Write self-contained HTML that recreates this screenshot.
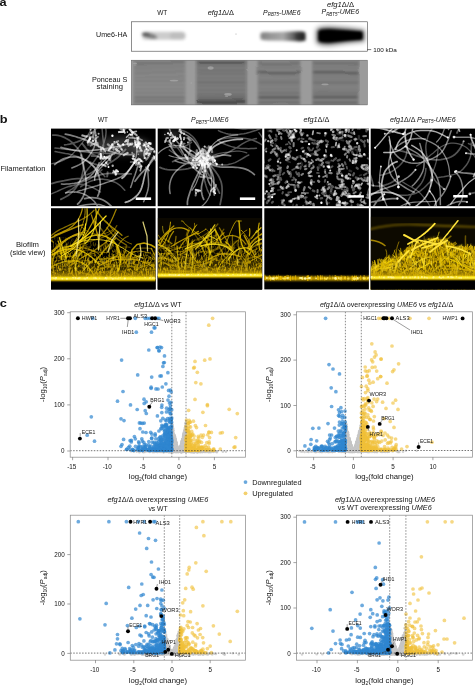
<!DOCTYPE html>
<html><head><meta charset="utf-8"><title>Figure</title>
<style>html,body{margin:0;padding:0;background:#fff;overflow:hidden}svg{display:block}text{font-family:"Liberation Sans",sans-serif;fill:#141414}</style></head>
<body>
<svg width="475" height="685" viewBox="0 0 475 685">
<rect width="475" height="685" fill="#fff"/>
<g id="panelA">
<defs>
<filter id="ab1" x="-30%" y="-80%" width="160%" height="260%"><feGaussianBlur stdDeviation="1.0"/></filter>
<filter id="ab2" x="-30%" y="-80%" width="160%" height="260%"><feGaussianBlur stdDeviation="1.8"/></filter>
<filter id="ab3" x="-30%" y="-80%" width="160%" height="260%"><feGaussianBlur stdDeviation="0.6"/></filter>
<filter id="ab4" x="-30%" y="-80%" width="160%" height="260%"><feGaussianBlur stdDeviation="2.6"/></filter>
<filter id="ab5" x="-30%" y="-80%" width="160%" height="260%"><feGaussianBlur stdDeviation="0.8"/></filter>
<filter id="ab6" x="-30%" y="-80%" width="160%" height="260%"><feGaussianBlur stdDeviation="1.4"/></filter>
<filter id="ab7" x="-10%" y="-150%" width="120%" height="400%"><feGaussianBlur stdDeviation="1.6 0.9"/></filter>
<filter id="abw" x="0" y="0" width="100%" height="100%"><feTurbulence type="fractalNoise" baseFrequency="0.02 0.035" numOctaves="1" seed="7" result="n"/><feDisplacementMap in="SourceGraphic" in2="n" scale="3.2" xChannelSelector="R" yChannelSelector="G"/></filter>
<clipPath id="clipBlot"><rect x="131.5" y="21.8" width="235.8" height="29.4"/></clipPath>
<clipPath id="clipPon"><rect x="131.3" y="60.2" width="236.0" height="44.7"/></clipPath>
</defs>
<rect x="131.5" y="21.8" width="235.8" height="29.4" fill="#fff"/>
<g clip-path="url(#clipBlot)">
<rect x="142" y="31.8" width="43.5" height="8" rx="3.5" fill="#000" fill-opacity="0.2" filter="url(#ab2)"/>
<ellipse cx="149.5" cy="35.6" rx="8" ry="2.3" transform="rotate(14 149.5 35.6)" fill="#000" fill-opacity="0.42" filter="url(#ab6)"/>
<ellipse cx="146" cy="34.4" rx="3.6" ry="1.8" fill="#000" fill-opacity="0.22" filter="url(#ab1)"/>
<rect x="170" y="32.2" width="15" height="7" rx="3" fill="#000" fill-opacity="0.07" filter="url(#ab2)"/>
<circle cx="236" cy="34" r="0.5" fill="#999" filter="url(#ab3)"/>
<linearGradient id="gb3" x1="0" y1="0" x2="1" y2="0"><stop offset="0" stop-color="#000" stop-opacity="0.5"/><stop offset="0.2" stop-color="#000" stop-opacity="0.42"/><stop offset="0.5" stop-color="#000" stop-opacity="0.34"/><stop offset="0.8" stop-color="#000" stop-opacity="0.7"/><stop offset="1" stop-color="#000" stop-opacity="0.85"/></linearGradient>
<path d="M260.5 33.4 Q262 31.8 270 32.2 L292 31.6 Q303 30.8 305.4 32.6 L305.6 40.6 Q303 42 292 41 L270 40.4 Q262 40.6 260.5 39Z" fill="url(#gb3)" filter="url(#ab2)"/>
<ellipse cx="300" cy="36.6" rx="5" ry="3.4" fill="#000" fill-opacity="0.25" filter="url(#ab6)"/>
<path d="M316 30 Q318 26.4 330 26.6 Q348 27.6 364.5 29.8 L364.8 41.6 Q348 43 332 45.2 Q318 46.2 316 42Z" fill="#000" fill-opacity="0.55" filter="url(#ab4)"/>
<path d="M318.2 31.2 Q320 28.6 330 29 Q348 30.2 362.6 31.6 L362.8 39.6 Q348 40.8 332 42.6 Q320 43.6 318.2 40.6Z" fill="#000" filter="url(#ab6)"/>
<path d="M320 32.6 Q330 31 348 32.2 L361 33.2 L361 38.2 Q348 39.2 332 40.4 Q322 41 320 39.4Z" fill="#000" filter="url(#ab1)"/>
</g>
<rect x="131.5" y="21.8" width="235.8" height="29.4" fill="none" stroke="#444" stroke-width="0.6"/>
<line x1="367.3" y1="49.6" x2="371.2" y2="49.6" stroke="#222" stroke-width="0.6"/>
<rect x="131.3" y="60.2" width="236.0" height="44.7" fill="#9b9b9b"/>
<g clip-path="url(#clipPon)"><g filter="url(#abw)">
<rect x="133.1" y="57.2" width="52.7" height="50.7" fill="#1c1c1c" fill-opacity="0.10" filter="url(#ab1)"/>
<rect x="196.0" y="57.2" width="50.8" height="50.7" fill="#1c1c1c" fill-opacity="0.23" filter="url(#ab1)"/>
<rect x="257.4" y="57.2" width="43.2" height="50.7" fill="#1c1c1c" fill-opacity="0.14" filter="url(#ab1)"/>
<rect x="312.0" y="57.2" width="47.8" height="50.7" fill="#1c1c1c" fill-opacity="0.15" filter="url(#ab1)"/>
<rect x="134.3" y="61.99" width="50.3" height="2.32" fill="#0a0a0a" fill-opacity="0.21" filter="url(#ab7)"/><rect x="134.3" y="66.12" width="50.3" height="1.89" fill="#0a0a0a" fill-opacity="0.13" filter="url(#ab7)"/><rect x="134.3" y="69.38" width="50.3" height="1.74" fill="#0a0a0a" fill-opacity="0.10" filter="url(#ab7)"/><rect x="134.3" y="71.96" width="50.3" height="2.03" fill="#0a0a0a" fill-opacity="0.10" filter="url(#ab7)"/><rect x="134.3" y="76.22" width="50.3" height="1.74" fill="#0a0a0a" fill-opacity="0.11" filter="url(#ab7)"/><rect x="134.3" y="79.75" width="50.3" height="2.03" fill="#0a0a0a" fill-opacity="0.10" filter="url(#ab7)"/><rect x="134.3" y="83.98" width="50.3" height="1.74" fill="#0a0a0a" fill-opacity="0.08" filter="url(#ab7)"/><rect x="134.3" y="88.17" width="50.3" height="1.74" fill="#0a0a0a" fill-opacity="0.09" filter="url(#ab7)"/><rect x="134.3" y="91.82" width="50.3" height="2.03" fill="#0a0a0a" fill-opacity="0.10" filter="url(#ab7)"/><rect x="134.3" y="96.14" width="50.3" height="2.61" fill="#0a0a0a" fill-opacity="0.17" filter="url(#ab7)"/><rect x="134.3" y="99.99" width="50.3" height="2.61" fill="#0a0a0a" fill-opacity="0.16" filter="url(#ab7)"/>
<rect x="197.2" y="61.28" width="48.4" height="2.61" fill="#0a0a0a" fill-opacity="0.31" filter="url(#ab7)"/><rect x="197.2" y="65.33" width="48.4" height="1.89" fill="#0a0a0a" fill-opacity="0.15" filter="url(#ab7)"/><rect x="197.2" y="69.21" width="48.4" height="2.03" fill="#0a0a0a" fill-opacity="0.15" filter="url(#ab7)"/><rect x="197.2" y="72.81" width="48.4" height="2.03" fill="#0a0a0a" fill-opacity="0.14" filter="url(#ab7)"/><rect x="197.2" y="77.35" width="48.4" height="1.74" fill="#0a0a0a" fill-opacity="0.12" filter="url(#ab7)"/><rect x="197.2" y="81.12" width="48.4" height="2.32" fill="#0a0a0a" fill-opacity="0.17" filter="url(#ab7)"/><rect x="197.2" y="85.24" width="48.4" height="1.74" fill="#0a0a0a" fill-opacity="0.11" filter="url(#ab7)"/><rect x="197.2" y="89.25" width="48.4" height="2.03" fill="#0a0a0a" fill-opacity="0.13" filter="url(#ab7)"/><rect x="197.2" y="93.26" width="48.4" height="2.03" fill="#0a0a0a" fill-opacity="0.17" filter="url(#ab7)"/><rect x="197.2" y="96.22" width="48.4" height="2.32" fill="#0a0a0a" fill-opacity="0.24" filter="url(#ab7)"/><rect x="197.2" y="99.51" width="48.4" height="3.77" fill="#0a0a0a" fill-opacity="0.38" filter="url(#ab7)"/>
<rect x="258.6" y="62.08" width="40.8" height="2.32" fill="#0a0a0a" fill-opacity="0.19" filter="url(#ab7)"/><rect x="258.6" y="66.19" width="40.8" height="1.74" fill="#0a0a0a" fill-opacity="0.10" filter="url(#ab7)"/><rect x="258.6" y="70.66" width="40.8" height="2.90" fill="#0a0a0a" fill-opacity="0.28" filter="url(#ab7)"/><rect x="258.6" y="75.02" width="40.8" height="1.74" fill="#0a0a0a" fill-opacity="0.08" filter="url(#ab7)"/><rect x="258.6" y="78.62" width="40.8" height="1.74" fill="#0a0a0a" fill-opacity="0.09" filter="url(#ab7)"/><rect x="258.6" y="81.33" width="40.8" height="2.32" fill="#0a0a0a" fill-opacity="0.15" filter="url(#ab7)"/><rect x="258.6" y="84.86" width="40.8" height="1.74" fill="#0a0a0a" fill-opacity="0.08" filter="url(#ab7)"/><rect x="258.6" y="88.34" width="40.8" height="1.74" fill="#0a0a0a" fill-opacity="0.10" filter="url(#ab7)"/><rect x="258.6" y="91.92" width="40.8" height="2.17" fill="#0a0a0a" fill-opacity="0.17" filter="url(#ab7)"/><rect x="258.6" y="95.78" width="40.8" height="3.19" fill="#0a0a0a" fill-opacity="0.28" filter="url(#ab7)"/><rect x="258.6" y="101.04" width="40.8" height="2.61" fill="#0a0a0a" fill-opacity="0.19" filter="url(#ab7)"/>
<rect x="313.2" y="62.07" width="45.4" height="2.32" fill="#0a0a0a" fill-opacity="0.18" filter="url(#ab7)"/><rect x="313.2" y="66.40" width="45.4" height="1.74" fill="#0a0a0a" fill-opacity="0.10" filter="url(#ab7)"/><rect x="313.2" y="70.70" width="45.4" height="2.90" fill="#0a0a0a" fill-opacity="0.29" filter="url(#ab7)"/><rect x="313.2" y="75.40" width="45.4" height="1.74" fill="#0a0a0a" fill-opacity="0.10" filter="url(#ab7)"/><rect x="313.2" y="78.54" width="45.4" height="1.74" fill="#0a0a0a" fill-opacity="0.08" filter="url(#ab7)"/><rect x="313.2" y="81.51" width="45.4" height="2.32" fill="#0a0a0a" fill-opacity="0.16" filter="url(#ab7)"/><rect x="313.2" y="85.28" width="45.4" height="1.74" fill="#0a0a0a" fill-opacity="0.06" filter="url(#ab7)"/><rect x="313.2" y="88.85" width="45.4" height="1.74" fill="#0a0a0a" fill-opacity="0.09" filter="url(#ab7)"/><rect x="313.2" y="91.98" width="45.4" height="2.17" fill="#0a0a0a" fill-opacity="0.14" filter="url(#ab7)"/><rect x="313.2" y="95.51" width="45.4" height="3.19" fill="#0a0a0a" fill-opacity="0.28" filter="url(#ab7)"/><rect x="313.2" y="101.25" width="45.4" height="2.61" fill="#0a0a0a" fill-opacity="0.21" filter="url(#ab7)"/>
<ellipse cx="174.0" cy="80.6" rx="4.2" ry="0.9" fill="#a9a9a9" fill-opacity="0.75" filter="url(#ab3)"/><ellipse cx="210.6" cy="68.0" rx="3.0" ry="1.7" fill="#a9a9a9" fill-opacity="0.75" filter="url(#ab3)"/><ellipse cx="228.0" cy="94.4" rx="3.8" ry="1.4" fill="#a9a9a9" fill-opacity="0.75" filter="url(#ab3)"/><ellipse cx="325.0" cy="84.4" rx="3.6" ry="0.8" fill="#a9a9a9" fill-opacity="0.75" filter="url(#ab3)"/><ellipse cx="191.2" cy="83.0" rx="0.8" ry="0.8" fill="#a9a9a9" fill-opacity="0.75" filter="url(#ab3)"/><ellipse cx="135.0" cy="63.5" rx="2.0" ry="1.0" fill="#a9a9a9" fill-opacity="0.75" filter="url(#ab3)"/>
</g></g>
<rect x="131.3" y="60.2" width="236.0" height="44.7" fill="none" stroke="#5a5a5a" stroke-width="0.5"/>
</g>
<g id="panelB">
<defs>
<clipPath id="cf0"><rect x="51.0" y="128.6" width="104.6" height="77.6"/></clipPath><clipPath id="cb0"><rect x="51.0" y="208.2" width="104.6" height="81.2"/></clipPath>
<clipPath id="cf1"><rect x="157.7" y="128.6" width="104.5" height="77.6"/></clipPath><clipPath id="cb1"><rect x="157.7" y="208.2" width="104.5" height="81.2"/></clipPath>
<clipPath id="cf2"><rect x="264.3" y="128.6" width="104.6" height="77.6"/></clipPath><clipPath id="cb2"><rect x="264.3" y="208.2" width="104.6" height="81.2"/></clipPath>
<clipPath id="cf3"><rect x="370.7" y="128.6" width="104.3" height="77.6"/></clipPath><clipPath id="cb3"><rect x="370.7" y="208.2" width="104.3" height="81.2"/></clipPath>
<filter id="fb1" x="-20%" y="-20%" width="140%" height="140%"><feGaussianBlur stdDeviation="0.45"/></filter>
<filter id="fb2" x="-20%" y="-20%" width="140%" height="140%"><feGaussianBlur stdDeviation="0.80"/></filter>
<filter id="fb3" x="-20%" y="-20%" width="140%" height="140%"><feGaussianBlur stdDeviation="1.80"/></filter>
<filter id="fb4" x="-20%" y="-20%" width="140%" height="140%"><feGaussianBlur stdDeviation="3.50"/></filter>
<filter id="fb5" x="-20%" y="-20%" width="140%" height="140%"><feGaussianBlur stdDeviation="0.60"/></filter>
<filter id="fb6" x="-20%" y="-20%" width="140%" height="140%"><feGaussianBlur stdDeviation="0.70"/></filter>
<filter id="fbh" x="-5%" y="-200%" width="110%" height="500%"><feGaussianBlur stdDeviation="0.5 0.9"/></filter>
<linearGradient id="gband" x1="0" y1="0" x2="0" y2="1"><stop offset="0" stop-color="#b89400" stop-opacity="0"/><stop offset="0.5" stop-color="#c8a200" stop-opacity="0.75"/><stop offset="0.62" stop-color="#ffe81a"/><stop offset="0.72" stop-color="#fff04a"/><stop offset="0.8" stop-color="#e0bc00"/><stop offset="0.9" stop-color="#4a3c00" stop-opacity="0.9"/><stop offset="1" stop-color="#1a1400" stop-opacity="0"/></linearGradient>
<filter id="spk" x="0" y="0" width="100%" height="100%" color-interpolation-filters="sRGB"><feTurbulence type="fractalNoise" baseFrequency="0.75 0.28" numOctaves="2" seed="3" result="n"/><feColorMatrix in="n" type="matrix" values="0 0 0 0 0.84  0 0 0 0 0.68  0 0 0 0 0  0 0 0 4.2 -1.9" result="c"/><feComposite in="c" in2="SourceGraphic" operator="in"/></filter>
<linearGradient id="genv" x1="0" y1="0" x2="0" y2="1"><stop offset="0" stop-color="#fff" stop-opacity="0.15"/><stop offset="0.55" stop-color="#fff" stop-opacity="0.7"/><stop offset="1" stop-color="#fff" stop-opacity="1"/></linearGradient>
</defs>
<rect x="51.0" y="128.6" width="104.6" height="77.6" fill="#000"/>
<g clip-path="url(#cf0)">
<g fill="#fff" fill-opacity="0.2" filter="url(#fb4)"><ellipse cx="122" cy="146" rx="27" ry="9"/><ellipse cx="143" cy="151" rx="8" ry="9"/><ellipse cx="94" cy="141" rx="5" ry="5"/></g>
<g fill="none" stroke-linecap="round" stroke-linejoin="round" filter="url(#fb6)">
<path d="M51.7 183.6l2.5-.8 2.5-.7 2.5-.5 2.6-.5 2.5-.4 2.6-.6 2.5-.5 2.6-.4 2.6-.3 2.6-.3 2.6-.1 2.6-.1 2.6-.2 2.5-.3 2.6-.4 2.5-.6 2.6-.6 2.5-.7 2.5-.7 2.5-.7 2.5-.4 2.6-.3 2.6-.1 2.6 .1 2.6 .1 2.6 .2 2.6 0 2.6 0 2.6 .1 2.6 0 2.6 0M60.8 199.4l2.3-1.2 2.3-1.2 2.3-1.3 2.1-1.5 1.9-1.7 1.9-1.9 1.7-1.9 1.5-2.1 1.4-2.2 1.2-2.3 1.1-2.4 .9-2.4 .8-2.5 .5-2.5 .5-2.6 .3-2.6 0-2.6 -.1-2.6 -.4-2.6 -.7-2.5 -.9-2.4 -1.2-2.3 -1.4-2.2 -1.6-2 -1.8-1.9 -1.8-1.9 -1.8-1.9 -2-1.6 -2.2-1.4 -2.3-1.3 -2.4-1 -2.4-.9 -2.6-.6 -2.5-.3 -2.6 0M64.6 144.8l2.6-.3 2.5-.4 2.6-.7 2.5-.7 2.4-.8 2.4-1 2.3-1.2 2.3-1.3 2.2-1.4 2.1-1.5 2.1-1.6 1.9-1.7 1.9-1.8 1.8-1.9 1.7-1.9 1.6-2.1 1.5-2.1 1.3-2.3 1.2-2.3 1-2.4 .9-2.4 .7-2.5 .7-2.5 .4-2.6 .3-2.6 .1-2.6M125.6 149.4l-1.7 1.9 -1.9 1.8 -1.8 1.9 -1.8 1.8 -2 1.7 -2.1 1.5 -2.2 1.4 -2.2 1.4 -2.4 1.1 -2.5 .8 -2.5 .4 -2.6 .1 -2.6-.3 -2.5-.7 -2.4-1 -2.3-1.2M132.8 136.9l-.8-2 -.6-2.1M127.6 126.7l-1.5 1.7 -1.7 1.4" stroke="#fff" stroke-width="1.75" stroke-opacity="0.33"/>
<path d="M50.7 164l2.5-.6 2.5-.6 2.5-.7 2.5-.8 2.4-.9 2.4-1.1 2.3-1.3 2.1-1.5 1.9-1.8 1.8-1.8 1.7-2 1.8-1.9 1.7-1.9 1.6-2.1 1.7-2 1.5-2.1 1.5-2.1 1.6-2.1 1.4-2.1 1.4-2.2 1.2-2.3 1.1-2.4 1.2-2.3 1.3-2.3 1.3-2.2 1.1-2.4" stroke="#fff" stroke-width="1.25" stroke-opacity="0.33"/>
<path d="M87.1 174.8l2.3-1 2.3-1.3 2.1-1.6 1.9-1.7 1.8-1.9 1.5-2.1 1.4-2.2 1.1-2.4 .8-2.5 .6-2.5 .4-2.6 .1-2.6 .1-2.6 .1-2.6 -.1-2.6 -.3-2.5 -.3-2.6 -.3-2.6 -.2-2.6 -.2-2.6 -.2-2.6 -.4-2.6 -.3-2.5 -.4-2.6 -.5-2.6 -.6-2.5 -.8-2.5 -1-2.4 -1.2-2.3 -1.3-2.2 -1.5-2.1 -1.5-2.2M80.6 186.8l2.2-1.4 2.2-1.4 2.2-1.2 2.4-1.2 2.4-.9 2.5-.7 2.6-.5 2.5-.3 2.6-.1 2.6 .3 2.6 .4 2.5 .6 2.5 .8 2.4 1 2.3 1.2 2.2 1.5 2 1.6 1.8 1.9 1.7 1.9M47 195.2l2.4-.8 2.5-.8 2.4-1 2.4-1 2.4-1.1 2.3-1.1 2.4-1 2.4-1 2.5-.9 2.5-.7 2.5-.6 2.5-.5 2.6-.3 2.6-.1 2.6 .3 2.6 .5 2.4 .8 2.4 1 2.4 1.1 2.3 1.3 2.2 1.3 2.1 1.4M65.6 192.8l2.3-1.3 2.2-1.3 2.2-1.4 2.1-1.6 1.9-1.7 1.7-2 1.6-2.1 1.4-2.1 1.4-2.2 1.5-2.2 1.4-2.2 1.5-2.1 1.5-2.1 1.7-2 1.6-2 1.7-2 1.5-2.1 1.5-2.1 1.4-2.2 1.3-2.3 1.2-2.3 1.2-2.3 1-2.4 .9-2.4 .9-2.5 .7-2.5 .7-2.5 .3-2.6 .2-2.6 -.2-2.6 -.4-2.5 -.6-2.5 -.9-2.5 -1.2-2.3M55.1 151.6l2.6 .5 2.5 .4 2.6 .4 2.6 .5 2.5 .4 2.6 .6 2.5 .7 2.5 .8 2.4 .8 2.4 1 2.4 1.1 2.3 1.3 2.2 1.3 2.1 1.5 2.1 1.6 2 1.6 2 1.7 2 1.7 1.9 1.7 1.9 1.8 1.9 1.8 1.8 1.8M55 148.1l2.6 .2 2.6 .3 2.6 .3 2.6 .3 2.6 .3 2.5 .3 2.6 .4 2.6 .4 2.5 .4 2.6 .4 2.6 .4 2.6 .3 2.6 .3 2.5 .2 2.6 .1 2.6 .1 2.6 .1 2.6 .2 2.6 .1 2.6 .2 2.6 .2 2.6 .2 2.6 .2M102 169.8l-1.9 1.7 -2 1.7 -2 1.6 -2.1 1.6 -2.2 1.3 -2.3 1.3 -2.4 1 -2.4 1 -2.5 .9 -2.4 1 -2.4 .9 -2.4 .9 -2.5 .9 -2.4 1" stroke="#fff" stroke-width="1.50" stroke-opacity="0.33"/>
<path d="M117.3 150.5l-1.8 1.9 -2.1 1.5 -2.3 1.3 -2.4 1 -2.5 .7 -2.6 .3 -2.6 0 -2.5-.4 -2.5-.8 -2.4-1.1 -2.2-1.4 -2-1.6 -1.9-1.8 -1.7-1.9 -1.6-2.1 -1.6-2M91.6 156l2.2 .1 2.1-.3M91.4 143.7l-1.6-1.6 -1.7-1.3M91.4 142.1l-1.8 1.3 -1.5 1.5M142 151.1l-2.2 .1 -2.2 .3M154.3 152.4l2.2-.3 2.2 0M135.1 161.2l-2.1 .7 -2.2 .2M107.6 172.3l-.1 2.2 -.4 2.1" stroke="#fff" stroke-width="2.00" stroke-opacity="0.33"/>
<path d="M116.3 149.3l1.8-1.2 1.6-1.5M117.5 147.2l2-.8 2-1.1M151.2 151.5l-1.9 1.1 -2.1 .7" stroke="#fff" stroke-width="2.25" stroke-opacity="0.33"/>
<path d="M65.6 192.9l2.6-.6 2.5-.3 2.6-.1 2.6 .1 2.6 .4 2.5 .7 2.5 .8 2.3 1.1 2.3 1.3 2.1 1.5 2 1.7 1.9 1.8 1.6 2 1.4 2.2 1.2 2.3 .9 2.5 .7 2.5 .5 2.5 .2 2.6 -.1 2.6 -.3 2.6M71.8 168l2.4-1 2.4-1 2.3-1.1 2.3-1.3 2.1-1.5 2-1.7 1.8-1.8 1.7-2.1 1.4-2.1 1.4-2.2 1.3-2.3 1.1-2.3 .9-2.5 .6-2.5 .4-2.6 0-2.6 -.1-2.6 -.3-2.5 -.7-2.6 -.8-2.4 -.9-2.5 -1.1-2.3 -1.2-2.4 -1.2-2.3 -1.2-2.3 -1.3-2.2 -1.2-2.3 -1.4-2.2 -1.3-2.3 -1.2-2.2 -1.3-2.3 -1.3-2.2 -1.5-2.2 -1.7-2M74.6 192.3l2.5-.7 2.4-.8 2.5-.7 2.5-.8 2.5-.7 2.5-.7 2.5-.7 2.5-.8 2.5-.7 2.5-.8 2.5-.8 2.4-.8 2.5-.9 2.4-.8 2.5-.9 2.4-.9 2.5-.9 2.3-1.1 2.3-1.2 2.2-1.5 2-1.6 1.9-1.8 1.8-1.9 1.6-2 1.5-2.1 1.3-2.3 1.1-2.3 .9-2.5 .6-2.5 .4-2.6 .2-2.6 .1-2.6 -.2-2.6M73.3 207.9l2.5-.8 2.5-.7 2.5-.7 2.5-.5 2.6-.4 2.6-.4 2.6-.2 2.6-.1 2.6 .1 2.6 .3 2.5 .6 2.5 .8 2.3 1.1 2.3 1.3 2.1 1.5 1.9 1.7 1.8 1.9 1.7 2 1.7 2 1.6 2.1 1.5 2 1.6 2.1 1.7 2 1.8 1.8 2 1.7M99.1 162.7l-.9 2.4 -1.2 2.3 -1.3 2.3 -1.5 2.1 -1.6 2 -1.9 1.8 -2.1 1.6 -2.2 1.4 -2.3 1.2 -2.3 1.1 -2.4 1 -2.5 .8 -2.5 .5 -2.6 .4 -2.6 .3 -2.6 .1 -2.6 .2 -2.6-.2M152.1 159.3l-1.5 2.1 -1.2 2.3 -.9 2.5 -.5 2.5 -.1 2.6 .1 2.6 .2 2.6 .2 2.6 .1 2.6 .1 2.6 -.2 2.6 -.4 2.6 -.7 2.5 -.8 2.5 -.8 2.4 -1 2.4 -1.1 2.4M112.1 154.5l-1.2 2.3 -1.5 2.1 -1.7 2 -1.8 1.9 -1.8 1.8 -1.9 1.8 -1.8 1.8 -1.7 2 -1.5 2.2 -1.4 2.1M138.7 162.7l-.7 2.5 -.8 2.5 -.7 2.5 -.8 2.5 -.8 2.5 -.9 2.4 -.9 2.4 -.8 2.5 -.8 2.5 -.9 2.4M97.6 142.5l.6 2.1 .6 2.1M119.5 145.4l-1.6-1.5 -1.1-1.9" stroke="#fff" stroke-width="1.50" stroke-opacity="0.50"/>
<path d="M77.6 204.2l1.8-1.9 1.6-2.1 1.4-2.1 1.2-2.4 .9-2.4 .7-2.5 .5-2.6 .3-2.5 .1-2.6 -.1-2.6 -.2-2.6 -.4-2.6 -.5-2.6 -.5-2.5 -.6-2.5 -.6-2.6 -.6-2.5 -.6-2.5 -.5-2.6 -.5-2.5M54.7 164.5l2.1-1.6 2.1-1.5 2.2-1.4 2.3-1.1 2.5-.9 2.5-.6 2.6-.4 2.6-.2 2.6 .2 2.5 .4 2.5 .7 2.5 1 2.3 1.1 2.2 1.4 2 1.6 1.9 1.8 1.8 1.9 1.6 2.1 1.4 2.2 1.1 2.3 .9 2.4 .7 2.6 .5 2.5 .2 2.6 0 2.6 -.3 2.6 -.6 2.5 -.7 2.5 -1 2.4M84.7 198.7l2.5-.6 2.6-.4 2.6-.1 2.6 .2 2.6 .4 2.5 .7 2.4 .9 2.3 1.2 2.2 1.4 2 1.7 1.9 1.8 1.6 2 1.5 2.2 1.3 2.2 1 2.4 1 2.4 .9 2.5 .8 2.4 .8 2.5 .9 2.5 .9 2.4 1.1 2.4 1.2 2.2 1.5 2.2 1.7 1.9 1.9 1.8 2.1 1.6 2.1 1.4 2.3 1.2 2.4 1.1 2.5 .9 2.4 .8 2.5 .7 2.6 .6M65.3 134.1l2.5 .5 2.5 .6 2.5 .6 2.6 .7 2.4 .8 2.5 .7 2.5 .9 2.4 1 2.4 1 2.3 1.1 2.4 1.2 2.3 1.2 2.3 1.1 2.3 1.2 2.3 1.2 2.4 1 2.4 1.1 2.4 .9 2.5 .8 2.5 .7 2.5 .7 2.5 .5 2.6 .5 2.6 .3 2.6 .2 2.6 .1 2.6-.1 2.6-.3M61 147.4l2.5 .6 2.6 .6 2.5 .6 2.6 .5 2.5 .4 2.6 .4 2.6 .2 2.6 .1 2.6 0 2.6-.1 2.6-.1 2.6-.2 2.6-.3 2.6-.3 2.5-.3 2.6-.4 2.6-.3 2.5-.5 2.6-.4 2.6-.4 2.5-.5 2.6-.5 2.5-.6 2.5-.6 2.6-.6 2.5-.7 2.5-.6M158 153.2l-1.7 2 -1.5 2.1 -1.6 2.1 -1.5 2.1 -1.5 2.1 -1.7 2 -1.7 2 -1.7 1.9 -1.9 1.8 -1.8 1.9 -1.7 1.9 -1.7 2.1 -1.5 2.1 -1.5 2M94.8 139.7l1.5-1.6 1.7-1.4M132.2 152.7l.7 2.1 .5 2.2M135.4 142.3l2.2-.2 2.1-.4M138.4 138l1.8 1.2 2 1M145.9 167.3l1.6 1.6 1.5 1.6M132.4 158.3l2.1 .8 1.9 1.1" stroke="#fff" stroke-width="1.75" stroke-opacity="0.50"/>
<path d="M93.8 137.9l-2.1-.7 -2.2-.5M90.5 145.6l2-.9 1.9-1.2M101.5 151.3l-.5-2.2 -.4-2.1M120.1 146.6l.9 2 1.4 1.7M112.7 144.6l1.6-1.5 1.9-1.1 2-.9M129.2 137.7l2.2 0 2.2 .2M144 143.7l1.3 1.8 .7 2M135.3 142.4l.6 2.2 .9 1.9M137.8 144.1l-1.7 1.3 -2 1M146.2 159.7l1.4-1.7 1.2-1.8 .8-2.1" stroke="#fff" stroke-width="2.00" stroke-opacity="0.50"/>
<path d="M93.2 136.4l.4-2.1 .7-2.1M113.6 149.6l0-2.2 -.7-2.1M111.1 147.4l-1.5-1.6 -1.7-1.4M148.9 150l2.1-.6 2.2-.3M152.7 158.1l2-.9 2-.9M141.2 160.5l-1.7 1.4 -1.7 1.4 -1.7 1.4M124.1 130.6l-2-1 -1.9-1.1" stroke="#fff" stroke-width="2.25" stroke-opacity="0.50"/>
<path d="M110.1 160.3l-.1-2.2 -.4-2.2" stroke="#fff" stroke-width="2.50" stroke-opacity="0.50"/>
<path d="M138.5 158.4l-1.7 1.9 -1.8 2 -1.7 1.9 -1.6 2.1 -1.4 2.1 -1.5 2.1 -1.5 2.2 -1.6 2.1 -1.7 1.9 -2 1.6M148.8 165l-1.3 2.3 -1 2.3 -.9 2.5 -.7 2.5 -.6 2.5 -.6 2.5 -.5 2.6 -.7 2.5 -.7 2.5 -.9 2.4 -1.2 2.4 -1.5 2.1 -1.7 1.9 -2 1.7 -2.1 1.6 -2.2 1.3 -2.4 1 -2.5 .7M97.1 144.9l-.9-2.1 -.3-2.1M105.3 151.5l-1.2-1.9 -1.4-1.6M138.6 144.7l-.2-2.2 -.3-2.1M135.3 144.8l-.2-2.2 -.2-2.2M132.1 132.5l2.1-.7 2.1-.5M138.7 137l-.8 2.1 -.9 2M150.1 153.7l-2.2-.2 -2.2 0M136.4 162.7l-1.4-1.8 -1-1.9M141.1 166.4l-.2 2.2 -.6 2.1M142.6 161.7l-1.8-1.3 -1.7-1.5M115.9 174.3l-1-1.9 -1.4-1.8" stroke="#fff" stroke-width="1.75" stroke-opacity="0.67"/>
<path d="M109 156.6l-2 1.7 -1.9 1.8 -1.8 1.8 -1.8 1.9 -1.7 2 -1.5 2.1 -1.2 2.3 -1.1 2.4 -.8 2.5 -.4 2.5 -.1 2.6" stroke="#fff" stroke-width="1.25" stroke-opacity="0.67"/>
<path d="M86.7 136.3l-2.1-.3 -2.2-.5M100.5 158.6l.3-2.2 -.1-2.2M123.8 155.1l1.8-1.2 2-1M119.4 151.7l-1.9-1.1 -1.6-1.5M132.3 143.6l-2 .8 -1.8 1.3M139.5 143l-1.2 1.8 -1.2 1.9M141.3 150.4l-1-2 -.6-2.1M138.8 162.7l1.2 1.9 1.4 1.7" stroke="#fff" stroke-width="2.25" stroke-opacity="0.67"/>
<path d="M101.8 164.3l2 .8 1.9 1.1M133 133l2 .9 1.8 1.3M148.1 150.2l-1.1 1.9 -.8 2.1M153.8 156.2l1.1 1.9 .8 2.1M147.7 146.3l1.6 1.6 1.9 1.1M148.9 146.9l1.9 1 1.8 1.4M150.6 143.1l-2.1 .6 -2.1 .6M144.3 156.1l0-2.2 .3-2.2M140.1 159.2l-2.1 .7 -1.8 1.2M113 172.4l2.1-.7 2-1M128.3 139.8l-.5 2.1 -.3 2.2" stroke="#fff" stroke-width="2.00" stroke-opacity="0.67"/>
<path d="M116.3 170.3l-.1 2.2 -.4 2.1" stroke="#fff" stroke-width="2.50" stroke-opacity="0.67"/>
<path d="M129.6 134.1l-1.5 1.6 -1.6 1.5" stroke="#fff" stroke-width="1.50" stroke-opacity="0.67"/>
<path d="M90.2 139l-1.4 1.7 -1.1 1.9M100.7 154l.4 2.2 -.4 2.1M112.1 144.3l-.7 2.1 -1.1 1.9 -1.4 1.6" stroke="#fff" stroke-width="2.00" stroke-opacity="0.83"/>
<path d="M107.2 157.4l-2.1 .7 -2.1 .5M138.2 143.2l-.4 2.1 -.7 2.1M132.7 132.5l-1.5-1.6 -1.5-1.6M123.3 131.8l-2.2 0 -2.1 .2" stroke="#fff" stroke-width="2.25" stroke-opacity="0.83"/>
<path d="M124.9 132.8l-1-2 -.4-2.1 .2-2.2" stroke="#fff" stroke-width="1.75" stroke-opacity="0.83"/>
</g>
<g fill="none" stroke-linecap="round" filter="url(#fb6)">
<path d="M90.1 138h0M145 150.4h0" stroke="#fff" stroke-width="2.40" stroke-opacity="0.50"/>
<path d="M107.9 164.8h0M131.8 144.8h0M149.4 154.3h0" stroke="#fff" stroke-width="2.00" stroke-opacity="0.50"/>
<path d="M138.4 154.3h0" stroke="#fff" stroke-width="1.60" stroke-opacity="0.50"/>
<path d="M90.5 129.8h0M98.6 133.8h0M108.8 158.4h0M121.6 149.2h0M125 141.7h0M139.8 148h0M145.7 146.4h0M139.4 167h0M135 138.2h0" stroke="#fff" stroke-width="2.00" stroke-opacity="0.67"/>
<path d="M96 135.4h0M98.1 156.8h0M130.4 144.6h0M127 139.5h0" stroke="#fff" stroke-width="1.60" stroke-opacity="0.67"/>
<path d="M91.3 132.8h0M118.4 144.6h0M138.4 146.1h0M137.4 139h0M145.8 142.6h0M112.7 165.7h0" stroke="#fff" stroke-width="2.40" stroke-opacity="0.67"/>
<path d="M93 140.8h0M89.7 138.4h0M106.2 162.8h0M126.2 140.7h0M137.3 137.8h0M139.9 143.7h0M154.4 151.4h0M150.4 143.9h0M133.6 156.3h0M144.8 157.9h0M131.9 134.6h0" stroke="#fff" stroke-width="2.40" stroke-opacity="0.83"/>
<path d="M89.3 139.7h0M143.5 145.5h0M141.1 161.2h0M132.8 158.7h0" stroke="#fff" stroke-width="2.00" stroke-opacity="0.83"/>
<path d="M117.8 144.4h0M114.3 141.8h0M148.2 155.3h0M127.4 132.1h0" stroke="#fff" stroke-width="1.60" stroke-opacity="0.83"/>
<path d="M104.4 156.8h0M149.1 142.9h0M148.4 145.8h0M144.6 144.9h0M118 171.4h0M108.5 167.1h0M130.5 134.7h0" stroke="#fff" stroke-width="2.00" stroke-opacity="1.00"/>
<path d="M123.2 144.5h0M135.9 144.6h0M146.6 149.3h0M134.4 162.7h0M112.4 135.8h0" stroke="#fff" stroke-width="2.40" stroke-opacity="1.00"/>
</g>
<rect x="135.7" y="197.4" width="15.4" height="2.6" fill="#fff"/>
</g>
<rect x="51.0" y="208.2" width="104.6" height="81.2" fill="#000"/>
<g clip-path="url(#cb0)">
<rect x="47.0" y="262" width="112.6" height="20" fill="#5c4a00" fill-opacity="0.5" filter="url(#fb3)"/>
<path d="M51.0 280V236Q85 238 112 247T155.6 250V280Z" fill="url(#genv)" filter="url(#spk)"/>
<g fill="none" stroke-linecap="round" stroke-linejoin="round" filter="url(#fb5)">
<path d="M102.4 252.8l.7-2.5 .6-2.5 .7-2.5 .8-2.5 .8-2.4M104.3 268.1l1.5-2.1 1.7-2 1.8-1.9 1.8-1.8M130.5 273l2.3-1.1 2.3-1.2 2.2-1.4 2.2-1.5 2.1-1.5 2-1.6 2-1.7 1.9-1.8M119.4 270.8l2.6 .5 2.5 .7 2.4 1 2.2 1.2 2.1 1.6M134.4 269.5l2.6-.1 2.6-.1 2.6 .1 2.5 .3 2.6 .4 2.5 .7M100.6 267.7l2.6-.1 2.6-.4 2.6-.4 2.6-.4 2.5-.4 2.6-.5" stroke="#b89600" stroke-width="1.25" stroke-opacity="0.33"/>
<path d="M62.5 266.5l2.4-.9 2.5-.7 2.6-.5 2.5-.4 2.6-.3 2.6-.2 2.6-.2 2.6-.1M100.6 272.8l2.6-.6 2.5-.6 2.5-.7 2.5-.8 2.4-.8 2.5-.8M144.6 268.7l2.5 .6 2.5 .7 2.5 .9 2.4 1M58.2 260l2.5 .8 2.4 1 2.2 1.3 2 1.6 1.8 2 1.5 2.1 1.2 2.3M123.7 264.9l2.5-.8 2.5-.5 2.6-.2 2.6 .3 2.5 .8 2.3 1.1 2.2 1.5" stroke="#b89600" stroke-width="1.00" stroke-opacity="0.33"/>
<path d="M74.6 254l2.4-1 2.4-.8 2.5-.8 2.6-.6 2.5-.3 2.6-.2 2.6 0M143.4 261.6l2.6 .3 2.5 .3 2.6 .5 2.5 .5" stroke="#b89600" stroke-width="1.50" stroke-opacity="0.33"/>
<path d="M69.7 262.2l.2-2.4 -.1-2.4 -.3-2.4 -.6-2.3" stroke="#e0ba00" stroke-width="1.00" stroke-opacity="0.33"/>
<path d="M50 255.2l2.4-1 2.3-1.3 2.2-1.5 1.9-1.7 1.5-2.1 1.2-2.3 .9-2.5M153.9 268.6l2.5 .8 2.5 .6 2.6 .3M122.9 260.5l.5-2.6 .6-2.5 .6-2.5 .7-2.6 .7-2.5 .7-2.4M116.2 259.5l2.6 .1 2.6-.2 2.6-.5 2.4-.9 2.3-1.2 2.2-1.5 1.9-1.7M96 274l2.5-.8 2.5-.7 2.5-.6M122.8 272.8l1.8-1.9 1.7-2 1.5-2.1M114.6 267l2.2 1.2 2.3 1.3" stroke="#b89600" stroke-width="1.50" stroke-opacity="0.50"/>
<path d="M77 271.6l2.6 .5 2.5 .6 2.5 .7 2.5 .8 2.4 1 2.4 1.1 2.3 1.2M88.4 248.9l2.4 1 2.4 1 2.5 .7 2.6 .6 2.5 .3 2.6 .2 2.6-.2 2.6-.4M136.4 248.9l2.6-.5 2.5-.3 2.6-.1 2.6 .1 2.6 .3 2.6 .4M117.5 265.8l2.4-1 2.3-1.2 2.2-1.4M72 262.9l.8-2.5 .9-2.4 1.1-2.4 1.1-2.3 1.2-2.4M53.2 255.1l2.4-.8 2.5-.8 2.5-.8 2.5-.7M57.9 251.6l2.4-1.1 2.4-1 2.4-1.1 2.3-1.1 2.3-1.3 2.2-1.3M62.5 257.5l2.5-.6 2.6-.3 2.6-.1 2.6 .3 2.5 .5 2.5 .8 2.4 .9M77.6 247.1l2.6-.1 2.6 .1 2.6 .2" stroke="#b89600" stroke-width="1.25" stroke-opacity="0.50"/>
<path d="M119.7 247.8l2.5-.6 2.6-.2 2.6 0 2.6 .3M57.9 260.7l2.5-.9 2.3-1.1 2.3-1.3 2.2-1.4 2-1.6 2.1-1.6 1.9-1.7 2-1.7M48.4 268.1l2.5-1 2.4-.8M109.1 267.1l2.5-.8 2.5-.8 2.4-.8M60.9 267.1l2.4-1 2.3-1.2 2.3-1.2 2.2-1.4M102 259.9l2.5-.8 2.5-.9 2.4-1 2.3-1.1 2.3-1.2 2.3-1.3 2.3-1.2M74.6 268.3l2.4-1.1 2.3-1.1 2.3-1.3 2.1-1.5 2-1.7 1.9-1.7M54.4 250.2l2.4 1 2.4 .9 2.4 .9 2.5 .9 2.4 .9M121 266.5l2.6-.4 2.6-.1 2.6 .1 2.5 .5 2.5 .8 2.4 1M129.9 256.6l2.6 .6 2.5 .6 2.5 .7M56.7 267.8l2.6 .6 2.5 .5 2.6 .2 2.6 0 2.6-.4 2.5-.6M50.4 259.6l2.4-.9 2.4-.9 2.5-.9 2.5-.8 2.5-.6M72.8 260.8l2.6 0 2.6 0 2.6 0 2.6-.2 2.6-.2 2.6-.1" stroke="#b89600" stroke-width="1.00" stroke-opacity="0.50"/>
<path d="M125.1 261l-1.4-2 -1.6-1.8 -1.8-1.6M83.2 264.4l1.1-2.1 .9-2.3 .8-2.2 .5-2.4M153.6 259.7l-1.9-1.5 -2.1-1.3 -2-1.2 -2.2-1M117.5 275.1l0-2.4 0-2.3 -.2-2.4 -.2-2.4 -.5-2.4 -.6-2.3 -.9-2.2 -.9-2.3 -1-2.1M84.2 243.9l.8-2.3 .5-2.3 .5-2.4" stroke="#fade1a" stroke-width="1.00" stroke-opacity="0.50"/>
<path d="M64.8 264.7l.5-2.3 .6-2.3 .7-2.3 .8-2.3 1-2.2M83.4 250.4l-1.4-2 -1.3-2 -1.2-2.1 -1-2.2M129.7 271.5l-.6-2.3 -1-2.2 -1.1-2.2 -1.3-2 -1.5-1.9 -1.5-1.8 -1.7-1.7 -1.8-1.6M74.3 255.2l1.5-2 1.5-1.8 1.6-1.8 1.9-1.5 1.9-1.4 2.1-1.2 2.3-.8M82.2 227.3l2 1.7 2 1.5 2.3 1.3 2.4 1.1 2.5 .8 2.5 .5 2.6 .1 2.6-.2 2.6-.4 2.5-.7 2.4-1 2.3-1.2 2.1-1.4" stroke="#e0ba00" stroke-width="1.00" stroke-opacity="0.50"/>
<path d="M159.4 269.6l-1.3-2.1 -1-2.1 -.9-2.3 -.7-2.3 -.6-2.3M69.3 271.6l.7-2.3 .8-2.3 .8-2.3 .8-2.2 .7-2.3 .7-2.3 .6-2.3M133.6 264.1l-.2-2.4 -.4-2.4 -.6-2.3" stroke="#c09c00" stroke-width="1.25" stroke-opacity="0.50"/>
<path d="M64.7 260.5l.5-2.4 .4-2.3 .3-2.4 .1-2.4 0-2.4 .1-2.4 .2-2.4M105.2 266.9l-1.4-2 -1.1-2.1 -.9-2.2 -.7-2.3" stroke="#fade1a" stroke-width="1.25" stroke-opacity="0.50"/>
<path d="M87.1 274.7l1.4-1.9 1.5-1.9 1.5-1.9 1.6-1.8M115.8 277.7l.3-2.4 .3-2.3 .5-2.4" stroke="#eecb00" stroke-width="1.25" stroke-opacity="0.50"/>
<path d="M121 262.1l.5-2.3 .7-2.3 1-2.2 1.2-2.1 1.3-2M136.4 270l1.9-1.4 2.2-1.1 2.2-.9 2.3-.7 2.3-.5" stroke="#e0ba00" stroke-width="1.25" stroke-opacity="0.50"/>
<path d="M110.5 248.6l1.2-2.1 .9-2.2 .8-2.3" stroke="#e0ba00" stroke-width="1.50" stroke-opacity="0.50"/>
<path d="M146.8 272l-.9-2.2 -.9-2.3 -.6-2.3 -.4-2.4 0-2.4 .3-2.3 .6-2.4M67 263l2.4-1.1 2.3-1.2 2.1-1.4 2-1.7 1.9-1.8 1.7-2 1.4-2.2 1.2-2.2 1-2.4 .9-2.5 .7-2.5 .4-2.6 .2-2.6 0-2.6 -.3-2.5 -.6-2.6M59.1 258.2l2-1.7 2-1.6 2.1-1.5 2.2-1.5 2.1-1.5 2.2-1.3 2.3-1.4 2.3-1.2 2.3-1.1 2.4-1 2.4-1 2.5-.9 2.4-.8 2.5-.7 2.5-.6 2.5-.8 2.5-.7 2.5-.8 2.5-.9 2.3-1.1 2.3-1.2 2.1-1.5 2-1.7 1.9-1.8 1.6-2.1 1.3-2.2" stroke="#d0aa00" stroke-width="1.25" stroke-opacity="0.50"/>
<path d="M126.7 262.9l-.7-2.3 -.8-2.2 -.9-2.3 -1.1-2.1M109.5 250.3l-.5-2.3 -.7-2.3 -1-2.2 -1.3-2" stroke="#c09c00" stroke-width="1.00" stroke-opacity="0.50"/>
<path d="M137.6 271.5l-.6-2.3 -.9-2.3 -1.3-2 -1.6-1.8" stroke="#eecb00" stroke-width="1.00" stroke-opacity="0.50"/>
<path d="M94.8 221l1.7 2 1.6 2.1 1.6 2 1.6 2 1.6 2.1 1.5 2.1 1.6 2.1 1.5 2.1 1.5 2.1 1.6 2.1 1.5 2.1 1.4 2.2" stroke="#c09c00" stroke-width="1.50" stroke-opacity="0.50"/>
<path d="M122.5 259.5l2.6-.2 2.6-.2 2.6-.3 2.5-.5 2.5-.6 2.5-.8M57.3 255.9l2.6 .4 2.5 .3 2.6 .1 2.6-.1 2.6-.3 2.6-.3 2.6-.3M131.4 259.6l2.6-.2 2.6-.1 2.6 .2M128.2 266.1l2.6 .1 2.6 .2 2.6 .4 2.5 .5M112.3 256.8l2.6 .3 2.6 .1 2.6 .2 2.6 0 2.6-.1 2.6-.3 2.6-.4M146.3 269.3l2.6-.1 2.6 0 2.6 .1 2.6 .2M148.8 264.2l1.5-2.1 1.4-2.1 1.4-2.3 1.2-2.3 1-2.4 1-2.4M126.8 260.7l2.4-1.1 2.4-1 2.4-1 2.4-.9 2.5-.9 2.5-.6M68.3 263.9l2.2-1.5 2.3-1.2 2.4-1M81.8 257.6l2.2-1.3 2.3-1.2 2.5-.8 2.6-.5 2.5-.3M83.3 269.8l2-1.7 1.9-1.8 1.8-1.9 1.8-1.8 1.8-1.9 1.9-1.8M108.4 258.8l2.6-.6 2.5-.6 2.6-.4 2.5-.3 2.6-.2M116.6 249.4l.9-2.5 1.1-2.3 1.5-2.1 1.7-2 1.9-1.8 2.1-1.4 2.4-1.1M77.9 256.5l1.1-2.3 .9-2.5 .4-2.5 .2-2.6" stroke="#b89600" stroke-width="1.25" stroke-opacity="0.67"/>
<path d="M87 273.8l2.4 .8 2.5 .8 2.6 .5 2.5 .3 2.6 .1M60 251.4l2.1-1.4 2.2-1.4 2.3-1.2 2.4-1.1 2.4-.9 2.5-.8M99.9 261.3l2.4 .9 2.3 1.2 2.3 1.3 2.1 1.5 2 1.6 1.9 1.9M69.7 262.2l2.4-.9 2.5-.9M99.7 259.2l2.6-.2 2.6-.3 2.6-.2 2.6 0 2.5 .1 2.6 .1M111.8 272.4l.8-2.5 .8-2.5 .6-2.5 .4-2.5" stroke="#b89600" stroke-width="1.50" stroke-opacity="0.67"/>
<path d="M47.6 248.5l2.4 1 2.3 1.2 2.2 1.4 2.2 1.5 2 1.6 1.9 1.8M87.2 270l2.6 .4 2.5 .8 2.4 1 2.2 1.3 1.9 1.7 1.7 2M48.2 263.5l.5-2.6 .4-2.5 .4-2.6 .4-2.6 .4-2.5 .1-2.6M95.4 270.1l2.6-.4 2.5-.6 2.5-.7 2.5-.9 2.4-1M144.8 262.5l2.6 .1 2.6 .1M151.9 272.5l1.1-2.3 .9-2.5 .8-2.5M153.9 265.1l1.7-2.1 1.5-2.1 1.3-2.2 1-2.4 .8-2.5 .5-2.5 .2-2.6 -.3-2.6M126.3 256.6l2.3-1.1 2.3-1.3 2.2-1.4 2.2-1.3" stroke="#b89600" stroke-width="1.00" stroke-opacity="0.67"/>
<path d="M83.9 270.6l1.3-2.1 1.3-1.9 1.6-1.9 1.6-1.8 1.6-1.7" stroke="#fade1a" stroke-width="1.00" stroke-opacity="0.67"/>
<path d="M123.1 255.7l-1.8-1.6 -1.7-1.7 -1.8-1.6M66.5 257.9l.3-2.4 0-2.4 -.3-2.3 -.5-2.4M60.2 253.1l2.2-1.4 2.4-1.1 2.4-1 2.4-.8 2.6-.6 2.6-.3 2.6-.2 2.6 .1 2.5 .3 2.6 .3 2.6 .6 2.4 .7 2.5 .9 2.3 1.1 2.3 1.3 2.1 1.6M106.9 221.9l1.4 2.1 1.5 2.1 1.6 2.1 1.6 2.1 1.7 2 1.7 1.9 1.9 1.8 2 1.6 2.1 1.6 2.2 1.4 2.2 1.3 2.4 1.2 2.4 .9" stroke="#c09c00" stroke-width="1.00" stroke-opacity="0.67"/>
<path d="M52.7 263.8l-.1-2.4 .3-2.3 .7-2.3 1-2.2 1.4-1.9 1.7-1.7 1.9-1.5 2.1-1.3 2.2-.9 2.3-.5 2.4-.3 2.4-.1 2.4 .1M95.1 262.3l1.4-2.2 1.5-2.1 1.6-2.1 1.6-2 1.7-2 1.7-2 1.7-1.9 1.8-1.9 1.7-1.9 1.8-1.9 1.8-1.9 1.9-1.8" stroke="#eecb00" stroke-width="1.50" stroke-opacity="0.67"/>
<path d="M119.5 255.1l-.8-2.2 -.8-2.3 -.9-2.2 -.9-2.2M154.3 254.8l-.9-2.3 -1.1-2.1 -1.1-2.1" stroke="#e0ba00" stroke-width="1.25" stroke-opacity="0.67"/>
<path d="M107.3 268.9l1.1-2.2 1-2.1 1.1-2.2 1.1-2.1 1.4-2M106.9 227.6l1.6 2.1 1.6 2 1.7 1.9 1.8 1.9 1.9 1.8 2 1.7 2.1 1.6 2.1 1.5 2.2 1.4 2.2 1.4" stroke="#c09c00" stroke-width="1.25" stroke-opacity="0.67"/>
<path d="M76.1 273.9l-.4-2.3 -.1-2.4 0-2.4 .1-2.4 .5-2.4 .7-2.3 1-2.2 1.3-2 1.5-1.9 1.7-1.6M72.6 257.4l1.6-1.8 1.5-1.9 1.4-1.9 1.5-1.9 1.5-1.9" stroke="#fade1a" stroke-width="1.25" stroke-opacity="0.67"/>
<path d="M105.8 262.1l1.9-1.4 2-1.3 2.1-1.1 2.2-1 2.3-.9M97.6 211.9l1.4 2.2 1.6 2.1 1.7 2 1.8 1.9 1.8 1.8 1.9 1.8 2 1.7 2 1.7 2 1.6 2.1 1.6 2 1.6 2 1.6 2 1.7" stroke="#e0ba00" stroke-width="1.50" stroke-opacity="0.67"/>
<path d="M86 265.2l.8-2.2 .8-2.3 .9-2.2 .9-2.2" stroke="#e0ba00" stroke-width="1.00" stroke-opacity="0.67"/>
<path d="M132.5 264l1.7-1.7 1.7-1.7 1.6-1.8 1.6-1.8 1.4-1.9M105.8 246.9l.1-2.4 .4-2.4 .6-2.3 .8-2.2M94.2 220.7l.7 2.5 .7 2.5 .5 2.5 .5 2.6 .5 2.6 .5 2.5 .4 2.6 .5 2.5 .6 2.6 .5 2.5 .6 2.5 .6 2.6 .6 2.5" stroke="#d0aa00" stroke-width="1.00" stroke-opacity="0.67"/>
<path d="M53.4 242.2l-1.8-1.5 -2-1.3 -2.2-1.2M48.3 239l1.7-2.1 1.8-1.8 2-1.7 2.1-1.5 2.2-1.3 2.3-1.3 2.4-1.1 2.3-1.1 2.4-1.1 2.4-1.1 2.3-1.1 2.4-1 2.4-1.1 2.3-1.1 2.4-1.1 2.2-1.2 2.3-1.4 2.1-1.5 2-1.6 2-1.8 1.7-1.8M68.8 266.3l2.2-1.3 2.2-1.4 2.2-1.5 2.1-1.5 2.2-1.4 2.2-1.4 2.2-1.4 2.2-1.3 2.3-1.3 2.2-1.3 2.3-1.3 2.2-1.4 2.1-1.5 2.1-1.5 2.2-1.4 2.1-1.6 2.1-1.5 2-1.6 2-1.8 1.8-1.8 1.8-1.9 1.6-2 1.5-2.2M126 256l5-4 9-1 10 2" stroke="#d0aa00" stroke-width="1.25" stroke-opacity="0.67"/>
<path d="M72.8 244.4l1.8-1.8 1.8-1.9 1.7-2 1.6-2 1.5-2.2 1.3-2.2 1.3-2.3 1-2.4 .8-2.4 .7-2.5 .5-2.6 .3-2.6 .1-2.6 0-2.6 -.1-2.6 -.1-2.6 -.1-2.6 -.1-2.6 0-2.6 0-2.6 -.1-2.6 -.1-2.6 -.2-2.6 -.3-2.5 -.4-2.6M50.4 253.1l2.1-1.6 2-1.6 2-1.7 2-1.6 1.9-1.8 2-1.7 2-1.6 2-1.6 2.2-1.5 2.3-1.3 2.3-1 2.5-.9 2.5-.5 2.6-.2 2.6 0" stroke="#fade1a" stroke-width="1.50" stroke-opacity="0.67"/>
<path d="M50.7 267.5l2.2-1.3 2.3-1.2 2.4-1.1 2.4-.9 2.5-.8 2.5-.7 2.6-.4 2.5-.2 2.6-.1 2.6 .2 2.6 .4 2.5 .8 2.4 1 2.2 1.3 2.1 1.6 1.8 1.9 1.6 2 1.5 2.2 1.3 2.2 1 2.4 .9 2.4 .7 2.5 .4 2.6" stroke="#eecb00" stroke-width="1.25" stroke-opacity="0.67"/>
<path d="M66.3 258.2l-.8-2.3 -.9-2.2 -.8-2.2 -.8-2.3 -.7-2.3 -.7-2.3 -.8-2.3 -.7-2.3 -.7-2.3M85 243.9l1.8-1.9 1.7-1.9 1.6-2.1 1.3-2.3 1.2-2.3 .9-2.4 .8-2.5 .7-2.5 .5-2.5 .4-2.6 .3-2.6 .1-2.6 0-2.6 -.3-2.6 -.4-2.5 -.7-2.5 -.9-2.5 -1.2-2.3 -1.4-2.2 -1.6-2" stroke="#fade1a" stroke-width="1.25" stroke-opacity="0.83"/>
<path d="M53.6 271.3l-.7-2.3 -.5-2.3 -.4-2.4 -.3-2.4 -.1-2.4 .1-2.4 .4-2.3 .6-2.4 .9-2.2 1.2-2.1 1.5-1.9 1.7-1.6 1.9-1.5 2.1-1.2 2.1-1.1M72.9 244.2l1.5-2.1 1.4-2.2 1.3-2.3 1.2-2.3 1.1-2.3 1-2.4 .9-2.5 .9-2.4 .8-2.5 .7-2.5 .6-2.5 .5-2.6 .3-2.6 0-2.6 -.2-2.5 -.4-2.6 -.8-2.5 -1-2.4 -1.2-2.3 -1.5-2.1 -1.7-2" stroke="#c09c00" stroke-width="1.00" stroke-opacity="0.83"/>
<path d="M61.3 259.8l.2-2.4 0-2.4 -.2-2.4 -.3-2.3 -.6-2.4 -.7-2.3 -.7-2.3 -.9-2.2M73.2 255.6l1.4-2 1.3-2 1.3-2.1M52.5 254.7l2.2-1.4 2.4-1.1 2.4-1 2.4-.9 2.5-.7 2.6-.5 2.6-.2 2.6 0 2.6 .2 2.5 .5 2.5 .7 2.4 1 2.3 1.2 2.3 1.3 2.2 1.4 2.1 1.6 2 1.6 1.9 1.8 1.8 1.8 1.7 2" stroke="#eecb00" stroke-width="1.25" stroke-opacity="0.83"/>
<path d="M94.7 274.2l1.3-1.9 1.2-2.1 1-2.2 .7-2.3 .6-2.3M54.5 235.3l2.4-1 2.4-1.1 2.3-1 2.4-1.1 2.3-1.1 2.3-1.3 2.2-1.4 2-1.6 1.9-1.8 1.8-2 1.5-2.1 1.3-2.2 1.1-2.3 .9-2.5 .7-2.5 .5-2.5 .3-2.6 .1-2.6" stroke="#d0aa00" stroke-width="1.25" stroke-opacity="0.83"/>
<path d="M107.8 278.3l1.6-1.7 2-1.5 2-1.2" stroke="#eecb00" stroke-width="1.00" stroke-opacity="0.83"/>
<path d="M120.6 262.3l-1.1-2.1 -.9-2.2 -.7-2.3 -.5-2.4 -.1-2.4 .1-2.4 .2-2.4" stroke="#c09c00" stroke-width="1.50" stroke-opacity="0.83"/>
<path d="M98 266.6l2.2-1.4 2.3-1.2 2.3-1.1 2.5-1 2.4-.8 2.5-.7 2.6-.5 2.6-.4 2.5-.2 2.6-.1 2.6-.1 2.6 0 2.6 .2 2.6 .2 2.6 .4 2.5 .6 2.5 .7 2.5 .8 2.4 1 2.4 1 2.3 1.3 2.2 1.3 2.1 1.5 2 1.7 1.9 1.7" stroke="#d0aa00" stroke-width="1.00" stroke-opacity="0.83"/>
<path d="M76.8 244.8l2-1.7 2.1-1.5 2.1-1.5 2.3-1.3 2.3-1.2 2.4-1 2.5-.8 2.5-.5 2.6-.2 2.6 .1 2.6 .4 2.4 .8 2.5 1 2.2 1.2 2.2 1.5 1.9 1.7 1.7 2 1.5 2.1 1.2 2.3 .9 2.5 .7 2.5 .4 2.6 .2 2.5 -.1 2.6 -.4 2.6 -.5 2.6 -.8 2.5 -.8 2.4" stroke="#eecb00" stroke-width="1.50" stroke-opacity="0.83"/>
<path d="M47 239.7l2.4-1.1 2.3-1 2.4-1.1 2.4-1.1 2.3-1 2.4-1.1 2.4-1 2.4-1 2.4-1 2.4-1 2.4-1.1 2.4-1 2.4-.9 2.5-.8 2.5-.7" stroke="#d0aa00" stroke-width="1.50" stroke-opacity="0.83"/>
<path d="M75.2 243.5l2.5-.8 2.4-.8 2.5-.7 2.6-.6 2.5-.5 2.6-.4 2.6-.1 2.6 0 2.6 0 2.6 .2 2.6 .3 2.5 .5 2.6 .5 2.5 .8 2.4 .9 2.3 1.1 2.3 1.3 2.2 1.3 2.3 1.4 2.2 1.4 2.1 1.4 2.3 1.3 2.2 1.4 2.3 1.2 2.4 1.1 2.4 .9 2.4 .8 2.5 .7" stroke="#fade1a" stroke-width="1.00" stroke-opacity="0.83"/>
<path d="M98.5 237.8l1.9-1.8 1.8-1.9 1.7-1.9 1.7-2 1.5-2.1 1.4-2.2 1.3-2.3 1.2-2.3 1.1-2.3 1.1-2.4 1-2.4 1-2.4 1-2.4M91.4 214.9l.8 2.5 .7 2.5 .8 2.5 .7 2.5 .8 2.4 .8 2.5 .8 2.5 .8 2.5 .9 2.4 .8 2.4" stroke="#c09c00" stroke-width="1.25" stroke-opacity="0.83"/>
<path d="M60.4 253.8l2.4-1.1 2.3-1.2 2.3-1.2 2.3-1.3 2.2-1.3 2.2-1.4 2.1-1.5 2-1.6 1.9-1.8 1.8-1.9 1.7-2 1.5-2.1 1.4-2.2 1.3-2.2 1.3-2.3 1.3-2.3 1.2-2.2 1.3-2.3 1.3-2.3 1.2-2.2 1.2-2.4 1-2.4 1-2.4 .8-2.4" stroke="#e0ba00" stroke-width="1.25" stroke-opacity="0.83"/>
<path d="M130 260l2-10 5-5.5 7-1.5 7 2 5 3" stroke="#e0ba00" stroke-width="1.50" stroke-opacity="0.83"/>
<path d="M62.2 255.5l2.3-1.2 2.2-1.3 2.3-1.3 2.1-1.4 2.1-1.6 2-1.6 1.9-1.9 1.7-1.9 1.5-2.1 1.4-2.3 1.2-2.3 1-2.3 .8-2.5 .6-2.6 .2-2.6 0-2.6" stroke="#fade1a" stroke-width="1.00" stroke-opacity="1.00"/>
<path d="M52.7 250.8l2-1.6 1.9-1.7 2-1.7 2-1.7 1.9-1.7 2-1.7 2.1-1.5 2.3-1.4 2.3-1.2 2.3-1.1 2.4-1 2.4-.9 2.5-.7 2.6-.6" stroke="#c09c00" stroke-width="1.50" stroke-opacity="1.00"/>
<path d="M70.7 246.1l2.3-1.2 2.2-1.3 2.3-1.4 2.1-1.4 2.2-1.5 2.1-1.5 2-1.6 2-1.7 2-1.7 1.8-1.8 1.9-1.8 1.8-1.9 1.8-1.9 1.8-1.9 1.7-1.9 1.8-1.9 1.8-1.9 1.8-1.8" stroke="#fade1a" stroke-width="1.25" stroke-opacity="1.00"/>
</g>
<g fill="none" stroke-linecap="round" stroke-linejoin="round" filter="url(#fb1)">
<path d="M102.3 262.6l0-4.1M65.9 268.1l0-2.2M58.2 271.2l0-3.5M83.3 269.1l0-4M104.6 261.4l0-2.3M153.4 273.5l0-3.5M66.6 267l0-3.4M87.8 271.5l0-4.6" stroke="#ffe74a" stroke-width="0.50" stroke-opacity="0.33"/>
<path d="M84.4 268.3l0-4.9M101.3 272.4l0-2.9M113.2 261.1l0-4.4M68.6 270.7l0-3.5M134.2 277.4l0-4.9M132.4 275.3l0-4.4M118.7 273.9l0-4.6M144.5 278.1l0-1.8M148.3 263.7l0-3.6M89.8 265.5l0-3.4M110.4 275.4l0-3.4" stroke="#ffe74a" stroke-width="0.75" stroke-opacity="0.33"/>
<path d="M143 271.8l0-2.6M104.4 263l0-2.4M64.7 261.2l0-2M141.1 267.1l0-2.7M151 277.7l0-4.8M75.7 269.2l0-4.5M140.2 265.6l0-2.8M149.9 265.9l0-2.6M62.2 265.3l0-3.5M128.2 261.2l0-3" stroke="#ffe74a" stroke-width="0.75" stroke-opacity="0.50"/>
<path d="M99.3 277.8l0-3.7M53.6 274.7l0-3.9M83.9 267.8l0-3.1M145.9 271.3l0-2.5M78.7 274.8l0-3M110.4 276.7l0-4M73.8 263.9l0-3.2M81.9 267.9l0-2.2M101.3 265.7l0-3M98.9 264.7l0-3.7M95.6 263l0-4.6" stroke="#ffe74a" stroke-width="0.50" stroke-opacity="0.50"/>
<path d="M76.5 270.1l0-2.1M88.9 260.9l0-2.8M111.8 273.1l0-3.6M94.9 262l0-2.3M60.1 270l0-1.9M152.7 277l0-2.6" stroke="#ffe74a" stroke-width="0.50" stroke-opacity="0.67"/>
<path d="M128.6 264.9l0-3.2M131.1 263.7l0-3.4M114.3 266.5l0-1.7M113.2 260.8l0-2.9" stroke="#ffe74a" stroke-width="0.75" stroke-opacity="0.67"/>
<path d="M76 256l1.3-9 1.3-9 0-9.5 -.1-9.5M147.5 251l-.2-7.5 -.3-7.5 -2-7 -2-7M139.5 260l.8-4 .7-4 -.5-3.5 -.5-3.5M98.5 250l.2-7 .3-7 .8-7 .7-7M108 252l2-6 2-6 3-4 3-4" stroke="#fff08a" stroke-width="1.25" stroke-opacity="0.83"/>
</g>
<rect x="50.0" y="279.3" width="106.6" height="13.7" fill="#000"/><rect x="51.0" y="268.9" width="104.6" height="14.0" fill="url(#gband)" opacity="1.00"/>
<g fill="none" stroke-linecap="round" filter="url(#fb1)">
<path d="M107.4 277.7h0M79.4 278.4h0" stroke="#fff6b0" stroke-width="2.00" stroke-opacity="0.33"/>
<path d="M106.5 277.9h0M111.2 278.3h0M149.6 278.3h0M104.6 278.6h0" stroke="#fff6b0" stroke-width="1.20" stroke-opacity="0.33"/>
<path d="M105.3 278.4h0M61.6 278.6h0M116.1 278.5h0M149.7 278.1h0" stroke="#fff6b0" stroke-width="1.60" stroke-opacity="0.33"/>
<path d="M118 278.8h0M125.2 278.2h0M99.7 278.3h0M131.2 278.7h0M93.7 278.1h0M115.1 278.1h0M52.2 277.8h0" stroke="#fff6b0" stroke-width="1.60" stroke-opacity="0.50"/>
<path d="M77.4 278.6h0M111.4 277.7h0M155 278.3h0" stroke="#fff6b0" stroke-width="1.20" stroke-opacity="0.50"/>
<path d="M85.5 278.7h0M73.6 277.8h0M84.5 278.6h0M145.1 277.6h0M79.8 277.7h0M153.5 277.7h0" stroke="#fff6b0" stroke-width="2.00" stroke-opacity="0.50"/>
<path d="M112.9 278.8h0M95.2 278h0M78.4 278.3h0M87.2 277.8h0M55.5 278.6h0M66.9 278.7h0" stroke="#fff6b0" stroke-width="2.00" stroke-opacity="0.67"/>
<path d="M118.9 277.7h0M72.8 277.6h0M134.8 277.8h0M53.8 277.9h0M120.4 277.8h0M110.1 277.7h0M105.7 277.9h0" stroke="#fff6b0" stroke-width="1.20" stroke-opacity="0.67"/>
<path d="M75.7 278.4h0M150.1 277.7h0M75.6 277.6h0M152.5 278h0M96.3 278.3h0M54 278.3h0" stroke="#fff6b0" stroke-width="1.60" stroke-opacity="0.67"/>
<path d="M56.1 277.8h0M124.8 278.6h0" stroke="#fff6b0" stroke-width="2.00" stroke-opacity="0.83"/>
<path d="M62.5 278.7h0M105.6 277.9h0" stroke="#fff6b0" stroke-width="1.60" stroke-opacity="0.83"/>
<path d="M106.7 278.8h0" stroke="#fff6b0" stroke-width="1.20" stroke-opacity="0.83"/>
</g>
</g>
<rect x="157.7" y="128.6" width="104.5" height="77.6" fill="#000"/>
<g clip-path="url(#cf1)">
<g fill="#fff" filter="url(#fb4)"><ellipse cx="204.5" cy="160.5" rx="9" ry="9" fill-opacity="0.45"/><ellipse cx="173" cy="135" rx="8" ry="4" fill-opacity="0.2"/></g>
<g fill="none" stroke-linecap="round" stroke-linejoin="round" filter="url(#fb6)">
<path d="M201.7 155.7l-.6-2.5 -.7-2.6 -.8-2.4 -.9-2.5 -1.1-2.3 -1.3-2.3 -1.5-2.1 -1.7-2 -1.9-1.7 -2.1-1.6 -2.2-1.3 -2.4-1.1 -2.5-.8M211.6 158.7l2.4-.8 2.5-.8 2.5-.9 2.4-.9 2.4-.9 2.4-1.1 2.3-1.2 2.3-1.1 2.3-1.3 2.3-1.3 2.2-1.3 2.1-1.5 2.2-1.4 2.2-1.4 2.3-1.2 2.4-1 2.5-.8 2.5-.7 2.6-.5M195.8 159.1l-2.6-.2 -2.6-.3 -2.6-.3 -2.6-.3 -2.5-.5 -2.5-.8 -2.4-1.1 -2.2-1.3 -2.2-1.3 -2.2-1.5 -2.1-1.5M203.1 165.2l.1 2.6 .2 2.6 .2 2.6 .2 2.6 .4 2.6 .5 2.5 .6 2.5 .7 2.5 .8 2.5 .9 2.5 1.2 2.3 1.4 2.1M212.4 162.8l2.4 1 2.5 .7 2.6 .5 2.6 .1 2.6-.1 2.5-.3 2.6-.6 2.5-.7 2.4-.8 2.4-1.2 2.2-1.2 2.3-1.4 2.2-1.3 2.3-1.3 2.3-1.2M218.9 140.9l2.2 1.4 2.3 1.2 2.4 1.1 2.4 .9 2.5 .9 2.5 .7 2.5 .6 2.6 .4 2.5 .3 2.6 .1 2.6 .1 2.6 .1 2.6-.1 2.6-.1 2.6-.3M217.7 140.2l2.5-.8 2.5-.6 2.5-.5 2.6-.4 2.6-.1 2.6-.1 2.6 .1 2.6 .1 2.6 .1 2.6 .2 2.6 .3 2.5 .5 2.6 .6 2.4 .9 2.4 1 2.3 1.1 2.3 1.3 2.3 1.2 2.3 1.3 2.2 1.4 2.2 1.4 2.1 1.4M218.5 130.6l2.3 1.1 2.5 .9 2.5 .8 2.5 .5 2.6 .4 2.6 .2 2.6 .1 2.6-.1 2.5-.4 2.6-.4 2.5-.5 2.6-.6 2.5-.8 2.4-.8 2.5-.8 2.4-.9 2.5-.9 2.4-.9 2.5-.8 2.5-.8 2.5-.7 2.5-.6M171.8 147.1l2.6 .3 2.6 .1 2.6-.1 2.6-.5 2.5-.7 2.4-1 2.2-1.2 2.2-1.5M188.6 137.4l.5 2.5 .3 2.6 .3 2.6 0 2.6 -.1 2.6 -.4 2.6 -.7 2.5 -.9 2.4M164.9 140.8l2.5 .6 2.5 .9 2.3 1.2 2.2 1.4 1.9 1.7 1.8 1.9 1.6 2.1 1.5 2.1 1.3 2.3" stroke="#fff" stroke-width="1.50" stroke-opacity="0.33"/>
<path d="M209.6 164.3l1.6 2 1.6 2 1.7 2 1.6 2.1 1.5 2.1 1.3 2.2 1.1 2.4 1 2.4 .6 2.5 .4 2.6 .1 2.6 0 2.6 -.2 2.6 -.3 2.6 -.5 2.5 -.5 2.6 -.5 2.5M197.8 158.7l-2.6-.4 -2.6-.3 -2.6-.2 -2.6-.2 -2.6 0 -2.6 .3 -2.5 .6 -2.5 .9 -2.3 1 -2.3 1.3M204.5 165.8l.9 2.5 1 2.4 1.2 2.3 1.4 2.2 1.3 2.2 1.4 2.2 1.4 2.2 1.4 2.2 1.3 2.2 1.3 2.3 1.3 2.3 1.1 2.3M197.5 164.3l-2.3 1.3 -2.3 1.2 -2.3 1.1 -2.5 .7 -2.6 .5 -2.6 .3 -2.6 .2 -2.5 .2 -2.6 .1 -2.6 0 -2.6 0 -2.6-.2 -2.6-.5 -2.5-.8 -2.4-1M208.5 148.1l-2.2-.5 -1.9-1M211.9 157.6l-2.2-.4 -1.8-1.1" stroke="#fff" stroke-width="1.75" stroke-opacity="0.33"/>
<path d="M209.4 158.3l2.1-1.5 2.2-1.4 2.4-1 2.4-.8 2.6-.5 2.6-.4 2.5-.3 2.6-.3 2.6-.4 2.6-.3 2.6-.2 2.6 0 2.5 .3 2.6 .6 2.5 .7M258.9 132.6l1.5 2.1 1.5 2.2 1.3 2.2 1.3 2.3 1.1 2.3 1.1 2.4 1 2.3 1 2.5 .8 2.5 .5 2.5 .4 2.6 .2 2.6 -.1 2.6 -.4 2.5 -.6 2.5 -1 2.5 -1.1 2.3 -1.3 2.3" stroke="#fff" stroke-width="1.25" stroke-opacity="0.33"/>
<path d="M199.5 160.9l-1.9-1.3 -1.9-1 -2.1-.8M195.8 165.4l-2.2-.3 -2.1-.6M168.8 134l1.9 1 2.1 .5" stroke="#fff" stroke-width="2.00" stroke-opacity="0.33"/>
<path d="M201.6 159.2l-1.8-1.9 -1.9-1.8 -1.9-1.8 -2.1-1.6 -2.1-1.4 -2.3-1.3 -2.3-1.3 -2.3-1 -2.5-.7 -2.6-.5 -2.6-.2 -2.6 0 -2.6 .2 -2.5 .6 -2.5 .8 -2.3 1.1 -2.3 1.3 -2 1.6 -1.9 1.8M206.3 162.5l1.4 2.2 1.2 2.4 1 2.4 .7 2.5 .5 2.5 .2 2.6 .3 2.6 0 2.6 -.1 2.6 -.1 2.6 -.3 2.6 -.5 2.5 -.8 2.5 -1 2.4 -1.2 2.3 -1.5 2.2 -1.7 1.9 -1.9 1.8 -2.1 1.5M197.2 160.6l-2.6-.2 -2.6-.3 -2.6-.3 -2.5-.5 -2.6-.4 -2.6-.4 -2.5-.4 -2.6-.6 -2.5-.5 -2.5-.7 -2.5-.8M203.1 166.7l-1 2.4 -1.1 2.3 -1.1 2.4 -1 2.4 -.9 2.4 -.9 2.5 -1 2.4 -1.2 2.3 -1.4 2.2 -1.3 2.2M206.3 154.2l1.4-2.2 1.4-2.1 1.5-2.1 1.5-2.1 1.7-2 1.9-1.8 2.1-1.5 2.3-1.3 2.4-1.1 2.4-.8 2.5-.7 2.6-.6 2.5-.5 2.6-.3 2.6-.2" stroke="#fff" stroke-width="1.25" stroke-opacity="0.50"/>
<path d="M208.5 164.9l1.1 2.3 1.2 2.4 .9 2.4 .9 2.4 .7 2.5 .4 2.6 .1 2.6 0 2.6 0 2.6 0 2.6 .2 2.6 .3 2.6M208 159.3l2.3-1.1 2.4-.9 2.5-.8 2.5-.7 2.6-.3 2.6-.3 2.6 0 2.6 .2 2.5 .5M204.8 163.6l0 2.6 -.2 2.6 -.1 2.6 -.3 2.6 -.4 2.6 -.6 2.5 -.6 2.5 -.6 2.5 -.5 2.6 -.1 2.6 .1 2.6 .5 2.6 .7 2.5 1 2.4M210.1 163.4l2.3 1.2 2.3 1 2.5 .8 2.6 .5 2.6 .2 2.6 0 2.6 0 2.6 .1 2.6 0 2.6 .1 2.6 .2 2.5 .4 2.6 .4 2.5 .8 2.4 1 2.2 1.3 2.2 1.5 2 1.7M203 163.4l-1.1 2.4 -1.1 2.3 -1.1 2.4 -1.3 2.3 -1.2 2.3 -1.1 2.3 -1.2 2.4 -1.1 2.3 -1.1 2.4 -.9 2.4 -.8 2.5 -.9 2.4 -.8 2.5 -.8 2.4 -.7 2.6 -.4 2.5 0 2.6M201.4 160.2l-2.5-.6 -2.5-.8 -2.3-1.1 -2.3-1.4 -2-1.6 -1.9-1.8 -1.6-2 -1.4-2.2 -1.3-2.3 -1-2.4 -.7-2.5M200.4 162.2l-2.6 .6 -2.6 .2 -2.6-.1 -2.5-.3 -2.6-.6 -2.4-.9 -2.4-1.1 -2.1-1.4 -2.1-1.7 -1.8-1.8 -1.7-2 -1.5-2.1 -1.4-2.2 -1.4-2.2 -1.5-2.1M235 127.7l2.6 .4 2.6 .3 2.6 .2 2.6 0 2.6-.1 2.6 0 2.6-.1 2.6-.2 2.6-.3 2.5-.4 2.6-.5 2.5-.5 2.6-.5 2.5-.5M198.5 162l1.9-1.1 2.1-.6M207.8 162.6l-1-2 -1.3-1.7M202.1 168.6l.2-2.1 .4-2.2M179.3 130l.8-2 .9-2M155.2 134.7l-1.6 1.5 -1.7 1.4M180.4 143.4l2.2 0 2.1 .3" stroke="#fff" stroke-width="1.75" stroke-opacity="0.50"/>
<path d="M202.8 157.1l-.9-2.4 -1.1-2.4 -1.1-2.3 -1.2-2.3 -1.4-2.3 -1.4-2.1 -1.6-2.1 -1.8-1.9 -2-1.7 -2.1-1.4 -2.2-1.4 -2.3-1.2 -2.3-1.2 -2.4-1.1M204.8 163.3l-.1 2.6 .2 2.6 .4 2.6 .6 2.5 .8 2.5 .8 2.4 .8 2.5 1.1 2.4 1.2 2.3M196.1 161l-2.6 .5 -2.5 .6 -2.5 .8 -2.4 .9 -2.3 1.2 -2.2 1.4 -2.1 1.6 -1.9 1.7 -1.9 1.9 -1.6 2 -1.4 2.1 -1.2 2.4 -.9 2.4 -.6 2.5 -.4 2.6 -.1 2.6 .2 2.6 .4 2.6M200.9 159.1l-2.5-1 -2.3-1.1 -2.3-1.3 -2.1-1.4 -2.2-1.5 -2.2-1.4 -2.1-1.5 -2-1.6 -1.9-1.8 -1.8-1.9 -1.7-2 -1.5-2.1 -1.5-2.1 -1.5-2.1 -1.4-2.2 -1.3-2.3 -1-2.4 -.8-2.4 -.9-2.5M200.5 161.1l-2.5 .9 -2.5 .6 -2.6 .5 -2.5 .3 -2.6 .2 -2.6-.1 -2.6-.4 -2.5-.5 -2.5-.8 -2.5-.9M179.3 145.9l1.2 2.3 1.2 2.3 1.3 2.2 1.4 2.2 1.4 2.2 1.4 2.2 1.5 2.1 1.6 2.1 1.6 2 1.7 2 1.8 1.9 1.9 1.8 2 1.6 2.1 1.5 2.2 1.4 2.4 1.1 2.4 .9 2.5 .7" stroke="#fff" stroke-width="1.50" stroke-opacity="0.50"/>
<path d="M202.1 164l.9-2 1.1-1.9M203.3 154.4l2.2-.3 2-1 1.5-1.6M200.2 176.8l2.2 .2 2.1 .5M202 154.2l2.2 .1 2.2 .1 2.2 .1M203.9 158.4l2 .9 1.9 1.1M187.3 138l1.8 1.2 1.7 1.4M214.3 188.9l.9-2 .8-2M195.7 191.3l.3 2.1 -.4 2.2" stroke="#fff" stroke-width="2.00" stroke-opacity="0.50"/>
<path d="M203.2 161.9l-.8 2 -.3 2.2M212.1 151.9l-.5-2.2 -1.2-1.9 -1.7-1.4M203.2 160.4l0-2.2 .4-2.1M207.6 159l2.2 .5 2.2 0M206.8 152.9l-1.4-1.7 -1.5-1.6M196.3 154.6l.5-2.2 0-2.1M204.1 162.6l.3 2.2 .5 2.1" stroke="#fff" stroke-width="2.25" stroke-opacity="0.50"/>
<path d="M206 158.3l.9-2.5 1.1-2.3 1.5-2.2 1.6-2 1.9-1.8 2-1.6 2.3-1.3 2.3-1.2 2.4-1 2.5-.7 2.5-.7 2.5-.5 2.6-.5 2.6-.4 2.5-.2 2.6-.1 2.6-.1M196.6 168.4l-.9-2 -.4-2.2M202.5 164.8l-1.5-1.6 -1.1-1.9M199.3 157.6l.7-2.1 .6-2.1M191.3 163.3l1.8 1.3 1.9 1.1M195.7 156.3l1.6-1.6 1.2-1.9M169.2 140.8l1.3 1.8 .8 2M166.4 138.1l-.5 2.1 -.9 2M213.7 187.7l-1.5 1.6 -1.3 1.7" stroke="#fff" stroke-width="1.75" stroke-opacity="0.67"/>
<path d="M187.7 158.4l-1.4-1.7 -1-1.9M198.3 153.9l1.4-1.8 1.8-1.2M175.6 138l-1.3 1.8 -1.4 1.6M175.2 136.8l-2.2 .4 -2.1 .7" stroke="#fff" stroke-width="2.00" stroke-opacity="0.67"/>
<path d="M208.7 150.4l1-1.9 1.3-1.8M204.6 157.7l-2.1-.9 -2-.8M207.7 167.2l1.3-1.8 1.2-1.8M203.3 157.3l2.2 .2 2.2 .3M203.2 153.3l-.4-2.1 -.5-2.2M201.6 161.7l1.9-1.1 1.8-1.3M180.1 129l.6 2.1 .8 2" stroke="#fff" stroke-width="2.25" stroke-opacity="0.67"/>
<path d="M213.2 161.7l-.3-2.2 -.3-2.2" stroke="#fff" stroke-width="2.50" stroke-opacity="0.67"/>
<path d="M175.3 137.7l-.6 2.1 -.8 2" stroke="#fff" stroke-width="1.50" stroke-opacity="0.67"/>
<path d="M204.3 164.9l1.8-1.3 1.9-1" stroke="#fff" stroke-width="2.25" stroke-opacity="0.83"/>
<path d="M177.6 138.5l-2 .9 -1.8 1.3" stroke="#fff" stroke-width="2.50" stroke-opacity="0.83"/>
<path d="M181.3 141.1l-.1 2.2 -.6 2.1M180.1 134.9l.4 2.1 .6 2.2" stroke="#fff" stroke-width="1.75" stroke-opacity="0.83"/>
<path d="M195.7 189.8l2.2 .4 2.1 .5" stroke="#fff" stroke-width="2.00" stroke-opacity="0.83"/>
</g>
<g fill="none" stroke-linecap="round" filter="url(#fb6)">
<path d="M204.3 165.3h0" stroke="#fff" stroke-width="1.60" stroke-opacity="0.50"/>
<path d="M199.7 163.4h0M209.7 157.9h0M197.9 164.8h0M202.4 172.1h0M222.2 164.5h0M215.6 163.1h0M204.7 146.6h0M210 156.3h0M170 139.9h0M167.9 138.1h0M187.9 142.6h0M198 191.5h0" stroke="#fff" stroke-width="2.00" stroke-opacity="0.67"/>
<path d="M199.3 165.3h0M164.9 134.5h0" stroke="#fff" stroke-width="1.60" stroke-opacity="0.67"/>
<path d="M199.1 165h0M205.3 170.9h0M203.2 163.2h0M190.5 151.1h0M184 133.7h0M170.1 134.8h0M184.2 138h0M213.5 191.4h0M214.8 189.7h0" stroke="#fff" stroke-width="2.40" stroke-opacity="0.67"/>
<path d="M196.7 159.8h0M207.6 164.2h0M206 161.5h0M207.3 159.9h0M198.4 157.8h0M203.8 157.9h0M193.1 160.3h0M201.5 163.2h0M201.9 164.8h0M214.3 191.8h0" stroke="#fff" stroke-width="2.40" stroke-opacity="0.83"/>
<path d="M197 167.9h0M214.3 159.5h0M170.9 132.9h0" stroke="#fff" stroke-width="2.00" stroke-opacity="0.83"/>
<path d="M179.9 137h0M196 193.1h0" stroke="#fff" stroke-width="1.60" stroke-opacity="0.83"/>
<path d="M214.9 160.7h0M216.7 164.3h0M208.4 155.8h0M200.4 160.9h0M193.4 167.4h0" stroke="#fff" stroke-width="2.40" stroke-opacity="1.00"/>
<path d="M168 133.2h0M215.2 193.3h0" stroke="#fff" stroke-width="2.00" stroke-opacity="1.00"/>
<path d="M183.9 139.6h0" stroke="#fff" stroke-width="1.60" stroke-opacity="1.00"/>
</g>
<rect x="239.9" y="197.4" width="15.3" height="2.6" fill="#fff"/>
</g>
<rect x="157.7" y="208.2" width="104.5" height="81.2" fill="#000"/>
<g clip-path="url(#cb1)">
<rect x="157.7" y="218" width="104.5" height="72" fill="#0b0800"/>
<rect x="153.7" y="258" width="112.5" height="20" fill="#5c4a00" fill-opacity="0.5" filter="url(#fb3)"/>
<path d="M157.7 277V240Q185 244 210 242T262.2 240V277Z" fill="url(#genv)" filter="url(#spk)"/>
<g fill="none" stroke-linecap="round" stroke-linejoin="round" filter="url(#fb5)">
<path d="M238.7 256.6l2.2-1.4 2.2-1.4 2.3-1.2M178 270.8l2.6 .1 2.6 .1 2.6 0 2.6-.1 2.6-.2 2.6-.1M155.2 246.6l2.5 .8 2.6 .6 2.5 .3 2.6 .1 2.6-.1 2.6-.3 2.6-.6M180.9 259.2l2.5-.7 2.4-1M165.9 270.4l2.6 .4 2.5 .2 2.6 .3 2.6 .2 2.6 .1 2.6 0M175.8 266.2l2.4 .9 2.4 1M252.6 266.6l2.4-1 2.3-1.2 2.2-1.4 2.1-1.6 2-1.6M231.3 261.3l2.6 0 2.6 0 2.6 .1" stroke="#b89600" stroke-width="1.25" stroke-opacity="0.33"/>
<path d="M254.5 241.6l1.6-2.1 1.3-2.2 1.1-2.4 1-2.4M206.5 269.6l1.4-2.1 1.6-2.1 1.6-2M222.5 254.4l2.6-.1 2.6-.3 2.6-.5 2.4-.7 2.4-1.1M169.5 259.8l2.5 1 2.4 .9M220.4 259.2l2.5 .6 2.6 .6M201.3 264.5l2.5-.8 2.6-.6 2.5-.5 2.6-.4 2.5-.4" stroke="#b89600" stroke-width="1.00" stroke-opacity="0.33"/>
<path d="M235.6 268.6l2.5-.7 2.4-.9 2.4-1.1 2.2-1.3 2.1-1.6 1.8-1.9M190.6 244.1l2.4 1 2.4 1.1 2.3 1.1" stroke="#b89600" stroke-width="1.50" stroke-opacity="0.33"/>
<path d="M206.1 271.6l.2-2.4 0-2.4 -.2-2.4 -.3-2.4 -.4-2.4 -.5-2.3 -.7-2.3 -.6-2.3 -.7-2.3 -.7-2.3 -.8-2.3 -1-2.2 -1-2.2 -1.2-2.1 -1.3-2 -1.4-1.9 -1.4-1.9 -1.4-2 -1.4-2 -1.3-2" stroke="#eecb00" stroke-width="1.25" stroke-opacity="0.33"/>
<path d="M176.5 264.7l-.8-2.3 -.7-2.3 -.7-2.3" stroke="#fade1a" stroke-width="1.25" stroke-opacity="0.33"/>
<path d="M159.1 254.1l2.6-.4 2.6-.2 2.6-.2 2.6 .1 2.5 .3 2.6 .5M197.1 264.4l2.4 1.1 2.3 1.1M217.1 253.9l2.6-.2 2.6-.2 2.6-.1M190.6 262.7l2.6 .3 2.6 .1 2.6-.1 2.5-.5 2.5-.8 2.3-1.1M199 244.1l2.5-.8 2.4-.9 2.4-1 2.4-1.1 2.3-1.2 2.2-1.4M224.2 246.5l2.6 0 2.6 .3 2.5 .5M198.1 245.8l2.6-.2 2.6-.2 2.5-.5 2.5-.7M262.1 257.4l2.6 0 2.6 .2 2.6 .3M193.6 266.6l2.6 .7 2.5 .7 2.4 .7 2.5 .9 2.4 .9 2.4 1 2.4 1.1 2.3 1.1M177.6 254.1l2.4 1 2.4 1 2.5 .9 2.4 1 2.4 1 2.4 .9M190.3 262.2l2.6-.6 2.5-.3M193.3 263.5l1-2.4 .8-2.4 .7-2.5 .5-2.6 .4-2.6" stroke="#b89600" stroke-width="1.25" stroke-opacity="0.50"/>
<path d="M210.9 250.6l2.4-.9 2.4-1.1 2.2-1.3 2.2-1.5M205.4 246.5l2.4-1 2.4-1 2.4-1M196.8 240.2l2.5-.6 2.5-.6 2.5-.7 2.6-.6 2.5-.7 2.5-.6 2.5-.8M178.5 257.8l2.5-.6 2.6-.2 2.6 0 2.6 .4 2.5 .7M164.7 263.6l1.2-2.3 1-2.4 .8-2.4 .6-2.6 .3-2.5 0-2.6 -.3-2.6M160.4 246.5l2.6 .1 2.5 .3 2.6 .6 2.4 1 2.2 1.3M228.4 257.4l1.6-2 1.6-2.1M228.6 270.8l2.6 .1 2.6 .1 2.6 0 2.6 .1 2.6 0M171.5 270.8l2.6-.3 2.6 0 2.5 .1 2.6 .4 2.6 .6 2.5 .7M165.7 270.5l2.5 .2 2.6 .4 2.6 .4 2.5 .6 2.6 .5 2.5 .6 2.5 .7 2.5 .7M162.3 245.5l2.5-.3 2.6-.1 2.6 0M260.8 265.4l2.6 0 2.6-.1 2.6-.3 2.6-.4 2.5-.7 2.4-.9 2.4-1.1 2.2-1.3M245.7 255.1l2.3-1.2 2.2-1.4" stroke="#b89600" stroke-width="1.00" stroke-opacity="0.50"/>
<path d="M160.3 262.8l2.6 .2 2.6 .5 2.5 .5 2.6 .5 2.5 .7 2.5 .8M152.4 255.5l1.5-2.1 1.7-1.9 1.9-1.8 1.9-1.8 2-1.7 2-1.6 2-1.7M216.1 256.8l1.6-2.1 1.6-2 1.7-1.9 1.8-2 1.7-1.9M214.8 269.2l2.4-.8 2.5-.9 2.4-.9 2.5-.9M208.9 244.9l1.4-2.1 1.6-2.1 1.5-2.1 1.6-2.1 1.7-1.9M156.3 257.8l2.6-.1 2.6 .1 2.6 .3 2.6 .4 2.5 .7 2.4 1 2.3 1.1M258.7 244.4l2.4-1 2.4-1.2M235.9 261.3l.9-2.5 1-2.3 1.1-2.4 1.1-2.3 1.2-2.4M255.9 244.8l2.4-.8 2.5-.7 2.6-.6 2.5-.6 2.5-.5M206.1 253l2.6-.5 2.5-.6 2.4-1 2.3-1.2 2-1.7M232.2 264.4l2.5-.7 2.5-.7 2.5-.7" stroke="#b89600" stroke-width="1.50" stroke-opacity="0.50"/>
<path d="M160.8 260.4l1.1-2.1 1.1-2.1 1.2-2.1 1.2-2.1 1.1-2.1 1-2.2M186.2 235.3l.6-2.3 .8-2.2 1-2.2" stroke="#d0aa00" stroke-width="1.00" stroke-opacity="0.50"/>
<path d="M171.9 243.7l-2-1.4 -2-1.4 -2-1.3 -2.1-1.1M266.6 228l1.5-1.9 1.4-1.9 1.3-2.1 1.3-2M232.7 250.2l-1.8-1.5 -1.9-1.4 -2.1-1.4 -2.1-1.1 -2.2-.9 -2.3-.7 -2.3-.6 -2.4-.3 -2.4 0" stroke="#eecb00" stroke-width="1.25" stroke-opacity="0.50"/>
<path d="M189.9 260.9l.5-2.4 .3-2.3 .3-2.4 0-2.4 -.3-2.4 -.6-2.3 -.8-2.3 -1.2-2.1 -1.4-1.9M245.8 265.7l.1-2.4 .3-2.4 .4-2.4 .4-2.3 .5-2.4 .4-2.4 .3-2.3 .4-2.4 .3-2.4 .3-2.4M178.7 272.3l-.6-2.3 -.9-2.2 -1.1-2.1 -1.5-1.9 -1.7-1.7 -1.9-1.4 -2.1-1.2 -2.3-.8 -2.4-.5 -2.4 0 -2.3 .5 -2.3 .8 -2 1.3" stroke="#d0aa00" stroke-width="1.25" stroke-opacity="0.50"/>
<path d="M163.9 233.3l-.8-2.2 -.4-2.4 -.1-2.4M160 272.5l.2-2.4 .3-2.4 .3-2.4 .3-2.4 .2-2.4 .2-2.3 .1-2.4 .1-2.4M166.9 259.5l-1.8-1.6 -1.9-1.5 -1.8-1.5 -1.9-1.6 -1.8-1.5 -1.8-1.6 -1.8-1.6 -1.6-1.8 -1.6-1.8 -1.5-1.9 -1.2-2 -1.1-2.2 -.8-2.2M164.7 234.9l2-1.4 2-1.2 2.2-1M195.4 255.5l1.6-2 1.7-2 1.9-1.8 1.9-1.7 2.1-1.5 2.2-1.5 2.2-1.3 2.2-1.3 2.3-1.3 2.3-1.3 2.2-1.4" stroke="#fade1a" stroke-width="1.00" stroke-opacity="0.50"/>
<path d="M210.1 233.9l-1.4-1.9 -1.5-1.9 -1.6-1.7M189.9 263.9l.5-2.4 .9-2.2 1.2-2.1 1.6-1.8 1.8-1.5 2.1-1.2 2.3-.9 2.3-.4 2.4-.2 2.4 .1 2.4 .3" stroke="#c09c00" stroke-width="1.00" stroke-opacity="0.50"/>
<path d="M177.3 260.9l-1.3-2 -1.4-2 -1.4-1.8 -1.7-1.8 -1.7-1.6 -1.9-1.5 -2-1.4 -2.1-1.1" stroke="#fade1a" stroke-width="1.25" stroke-opacity="0.50"/>
<path d="M190 249l.4-2.3 .6-2.4 .7-2.3 .9-2.2M234.3 254.3l1.3-2.1 1.4-1.9 1.6-1.8 1.7-1.8M188.2 245.4l0-2.4 -.1-2.4 -.1-2.4 0-2.4M220.2 240.4l.2-2.4 .5-2.3 .6-2.3 1-2.2 1.4-2M197 239.2l2.4-1.1 2.3-1.3 2.2-1.3 2.1-1.5 2.2-1.5 2.1-1.5 2.1-1.6 2-1.6 1.8-1.8 1.7-2" stroke="#c09c00" stroke-width="1.25" stroke-opacity="0.50"/>
<path d="M248.3 241.2l1.5-1.9 1.6-1.8 1.7-1.7 1.7-1.7" stroke="#c09c00" stroke-width="1.50" stroke-opacity="0.50"/>
<path d="M244.6 259.4l1.2-2.1 1.4-1.9 1.7-1.8 1.9-1.5 2-1.3 2.1-1.1 2.2-.9M234.2 254.3l-.5-2.3 -.4-2.4 -.3-2.4 -.2-2.4 -.2-2.4 -.2-2.4 0-2.4 .1-2.4" stroke="#e0ba00" stroke-width="1.25" stroke-opacity="0.50"/>
<path d="M261.4 250.1l2-1.3 2.2-1 2.2-.8 2.4-.5 2.4-.3" stroke="#eecb00" stroke-width="1.00" stroke-opacity="0.50"/>
<path d="M225.1 257.1l-1.3-2 -1.2-2.1 -1.1-2.1 -1.1-2.1 -.9-2.2 -.8-2.3 -.7-2.3 -.7-2.3 -.6-2.3 -.6-2.4 -.3-2.3 -.2-2.4" stroke="#e0ba00" stroke-width="1.50" stroke-opacity="0.50"/>
<path d="M152.2 270.7l2.1-1.6 1.9-1.7 1.9-1.8 1.7-1.9M177.6 263l2.6 0 2.6 0 2.6 .2 2.6 .4 2.5 .5 2.5 .7M252 269l2.5-.8 2.5-.7 2.5-.6 2.6-.5M258.6 265.6l2.3-1.1 2.3-1.3 2.2-1.3 2.2-1.5 2-1.6 2-1.7 1.8-1.9M199.9 270.7l2.5-.5 2.6-.2M261.6 265.8l2.4-.8 2.6-.7 2.5-.5 2.6-.4 2.5-.4M258.1 264.1l2.6-.5 2.6-.3 2.6-.3 2.6-.2 2.5 0 2.6-.1 2.6 .1M210.5 258.6l2.5 .6 2.5 .7 2.5 .7 2.6 .6 2.5 .7 2.5 .7 2.5 .7 2.4 .8M151.8 265.3l2.4 1.1 2.3 1.2M209.3 267.4l2.3 1.1 2.3 1.3 2.3 1.2 2.3 1.3 2.2 1.3 2.3 1.3M197.4 262.8l1.7-1.9 1.7-2 1.8-1.9 1.9-1.8 1.9-1.7M165.7 250.7l2.6 0 2.6-.2 2.5-.5 2.6-.6 2.4-1 2.3-1.1M174.5 248l2.6 .1 2.6-.2 2.6-.5 2.4-.8 2.4-1 2.3-1.3 2.1-1.5" stroke="#b89600" stroke-width="1.00" stroke-opacity="0.67"/>
<path d="M158 261.8l2.3-1.2 2.2-1.4 2.1-1.6 2-1.6M226.5 254.8l1.1-2.3 1.3-2.3 1.4-2.2 1.7-2 1.7-1.9 1.9-1.8 2-1.7M168.1 262.7l1.7-2.1 1.3-2.2 1.1-2.3M183.8 254l2.5 .6 2.4 1M171.5 270.5l2.5 .3 2.6 .2 2.6 .1 2.6 .1 2.6 .1 2.6 .1 2.6 .2M189.8 243.9l2.6-.3 2.6-.2 2.6-.2 2.5-.4M248.1 258.6l2.6-.6 2.5-.6 2.5-.6 2.6-.6 2.5-.7 2.5-.7M205.3 247.1l.9-2.4 .9-2.4 .7-2.5 .6-2.6M183.4 267.1l2.6-.2 2.5 .3 2.6 .5 2.5 .7 2.4 1.1M260.9 254.4l2.6-.2 2.6-.4 2.5-.6 2.5-.8 2.3-1M259.9 266.5l2.5-.5 2.5-.7 2.4-1M246.8 252.2l1.8-1.8 2-1.7 2.1-1.5 2.3-1.3 2.4-1 2.5-.8 2.5-.5M189.2 245.1l1.8-1.9 2-1.8 2-1.5M168.5 265.2l2.6 .1 2.6 .4 2.5 .8 2.3 1.1 2.3 1.3M193.7 265.5l2.6-.2 2.6-.3 2.6-.5 2.5-.6 2.5-.7 2.4-1 2.4-1 2.3-1.3M175.4 251.8l2.6 0 2.6-.2 2.5-.4 2.5-.7 2.5-.9 2.3-1.1 2.2-1.4M198.9 247.1l1-2.4 1-2.4" stroke="#b89600" stroke-width="1.25" stroke-opacity="0.67"/>
<path d="M244.9 270.4l.9-2.4 .8-2.5 .7-2.5 .5-2.5 .4-2.6 .1-2.6M233.7 264.5l2.5 .5 2.6 .5 2.5 .4M166.5 254.8l2.4-1.1 2.3-1.1" stroke="#b89600" stroke-width="1.50" stroke-opacity="0.67"/>
<path d="M173.9 245.7l.9-2.2 .6-2.3 .4-2.4 .2-2.4M267.1 268.3l-1-2.2 -1.2-2.1 -1.3-2 -1.6-1.8 -1.9-1.5 -2.1-1.1 -2.2-.8 -2.4-.4M231.3 251l-.9-2.5 -1-2.4 -1.1-2.3 -1.1-2.4 -1.2-2.3 -1.3-2.3 -1.3-2.2 -1.3-2.2 -1.4-2.3 -1.3-2.2" stroke="#c09c00" stroke-width="1.25" stroke-opacity="0.67"/>
<path d="M164.2 242.5l-1.7-1.7 -1.6-1.9 -1.4-1.9 -1.3-2M193.5 230.3l.7-2.3 .4-2.3 -.1-2.4M182.9 251l1.7-1.7 1.7-1.7 1.7-1.7 1.8-1.6M173.1 268.9l-1.9-1.5 -1.9-1.5 -1.9-1.3 -2.1-1.3 -2-1.3M254.4 255.7l1.7-2 1.7-1.9 1.7-2 1.8-1.9 1.7-1.9 1.8-1.9 1.8-1.8 1.9-1.9 1.7-1.9" stroke="#c09c00" stroke-width="1.00" stroke-opacity="0.67"/>
<path d="M191.1 272.8l.4-2.4 .3-2.4 .3-2.4 .3-2.4 .3-2.3 .3-2.4 .1-2.4 0-2.4 -.2-2.4 -.4-2.4M170.7 251.5l-1.8-1.5 -2-1.4 -2-1.3 -2.2-1.1 -2.2-.8 -2.4-.5 -2.4-.3 -2.4 0 -2.3 .2M160.1 244.4l-.9-2.2 -1.2-2.1 -1.5-1.9 -1.8-1.6 -2-1.2 -2.2-1 -2.4-.5 -2.4-.2 -2.4 .2 -2.3 .4M257.6 244.9l.7-2.3 .7-2.3 .8-2.3" stroke="#fade1a" stroke-width="1.25" stroke-opacity="0.67"/>
<path d="M168.3 242.1l.7-2.3 .9-2.2 1-2.2 1.3-2.1 1.4-1.9M179.5 274.9l-.2-2.4 -.2-2.4 -.3-2.4 -.1-2.4 -.2-2.4 -.2-2.4 -.3-2.4 -.3-2.4 -.3-2.3 -.1-2.4 -.1-2.4 .1-2.4M209.8 265.5l.7-2.2 .5-2.4 .2-2.4 0-2.4 -.5-2.3 -.9-2.3 -1.2-2.1 -1.3-1.9 -1.6-1.8" stroke="#eecb00" stroke-width="1.25" stroke-opacity="0.67"/>
<path d="M213 243.5l-1.7-1.7 -1.8-1.7 -1.8-1.6 -1.8-1.5M206.9 244.6l-1.5-2.2 -1.5-2 -1.8-2 -1.8-1.9 -1.8-1.8 -2-1.7 -2-1.6 -2.1-1.5 -2.1-1.6 -2.1-1.6 -2-1.7 -1.8-1.8 -1.5-2.1 -1.4-.1M177.8 261.2l-2-1.7 -2-1.7 -2-1.6 -2-1.7 -2-1.6 -2-1.8 -1.8-1.8 -1.9-1.7 -2-1.7 -2-1.7 -2.1-1.5 -2.2-1.5 -2.1-1.5 -2.1-1.5 -2.2-1.4" stroke="#e0ba00" stroke-width="1.00" stroke-opacity="0.67"/>
<path d="M206.5 255.9l-1.2-2.1 -1.2-2.1 -1-2.2 -.9-2.2 -.9-2.2M226 243.9l.9-2.5 .9-2.4 .9-2.5 .9-2.4 .9-2.4 1.1-2.4 1.1-2.4 1.1-2.3 1.3-2.3 1.4-1.3 1.6 0 1.6 0 1.6 0" stroke="#eecb00" stroke-width="1.00" stroke-opacity="0.67"/>
<path d="M251.6 238.5l1.4-1.9 1.3-2 1.3-2.1 1.1-2.1" stroke="#fade1a" stroke-width="1.00" stroke-opacity="0.67"/>
<path d="M247.6 265.1l-1.2-2.1 -1.2-2.1 -1.3-2 -1.2-2 -1.3-2.1 -1.1-2.1 -.9-2.2 -.7-2.3 -.5-2.4 -.1-2.4 .3-2.4 .6-2.3 .9-2.2 1.4-2 1.6-1.7 1.9-1.5 2.1-1.2" stroke="#d0aa00" stroke-width="1.00" stroke-opacity="0.67"/>
<path d="M193.4 256.9l-1.4-2 -1.3-2 -1.1-2.1 -.9-2.2 -.8-2.3 -.6-2.3 -.3-2.4 -.2-2.4 .2-2.4 .4-2.4 .9-2.2 1.2-2.1" stroke="#d0aa00" stroke-width="1.25" stroke-opacity="0.67"/>
<path d="M179.5 248.8l1.1-2.3 1.3-2.2 1.6-2.1 1.7-2 1.9-1.7 2-1.7 2.3-1.3 2.3-1.1 2.5-.7 2.6-.3" stroke="#e0ba00" stroke-width="1.25" stroke-opacity="0.67"/>
<path d="M250.3 253.8l.4-2.4 .2-2.4 -.2-2.4 -.5-2.3 -.7-2.3 -1-2.2 -1.2-2 -1.4-2 -1.4-1.9 -1.6-1.9 -1.6-1.7M197.7 234.4l2-1.3 2-1.3 2.1-1.2 2-1.3M245 263.9l2.3-1.2 2.3-1.1 2.4-1.2 2.3-1.2 2.2-1.3 2.3-1.2 2.4-1.1 2.4-1.1 2.4-.9 2.4-.9 2.5-.7 2.6-.6 2.5-.3 2.6-.2" stroke="#c09c00" stroke-width="1.00" stroke-opacity="0.83"/>
<path d="M215.1 243.9l1.1-2.2 1.2-2 1.5-1.9 1.7-1.7 1.7-1.7 1.7-1.6M208.2 259.8l2-1.2 2.1-1.2 2.2-1.1 2.2-.9 2.3-.7 2.3-.5 2.4-.2 2.4 0 2.4 .1 2.4 .2 2.4 .4 2.3 .5 2.3 .7 2.3 .7M171.1 246.5l2.3-1.3 2.2-1.3 2.2-1.4 2.3-1.3 2.3-1.2 2.3-1.2 2.3-1.2 2.3-1.3 2.2-1.2 2.3-1.3 2.3-1.2 2.3-1.2M159.1 240.7l1.8-1.9 1.7-1.9 1.8-2 1.7-1.9 1.9-1.8 1.9-1.8 1.9-1.7 2-1.7" stroke="#d0aa00" stroke-width="1.25" stroke-opacity="0.83"/>
<path d="M217.1 240l-2-1.4 -2.2-1.1 -2.2-.9 -2.2-.8M210.7 252.9l.3-2.4 .2-2.4 .2-2.4 .1-2.4 -.1-2.4 0-2.4 -.1-2.4 -.1-2.4 -.2-2.4 -.4-2.3M183.3 271.6l.9-2.2 .6-2.3 .5-2.4 .4-2.4 .3-2.3 .3-2.4 .2-2.4 .3-2.4 .3-2.4 .3-2.4 .4-2.3 .4-2.4 .4-2.4 .2-2.4" stroke="#fade1a" stroke-width="1.00" stroke-opacity="0.83"/>
<path d="M249.4 235.9l.3-2.4 .1-2.4 -.2-2.4M259.6 249.5l-.3-2.4 -.2-2.4 -.2-2.4 -.3-2.3 -.2-2.4 -.1-2.4 -.1-2.4 .1-2.4 .1-2.4 .3-2.4 .5-2.4M231.9 248.7l-1.3-2 -1.6-1.8 -1.8-1.6 -1.9-1.5" stroke="#e0ba00" stroke-width="1.25" stroke-opacity="0.83"/>
<path d="M249.3 249.6l1.3-2 1.4-1.9 1.7-1.8 1.8-1.6 2-1.3 2.1-1.1 2.3-.7 2.4-.5M255.8 232.8l1.7-1.6 1.8-1.7 1.7-1.7M228 260.1l1.3-2.2 1.5-2.1 1.6-2 1.9-1.8 2-1.6 2.4-1.2 2.4-.9 2.6-.5 2.6 0 2.5 .5 2.4 .9M195.4 249.1l1.8-1.8 1.8-1.9 1.7-2 1.7-2 1.6-2 1.6-2 1.6-2.1 1.6-2 1.6-2.1 1.5-2.1 1.5-2.2 1.4-2.1M185.4 248.8l2.5-1 2.4-.9 2.4-1 2.4-1 2.4-1 2.3-1.2 2.2-1.3 2.1-1.5 2-1.7 1.9-1.8 1.8-1.9 1.8-1.8 1.9-1.8 1.7-2" stroke="#fade1a" stroke-width="1.25" stroke-opacity="0.83"/>
<path d="M208.8 259.3l.3-2.4 .2-2.4 0-2.4 -.2-2.4 -.4-2.3 -.8-2.3 -.9-2.2 -1.2-2.1 -1.3-2 -1.5-1.9" stroke="#eecb00" stroke-width="1.25" stroke-opacity="0.83"/>
<path d="M221.2 242.6l-.9-2.2 -1-2.3 -.9-2.2 -1.1-2.1 -1.2-2.1 -1.2-2.1M249.6 254.4l-2-1.7 -1.9-1.8 -1.6-2.1 -1.3-2.2 -1-2.4 -.7-2.5 -.6-2.6 -.3-2.5 -.3-2.6 -.2-2.6 -.1-2.6 -.2-2.6 -.1-2.6 -.4-2.6" stroke="#eecb00" stroke-width="1.50" stroke-opacity="0.83"/>
<path d="M191.9 233.2l.9-2.2 1.1-2.1 1.3-2 1.4-2M217.1 272.4l.7-2.3 .9-2.2 1.1-2.2 1.2-2.1 1.4-1.9 1.5-1.9 1.7-1.7 1.7-1.7 1.7-1.7 1.8-1.6 1.7-1.7" stroke="#eecb00" stroke-width="1.00" stroke-opacity="0.83"/>
<path d="M197.5 263l-1.7-2 -1.5-2.1 -1.3-2.3 -.9-2.4 -.6-2.5 -.3-2.6 .2-2.6 .5-2.5 1-2.4M162.1 246.4l1.4-2.2 1.3-2.3 1.2-2.3 1.1-2.3 .9-2.5 .7-2.5 .6-2.5 .5-2.5 .4-2.6 .3-2.6" stroke="#e0ba00" stroke-width="1.00" stroke-opacity="0.83"/>
<path d="M255 256.3l-1.3-2.3 -1.2-2.3 -1.2-2.3 -1.2-2.3 -1.1-2.4 -1.2-2.3 -1.2-2.3 -1.2-2.3 -1.2-2.3M247.7 248l1.4-2.1 1.5-2.1 1.7-2.1 1.7-1.9 1.9-1.7 2.1-1.6 2.1-1.5 2.2-1.4 2.4-1.1 2.5-.8 2.5-.3 2.6 .1 2.6 .4" stroke="#d0aa00" stroke-width="1.50" stroke-opacity="0.83"/>
<path d="M180.3 254.7l2.2-1.4 2.3-1.3 2.3-1.2 2.3-1.2 2.4-1.1 2.3-1.1 2.3-1.3 2.2-1.3M245.5 244l-1.5-2.1 -1.8-1.9 -2-1.6 -2.2-1.3 -2.5-1 -2.5-.5 -2.6-.1 -2.6 .4 -2.4 .9 -2.3 1.3 -1.9 1.8" stroke="#c09c00" stroke-width="1.25" stroke-opacity="0.83"/>
<path d="M200.8 246.2l2.4-.8 2.6-.6 2.5-.3 2.6-.3 2.6-.1 2.6 .1 2.6 .3 2.5 .5 2.5 .8 2.4 1 2.3 1.2 2.1 1.6 1.9 1.7" stroke="#fade1a" stroke-width="1.50" stroke-opacity="0.83"/>
<path d="M160.4 244l1-2.4 1.3-2.3 1.4-2.1 1.5-2.1 1.8-1.9 1.9-1.8 2.1-1.5 2.4-1.2 2.5-.7 2.5-.2 2.6 .1 2.6 .5 2.4 1 2.2 1.4" stroke="#c09c00" stroke-width="1.25" stroke-opacity="1.00"/>
<path d="M261.3 250.2l2.4-1.2 2.3-1.1 2.4-1 2.4-.9 2.5-.9 2.5-.6 2.6-.5 2.5-.4 2.6-.2 2.6 0" stroke="#c09c00" stroke-width="1.50" stroke-opacity="1.00"/>
</g>
<g fill="none" stroke-linecap="round" stroke-linejoin="round" filter="url(#fb1)">
<path d="M172.4 261.6l0-2.7M201 271.2l0-4M238.4 255.9l0-4.5M159.6 258.1l0-4.8M160 259.4l0-4.7M224.7 254.4l0-2.1M246 274.5l0-2.8M158 262.3l0-4.9M187.4 253.8l0-2.7M232.9 268.8l0-3.2M163.2 272.9l0-1.5M224.5 267.6l0-4.1M240.2 274.9l0-3.6M205 269.4l0-4.7M244.5 253.6l0-3.6M194.1 258.5l0-2.6" stroke="#ffe74a" stroke-width="0.75" stroke-opacity="0.33"/>
<path d="M223.4 268.7l0-2.4M185.6 260.7l0-2.7M226.1 253.7l0-2.6M182.8 258.1l0-3M231.3 254.6l0-1.9M198.5 255.1l0-4.6M163.6 264.6l0-2.5M205.7 265.1l0-3M199.3 272.7l0-2.6M256.5 260.3l0-3M207.7 270.9l0-2.6M237 258.2l0-4.1M224.9 272.3l0-2.6M197.9 267.6l0-2.1M184.8 256.7l0-4.7" stroke="#ffe74a" stroke-width="0.50" stroke-opacity="0.33"/>
<path d="M205.4 270.9l0-4.2M210.1 265.8l0-4.2M221.8 257l0-3.9M184.7 265.6l0-3.5M255.6 254.6l0-1.7M227.6 257l0-2.2M179.9 269.6l0-2.6M199 255.5l0-2.3M190.3 257l0-4.8M231 259.2l0-1.7" stroke="#ffe74a" stroke-width="0.50" stroke-opacity="0.50"/>
<path d="M251.5 270.2l0-1.5M242.3 266.5l0-4.8M186.1 265l0-3M247.2 271l0-4.9M170.7 270.2l0-2M169.1 253.6l0-2.6M236.4 270.8l0-1.9M241 273.7l0-3.8M238.4 262.8l0-3.6M207.6 270.8l0-3M219.8 269.3l0-2.2M255.2 254.3l0-3.3M181.7 268l0-4.2" stroke="#ffe74a" stroke-width="0.75" stroke-opacity="0.50"/>
<path d="M237.4 264.4l0-4.9M245.3 266.9l0-1.7M203.6 266.4l0-3.6M175.9 261.6l0-3.9" stroke="#ffe74a" stroke-width="0.75" stroke-opacity="0.67"/>
<path d="M192.5 257.5l0-4.5M188.3 267.6l0-2.9" stroke="#ffe74a" stroke-width="0.50" stroke-opacity="0.67"/>
</g>
<rect x="156.7" y="276.0" width="106.5" height="17.0" fill="#000"/><rect x="157.7" y="265.6" width="104.5" height="14.0" fill="url(#gband)" opacity="1.00"/>
<g fill="none" stroke-linecap="round" filter="url(#fb1)">
<path d="M257.6 275.1h0M183.4 275.4h0M221.2 275.4h0" stroke="#fff6b0" stroke-width="2.00" stroke-opacity="0.33"/>
<path d="M195.7 275.4h0M261.4 274.8h0M197.7 275.4h0M162.8 275.2h0M220 274.8h0M215 274.3h0M175.9 274.8h0M225.3 274.5h0" stroke="#fff6b0" stroke-width="1.20" stroke-opacity="0.33"/>
<path d="M221.4 275.2h0M251.6 275.1h0M162 274.6h0" stroke="#fff6b0" stroke-width="1.60" stroke-opacity="0.33"/>
<path d="M240.7 275.2h0M214 274.4h0M179.2 275.2h0M182.1 274.5h0M201.3 274.7h0M208 275.4h0M245.7 274.6h0" stroke="#fff6b0" stroke-width="1.60" stroke-opacity="0.50"/>
<path d="M205.4 275.2h0M179.6 274.5h0M245 274.7h0M179.2 275.3h0M187.2 275.1h0" stroke="#fff6b0" stroke-width="2.00" stroke-opacity="0.50"/>
<path d="M179.2 275h0M226.8 274.7h0M191.6 274.4h0M206.9 274.9h0M170.6 274.7h0" stroke="#fff6b0" stroke-width="1.20" stroke-opacity="0.50"/>
<path d="M237.8 274.8h0M240.1 275.1h0" stroke="#fff6b0" stroke-width="1.20" stroke-opacity="0.67"/>
<path d="M186.8 274.9h0M228.2 275.5h0M173.7 275h0M233 274.5h0M215.8 275.1h0M172 274.9h0" stroke="#fff6b0" stroke-width="1.60" stroke-opacity="0.67"/>
<path d="M255 274.6h0M175.4 275h0M169.4 274.8h0M254.7 274.8h0M178.3 275.4h0M188.6 274.6h0M242.6 274.4h0" stroke="#fff6b0" stroke-width="2.00" stroke-opacity="0.67"/>
<path d="M228.2 275.5h0M198.3 274.7h0" stroke="#fff6b0" stroke-width="1.60" stroke-opacity="0.83"/>
<path d="M164.9 275.1h0" stroke="#fff6b0" stroke-width="1.20" stroke-opacity="0.83"/>
<path d="M250.7 274.7h0" stroke="#fff6b0" stroke-width="2.00" stroke-opacity="0.83"/>
</g>
</g>
<rect x="264.3" y="128.6" width="104.6" height="77.6" fill="#000"/>
<g clip-path="url(#cf2)">
<g fill="none" stroke-linecap="round" stroke-linejoin="round" filter="url(#fb6)">
<path d="M353.2 149l-2.1 1.7M337.5 133.8l2.6 .5M347.2 135l-1.6 2M340 171l-2.9 .9M300.2 156.3l-3 .9M275.4 144.5l.4 1.7" stroke="#fff" stroke-width="2.50" stroke-opacity="0.17"/>
<path d="M287.2 161.2l2.9 1.1M293.2 204.3l-.4 2.2M329.4 202.8l-2.4 .6M361.2 175l-1.6 .5M310 163.6l-1.4 .3M358.5 149.8l-1.3 2.2M355.3 149.8l1.7 .2" stroke="#fff" stroke-width="1.75" stroke-opacity="0.17"/>
<path d="M341.3 140.1l2.1 .3M369.4 175.7l-.4 1.3M355.9 160.8l-.5 2.8M328.2 161.6l1.5 .2M316.9 154.5l-2.7 .1M301.4 162.5l.9 2.6M280.5 189.6l-2.6 .6" stroke="#fff" stroke-width="2.00" stroke-opacity="0.17"/>
<path d="M358.8 136l.3 2.9M312.8 153.9l-2.9 1.2M342.6 192.5l1.4 1.8M271.2 130.5l-2.7 .6M349.5 170.6l1.7 .7M276.5 153l.8 1.9M330.6 192.6l2.5 1.4M327.3 183.8l1.5 2.1M306.2 165.1l-1 .8M319.4 164.7l.1 3.1" stroke="#fff" stroke-width="2.25" stroke-opacity="0.17"/>
<path d="M278.4 176.9l2.3 1.3M360.9 140.2l1.9 1.5M275.2 138.9l.5 1.8M349.9 194.3l.3 2.9M338.5 201.8l-1.8 2.5M282.8 204.1l1.9 .9M366.4 129.1l0 2.3M270.9 183.2l2.6 .9M310 201.8l-1.1 1.3M358.4 187.1l1.1 2.2M344.2 203.9l1.3 1M325.3 190.2l.2 2.9M322.1 198.2l-1.4 .2M307.3 154.2l-.4 2.7M282 203.4l.9 .8M341.2 173.6l1.6 2.6M339.6 203.1l-1.8 .7M304.2 207.6l-1.3 1.5M330.1 207.6l-1.9 2.1M352.4 148.6l-2.1 .9M277.7 148.8l2.2 .9M354.5 187.1l-1.5 2.5M347.2 188.6l.4 1.9M285.9 194.7l1.5 .8M325.9 140.5l2 1.2M307.4 202.5l-.8 1.6M278.1 182.4l-1.6 1.3M369.3 171.5l1.3 1.2M368.9 189.9l-.8 2.9M356.7 167.8l1 .9M339.8 159.7l-2.1 .9M278 179.1l3.1 .6M337.3 129.5l2.8 .2M283.7 199.9l-1.9 .6M287.3 128l1.2 1M269 193.2l-.2 2.9M286.9 180.9l-1.4 1.8M356.3 147l-1.8 .4M326.6 174.6l.3 2.3M271 142.8l1.9 .3M346.7 187.6l.8 1M281.2 126.9l-2.4 .9M270.2 169.7l2.2 1.4M358.8 127.1l.9 1.5M312.7 140l2 .5M293.4 134.6l-.6 2.2M268.3 194.3l2 .8M337.6 127.4l1.4 2.2M358 126.9l0 1.8M276.5 139.3l-1 1.2M290.9 174.6l-.3 1.9M369.9 153.4l2 1.2M290.2 172.1l.6 2.2M349.4 149.9l-.5 2.7M296.8 205l-.9 2.3M272.9 201.7l-.9 .9M351.2 132.7l1.8 .8M319.5 149.5l-2.8 1.5M270.4 159.4l-1.5 1.1M263.7 175.1l2.8 1.1M337.2 137.9l.5 1.8M273.1 179.6l-2.2 .5M309.1 139l2 .5M354.1 189.4l-1 1.1M329.1 165.7l-1.9 .6M311 202.1l-.2 1.7M354 173.2l-.9 2.2M299.3 138.7l-1 .7M263.2 159.8l.7 2.7M326.2 162.4l2.5 .7M322.1 193.1l2 1.5M335.9 158.3l-1.7 1.4" stroke="#fff" stroke-width="2.25" stroke-opacity="0.33"/>
<path d="M278.1 177.3l-1 2.3M298.5 182.7l-.1 2.7M364.4 144l.4 2.5M277.8 165.7l1 .9M314.8 143.3l2.4 .9M268.4 165.1l-1.8 .9M305.7 192.9l2.3 .1M293.8 179.5l-1.6 .6M338.6 163.9l1 2.5M367.8 158.4l1.7 .6M332.4 166.4l-2.4 1.5M284.2 172.9l-1.5 1.5M297.7 164.1l-.7 3.1M317.6 167.3l.5 2.8M342.5 134l.4 1.2M263.9 175.9l2.8 1.4M303.4 197.3l2 1M319.7 207.5l-.3 1.9M370.5 134.7l2 .1M343.6 181l-1.6 .7M285.8 155.3l.7 1.6M340.9 168.8l-1.5 .3M370.7 184.2l-.3 1.4M326.3 133.2l-1.4 2.5M340.8 187.9l1.2 1.4M280.8 147.8l0 2.5M314.2 181.9l-3.1 .3M272.7 184.9l-2.4 1.1M283.3 187.3l.2 1.6M290.7 151.2l-1 1.5M301.8 138.6l1.7 .4M273.6 183.8l1.7 .1M296.1 172.1l1 2.2M325.2 179.9l-.4 1.9M325.2 169.8l-.4 1.9M353.7 159.8l1.8 2.5M275.9 134.8l.7 1.8M297.2 157.3l-.9 .9M293.6 177.6l2 2.2M368 140.2l1.4 2.5M271.4 178.7l-1 .7M270.1 130.8l1.3 1M282.9 192.1l-.5 1.4M324.5 158l-.7 1M270.3 198.4l-1.3 2.3M329.4 195.5l-1.2 1.2M300.8 166.4l-.4 2.3M333.8 147.1l-2.1 .2M364.9 140.6l-.7 1.9M301.6 182l-1.9 .8M351.2 199.9l.3 2.6M363.7 154.7l1.5 .6M312.3 142.9l1.6 .9M344.9 162.3l.7 2M294.5 133.1l-.9 2.8M303.2 205.8l-.5 1.3M343.5 191.3l2.8 1.7M286 156.3l1.1 1.6M356.5 158.1l-2.6 .3M369.1 188.5l.7 2.4M366.5 173.5l-2.6 1.6M303.1 147.7l-1.5 .8M351.3 146.4l-1.9 .2M349 149.4l1.3 .5M279.3 158.6l-1.1 1.3M355.6 138.6l-.4 1.8M272.2 169.4l2.3 1.6" stroke="#fff" stroke-width="2.00" stroke-opacity="0.33"/>
<path d="M368.1 169.7l.9 2.9M357.8 204.6l.7 1.3M276.9 154.2l.2 1.9M293.1 133.5l-2.6 1.3M331.3 185.7l1.6 1.1M342.7 179.8l-1.1 2.7M289.5 147.1l1 1.1M298.8 173.3l.1 2.4M262.5 150.9l-1 1.2M364.8 178l.7 2.5M352.4 152.3l.5 1.3M327 196l2.2 1.4M318.3 145.2l-1.2 2.3M356 177.6l2.9 .9M312.9 190.6l1.4 .5M331.5 188.8l-.5 2.2M305.8 202.2l1.8 .9M339.8 203.6l-1.8 2.6M314.7 153.4l2.7 1.5M268.1 200.7l-1.1 2.2M293.7 135.8l-.5 1.8M290.7 138.1l.5 1.6M283.2 130.3l1.4 .1M340.7 185.5l1.2 1.5M294.8 185.6l.2 2.9M280.6 169.9l-.6 2.6M344.7 189.7l2.4 1.5M297.5 185.4l.9 1.5M279.8 174.8l-3.1 .7M288.5 194.5l-1.5 .5M325.9 155.4l.2 1.2M317.5 141.3l2.3 .6M303.1 133.2l-1.5 2.1M308.2 147.8l1.6 2.4" stroke="#fff" stroke-width="2.50" stroke-opacity="0.33"/>
<path d="M288.7 141.9l1.6 2.2M342.5 202.5l1 .8M351.4 140.4l-2.9 .9M269.9 165.9l-1.9 1.9M364.2 180.2l1.8 1.1M313.3 148.2l-1.4 2.2M296.1 179.6l-.6 2.8M309.4 137.9l2.2 .8M315.1 154.8l2.6 .2M295 168.4l-2.8 1.5M317 172.8l1.9 .2M298.4 197.5l-1.1 1.9M291.2 192.1l-3 .3M331.3 160.3l2 .7M351.7 205.1l-.6 1.5M300.8 156.2l.1 1.8M287.5 144.1l-1.6 .4M304 152l1 2.3M313.1 165.2l1 1.5M357.5 185.9l-2.7 .5M286.3 149.5l-.1 1.6M360.5 206l-1.2 2.1M305.6 197l1.2 .3M305.6 200.1l.7 1.6M346.7 166.7l.4 1.9M266.5 148.5l-2.1 1.8M341.5 181l.9 1.5" stroke="#fff" stroke-width="1.75" stroke-opacity="0.33"/>
<path d="M329.4 172.8l2.2 .3M322.9 162.6l-1.5 2.5M304.7 187.2l-.9 2.9M362.7 166.1l-1.3 .2M359.3 186.8l1.1 1.4M322.9 141.3l-3 0M369.3 194.6l-.1 1.6M347.4 203.4l-3.1 .2M347.6 150.9l0 1.2M333.8 137.7l2.7 .2M339.3 185.1l1.7 1.1M288.6 159.1l-2.5 .8M327.4 144.5l-1.1 .7M339.2 173.2l-1.9 .7M355.9 162.2l-2.7 .7M344.7 194l-1.8 .3M329.4 187.4l-1.8 1.7M269.2 135.5l1.5 2.7M288.9 184.3l-.8 1M280.8 167.7l-2.8 1.4M273.5 188.2l-1.5 .2M348.6 193.7l-1.2 1.9M287.9 166.5l-.5 1.4M342.3 186.3l2.8 .6M370.2 183.6l-1.5 .1M319.3 142.7l-1.7 .9M318.5 158.8l-2.3 1.1M284.6 206.5l.4 1.9M315.1 151.5l.6 1.2M283.9 200.6l-1.6 1.7M345.9 178.1l1.8 .2M289.1 133.5l-.5 2.3M335.7 187.5l1.5 .6M275 175.5l-1.5 .6M274.6 151.9l1.3 2.6M291.9 140.1l0 1.2M342 164.1l1.1 1.7M366.5 167.4l-2.4 2M369.6 206.6l-1.2 1.3M338.8 200.5l.8 1.9M275.2 148.5l-2.5 1.4M347.7 128.9l-1.1 1.6M357 154.7l2 1.2M286.3 154.3l1.7 .8M276.8 145.9l1.9 2.5M349.6 145.5l1.6 2.5M367.5 194.7l1.1 1.8M272.6 151.4l-1.8 1.5M348.9 129.5l-.1 2.3M324.5 189.1l-.8 2.9M287.7 171.2l1.6 2.6M348.9 146.5l1.6 1M286.3 130.2l1.3 2.3M322.8 159.1l-1.6 .7M348.8 174l1.5 .9M333.8 138.4l2.1 1.1M339 144.4l-1.2 2.9M342.3 137.5l-2.8 .9M361.1 178.4l2.3 2.2M292.1 131l-1.3 .4M337.1 129.3l.6 1.1M313.3 167.5l-1.8 1.1" stroke="#fff" stroke-width="2.25" stroke-opacity="0.50"/>
<path d="M357.8 186.6l.6 1.5M326.5 195.9l-2 0M364.2 200.4l.2 2.1M292.7 198.9l1.4 .1M344.8 146.6l-.8 2.9M325.3 171.8l0 1.3M345.1 195l2.1 .9M327.6 197.3l-1.3 2.8M290.8 184.7l3.1 .1M329.6 127.3l2.9 1.3M317.2 132.8l2.8 .5M367.6 139.6l.2 2.4M359.9 153.4l1 2.5M300.2 163.5l-1.9 .2M298 196.2l.9 2.9M324.5 186.6l-1.8 1.9M289.3 154.3l1 2M312.3 162.2l-1.1 1.3M349.4 159.2l.8 1.7M325.8 175.9l-2.7 1.1M326.8 195.3l-1.4 .6M309.7 175.7l2.3 .4M270.9 144.9l1.7 1.2M289.9 157.5l-2 .1M345.1 191.6l1.2 1.7M306.9 141.4l-1.7 0M361.5 205l1.8 1.1M361.4 199l-.9 1.7M366.3 197.4l3 1M308.6 187l1.9 1.5M332.5 128.7l-1.4 1.6M325.8 149.8l.3 2M262.4 167.5l1.1 .8M311.7 160l1.5 1.9M339 197.4l-.4 1.5M353.3 128.2l-.9 2" stroke="#fff" stroke-width="1.75" stroke-opacity="0.50"/>
<path d="M337.2 176.3l.4 2.2M270.2 196.6l-1.9 .7M362.1 164.9l1.8 0M289.3 137.9l2.4 0M278.9 132.1l2.6 1.7M303.5 192.9l-1.6 .2M269.3 169.3l.7 1.2M270.9 190.7l2.1 .5M354.4 139.2l2.2 .1M302 158.3l2.3 .7M306.1 153.4l2.5 1.3M345.9 153.5l-1.1 1.2M284.7 150.2l-1.7 1M291.8 136.6l2.9 .9M262.9 197.7l1.9 1.5M338.5 179.3l3.2 .3M271.4 180.3l-1.7 .1M346.7 127.5l-.9 2.4M277.2 128.8l.1 2M319.2 160.3l2.7 .6M281.1 137.1l.4 1.8M364.1 203.1l1.4 .4M305.6 166.3l-1.2 .3M264 176.1l-1.4 .4M358.7 178.8l-1.3 1M348.8 178.3l1.5 .5M355.7 192l-2.1 1.3M281.9 128.5l-3 .4M340 165.5l-1.9 1.7M304.1 150.6l-1.3 1.1M332.4 134.7l2.6 .8M271.9 188.5l1.1 1.2M281.1 151.3l.8 1M308.8 175.8l1.4 .6M347 175.5l-1.7 1.6M363.6 202l-1.9 .1M293.7 143l-.1 3.2M303 173.8l-1.5 1.1M334.1 136.1l-.7 2M310.1 202.1l-1 1.1M278.9 131.5l.7 1.1M326.6 201.8l.5 2.6M321.2 140.4l.4 1.9M346.6 141.1l.8 2.1M262.5 140.3l-1.4 2.4M345.4 206.3l-2.2 .6M308.8 162.1l2.1 .9M340.3 186.7l-1.3 1.6M349.7 141.9l-1.2 1.7M360.9 192.6l-.7 1.2M303.5 192.6l1.6 1.4M366 136l-2.7 .2M330.3 184.1l-1.5 .1M331.6 127.8l-.6 2M356.8 185.8l-1.6 .2M288.5 153.9l.4 1.3M322.9 187.5l.7 1.5M306.4 168.7l-1.4 .5M309.6 164.5l-.4 1.9M356.7 158l-1.5 .6M347.2 156l-.2 1.5M265.6 139.6l-1.3 1.7M317.6 190.1l-.1 2.1M352 185.5l-.1 2M368.1 168.2l-2 1.9M343.7 168.6l-2.3 .7" stroke="#fff" stroke-width="2.00" stroke-opacity="0.50"/>
<path d="M313.4 203.9l.4 2.4M291.9 200.3l-2.4 .9M343.1 193l-1.6 2.6M345.9 129.8l0 1.9M350.6 201.1l2.2 .7M339.1 169.2l.3 2M292.7 157.8l2.8 1.5M296.3 167.2l1.9 .6M360.4 204.9l1.1 .8M343.1 149.1l3.2 .4M273.5 181.7l-1.8 .7M359.9 149.6l-.2 1.4M369.1 166.5l-.8 .9M297.5 197.8l1.2 .7M359 146.2l-.1 2.9M329.9 198.1l1.3 .8M359.5 156.1l2.2 .1M304 159.1l1.4 1.9M287.7 154.7l-1.7 1.2M370 145.5l.2 1.1M311.5 180.4l-.6 2.2M300.3 132.3l1.5 2.4M367.8 183.6l2.3 1.4M268.2 167.5l-2.4 .8M348.7 135.8l2.7 1M299.7 196.7l1.9 .4M346 175.9l1.8 2.5M354 181.7l-.7 1.5M318.2 180.9l.9 .8M342.4 132l-1.8 .3M366.9 165.3l-2 0M292.8 135.3l.9 1.5M279.2 181.9l-1.2 1.5M343.7 184.1l-1.2 .6M321.8 189.9l3 1" stroke="#fff" stroke-width="2.50" stroke-opacity="0.50"/>
<path d="M272.4 140.5l-1.6 1.2M331.1 154.8l.6 1.3M345.3 202.5l-2.9 .5M311 183.3l.5 1.1M300.3 127.5l.7 3M352.9 161l-.2 1.9M307.8 154.3l2.4 1.6M340 205.3l-3.2 .1M289.9 130.8l.7 1.7M281.6 207.5l-2.1 .4M278.9 206.8l-2.1 .6M301.3 141.5l1.2 .3M361.8 167.4l1.1 1.1" stroke="#fff" stroke-width="2.25" stroke-opacity="0.67"/>
<path d="M311.4 207.8l-2.7 1.6M288.7 186.5l-1.6 .1M327.9 166.5l1.2 .7M315.3 196.7l2 1.6M349.9 196.1l-1.7 1.2M353.9 154.6l2.3 .8M338.8 145.9l.5 1.2M298 182.2l1.8 .5M335.1 190.9l-.8 2.8M265.1 193.6l-2.2 .5M369.9 129.3l-2.3 .1M360.1 194.9l-1.8 1.1" stroke="#fff" stroke-width="2.00" stroke-opacity="0.67"/>
<path d="M336.1 193.6l-2.1 1.4M337.4 197.1l-.6 2.9M310.9 171.6l-2.2 1.6M359.1 184.7l-3 .4M280.8 186.9l1.5 1.4M367.7 177.8l-.2 3" stroke="#fff" stroke-width="2.50" stroke-opacity="0.67"/>
<path d="M362.1 183.3l-1.1 1.6M342.6 184.3l-1.3 .2M275 193.8l-3 1M336.2 142.7l-.5 2.8M295.6 198.3l-1.4 .4M313.2 131.2l-.6 3.1M354.1 132.2l.4 1.9M301.1 195.3l2.3 .7M272 190.4l-1.2 1.1M290.7 136.9l2.1 1" stroke="#fff" stroke-width="1.75" stroke-opacity="0.67"/>
</g>
<g fill="none" stroke-linecap="round" filter="url(#fb6)">
<path d="M286.5 187.7h0M323.7 166.5h0M339.6 132.5h0M354.7 195.9h0M307.4 135.4h0M319.1 176.2h0M268.2 141.1h0" stroke="#fff" stroke-width="2.40" stroke-opacity="0.67"/>
<path d="M356.1 160.7h0M333.2 131.8h0" stroke="#fff" stroke-width="2.80" stroke-opacity="0.67"/>
<path d="M327.8 182.1h0M278.9 133.9h0M319.4 195.4h0M280.4 162.8h0M349 195.9h0M266.2 151.4h0M287.4 182h0" stroke="#fff" stroke-width="2.00" stroke-opacity="0.67"/>
<path d="M357.2 143.2h0M330.9 155.4h0M342.1 175.6h0M325.3 133.3h0M364.2 154.2h0M278 161.6h0M266.7 191.4h0M317 195.8h0" stroke="#fff" stroke-width="2.40" stroke-opacity="0.83"/>
<path d="M291 201.4h0M345 135.5h0M339.6 201.7h0M295.6 190.5h0M296.1 131.2h0" stroke="#fff" stroke-width="2.80" stroke-opacity="0.83"/>
<path d="M353 181.1h0M330.2 170.6h0M326.6 146.8h0M303 151.4h0M285.6 156.8h0M296.7 150.3h0M269.3 184.1h0" stroke="#fff" stroke-width="2.00" stroke-opacity="0.83"/>
<path d="M309.1 144.1h0M294.7 129.6h0M272.1 197.1h0M321.4 202.7h0M324.5 155.5h0" stroke="#fff" stroke-width="2.40" stroke-opacity="1.00"/>
<path d="M328.7 167h0" stroke="#fff" stroke-width="2.80" stroke-opacity="1.00"/>
</g>
<rect x="348.6" y="195.2" width="15.3" height="2.5" fill="#fff"/>
</g>
<rect x="264.3" y="208.2" width="104.6" height="81.2" fill="#000"/>
<g clip-path="url(#cb2)">
<rect x="262.3" y="276.0" width="108.6" height="5.0" fill="#7a6000" filter="url(#fbh)"/>
<rect x="262.3" y="277.3" width="108.6" height="2.2" fill="#e0b400" filter="url(#fbh)"/>
<g fill="none" stroke-linecap="round" stroke-linejoin="round" filter="url(#fb1)">
<path d="M354.8 275.2l0 4.5M270.7 276.9l0 3.4M288.8 276.2l0 3.5M311.8 275.9l0 3.4M365 277.8l0 2M269.5 276.2l0 3.2M306.4 276l0 3.2" stroke="#f0c000" stroke-width="1.00" stroke-opacity="0.33"/>
<path d="M277.8 277.1l0 2.1M267.1 277.3l0 1.8M295.8 275.9l0 3.8M364.4 277l0 2.1" stroke="#f0c000" stroke-width="0.75" stroke-opacity="0.33"/>
<path d="M329.8 275.3l0 4.1M356.4 276.4l0 3.8M295.6 275.6l0 4.3" stroke="#f0c000" stroke-width="1.25" stroke-opacity="0.33"/>
<path d="M277.4 276.8l0 1.9M325.7 278l0 1.6M284.6 276.6l0 2.1M273.1 276l0 2.8M288.6 275.5l0 3.7M278.3 275.1l0 4.4" stroke="#f0c000" stroke-width="1.25" stroke-opacity="0.50"/>
<path d="M367.2 277.1l0 2.4M337.6 276.6l0 3.6M299.1 277.2l0 2.1M320.3 275.3l0 4M338.8 276.5l0 3.3M332.7 275.8l0 3.6" stroke="#f0c000" stroke-width="0.75" stroke-opacity="0.50"/>
<path d="M284.7 276.7l0 2.7M294 276.2l0 3.1M342.8 276.1l0 3.5M354.7 276.7l0 3.6M295.5 276l0 3M269.4 275.5l0 3.6M276.3 275.8l0 3.2M270.5 276.2l0 4.1M368.7 275.9l0 4" stroke="#f0c000" stroke-width="1.00" stroke-opacity="0.50"/>
<path d="M344.2 276.1l0 3.4M365.7 277.1l0 2.8M338.4 277l0 1.6M284.7 276.6l0 3.5M315.3 276.2l0 2.7M302.7 276.6l0 2.8M338.3 276.8l0 2.3M289.4 277.4l0 2.2M290.4 277l0 3.3M307.9 277.6l0 1.6" stroke="#f0c000" stroke-width="0.75" stroke-opacity="0.67"/>
<path d="M285.4 276.7l0 2.9M336.8 276.3l0 3M322.1 275.8l0 3.8M360.6 275.8l0 3.7M341.2 275.8l0 4.2M345.4 276.6l0 2.7M364.1 275.5l0 4M264.8 275.1l0 4.3M318.3 276.4l0 3.2M307.2 276.9l0 2M354 277.2l0 2.8M287.1 275.4l0 3.8M274.2 276.1l0 4" stroke="#f0c000" stroke-width="1.25" stroke-opacity="0.67"/>
<path d="M355.2 276.3l0 2.5M265.9 277l0 2.5M268.1 276.8l0 3.1M320.5 275.9l0 3.9M290.6 275.9l0 4.3M324.8 277.6l0 2.2M320.9 277.4l0 2.1M282.6 277l0 1.6M347.9 276.2l0 3.9M339.6 277.1l0 1.7M317.7 275.5l0 4M356.5 276l0 4M278.3 276.4l0 2.3M279.6 276.3l0 2.9M281.2 276.9l0 2.4M324.4 277.1l0 2.8M307.7 276.2l0 4.4" stroke="#f0c000" stroke-width="1.00" stroke-opacity="0.67"/>
<path d="M354.4 276.3l0 2.3M352.2 276l0 4.3M276.4 276.4l0 3M354.4 277.5l0 2.1" stroke="#f0c000" stroke-width="1.25" stroke-opacity="0.83"/>
<path d="M344.9 277l0 1.6M366.8 277.8l0 1.8M311 276.4l0 3.6" stroke="#f0c000" stroke-width="0.75" stroke-opacity="0.83"/>
<path d="M280.8 276.2l0 3.2M335.2 275.4l0 4.4M308 275.9l0 4.3M285.6 276.3l0 2.2M266 276.6l0 1.9M308.1 275.5l0 3.5M292.7 276.7l0 2.6M280.7 276.5l0 3" stroke="#f0c000" stroke-width="1.00" stroke-opacity="0.83"/>
</g>
<g fill="none" stroke-linecap="round" filter="url(#fb1)">
<path d="M340.9 278.7h0" stroke="#ffe85c" stroke-width="2.80" stroke-opacity="0.33"/>
<path d="M274.5 278h0" stroke="#ffe85c" stroke-width="2.80" stroke-opacity="0.50"/>
<path d="M348.6 278.5h0M341 277.7h0M326.2 278.7h0M277.4 277.7h0M283.7 278.5h0M309.3 277.9h0M340.1 278.4h0" stroke="#ffe85c" stroke-width="2.40" stroke-opacity="0.50"/>
<path d="M365.1 278.3h0M334.5 278.3h0M309 277.9h0M332.9 277.9h0M300.3 278h0" stroke="#ffe85c" stroke-width="2.00" stroke-opacity="0.50"/>
<path d="M348.3 278.3h0M345.5 277.9h0M302.1 277.6h0M345.2 277.9h0M269.6 278.4h0" stroke="#ffe85c" stroke-width="1.20" stroke-opacity="0.50"/>
<path d="M344.6 278.1h0M283 278.5h0M359.4 277.6h0M330 278.3h0M268.7 278h0M299.4 278.5h0" stroke="#ffe85c" stroke-width="1.60" stroke-opacity="0.50"/>
<path d="M302.4 278.8h0M326.5 278.8h0M277.2 277.7h0" stroke="#ffe85c" stroke-width="2.00" stroke-opacity="0.67"/>
<path d="M283.9 278.5h0M320.7 278.3h0M286.9 278h0M285.3 278.4h0M367.7 278.5h0M363.2 278.3h0M288.5 277.7h0" stroke="#ffe85c" stroke-width="1.60" stroke-opacity="0.67"/>
<path d="M271.1 278.6h0M356.8 278.6h0M272.7 278.7h0" stroke="#ffe85c" stroke-width="2.80" stroke-opacity="0.67"/>
<path d="M347.9 278.7h0M322.3 278.2h0" stroke="#ffe85c" stroke-width="1.20" stroke-opacity="0.67"/>
<path d="M364 278.4h0M276.1 277.8h0" stroke="#ffe85c" stroke-width="2.40" stroke-opacity="0.67"/>
<path d="M287.6 278.1h0M354.8 278.7h0" stroke="#fff6a8" stroke-width="2.40" stroke-opacity="0.67"/>
<path d="M368.3 277.8h0M357.9 278.7h0M353.8 278.6h0M270.7 278h0" stroke="#ffe85c" stroke-width="2.00" stroke-opacity="0.83"/>
<path d="M302.3 278.5h0M300.1 277.7h0M353.5 278.5h0M335.9 278.6h0" stroke="#ffe85c" stroke-width="2.40" stroke-opacity="0.83"/>
<path d="M324.5 278.3h0M363.8 278.6h0M363.4 277.6h0M327.7 277.9h0" stroke="#ffe85c" stroke-width="1.60" stroke-opacity="0.83"/>
<path d="M364.8 278.2h0" stroke="#ffe85c" stroke-width="1.20" stroke-opacity="0.83"/>
<path d="M307.1 278.5h0M316.1 278.4h0M272.4 278.6h0M308.9 278.3h0M338.5 278.1h0" stroke="#fff6a8" stroke-width="1.60" stroke-opacity="0.83"/>
<path d="M309.7 278h0M273.5 278.5h0M301.4 277.9h0" stroke="#fff6a8" stroke-width="2.40" stroke-opacity="0.83"/>
<path d="M266.9 278.1h0M357.6 277.9h0" stroke="#fff6a8" stroke-width="2.00" stroke-opacity="0.83"/>
<path d="M305.1 278.5h0M335.5 278.2h0" stroke="#fff6a8" stroke-width="2.40" stroke-opacity="1.00"/>
</g>
</g>
<rect x="370.7" y="128.6" width="104.3" height="77.6" fill="#000"/>
<g clip-path="url(#cf3)">
<g fill="none" stroke-linecap="round" stroke-linejoin="round" filter="url(#fb6)">
<path d="M477.6 163.6l-.8-2.5 -.9-2.4 -1.3-2.3 -1.6-2.1 -1.7-1.9 -1.7-2 -1.9-1.8 -2-1.6 -2.3-1.3 -2.3-1.1 -2.5-.8 -2.5-.5 -2.6-.2 -2.6 .1 -2.6 .5 -2.5 .8 -2.3 1 -2.3 1.3 -2.2 1.5 -2.1 1.5 -2 1.7 -1.9 1.7 -2.1 1.6 -2 1.7 -1.9 1.7 -1.9 1.7 -2 1.7 -2.1 1.6 -2.2 1.4 -2.2 1.4M402.7 182l2.2 1.4 2.3 1.3 2.2 1.3 2.3 1.2 2.2 1.4 2.2 1.3 2.2 1.6 1.9 1.7 1.7 1.9 1.7 2 1.6 2.1 1.6 2 1.5 2.2 1.3 2.2 1.1 2.4 .7 2.5 .5 2.5 .1 2.6 -.2 2.6 -.5 2.6 -.8 2.4 -1 2.4M438.3 145.8l-.2 2.6 -.2 2.6 -.3 2.6 -.3 2.6 -.5 2.5 -.5 2.6 -.6 2.5 -.8 2.5 -.9 2.4 -1 2.4 -.9 2.5 -.7 2.5 -.6 2.5 -.4 2.6 0 2.6 .1 2.6" stroke="#fff" stroke-width="1.25" stroke-opacity="0.33"/>
<path d="M431.8 180.2l-1.8 1.8 -1.9 1.8 -1.9 1.9 -1.8 1.8 -2 1.7 -2 1.6 -2.3 1.3 -2.3 1.1 -2.5 .8 -2.5 .6 -2.6 .4 -2.6 .2 -2.6 .1 -2.6-.1 -2.5-.4 -2.6-.6 -2.4-1 -2.3-1.3 -2.1-1.4 -2.1-1.6 -2-1.7 -2-1.6 -2-1.7 -1.9-1.7M425.9 168.4l-.2 2.6 -.4 2.5 -.7 2.6 -.8 2.4 -1.1 2.4 -1.3 2.2 -1.6 2.1 -1.7 1.9 -1.8 1.9 -1.8 1.9 -1.8 1.9 -1.5 2.1 -1.3 2.2 -1.2 2.4 -1.1 2.3 -1.2 2.3 -1.3 2.2 -1.6 2.1 -1.8 1.9 -2 1.7 -2.1 1.5 -2.2 1.4 -2.3 1.2 -2.3 1.1 -2.4 1 -2.5 .7 -2.6 .6 -2.5 .3 -2.6 0 -2.6-.3 -2.6-.6 -2.4-.9 -2.3-1.2 -2.2-1.4 -2-1.6M384.8 133.8l2.5-.3 2.6-.6 2.4-.8 2.4-1.2 2.2-1.4 2-1.6 1.9-1.8 1.6-2.1 1.4-2.1 1.3-2.3 1-2.4 .8-2.4 .7-2.6 .5-2.5 .2-2.6 0-2.6 -.2-2.6 -.5-2.5 -.7-2.5 -1.1-2.4 -1.3-2.2 -1.5-2.2 -1.5-2.1 -1.6-2.1 -1.7-2M444.1 189.1l-1.9-1.7 -2-1.7 -1.9-1.8 -1.9-1.8 -1.6-2 -1.3-2.3 -1.2-2.3 -1-2.4 -.8-2.5 -.7-2.5 -.7-2.5 -.7-2.5 -.6-2.5 -.6-2.5 -.5-2.6 -.4-2.6 -.3-2.5 -.2-2.6 .1-2.6 .5-2.6 .6-2.5 .6-2.5 .8-2.5 1.1-2.4 1.3-2.2 1.6-2.1 1.8-1.8 2.1-1.6 2.2-1.4M404.6 132.6l.6 2.5 .5 2.5 .4 2.6 .3 2.6 .4 2.6 .2 2.6 0 2.6 -.4 2.5 -.6 2.6 -1 2.4 -1.2 2.3 -1.5 2.1 -1.7 2 -1.8 1.8 -2.1 1.6 -2 1.6 -2.1 1.5 -2.3 1.3 -2.4 .9 -2.5 .8 -2.5 .8 -2.6 .4M468.5 143.6l2.4 1 2.4 .9 2.5 .9 2.4 .8 2.5 .7 2.6 .5 2.6 .1 2.6-.2 2.5-.5 2.5-.8 2.3-1.2 2.2-1.4 2-1.7 1.8-1.9 1.5-2.1 1.2-2.3 1-2.4 .8-2.5 .7-2.4M438.6 177.4l2.6-.3 2.6-.4 2.5-.5 2.6-.5 2.5-.6 2.5-.7 2.5-.8 2.3-1.2 2.1-1.4 2-1.7 1.7-2 1.7-2 1.4-2.2 1.2-2.3 1-2.4 .8-2.5 .4-2.5 .2-2.6 .1-2.6 0-2.6 -.1-2.6" stroke="#fff" stroke-width="1.50" stroke-opacity="0.33"/>
<path d="M373.2 185.5l-.5-2.6 -.6-2.5 -.8-2.5 -.8-2.5 -1-2.3 -1.3-2.3 -1.3-2.3 -1.4-2.2 -1.3-2.2 -1.3-2.3 -1.2-2.3 -1.1-2.3 -.9-2.5 -.9-2.4 -.8-2.5 -.7-2.5 -.9-2.4 -.9-2.5 -.9-2.4 -.7-2.5 -.4-2.6 -.2-2.6 .1-2.6 .3-2.5 .5-2.6 .5-2.5 .3-2.6 .1-2.6 -.2-2.6 -.6-2.6M456.9 133l1.1-2.3 1.3-2.3 1.3-2.2 1.4-2.2 1.5-2.1 1.8-1.9 2-1.7 2.1-1.5 2.1-1.5 2.2-1.4 2.2-1.4 2.3-1.2 2.3-1.3 2.3-1.2 2.3-1.1 2.5-.8 2.5-.8 2.5-.7 2.5-.7 2.5-.5 2.6-.6 2.4-.8M463.6 141.3l-.9 2.4 -1.2 2.3 -1.3 2.2 -1.5 2.2 -1.6 2 -1.9 1.8 -2.1 1.5 -2.3 1.3 -2.4 1 -2.5 .7 -2.6 .5 -2.5 .4 -2.6 .3 -2.6-.1 -2.6-.2 -2.6-.3 -2.5-.5 -2.6-.5 -2.5-.5 -2.5-.8 -2.5-.9 -2.4-.8 -2.5-.9 -2.5-.8 -2.5-.7 -2.4-.7 -2.5-.8 -2.5-.6 -2.6-.7 -2.5-.8M469.8 193.9l2.5-.7 2.5-.5 2.6-.4 2.6-.3 2.6-.1 2.6 .3 2.5 .4 2.6 .7 2.4 .8 2.4 1 2.4 .9 2.5 1 2.3 1.1 2.3 1.2 2.1 1.5 2 1.8 1.8 1.8 1.6 2 1.5 2.2 1.4 2.2 1.1 2.4 .8 2.4 .5 2.6 .3 2.5 -.1 2.6 -.4 2.6 -.8 2.5 -1 2.4M398.6 176.6l-1.8 1.9 -1.9 1.8 -2.1 1.5 -2.3 1.2 -2.4 1 -2.5 .9 -2.5 .7 -2.5 .4 -2.6 .2 -2.6-.2 -2.6-.4 -2.5-.7 -2.4-1 -2.2-1.3 -2.2-1.5 -2-1.6 -1.8-1.9 -1.6-2.1 -1.3-2.2 -1.1-2.4 -1-2.3 -.8-2.5 -.4-2.6 -.3-2.6 -.1-2.6 .3-2.6 .5-2.5 .8-2.5 1.1-2.3 1.3-2.3 1.5-2.1 1.7-2 2-1.6" stroke="#fff" stroke-width="1.75" stroke-opacity="0.33"/>
<path d="M467 202l-2.5-.4 -2.6-.2 -2.6 .1 -2.6 .4 -2.5 .8 -2.4 .9 -2.4 1.1 -2.2 1.4 -2.1 1.5 -2 1.7 -1.8 1.9 -1.7 1.9 -1.7 2 -1.8 1.8 -2 1.7 -2.1 1.5 -2.2 1.4 -2.3 1.1 -2.5 1 -2.5 .7 -2.5 .4 -2.6 .1 -2.6-.2 -2.6-.4 -2.5-.5 -2.6-.5 -2.5-.5 -2.5-.7 -2.5-.9M455.1 171.8l1.8 1.8 1.7 2.1 1.3 2.2 1.1 2.4 .7 2.5 .6 2.5 .4 2.6 .2 2.6 .1 2.6 -.3 2.5 -.6 2.6 -.8 2.4 -1.2 2.3 -1.4 2.2M450.6 176.4l-.5 2.6 -.8 2.5 -1 2.4 -1 2.3 -1.2 2.4 -1.2 2.3 -1.4 2.2 -1.5 2.1 -1.7 2 -1.7 1.9 -1.6 2.1 -1.4 2.2 -1.1 2.3 -.8 2.5 -.5 2.5 -.2 2.6 .2 2.6 .3 2.6 .4 2.6 .3 2.6 0 2.6 0 2.6 .1 2.6 -.1 2.6 -.2 2.6 -.6 2.5 -.8 2.5 -.9 2.4 -.9 2.4 -.8 2.5M389.3 140l.6 2.5 .7 2.5 1 2.4 1 2.4 1.2 2.3 1.5 2.1 1.7 1.9 2 1.8 2.1 1.5 2.3 1.2 2.4 1.1 2.5 .7 2.5 .6 2.6 .3 2.6 0 2.6-.3 2.5-.5 2.5-.7 2.5-.8 2.4-.9 2.5-1 2.3-1 2.3-1.3 2.2-1.3 2.1-1.6 1.8-1.9 1.6-2 1.3-2.3 1.2-2.3 1-2.4 1-2.4 1-2.4 .7-2.5 .8-2.5 .9-2.4M472 207.1l-1.7 2 -1.7 2 -1.7 1.9 -1.9 1.9 -1.9 1.7 -1.9 1.8 -1.8 1.9 -1.7 2 -1.4 2.1 -1.3 2.3 -.9 2.4 -.7 2.5 -.7 2.5 -.4 2.6 -.2 2.6 .1 2.6 .4 2.6 .4 2.5 .2 2.6 .3 2.6 .2 2.6 .1 2.6 .2 2.6 .3 2.6 .2 2.6 .2 2.6 .1 2.6 .2 2.5 .4 2.6 .5 2.6 .8 2.5 .8 2.4M454 137.1l2.5 .2 2.6 0 2.6-.1 2.6 0 2.6 0 2.6 .1 2.6 .4 2.5 .7 2.4 1 2.2 1.3 2.1 1.6 1.9 1.8 1.6 2 1.4 2.2 1.2 2.3 1.1 2.4 .7 2.5 .5 2.5 .3 2.6 0 2.6M419.8 143.4l.7 2.5 .7 2.6 .7 2.5 .6 2.5 .6 2.5 .6 2.5 .4 2.6 0 2.6 -.2 2.6 -.4 2.6 -.7 2.5 -1.1 2.3 -1.2 2.3 -1.4 2.2 -1.6 2.1 -1.6 2 -1.8 1.9 -1.9 1.8M405.4 146.4l2.2 1.4 2.2 1.3 2.3 1.2 2.3 1.3 2.2 1.3 2.2 1.5 2 1.7 1.8 1.7 1.8 1.9 1.7 2 1.7 2 1.6 2 1.5 2.2 1.5 2.1 1.4 2.2 1.5 2.1 1.3 2.3 1 2.3 .8 2.5 .7 2.5 .5 2.6 .4 2.6 .3 2.5 .1 2.6 0 2.6 -.1 2.6 0 2.6 .1 2.6M415.5 169.7l-1.8 2 -1.7 1.9 -1.9 1.8 -2 1.6 -2.2 1.5 -2.2 1.4 -2.2 1.3 -2.2 1.3 -2.3 1.3 -2.3 1.2 -2.4 1 -2.5 .8 -2.4 .9 -2.5 .7 -2.5 .8 -2.5 .9 -2.3 1.1 -2.2 1.3 -2.3 1.4 -2.1 1.4 -2.1 1.6 -1.9 1.8 -1.6 2 -1.4 2.2 -1.1 2.4 -.8 2.4 -.4 2.6 -.3 2.6 .1 2.6 .2 2.6 .4 2.6 .7 2.4M425.3 138.9l-2.6-.2 -2.6-.2 -2.6 0 -2.6 .2 -2.6 .4 -2.5 .5 -2.5 .8 -2.4 1.1 -2.3 1.1 -2.2 1.4 -2.1 1.5 -2 1.7 -1.8 1.9 -1.6 2 -1.4 2.2 -1.1 2.4 -.8 2.4 -.6 2.6 -.3 2.6 -.1 2.5 .3 2.6 .6 2.6 .8 2.4 1.2 2.4 1.4 2.1 1.6 2 1.9 1.8 2.1 1.6 2.2 1.4 2.2 1.4 2.2 1.4 2.2 1.3 2.3 1.3 2.3 1.1 2.4 1" stroke="#fff" stroke-width="1.50" stroke-opacity="0.50"/>
<path d="M477.6 206.3l2 1.7 1.9 1.7 1.8 1.9 1.7 2 1.4 2.1 1.4 2.3 1.3 2.2 1.5 2.2 1.4 2.1 1.5 2.1 1.4 2.2 1.2 2.3 1.2 2.4 1 2.3 1.1 2.4 1.2 2.3 1.3 2.3 1.5 2.1 1.7 1.9 1.9 1.8M448.4 129.7l1.3-2.3 1.2-2.3 1.1-2.4 .8-2.4 .7-2.5 .6-2.6 .5-2.5 .5-2.6 .3-2.6 .4-2.5 .4-2.6 .7-2.5 .6-2.5 .5-2.6 .4-2.5 .3-2.6 -.1-2.6 -.3-2.6 -.6-2.5 -.9-2.5 -1.2-2.3 -1.5-2.1 -1.5-2.1 -1.7-2 -1.8-1.9 -1.8-1.8 -1.9-1.8 -2.1-1.6 -2.2-1.4 -2.3-1.1 -2.5-.9 -2.5-.7 -2.4-.8 -2.5-.8 -2.5-.9M400.3 206.5l2.3-1.3 2.3-1 2.5-.9 2.5-.5 2.6-.4 2.6-.3 2.6-.1 2.6-.2 2.6-.2 2.6-.1 2.6 0 2.6 0 2.6-.1 2.6 0M436.5 142.1l1.8-1.9 1.6-2 1.4-2.2 1.2-2.3 1-2.4 .9-2.5 1-2.4 1.2-2.3 1.4-2.1 1.8-2 1.9-1.7 2-1.6 2.2-1.5 2.1-1.5M413.6 131.7l1.9 1.8 2 1.6 2.1 1.6 2.2 1.3 2.3 1.2 2.4 1.1 2.4 1.1 2.3 1 2.3 1.2 2.3 1.3 2 1.6 1.9 1.8 1.7 2 1.4 2.2 1.4 2.2 1.2 2.3 1.2 2.3 .9 2.5 .7 2.4 .6 2.6 .4 2.5 .3 2.6 0 2.6M380.9 166.6l-.4 2.6 -.3 2.6 -.3 2.5 -.2 2.6 -.2 2.6 -.1 2.6 .1 2.6 .4 2.6 .6 2.5 .8 2.5 .9 2.4 .9 2.5 1.1 2.3 1 2.4 1 2.4 1.1 2.4 1.4 2.2 1.6 2 1.8 1.9 2.1 1.6 2.2 1.4 2.2 1.3 2.4 1.1 2.4 .8 2.6 .5 2.6 .2 2.6 0 2.6-.4" stroke="#fff" stroke-width="1.25" stroke-opacity="0.50"/>
<path d="M440.9 127.4l2.6 .4 2.6 .2 2.6 0 2.6-.3 2.5-.3 2.6-.3 2.6-.3 2.6-.3 2.6-.4 2.5-.5 2.6-.6 2.5-.6 2.4-.8 2.4-1.1 2.3-1.2 2.3-1.3 2.2-1.3 2.3-1.3 2.3-1.2 2.4-1 2.5-.6 2.6-.5 2.6-.3 2.5-.1M384.3 194.2l-1.9 1.7 -2 1.7 -1.8 1.9 -1.7 1.9 -1.5 2.2 -1.4 2.1 -1.5 2.2 -1.4 2.2 -1.2 2.3 -.9 2.4 -.5 2.6 -.4 2.5 -.2 2.6 -.1 2.6 .2 2.6 .5 2.6 .7 2.5 1 2.4 1.1 2.4 1.3 2.2 1.5 2.1 1.8 1.9M397.4 198.5l-2.6 0 -2.6 .1 -2.6 .2 -2.5 .4 -2.6 .5 -2.5 .5 -2.6 .5 -2.5 .5 -2.6 .4 -2.6 .4 -2.6 .3 -2.5 .5 -2.6 .4 -2.6 .4 -2.5 .3 -2.6 .1 -2.6 0 -2.6 0 -2.6 .2 -2.6 .4 -2.5 .7 -2.5 .9 -2.4 1 -2.3 1 -2.5 1 -2.4 .7 -2.6 .6 -2.5 .4M456.1 171.1l2.5 .9 2.5 .7 2.6 .3 2.6 .1 2.6 .2 2.6 .3 2.5 .5 2.5 .6 2.5 .8 2.5 .8 2.3 1.1 2.3 1.2 2.2 1.5 2.1 1.5 1.9 1.7 1.8 2 1.4 2.1 1.2 2.3 1.1 2.4 .7 2.5 .5 2.5 .3 2.6 .1 2.6 .1 2.6 -.2 2.6 -.5 2.6 -.7 2.5 -1.1 2.3 -1.4 2.2 -1.6 2.1 -1.7 2M392.6 132l2-1.7 2.1-1.6 2.1-1.5 2.2-1.4 2.2-1.3 2.4-1 2.5-.8 2.5-.6 2.6-.2 2.6 .1 2.6 .3 2.5 .7 2.4 1M370.5 194.2l-2.5-.7 -2.6-.5 -2.5-.5 -2.6-.3 -2.6-.1 -2.6 .2 -2.5 .6 -2.5 .8 -2.4 1.1 -2.2 1.3 -2.1 1.6 -1.8 1.8 -1.6 2.1 -1.3 2.2 -1.1 2.4 -.8 2.5 -.7 2.5 -.6 2.5 -.3 2.6 -.1 2.6 .2 2.6 .5 2.5 .7 2.6 .6 2.5 .7 2.5 .8 2.4 .9 2.5M466 153.2l2.5 .3 2.6 .3 2.6 .2 2.6 .1 2.6-.1 2.6-.2 2.6-.3 2.5-.7 2.5-.9 2.4-.8 2.5-.9 2.5-.6 2.5-.5 2.6-.3 2.6 0 2.6 .3 2.5 .6 2.5 .9 2.3 1.1 2.3 1.3 2.1 1.6" stroke="#fff" stroke-width="1.75" stroke-opacity="0.50"/>
<path d="M398.4 187.1l-.2-2.6 -.3-2.6 -.4-2.6 -.6-2.5 -.6-2.5 -.7-2.5 -.9-2.5 -1-2.4 -1-2.4 -.9-2.4 -.7-2.5 -.6-2.6 -.2-2.6 -.1-2.6 .1-2.6 .1-2.6 -.1-2.6 -.2-2.5 -.5-2.6 -.6-2.5M450.6 204.1l1.6-2.1 1.5-2 1.7-2.1 1.6-2 1.8-1.9 1.7-2 1.6-2 1.7-2 1.6-2 1.8-1.9 1.9-1.8 2-1.6 2.1-1.5 2.1-1.5 2.2-1.4 2.3-1.3M375.1 147.8l1.8-1.8 1.8-2 1.7-2 1.6-1.9 1.7-2.1 1.6-2 1.7-1.9 1.8-1.9 1.8-1.9 2-1.7 2.2-1.4 2.3-1.2 2.3-1.1 2.5-.9 2.5-.5 2.6-.4M429.8 191.3l1.6 2 1.5 2.1 1.3 2.3 1 2.4 .6 2.5 .4 2.6 .2 2.6 .2 2.6 0 2.6 -.1 2.6 -.3 2.5 -.2 2.6 -.4 2.6 -.5 2.5 -.8 2.5 -.8 2.5 -1 2.4 -1.1 2.4 -1.3 2.2 -1.5 2.1 -1.6 2.1 -1.7 1.9 -1.9 1.8 -2 1.7 -2 1.7" stroke="#fff" stroke-width="1.25" stroke-opacity="0.67"/>
<path d="M409.8 204.8l-1.6-2 -1.9-1.9 -1.9-1.7 -2.1-1.5 -2.2-1.4 -2.3-1.2 -2.4-1.1 -2.5-.8 -2.5-.5 -2.6-.3 -2.6-.2 -2.6-.1 -2.6 .2 -2.6 .4 -2.5 .4 -2.6 .6 -2.5 .6 -2.5 .6 -2.5 .8 -2.5 .8 -2.4 .9 -2.4 1.1 -2.3 1.1 -2.2 1.4 -2.2 1.4 -2.1 1.5M383.3 199l-.4-2.5 -.4-2.6 -.4-2.6 -.3-2.6 -.1-2.5 0-2.6 .4-2.6 .5-2.6 .6-2.5 .9-2.5 1.1-2.3 1.5-2.1 1.7-2 1.9-1.7 2.1-1.5 2.3-1.3 2.4-.9M470.6 134.7l.4 2.6 .8 2.5 .9 2.4 1.1 2.3 1.1 2.4 1 2.4 .9 2.4 .8 2.5 .5 2.5 .4 2.6 .2 2.6 -.3 2.6 -.5 2.5 -.8 2.5 -1.1 2.4 -1.2 2.3 -1.2 2.3M403.3 134l-2.6-.5 -2.5-.6 -2.5-.7 -2.5-.7 -2.5-.6 -2.5-.6 -2.6-.7 -2.5-.7 -2.5-.6 -2.5-.5 -2.6-.5 -2.6-.5 -2.5-.7 -2.4-.8 -2.5-.8 -2.5-.6 -2.6-.5 -2.6-.3 -2.6-.1 -2.6-.1 -2.6-.1 -2.6 .1 -2.5 .3 -2.5 .7 -2.5 .9 -2.4 1.1 -2.2 1.3 -2.2 1.3 -2.1 1.6M368.7 131l-.8-2.5 -.9-2.5 -1-2.4 -1-2.4 -.9-2.4 -.7-2.5 -.7-2.5 -.4-2.6 -.3-2.6 -.1-2.6 .3-2.5 .5-2.6 .8-2.5 1.1-2.3 1.4-2.2 1.6-2.1 1.9-1.8 1.9-1.7 1.9-1.8 1.8-1.8 1.7-2.1 1.4-2.1 1.5-2.2 1.5-2.1 1.7-2 1.7-1.9 1.7-2" stroke="#fff" stroke-width="1.75" stroke-opacity="0.67"/>
<path d="M447.8 137.6l-2.3-1.3 -2.3-1.2 -2.3-1.1 -2.4-1.1 -2.4-1 -2.5-.7 -2.6-.4 -2.6-.2 -2.6-.1 -2.6 0 -2.6 .1 -2.6 .1 -2.5 .4 -2.5 .7 -2.5 .9 -2.4 1 -2.2 1.3 -2.2 1.5 -1.9 1.7 -1.8 1.9 -1.5 2.1 -1.2 2.3 -.9 2.4 -.7 2.6M413.6 159.6l-1.5-2.1 -1.4-2.2 -1.3-2.3 -1.1-2.3 -1-2.4 -.8-2.5 -.5-2.6 -.4-2.6 -.4-2.5 -.2-2.6 0-2.6 .4-2.6 .7-2.5 1-2.4 1.3-2.2 1.4-2.2 1.6-2.1 1.5-2.1 1.5-2.1 1.5-2.2 1.5-2.1 1.7-1.9 1.8-1.9 1.9-1.8M383.8 152.4l2.6 .2 2.6 0 2.6-.2 2.5-.3 2.6-.7 2.4-1 2.3-1.2 2.1-1.5 2-1.7 1.7-2 1.5-2.1 1.2-2.3 1-2.4 .6-2.5 .6-2.6 .4-2.5 .7-2.5 .6-2.5 .7-2.6 .6-2.5 .6-2.5 .5-2.6M459.6 131.3l-1-2.4 -.9-2.4 -.8-2.5 -.7-2.5 -.6-2.5 -.3-2.6 0-2.6 .2-2.6 .6-2.5 .8-2.5 1.1-2.3 1.5-2.2 1.5-2.1 1.8-1.9 2-1.6 2.2-1.4 2.3-1.3 2.4-1.1 2.4-.8 2.6-.4 2.6-.2 2.6 .2 2.5 .4 2.5 .8 2.4 1 2.3 1.3M411.8 145.4l2.2 1.3 2.3 1.4 2.1 1.4 2.1 1.6 1.8 1.9 1.6 2 1.6 2.1 1.3 2.3 1.1 2.3 1.1 2.4 1 2.4 .9 2.4 .7 2.5 .5 2.5 .3 2.6 -.2 2.6 -.4 2.6 -.6 2.5 -.8 2.5 -.8 2.5 -.9 2.4 -1.1 2.4 -1.3 2.2 -1.6 2.1 -1.7 1.9 -2 1.8 -1.9 1.7 -2 1.6 -2.1 1.6" stroke="#fff" stroke-width="1.50" stroke-opacity="0.67"/>
</g>
<g fill="none" stroke-linecap="round" filter="url(#fb6)">
<path d="M463.6 141.3h0" stroke="#fff" stroke-width="2.00" stroke-opacity="0.50"/>
<path d="M431.8 180.2h0M469.8 193.9h0M398.6 176.6h0" stroke="#fff" stroke-width="2.80" stroke-opacity="0.67"/>
<path d="M450.6 176.4h0M373.2 185.5h0M384.8 133.8h0M405.4 146.4h0M404.6 132.6h0" stroke="#fff" stroke-width="2.00" stroke-opacity="0.67"/>
<path d="M444.1 189.1h0" stroke="#fff" stroke-width="2.40" stroke-opacity="0.67"/>
<path d="M467 202h0M477.6 206.3h0M472 207.1h0M384.3 194.2h0M380.9 166.6h0M456.1 171.1h0M415.5 169.7h0M466 153.2h0" stroke="#fff" stroke-width="2.00" stroke-opacity="0.83"/>
<path d="M455.1 171.8h0M397.4 198.5h0" stroke="#fff" stroke-width="2.40" stroke-opacity="0.83"/>
<path d="M383.3 199h0M454 137.1h0" stroke="#fff" stroke-width="2.80" stroke-opacity="0.83"/>
<path d="M398.4 187.1h0" stroke="#fff" stroke-width="2.80" stroke-opacity="1.00"/>
<path d="M447.8 137.6h0M470.6 134.7h0M375.1 147.8h0M429.8 191.3h0" stroke="#fff" stroke-width="2.00" stroke-opacity="1.00"/>
<path d="M403.3 134h0M413.6 159.6h0M368.7 131h0" stroke="#fff" stroke-width="2.40" stroke-opacity="1.00"/>
</g>
<rect x="453.2" y="195.0" width="14.5" height="2.5" fill="#fff"/>
</g>
<rect x="370.7" y="208.2" width="104.3" height="81.2" fill="#000"/>
<g clip-path="url(#cb3)">
<rect x="370.7" y="216.8" width="104.3" height="74" fill="#0d0a00"/>
<path d="M367.7 290 L367.7 270.1 L371.7 268.0 L375.7 265.9 L379.7 263.8 L383.7 261.7 L387.7 259.6 L391.7 257.5 L395.7 255.3 L399.7 253.0 L403.7 250.7 L407.7 248.4 L411.7 246.1 L415.7 243.8 L419.7 241.7 L423.7 239.8 L427.7 238.4 L431.7 237.7 L435.7 237.5 L439.7 238.1 L443.7 239.3 L447.7 241.1 L451.7 243.2 L455.7 246.0 L459.7 246.0 L463.7 246.0 L467.7 246.0 L471.7 246.0 L475.7 246.0 L478.0 290Z" fill="#6e5900" fill-opacity="0.85" filter="url(#fb3)"/>
<path d="M367.7 290 L367.7 270.1 L371.7 268.0 L375.7 265.9 L379.7 263.8 L383.7 261.7 L387.7 259.6 L391.7 257.5 L395.7 255.3 L399.7 253.0 L403.7 250.7 L407.7 248.4 L411.7 246.1 L415.7 243.8 L419.7 241.7 L423.7 239.8 L427.7 238.4 L431.7 237.7 L435.7 237.5 L439.7 238.1 L443.7 239.3 L447.7 241.1 L451.7 243.2 L455.7 246.0 L459.7 246.0 L463.7 246.0 L467.7 246.0 L471.7 246.0 L475.7 246.0 L478.0 290Z" fill="#fff" filter="url(#spk)"/>
<path d="M368.7 229.5 Q392 223.5 416 224.6 T477.0 227" fill="none" stroke="#a88800" stroke-width="1.6" stroke-opacity="0.7" filter="url(#fb2)"/>
<path d="M369.7 240 Q380 241 385.5 246" fill="none" stroke="#c9a200" stroke-width="1.3" stroke-opacity="0.8" filter="url(#fb5)"/>
<g fill="none" stroke-linecap="round" stroke-linejoin="round" filter="url(#fb5)">
<path d="M373.1 271.6l1.6-2 1.8-1.9M471.4 269.2l-1.3-2.2 -1.3-2.3 -1.5-2.1 -1.4-2.2" stroke="#c09c00" stroke-width="1.25" stroke-opacity="0.33"/>
<path d="M394.8 263.9l-.8-2.4 -.6-2.6" stroke="#eecb00" stroke-width="1.50" stroke-opacity="0.33"/>
<path d="M442 259.8l2.4 .9 2.5 .9M453 259.2l.9-2.5 .8-2.5" stroke="#d0aa00" stroke-width="1.00" stroke-opacity="0.33"/>
<path d="M425 272l.6-2.6 .5-2.5 .4-2.6" stroke="#fade1a" stroke-width="1.25" stroke-opacity="0.33"/>
<path d="M392.4 270.2l2.1 1.5 2.2 1.3 2.4 1.1 2.5 .8M378.1 275.7l2-1.6 1.8-1.9M388.2 268.8l-1.1-2.1 -1.1-2.2 -1.1-2.1 -1.2-2.1" stroke="#e0ba00" stroke-width="1.25" stroke-opacity="0.33"/>
<path d="M454.3 267.7l2.1-1.2 2.1-1.2 2.1-1.1 2.1-1.1 2.1-1.2" stroke="#d0aa00" stroke-width="1.25" stroke-opacity="0.33"/>
<path d="M449.8 263.9l-1.1-2.3 -1.6-2.1 -2-1.7 -2.2-1.3M467.6 265.3l.5-2.5 .9-2.5 1.2-2.3 1.5-2.1M424.4 260.7l-1.3-2.2 -1.3-2.3M383.4 266.5l1.7-1.9 2-1.7 2.2-1.4 2.3-1.1M459 268.9l2.6 .4 2.6 .3 2.5 .2 2.6 .1M391.5 275l-.3-2.6 -.5-2.6 -.6-2.5 -.6-2.5 -.8-2.5" stroke="#eecb00" stroke-width="1.00" stroke-opacity="0.50"/>
<path d="M394.6 275.4l2.5-.8 2.5-.8 2.4-.8M368.2 272.1l2.4 1 2.5 .8 2.5 .5 2.6 .2M388.9 270.4l1.1-2.4 1.2-2.3 1.3-2.2M408.4 270.9l-1.5-2.2 -1.5-2.1 -1.5-2.1 -1.7-2M430.7 260.9l1.6-2.1 1.6-2M372.1 276.1l2.3-1.1 2.2-1.3 2.2-1.5M459.4 268.8l.1-2.6 .4-2.5M408 269.4l.2-2.4 .1-2.4 -.1-2.4 -.3-2.4 -.5-2.3 -.5-2.4 -.7-2.3M411.7 254.4l1.9-1.4 1.8-1.6 1.7-1.6 1.7-1.8M397 264.3l-1.6-1.8 -1.5-1.9 -1.5-1.9M478.3 268.4l1.9-1.4 1.9-1.5 1.7-1.7 1.5-1.8 1.4-2 1.3-2 1.2-2.1 1.1-2.1 1-2.2M472.4 252.1l-.8-2.3 -.6-2.3 -.4-2.3" stroke="#e0ba00" stroke-width="1.25" stroke-opacity="0.50"/>
<path d="M367.5 272.5l2.4 .9 2.4 1.2M415.9 248.3l-.2-2.6 -.5-2.6 -.7-2.5M451.2 249.7l-.8-2.5 -.9-2.4 -1.2-2.3 -1.3-2.2 -1.3-2.3M426.7 252l2.6-.6 2.4-.9M423.9 262.8l.8-2.5 .7-2.5M415.7 252.2l2.1 1.5 1.9 1.7 1.7 2 1.4 2.2M408.8 255.5l2.6 0 2.6 .3M416.3 249.5l1.8-1.7 1.6-1.7 1.6-1.8" stroke="#c09c00" stroke-width="1.25" stroke-opacity="0.50"/>
<path d="M386.1 265.3l-1.5-2.2 -1.6-2 -1.8-1.9M401.7 258.7l-.3-2.6 -.3-2.6 -.3-2.5 -.3-2.6M462.5 259.1l.9-2.5 .8-2.4 .9-2.5 .9-2.4 1.1-2.4M471.9 260.2l1.1-2.4 1.3-2.2 1.6-2.1M444.8 258.2l-1.3-2.3 -1-2.4 -.7-2.5M413.9 275.7l1.9-1.9 1.7-1.9 1.4-2.2 1.2-2.3M400.6 257.9l2.6 .5 2.5 .5 2.6 .6M383.2 266.3l1.5-1.9 1.3-2 1-2.1" stroke="#eecb00" stroke-width="1.25" stroke-opacity="0.50"/>
<path d="M444.5 267.9l2.4-1.1 2.5-.8M398.7 258.5l.5-2.6 .4-2.6 .3-2.5M469.2 274.9l1.8 1.8 1.8 2 1.7 1.9M475.1 263l.4-2.6 .2-2.6 -.1-2.6 -.5-2.5M433.8 260.6l.3-2.6 .2-2.6 0-2.6M397.3 257l2.4 1 2.5 .8 2.6 .4M405 256l1.1-2.3 1.1-2.4 .9-2.4 1-2.4 1-2.4M387.6 270.2l-1.8-1.6 -1.8-1.6 -1.8-1.5 -2-1.4 -1.9-1.4" stroke="#c09c00" stroke-width="1.00" stroke-opacity="0.50"/>
<path d="M454.3 267.2l-.3-2.6 -.1-2.6 0-2.6M399.4 271l2.4 1.1 2.5 .8M406.6 261.2l.5-2.6 .7-2.5M474.7 268.2l-.8-2.4 -1-2.4 -1.2-2.4 -1.3-2.2M385.9 275.9l2.5 .7 2.5 .5M415.8 274.6l2.5-.6 2.5-.8M475 253.8l-1.2-2.1 -1.1-2.1 -1-2.2 -.9-2.2" stroke="#fade1a" stroke-width="1.50" stroke-opacity="0.50"/>
<path d="M457.6 261l2.6 .3 2.6 .2M427.8 239.5l2.6 .1 2.6 0 2.6-.3 2.5-.6M380.6 266.9l.6-2.5 .5-2.5 .3-2.6M464.9 254.8l-1-2.4 -.9-2.4 -.8-2.5 -.9-2.4M371.2 270.3l2-1.7 2-1.7M412.6 260.3l2.4 .9 2.5 1M458.6 256.5l2.4-.8 2.5-.8 2.5-.6 2.6-.4M455.6 276.4l.5-2.6 .6-2.5" stroke="#fade1a" stroke-width="1.00" stroke-opacity="0.50"/>
<path d="M409.9 264l2.5-.8 2.4-.9 2.3-1.2M418.8 260.6l2.6 .3 2.6 .4 2.5 .4M466.9 263.6l1.3-2.3 1.3-2.2M370.4 274.3l2.6 0 2.6-.4M478.1 270.3l2.6-.4 2.6-.4 2.6-.3 2.5-.3 2.6-.3M430.9 238.4l2.6 .3 2.6 .5 2.4 .9M448.3 254.3l-.7-2.6 -.8-2.4 -.8-2.5M431.9 259.5l-.5-2.4 -.6-2.3 -.7-2.3 -.8-2.2M369.1 273.5l.1-2.4 -.1-2.4 -.4-2.4 -.7-2.3M418.1 275.7l-1.7-1.8 -1.7-1.7 -1.8-1.5 -2-1.3 -2.2-1.1 -2.2-.9 -2.3-.7 -2.3-.6 -2.4-.5" stroke="#d0aa00" stroke-width="1.25" stroke-opacity="0.50"/>
<path d="M390.8 263.3l-.6-2.5 -.8-2.5 -.8-2.4M404.2 251.8l1.6-2.1 1.7-2M455.3 259.6l1.5-2.1 1.3-2.2 1.1-2.4M412.3 254.2l2.6 .7 2.5 .6 2.6 .4 2.5 .3 2.6 .3" stroke="#d0aa00" stroke-width="1.50" stroke-opacity="0.50"/>
<path d="M457.9 246.2l2.1 1.5 2.1 1.6 2 1.7 1.9 1.7M444.7 240.9l2-1.6 2.1-1.5 2.1-1.6M420 255.3l1-2.2 1.1-2.1 1.2-2.1 1.4-1.9 1.6-1.8M447.2 260.1l1.6-1.7 1.8-1.7 1.8-1.5 2-1.4M430.6 264.2l1.9-1.4 2.1-1.2 2.1-1.1 2.2-.9 2.3-.6 2.4-.5 2.4-.1 2.4 0" stroke="#e0ba00" stroke-width="1.50" stroke-opacity="0.50"/>
<path d="M402.3 269.3l2.2 1.4 2 1.7 1.8 1.9M384.6 270.6l2.4 .8 2.5 .9 2.5 .9M391.2 269l2.5 .3 2.6 .2M425.8 271.1l-.4-2.6 -.1-2.6M460.3 259.7l-.9-2.4 -.9-2.5 -.8-2.4M455.4 266.1l2.1-1.4 2.3-1.4 2.2-1.3M464.2 251.4l2-1.6 1.9-1.8 1.8-1.8M391.2 259.2l.9-2.4 1-2.4 1.1-2.4 1-2.4M452 273.5l1.4-1.9 1.5-1.9 1.7-1.7 1.8-1.6 1.9-1.5 1.9-1.4 2.1-1.2" stroke="#d0aa00" stroke-width="1.00" stroke-opacity="0.50"/>
<path d="M406.5 261.5l2.5-.9 2.5-.8 2.5-.6 2.5-.5M433.8 268.3l-.9-2.4 -1.1-2.4 -1.2-2.2M465.9 246.3l-.4-2.6 -.1-2.6 0-2.6 .1-2.6M378.2 269l-1.5-2.1 -1.4-2.2 -1.5-2.1M463.2 262.4l-1.9-1.5 -2-1.3 -2.1-1.2 -2.1-1.1" stroke="#c09c00" stroke-width="1.50" stroke-opacity="0.50"/>
<path d="M383.7 270l1.5-2.1 1.5-2.1 1.4-2.2M388.5 262.1l2.5-.5 2.6-.5M430.4 249.2l2.2 1.3 2.3 1.3M416.4 251.3l2.6 0 2.6 0M411.9 272.8l2.2 1.4 2 1.6M410.5 251.4l.5-2.3 .6-2.4 .6-2.3 .6-2.3M447.7 271.7l-1.2-2.1 -1.2-2 -1.2-2.2 -1-2.1 -.8-2.3 -.7-2.3 -.7-2.3 -.6-2.3 -.5-2.3" stroke="#eecb00" stroke-width="1.50" stroke-opacity="0.50"/>
<path d="M464.4 269.7l2.5-.7 2.5-.9M448.1 247l1.5-2.2 1.4-2.1M442.5 255.8l-1.3-2.2 -1.1-2.4 -.7-2.5 -.2-2.6 .2-2.6M393.5 260l2.6 .1 2.6 .1" stroke="#e0ba00" stroke-width="1.00" stroke-opacity="0.50"/>
<path d="M381.9 267.2l2.6 .2 2.6 .1 2.6 0M441.5 247.1l2.2 1.4 2.1 1.5 2.2 1.4 2.2 1.4 2.2 1.3M385 270.4l1-2.4 .6-2.6M383.9 262.9l1.2-2.3 1.4-2.2M454.1 254.2l2.1 1.6 2 1.7 1.9 1.7M399.1 267.9l-1.7-1.8 -1.6-1.7 -1.6-1.8 -1.8-1.6 -1.7-1.6 -1.9-1.6M430.2 275.3l1.5-1.9 1.6-1.9 1.6-1.7 1.6-1.8 1.8-1.6 1.8-1.5M441.8 260.5l1.9-1.5 1.8-1.5 1.8-1.6 1.9-1.5 1.9-1.5 1.9-1.4 2-1.4 2-1.4 1.9-1.3" stroke="#fade1a" stroke-width="1.25" stroke-opacity="0.50"/>
<path d="M376.9 274.6l-.8-2.5 -.6-2.6 -.4-2.5 -.1-2.6M377.5 265.1l2 1.7 1.9 1.8M398.4 257.7l2.4-1 2.6-.6M452.7 273.2l1.1-2.4 1.4-2.1 1.9-1.9M369.3 270.8l0-2.6 -.2-2.6 -.4-2.6 -.5-2.5M407.3 269.7l-1-2.5 -.7-2.5 -.6-2.5 -.5-2.5M437.7 246.1l-1.2-2.3 -1.2-2.3 -1.1-2.3M444.3 246.2l.5-2.3 .2-2.4 .2-2.4M442.5 266l-.9-2.2 -.9-2.3 -.8-2.2 -.8-2.3 -.7-2.3 -.5-2.3 -.4-2.4 -.1-2.4M443 253.7l2.1-1.3 1.9-1.4 1.9-1.4 1.9-1.5 1.9-1.5 1.8-1.6 1.8-1.5M382.2 265.9l2.1-1.1 2.2-1 2.1-1.1" stroke="#d0aa00" stroke-width="1.25" stroke-opacity="0.67"/>
<path d="M381.5 263.8l1.4-2.2 1.4-2.2 1.3-2.2M412.7 268.6l2.2 1.3 2.1 1.5 2.1 1.5 2.1 1.6M371.1 269.1l1.1-2.4 1.3-2.2M376.6 266.3l2.3-1.3 2.2-1.4 2.1-1.5 2-1.7M451.9 276.1l-.1-2.6 .1-2.6 .4-2.5 .7-2.6M404 258.3l1.4-2.3 1.4-2.2 1.4-2.1 1.5-2.2M452.2 268l-.7-2.5 -1.1-2.3 -1.3-2.2 -1.6-2.1M432.6 249l-.1-2.6 -.5-2.6M388.1 261l2.6 .1 2.6 .3 2.5 .4M431.1 274.2l2.6-.3 2.6-.1M400.5 269.5l1.5-1.8 1.5-1.9 1.4-2 1.2-2 1.2-2.1 1.1-2.2 1-2.1 1-2.2M441.4 264l1.7-1.7 1.6-1.7 1.7-1.7 1.8-1.7 1.7-1.6 1.8-1.7 1.7-1.6 1.8-1.6 1.8-1.6 1.8-1.6 1.8-1.6" stroke="#e0ba00" stroke-width="1.25" stroke-opacity="0.67"/>
<path d="M435.2 241.7l1.3-2.3 1-2.3 .9-2.5 .7-2.5M419.5 275.4l2.6 .2 2.6 0M462.4 268.8l1.8 2 1.4 2.1M457.1 268.7l.4-2.6 .3-2.6 .4-2.6M465.6 257.2l2.1-1.6 2-1.6 1.9-1.8 1.7-2M381.8 265.1l2.3-1.2 2.1-1.5M400.4 257.7l.4-2.6 .4-2.6M366.4 273.7l-.6-2.3 -.4-2.4 -.4-2.3 -.4-2.4M423.5 269.3l.1-2.4 .1-2.4 .3-2.4 .3-2.4 .3-2.4 .5-2.3 .5-2.4 .7-2.3 .8-2.2 1-2.2 1-2.2 1-2.2 1.1-2.1M399.7 261.6l-1.9-1.5 -1.8-1.6 -1.6-1.8 -1.4-1.9" stroke="#fade1a" stroke-width="1.00" stroke-opacity="0.67"/>
<path d="M477.4 267.6l.6-2.5 .8-2.5 1.1-2.3M372.6 269.5l.3-2.6 -.1-2.6 -.3-2.6M427 250.5l-1.1-2.4 -1.2-2.3 -1.4-2.2 -1.5-2.1M397.6 260.6l-.8-2.5 -.7-2.5 -.8-2.4 -.8-2.5M454 273.8l1.3-2.3 1.1-2.3 .8-2.5 .5-2.5M472.3 273.6l2.4 1 2.4 .9 2.5 .8M444.3 266.3l2.5-.4 2.6-.4 2.6-.3 2.6-.2M416.6 275.9l2-1.5 2-1.8 1.8-1.8 1.8-1.9M466 259.1l1.7-1.6 1.8-1.7 1.7-1.7 1.7-1.6 1.8-1.7" stroke="#e0ba00" stroke-width="1.00" stroke-opacity="0.67"/>
<path d="M375.5 274.4l2.3-1.3 2.1-1.4M383.1 268.3l2.6-.3 2.6-.2 2.6 0 2.6 0 2.6 0M432.1 261.5l2.2-1.5 2.3-1.1M458.8 276.4l2.6 .2 2.6 .1M395.9 259.9l2.6-.3 2.6-.3 2.5-.3M454 256.4l1-2.2 1.1-2.1 1.3-2M475.8 264l1-2.2 .8-2.2 .7-2.3 .6-2.4 .3-2.4 .1-2.4M459.5 258.5l.2-2.4 0-2.4 0-2.4 0-2.4 -.1-2.4M392.2 275.4l-.8-2.3 -.9-2.1 -1.3-2.1 -1.4-1.9 -1.7-1.7 -1.9-1.5 -2.1-1.2" stroke="#c09c00" stroke-width="1.25" stroke-opacity="0.67"/>
<path d="M381.8 264.6l2.2 1.5 2.3 1.2M368.1 272.5l1.7-1.9 1.9-1.8M375 275.7l-.2-2.6 .1-2.6 .3-2.6M475.2 267.7l2.5-.8 2.4-.9 2.4-1.1 2.4-1M399.6 264.3l-.9-2.4 -1-2.4M425.6 265.8l1.5-1.9 1.4-2 1.3-2 1.3-2 1.2-2.1 1.1-2.1 1.1-2.1 .9-2.3M439.1 273.3l.6-2.3 .7-2.3 .9-2.3 1-2.1M388.3 262.1l.4-2.3 .3-2.4 .2-2.4" stroke="#eecb00" stroke-width="1.00" stroke-opacity="0.67"/>
<path d="M476.5 270.6l2.2-1.3 2.4-1.1M445.8 272.9l-.9-2.5 -.6-2.5M453.6 272.4l2.6-.2 2.6-.2 2.6-.3M386.2 260.1l.5-2.6 .1-2.6 -.2-2.6 -.7-2.5M470.3 264.8l-1.1-2.3 -1.3-2.3 -1.4-2.2M444.3 265.9l-1.5-2.1 -1.7-2 -2.1-1.6 -2.3-1.2 -2.5-.8M439 262.6l1.4-2.2 1.5-2.1 1.5-2.1M423.2 252.8l1.7-2 1.9-1.8M411.4 254.6l.9-2.4 .8-2.5M386.8 269.2l2-1.3 2.1-1.1 2.2-1 2.2-.9M378.4 269.4l-1.1-2.1 -1.1-2.2 -1-2.2 -.8-2.2" stroke="#d0aa00" stroke-width="1.00" stroke-opacity="0.67"/>
<path d="M477.1 258.8l-1-2.4 -1.2-2.3 -1.3-2.3M421.3 266.7l.6-2.5 .8-2.5 .9-2.5 1-2.4 1.1-2.3M396.4 254.6l0-2.6 .3-2.6 .5-2.5 .8-2.5 .9-2.5M479.5 264.2l.7-2.4 .4-2.3 .2-2.4 0-2.4 -.3-2.4 -.5-2.3 -.7-2.3 -1-2.2 -1.2-2.1M398.3 271l-.8-2.2 -.9-2.2 -1.1-2.2 -1.1-2.1" stroke="#c09c00" stroke-width="1.00" stroke-opacity="0.67"/>
<path d="M473.9 251.7l2.2 1.3 2.3 1.3 2.2 1.3 2.3 1.2M446.5 269.2l2.6-.3 2.5-.2 2.6 .1 2.6 .4M465.5 268.5l2.4 .9 2.5 .8 2.5 .6 2.5 .7M417 251.4l2.4 1 2.5 .7 2.5 .5 2.6 .3M403.2 259.9l.8-2.4 .8-2.5 .8-2.5 .8-2.5 1-2.4" stroke="#e0ba00" stroke-width="1.50" stroke-opacity="0.67"/>
<path d="M434 270.6l-1-2.4 -1-2.4 -.9-2.4M414.9 253.9l-1.6-2.1 -1.6-2.1 -1.6-1.9M373.6 271.3l2.3-1.2 2.4-1.1 2.4-1M457.8 263.8l-1.1-2.3 -1.3-2.3 -1.5-2.1 -1.8-1.9M427 248.7l-1-2.4 -.7-2.5 -.4-2.5M428.5 264.9l-.3-2.6 -.1-2.6M375.3 270.1l-.1-2.4 -.1-2.4 -.2-2.4 -.3-2.3M370.4 271.2l1.9-1.5 1.9-1.4 2-1.4 2-1.2" stroke="#eecb00" stroke-width="1.25" stroke-opacity="0.67"/>
<path d="M466.6 261.4l1.4-2.2 1.3-2.2M418.6 264.7l1.1-2.4 1.2-2.3M408.2 249.9l2.1-1.6 2-1.6 2-1.7M410.3 265.6l-.5-2.5 -.7-2.6M423 262.1l-1.2-2.3 -.9-2.4 -.6-2.6M407.8 253.9l.3-2.6 .5-2.5 .8-2.5M388.1 273.6l1-2.2 .8-2.2 .8-2.3 .7-2.3 .7-2.3 .5-2.3 .6-2.3M441.9 252.3l2-1.4 1.9-1.5 1.9-1.5 1.9-1.4 1.9-1.5 1.9-1.4 2-1.3" stroke="#c09c00" stroke-width="1.50" stroke-opacity="0.67"/>
<path d="M382.2 263.4l-1.3-2.2 -1.6-2.1M381.3 263.8l2.5 .5 2.6 .2 2.6-.1 2.6-.4" stroke="#d0aa00" stroke-width="1.50" stroke-opacity="0.67"/>
<path d="M462.9 260.8l1.3-2.3 1.4-2.2 1.6-2.1M430.9 247.7l1.1-2.3 1.3-2.2 1.6-2.1M422.9 273.6l2.5 .8 2.5 .7 2.5 .7M467.9 260.3l.2-2.6 .4-2.6M394.5 272.6l.7-2.3 .7-2.3 .7-2.3M409.5 269.3l1.6-1.7 1.7-1.7 1.9-1.6 1.8-1.5 2-1.4 2-1.3 2.1-1 2.3-.9 2.3-.6 2.4-.4 2.4-.2" stroke="#fade1a" stroke-width="1.25" stroke-opacity="0.67"/>
<path d="M415.3 264.4l-1.2-2.3 -1.2-2.3 -1.4-2.2 -1.5-2.1M471.7 267.8l-1-2.4 -.8-2.5M407.6 257.6l2.2-1.5 2.2-1.3 2.2-1.4M380.1 268.9l2.5-.5 2.6-.3 2.6-.4 2.6-.3" stroke="#fade1a" stroke-width="1.50" stroke-opacity="0.67"/>
<path d="M443.5 256.4l-.6-2.5 -.7-2.5 -.8-2.5M440.4 266.2l.1-2.6 0-2.6 -.1-2.6 -.1-2.6M383.5 267.3l2.3-1.1 2.5-.9 2.4-.8 2.6-.6M458 249.9l2.6-.6 2.5-.4 2.6-.1M452 257l-.7-2.5 -.7-2.5M400.2 275.2l1.9-1.7 1.9-1.8 1.7-1.9M414.9 255.8l-1.9-1.6 -2-1.2 -2.2-1.1 -2.3-.7" stroke="#eecb00" stroke-width="1.50" stroke-opacity="0.67"/>
<path d="M404.5 258.4l-1.1-2.4 -1.3-2.2 -1.6-2 -1.9-1.8M369.7 272.7l-.1-2.6 -.3-2.6 -.3-2.5 -.3-2.6M478.4 260.2l2.5 .7 2.5 .9 2.3 1.2" stroke="#eecb00" stroke-width="1.00" stroke-opacity="0.83"/>
<path d="M421.7 266.9l2 1.6 2.1 1.6 2 1.6 1.9 1.8 1.8 1.8M446.8 265.6l2.6 .5 2.6 .3 2.6 .4 2.5 .5M462.6 269.5l2.6 .4 2.5 .5 2.5 .7" stroke="#d0aa00" stroke-width="1.50" stroke-opacity="0.83"/>
<path d="M374.8 268.5l2-1.6 2-1.7M448.7 249.5l2-1.6 1.8-1.9M390.3 269.7l2.6 .5 2.5 .4M447.3 254.6l-.1-2.6 .1-2.6 .5-2.5 .6-2.5 .9-2.5M461.9 266.4l-1.3-2.3 -1.5-2.1 -1.6-2.1 -1.7-2M417.4 269.1l2.4-.9 2.4-1 2.4-1.2 2.2-1.3 2.1-1.5M472.9 264.2l-.6-2.3 -.6-2.3 -.7-2.3 -.6-2.3 -.7-2.4" stroke="#fade1a" stroke-width="1.00" stroke-opacity="0.83"/>
<path d="M438.8 254.2l-.7-2.5 -1-2.4 -1.2-2.3M423.4 257.1l2.6-.1 2.6-.1 2.6-.1M381.1 266.6l2.6 .3 2.6 .1" stroke="#d0aa00" stroke-width="1.00" stroke-opacity="0.83"/>
<path d="M465.3 251.7l1.1-2.3 .8-2.5 .5-2.6M382.5 271.1l1.5-2.1 1.6-2 1.6-2.1 1.6-2M407.4 270.2l2.5-.7 2.6-.4 2.5-.4M379.7 275.8l2.6 .1 2.6 .3M462.1 246.7l2.4 1 2.4 1 2.5 .8 2.5 .7M462.3 253.2l1.2-2.1 1-2.1 1-2.2" stroke="#d0aa00" stroke-width="1.25" stroke-opacity="0.83"/>
<path d="M386.2 263.3l2.3-1.2 2.3-1.3 2.1-1.4M474.5 273.1l.4-2.6 .1-2.6 -.1-2.6 -.3-2.6" stroke="#eecb00" stroke-width="1.50" stroke-opacity="0.83"/>
<path d="M411.4 249.1l2 1.6 2 1.7 1.8 1.9 1.5 2.1M435.5 254.6l0-2.6 .1-2.6 .1-2.6 0-2.6M469.6 260.2l2.6 .1 2.6 .2 2.6 .3 2.6 .2M379.8 276l.9-2.5 .6-2.5 .4-2.6 .2-2.6M381 267.3l.9-2.5 1.2-2.3 1.5-2.1 1.8-1.8 2.1-1.7M373.6 273.9l-.3-2.6 .1-2.6 .3-2.6" stroke="#e0ba00" stroke-width="1.25" stroke-opacity="0.83"/>
<path d="M478.2 273.3l-.3-2.6 -.6-2.5 -1-2.4 -1.4-2.2M462.8 262.2l.2-2.4 .1-2.4 .2-2.4" stroke="#fade1a" stroke-width="1.50" stroke-opacity="0.83"/>
<path d="M473.9 254l-.6-2.5 -.5-2.6 -.3-2.6M397.9 273.2l-.7-2.5 -.6-2.5 -.5-2.6M452.3 247.3l2.6 0 2.6-.2M399.8 275.8l-1.6-2.1 -1.8-1.9 -2-1.6" stroke="#e0ba00" stroke-width="1.00" stroke-opacity="0.83"/>
<path d="M390.9 272.9l2.5 .8 2.4 .8 2.5 .8M438.4 269.1l-1.2-2.3 -1.3-2.2M443 250.9l1.4-2.1 1.8-2" stroke="#c09c00" stroke-width="1.50" stroke-opacity="0.83"/>
<path d="M476.8 260.8l1.5-2.1 1.9-1.7 2.1-1.5M464.4 271.4l1.2-2.3 .9-2.5M422.7 274.5l-1.3-2.2 -1.3-2.3M438.9 257.2l2.6-.2 2.6 .1 2.6 .1M411.5 266l.1-2.6 0-2.6 -.1-2.6" stroke="#c09c00" stroke-width="1.00" stroke-opacity="0.83"/>
<path d="M440.2 275.3l2.6 0 2.6-.2 2.6-.6 2.4-.7M424 267.9l-.2-2.6 -.4-2.6 -.8-2.5 -1-2.4" stroke="#fade1a" stroke-width="1.25" stroke-opacity="0.83"/>
<path d="M395.2 267.9l1-2.3 1.2-2.4M448.3 249.9l-1.1-2.1 -1.1-2.1 -1.3-2.1 -1.3-2M475.5 263.8l-.2-2.4 -.1-2.4 .1-2.4 .2-2.4 .4-2.4 .4-2.3 .6-2.4 .8-2.2 .9-2.3M472.7 270.8l-2.2-1.1 -2.1-1.2 -2.1-1.1 -2.1-1.2 -2.1-1.1 -2.1-1.2 -2.1-1.1 -2.1-1.1 -2.2-1.1 -2.2-.9 -2.3-.7 -2.3-.6" stroke="#eecb00" stroke-width="1.25" stroke-opacity="0.83"/>
<path d="M408.5 275.9l2.2-1.5 2.3-1.1 2.4-.9M404.7 263.6l2.5 .8 2.5 .8 2.4 1 2.4 1 2.4 .9M462.4 268.8l.3-2.4 .2-2.4 0-2.4 -.1-2.4 -.3-2.3 -.4-2.4 -.6-2.3 -.8-2.3M467 275.2l1.6-1.8 1.4-1.9 1.2-2.1 1-2.2 .7-2.3 .5-2.3 .4-2.4 .1-2.4 -.1-2.4 -.4-2.4 -.6-2.3 -.8-2.3" stroke="#c09c00" stroke-width="1.25" stroke-opacity="0.83"/>
<path d="M464.2 264.8l2.4 1.1 2.4 .9 2.5 .7 2.5 .6M377.7 270.2l.3-2.6 .1-2.6 0-2.6 -.1-2.6" stroke="#e0ba00" stroke-width="1.50" stroke-opacity="0.83"/>
<path d="M408 244l2.3-1.2 2.3-1.2 2.2-1.3 2.3-1.4 2.1-1.5 2.1-1.5 2.1-1.6 2-1.6 2-1.7 1.9-1.8 1.9-1.7 1.8-1.9 1.8-1.9M412 250l2.2-1.3 2.3-1.3 2.3-1.2 2.4-1.1 2.3-1.2 2.4-1 2.3-1.1 2.4-1 2.4-1 2.4-1 2.4-1M422 248l2.5-.7 2.5-.7 2.5-.7 2.5-.7 2.5-.7 2.5-.6 2.6-.6 2.5-.5 2.6-.4M430 252l2-1.6 2.1-1.6 2.1-1.6 2.1-1.5 2.2-1.3 2.2-1.4 2.3-1.3 2.3-1.2M398 262l1.7-2 1.7-2 1.7-1.9 1.9-1.8 1.9-1.8 1.9-1.7" stroke="#ffe43b" stroke-width="1.75" stroke-opacity="1.00"/>
<path d="M404 235l2.3 1.2 2.3 1.2 2.3 1.2 2.3 1.2 2.4 1.1 2.3 1.1" stroke="#ffe43b" stroke-width="2.00" stroke-opacity="1.00"/>
<path d="M440 243l1.6-2 1.7-2 1.6-2.1 1.6-2 1.7-2 1.6-2 1.7-2 1.6-2.1 1.6-2 1.6-2 1.6-2.1M418 240l2.5 .5 2.6 .6 2.5 .5 2.6 .6 2.5 .5 2.6 .5 2.5 .4M446 246l2.6 .4 2.5 .4 2.6 .6 2.5 .6 2.5 .8 2.4 .8 2.4 1 2.4 1 2.4 1.2 2.2 1.2M410 258l1-2.4 .9-2.4 1-2.4 1-2.4 1.1-2.4 1-2.4 1.1-2.4" stroke="#ffe43b" stroke-width="1.50" stroke-opacity="1.00"/>
</g>
<g fill="none" stroke-linecap="round" stroke-linejoin="round" filter="url(#fb1)">
<path d="M383.6 265l0-5.6M415 271.6l0-5.6M390.3 273.3l0-2.4M418.5 260.5l0-4.5M374.9 267.2l0-5.1M400 262.9l0-3.2M457.8 261.7l0-4.4M440.5 267l0-4.8M426.4 251.1l0-3.4M406.5 269.8l0-4.4M375 270.3l0-3.7M408.3 258.5l0-5M441.8 267.8l0-3.2M379.1 276.7l0-2.8M452.6 254.8l0-4.1M444.9 243.2l0-4.7M404.9 275.1l0-5.3M459.2 249.1l0-3.3M441 243.7l0-4.2M461.8 275.6l0-4.4M384.8 270.8l0-4.4M395.1 262.6l0-3.3M373.1 277.3l0-4.4M411.2 273.4l0-6M371.5 271.5l0-5.3M424.3 263.4l0-4.7" stroke="#ffe74a" stroke-width="0.75" stroke-opacity="0.33"/>
<path d="M395.7 264.5l0-4.7M451.3 263.4l0-3.9M401.5 254.8l0-2.3M426.1 275.5l0-3.3M421.7 274.9l0-5.5M433.9 240.7l0-4.4M468.3 261.6l0-4.6M435.1 243.2l0-3.1M390.7 261.6l0-5.9M473.2 257.1l0-5.6M462.3 267.3l0-5M375.2 271.4l0-3.9M454.8 273.5l0-5.2M442.6 255l0-2.3M434.9 244.7l0-3.2M395 259.7l0-3.7M398.1 267.3l0-4.6M448.3 260.2l0-2.6M447.1 254l0-4.3" stroke="#ffe74a" stroke-width="0.50" stroke-opacity="0.33"/>
<path d="M423.3 274l0-3M382.1 271.6l0-2.3M474.1 263.8l0-5.5M398.4 268.1l0-5.6M375.2 274.8l0-2.4M425.2 249.1l0-4.8M470.9 246.5l0-3M419.5 271l0-5.4M414.1 269.8l0-2.1M389.7 266.8l0-3.8M371.2 269.2l0-5.4M391.1 270l0-5.4M473.6 267.3l0-4M469.8 265.1l0-2.1M437.2 277l0-5.6M424.2 242.1l0-5.6M447.1 250.5l0-3.4M378.7 267.3l0-4.2M430.9 243.5l0-3.8M455.3 268.2l0-3.3M414.7 265.9l0-3M448 257.8l0-4.9M374.4 275.6l0-4.7" stroke="#ffe74a" stroke-width="0.50" stroke-opacity="0.50"/>
<path d="M472.7 271.1l0-3.9M400.9 264l0-2.3M450.7 273.5l0-2.3M389.3 273.7l0-4.7M412 247l0-4.8M461.8 250l0-5.8M371.7 275l0-5.7M422 262.9l0-4.5M472.2 253.2l0-2.5M457.9 272.2l0-2.4M376.6 273.4l0-2.4M470.7 272.7l0-4.6M414.3 250.7l0-4.2M451 273.9l0-3.8M399.7 267l0-5.9M380.2 264.2l0-4.1M460 247.3l0-2.3M393.8 273l0-2.6M457.6 272.1l0-4.4M410.7 260.9l0-2.3M417.9 275.4l0-5.4M395.4 268l0-4.7M415.9 273.5l0-2.3M459.4 260.4l0-4M463.8 265.3l0-3.3M443.5 241.1l0-2.5M424.7 265.3l0-4.5M382.6 273.1l0-3.7M425.5 258l0-5.8" stroke="#ffe74a" stroke-width="0.75" stroke-opacity="0.50"/>
<path d="M416.5 265.9l0-4.6M396.7 266.8l0-4.1M472.9 267.4l0-4.2M404.4 273.2l0-2.4M424.1 265l0-5.3M412.4 266.9l0-4.5" stroke="#ffe74a" stroke-width="0.50" stroke-opacity="0.67"/>
<path d="M455.3 250.8l0-2.6M432 242.5l0-2.5M392.7 268.7l0-5.1M446.5 248.5l0-6M431.5 265.3l0-4.2M421.1 276l0-2.9M376.1 267.1l0-2.3" stroke="#ffe74a" stroke-width="0.75" stroke-opacity="0.67"/>
</g>
<rect x="369.7" y="278.4" width="106.3" height="14.6" fill="#000"/><rect x="370.7" y="268.7" width="104.3" height="13.0" fill="url(#gband)" opacity="1.00"/>
<g fill="none" stroke-linecap="round" filter="url(#fb1)">
<path d="M412.5 276.9h0M403.2 276.9h0M384.1 276.9h0" stroke="#fff6b0" stroke-width="2.00" stroke-opacity="0.33"/>
<path d="M467.7 277.2h0M414.8 277.6h0" stroke="#fff6b0" stroke-width="1.60" stroke-opacity="0.33"/>
<path d="M446.2 277.1h0M424.4 277.3h0M449.7 277.1h0" stroke="#fff6b0" stroke-width="1.20" stroke-opacity="0.33"/>
<path d="M427.1 277.8h0M441.1 277.9h0M391.2 277.3h0M370.9 276.9h0M410.1 277.6h0M393.1 277.4h0M459.2 277.7h0M415.3 277.1h0" stroke="#fff6b0" stroke-width="2.00" stroke-opacity="0.50"/>
<path d="M384.4 277.7h0M450.7 276.7h0M414.8 277.4h0M433.5 276.9h0M450.8 277.5h0M418.3 276.8h0M442.5 277.3h0M394 277.7h0" stroke="#fff6b0" stroke-width="1.60" stroke-opacity="0.50"/>
<path d="M381.7 276.9h0M426.1 277.3h0M465.8 277.1h0" stroke="#fff6b0" stroke-width="1.20" stroke-opacity="0.50"/>
<path d="M393.2 277h0M374.4 277.3h0M439.6 277.2h0M390 276.7h0M434.2 277h0" stroke="#fff6b0" stroke-width="1.20" stroke-opacity="0.67"/>
<path d="M390.8 277.3h0M388.9 277.2h0M424.6 277.4h0M379.4 277h0M418.3 277.9h0M456.4 276.8h0M439.4 277.2h0M406.3 277.4h0" stroke="#fff6b0" stroke-width="1.60" stroke-opacity="0.67"/>
<path d="M439.5 277.2h0M433.2 277.6h0M461.1 277.8h0M451.6 277.2h0M443.4 277.3h0M371.7 276.8h0M391.9 277.6h0M370.8 277.8h0" stroke="#fff6b0" stroke-width="2.00" stroke-opacity="0.67"/>
<path d="M424.9 277.1h0M383.4 277.7h0" stroke="#fff6b0" stroke-width="1.20" stroke-opacity="0.83"/>
<path d="M452.9 277.4h0M388.1 277.1h0" stroke="#fff6b0" stroke-width="1.60" stroke-opacity="0.83"/>
<path d="M402.6 277.5h0M421.9 276.9h0M448.1 277.1h0" stroke="#fff6b0" stroke-width="2.00" stroke-opacity="0.83"/>
</g>
</g>
</g>
<g id="vTL">
<clipPath id="clipTL"><rect x="70.2" y="311.8" width="175.4" height="145.4"/></clipPath>
<g clip-path="url(#clipTL)">
<g fill="#c6c6c6" fill-opacity="0.75"><circle cx="178.2" cy="449.8" r="1.25"/><circle cx="184.9" cy="435.7" r="1.25"/><circle cx="179.0" cy="450.9" r="1.25"/><circle cx="174.4" cy="439.6" r="1.25"/><circle cx="180.7" cy="445.9" r="1.25"/><circle cx="173.1" cy="439.8" r="1.25"/><circle cx="173.1" cy="430.6" r="1.25"/><circle cx="181.6" cy="449.6" r="1.25"/><circle cx="185.7" cy="423.4" r="1.25"/><circle cx="181.1" cy="445.6" r="1.25"/><circle cx="174.0" cy="449.5" r="1.25"/><circle cx="179.3" cy="450.8" r="1.25"/><circle cx="174.5" cy="443.9" r="1.25"/><circle cx="172.2" cy="433.7" r="1.25"/><circle cx="178.1" cy="448.9" r="1.25"/><circle cx="179.2" cy="450.6" r="1.25"/><circle cx="178.9" cy="451.0" r="1.25"/><circle cx="178.3" cy="450.3" r="1.25"/><circle cx="186.0" cy="421.7" r="1.25"/><circle cx="183.7" cy="435.9" r="1.25"/><circle cx="176.3" cy="447.3" r="1.25"/><circle cx="175.9" cy="448.9" r="1.25"/><circle cx="182.7" cy="443.0" r="1.25"/><circle cx="183.8" cy="440.3" r="1.25"/><circle cx="185.4" cy="427.0" r="1.25"/><circle cx="171.8" cy="439.5" r="1.25"/><circle cx="184.7" cy="436.2" r="1.25"/><circle cx="185.7" cy="434.8" r="1.25"/><circle cx="172.8" cy="432.5" r="1.25"/><circle cx="182.8" cy="444.3" r="1.25"/><circle cx="173.0" cy="438.9" r="1.25"/><circle cx="185.5" cy="428.2" r="1.25"/><circle cx="173.5" cy="441.8" r="1.25"/><circle cx="173.2" cy="446.8" r="1.25"/><circle cx="183.1" cy="445.4" r="1.25"/><circle cx="179.7" cy="449.6" r="1.25"/><circle cx="174.5" cy="437.3" r="1.25"/><circle cx="173.7" cy="435.3" r="1.25"/><circle cx="173.5" cy="438.2" r="1.25"/><circle cx="174.8" cy="444.1" r="1.25"/><circle cx="185.6" cy="426.9" r="1.25"/><circle cx="176.1" cy="442.1" r="1.25"/><circle cx="174.8" cy="442.2" r="1.25"/><circle cx="183.9" cy="436.0" r="1.25"/><circle cx="173.2" cy="428.6" r="1.25"/><circle cx="174.8" cy="444.3" r="1.25"/><circle cx="182.8" cy="443.7" r="1.25"/><circle cx="176.0" cy="448.9" r="1.25"/><circle cx="173.1" cy="434.2" r="1.25"/><circle cx="175.3" cy="441.2" r="1.25"/><circle cx="177.1" cy="447.4" r="1.25"/><circle cx="185.4" cy="433.8" r="1.25"/><circle cx="180.0" cy="448.2" r="1.25"/><circle cx="174.4" cy="445.4" r="1.25"/><circle cx="184.7" cy="430.5" r="1.25"/><circle cx="175.3" cy="446.3" r="1.25"/><circle cx="182.3" cy="439.2" r="1.25"/><circle cx="174.6" cy="435.3" r="1.25"/><circle cx="184.3" cy="435.2" r="1.25"/><circle cx="177.8" cy="450.2" r="1.25"/><circle cx="172.4" cy="424.8" r="1.25"/><circle cx="175.2" cy="440.0" r="1.25"/><circle cx="175.5" cy="440.0" r="1.25"/><circle cx="180.3" cy="449.0" r="1.25"/><circle cx="174.3" cy="436.6" r="1.25"/><circle cx="172.8" cy="440.8" r="1.25"/><circle cx="179.7" cy="448.9" r="1.25"/><circle cx="180.5" cy="448.7" r="1.25"/><circle cx="184.8" cy="441.8" r="1.25"/><circle cx="172.0" cy="438.1" r="1.25"/><circle cx="178.1" cy="450.6" r="1.25"/><circle cx="174.3" cy="441.4" r="1.25"/><circle cx="179.9" cy="450.1" r="1.25"/><circle cx="176.9" cy="445.1" r="1.25"/><circle cx="185.7" cy="429.1" r="1.25"/><circle cx="181.6" cy="444.3" r="1.25"/><circle cx="173.8" cy="448.3" r="1.25"/><circle cx="172.1" cy="424.3" r="1.25"/><circle cx="181.7" cy="441.3" r="1.25"/><circle cx="172.1" cy="429.7" r="1.25"/><circle cx="178.6" cy="450.6" r="1.25"/><circle cx="176.3" cy="442.3" r="1.25"/><circle cx="172.9" cy="434.1" r="1.25"/><circle cx="182.3" cy="439.7" r="1.25"/><circle cx="182.3" cy="441.2" r="1.25"/><circle cx="183.1" cy="436.3" r="1.25"/><circle cx="176.8" cy="445.5" r="1.25"/><circle cx="184.6" cy="430.2" r="1.25"/><circle cx="177.7" cy="448.0" r="1.25"/><circle cx="184.1" cy="436.6" r="1.25"/><circle cx="180.7" cy="447.9" r="1.25"/><circle cx="180.1" cy="448.5" r="1.25"/><circle cx="172.9" cy="432.7" r="1.25"/><circle cx="185.9" cy="424.1" r="1.25"/><circle cx="182.1" cy="444.5" r="1.25"/><circle cx="182.2" cy="442.4" r="1.25"/><circle cx="178.1" cy="448.9" r="1.25"/><circle cx="173.0" cy="431.1" r="1.25"/><circle cx="172.2" cy="430.8" r="1.25"/><circle cx="178.6" cy="450.8" r="1.25"/><circle cx="181.7" cy="444.6" r="1.25"/><circle cx="180.5" cy="446.2" r="1.25"/><circle cx="175.4" cy="450.2" r="1.25"/><circle cx="176.1" cy="443.3" r="1.25"/><circle cx="174.7" cy="445.5" r="1.25"/><circle cx="184.7" cy="433.1" r="1.25"/><circle cx="178.1" cy="448.9" r="1.25"/><circle cx="176.4" cy="444.5" r="1.25"/><circle cx="174.6" cy="441.3" r="1.25"/><circle cx="183.2" cy="435.5" r="1.25"/><circle cx="184.3" cy="439.0" r="1.25"/><circle cx="180.1" cy="449.3" r="1.25"/><circle cx="173.7" cy="437.8" r="1.25"/><circle cx="183.7" cy="434.3" r="1.25"/><circle cx="181.9" cy="440.8" r="1.25"/><circle cx="175.7" cy="447.1" r="1.25"/><circle cx="178.2" cy="450.2" r="1.25"/><circle cx="174.8" cy="442.1" r="1.25"/><circle cx="180.7" cy="447.3" r="1.25"/><circle cx="176.3" cy="443.0" r="1.25"/><circle cx="185.7" cy="433.5" r="1.25"/><circle cx="172.9" cy="447.9" r="1.25"/><circle cx="184.2" cy="447.9" r="1.25"/><circle cx="181.9" cy="443.6" r="1.25"/><circle cx="176.2" cy="442.9" r="1.25"/><circle cx="172.1" cy="442.5" r="1.25"/><circle cx="178.3" cy="450.8" r="1.25"/><circle cx="183.6" cy="443.4" r="1.25"/><circle cx="173.8" cy="447.8" r="1.25"/><circle cx="180.7" cy="447.4" r="1.25"/><circle cx="180.7" cy="446.5" r="1.25"/><circle cx="183.3" cy="435.0" r="1.25"/><circle cx="181.5" cy="447.6" r="1.25"/><circle cx="178.5" cy="450.7" r="1.25"/><circle cx="172.0" cy="432.7" r="1.25"/><circle cx="181.9" cy="447.2" r="1.25"/><circle cx="175.7" cy="444.9" r="1.25"/><circle cx="181.7" cy="444.5" r="1.25"/><circle cx="180.5" cy="446.7" r="1.25"/><circle cx="177.4" cy="447.0" r="1.25"/><circle cx="184.7" cy="445.7" r="1.25"/><circle cx="185.0" cy="430.6" r="1.25"/><circle cx="173.7" cy="438.2" r="1.25"/><circle cx="180.7" cy="445.7" r="1.25"/><circle cx="177.2" cy="447.1" r="1.25"/><circle cx="184.3" cy="432.5" r="1.25"/><circle cx="185.2" cy="434.9" r="1.25"/><circle cx="181.0" cy="448.3" r="1.25"/><circle cx="182.0" cy="441.1" r="1.25"/><circle cx="180.9" cy="445.7" r="1.25"/><circle cx="174.8" cy="436.8" r="1.25"/><circle cx="185.7" cy="423.3" r="1.25"/><circle cx="179.4" cy="449.9" r="1.25"/><circle cx="176.4" cy="442.8" r="1.25"/><circle cx="183.9" cy="440.6" r="1.25"/><circle cx="173.0" cy="436.5" r="1.25"/><circle cx="179.6" cy="449.4" r="1.25"/><circle cx="178.7" cy="451.0" r="1.25"/><circle cx="183.3" cy="447.8" r="1.25"/><circle cx="183.2" cy="445.4" r="1.25"/><circle cx="176.6" cy="444.2" r="1.25"/><circle cx="173.8" cy="444.7" r="1.25"/><circle cx="179.1" cy="450.6" r="1.25"/><circle cx="183.7" cy="436.1" r="1.25"/><circle cx="185.2" cy="434.2" r="1.25"/><circle cx="185.3" cy="445.0" r="1.25"/><circle cx="174.9" cy="441.0" r="1.25"/><circle cx="175.9" cy="442.4" r="1.25"/><circle cx="180.9" cy="446.7" r="1.25"/><circle cx="183.8" cy="437.7" r="1.25"/><circle cx="176.2" cy="445.9" r="1.25"/><circle cx="183.8" cy="433.2" r="1.25"/><circle cx="174.8" cy="437.0" r="1.25"/><circle cx="185.5" cy="432.5" r="1.25"/><circle cx="179.9" cy="449.9" r="1.25"/><circle cx="179.4" cy="450.2" r="1.25"/><circle cx="180.4" cy="450.5" r="1.25"/><circle cx="185.6" cy="432.6" r="1.25"/><circle cx="177.5" cy="447.3" r="1.25"/><circle cx="179.8" cy="449.4" r="1.25"/><circle cx="181.6" cy="449.2" r="1.25"/><circle cx="179.4" cy="450.2" r="1.25"/><circle cx="185.4" cy="425.8" r="1.25"/><circle cx="175.6" cy="443.6" r="1.25"/><circle cx="173.6" cy="438.4" r="1.25"/><circle cx="183.4" cy="435.0" r="1.25"/><circle cx="178.6" cy="450.6" r="1.25"/><circle cx="174.5" cy="438.6" r="1.25"/><circle cx="184.9" cy="443.9" r="1.25"/><circle cx="182.9" cy="449.5" r="1.25"/><circle cx="174.6" cy="444.3" r="1.25"/><circle cx="181.6" cy="446.4" r="1.25"/><circle cx="176.8" cy="446.0" r="1.25"/><circle cx="173.3" cy="432.6" r="1.25"/><circle cx="173.6" cy="436.9" r="1.25"/><circle cx="175.4" cy="446.2" r="1.25"/><circle cx="179.3" cy="450.4" r="1.25"/><circle cx="177.1" cy="447.7" r="1.25"/><circle cx="179.3" cy="450.7" r="1.25"/><circle cx="174.7" cy="439.1" r="1.25"/><circle cx="180.9" cy="446.7" r="1.25"/><circle cx="183.9" cy="436.6" r="1.25"/><circle cx="184.0" cy="442.8" r="1.25"/><circle cx="182.3" cy="440.2" r="1.25"/><circle cx="184.6" cy="439.6" r="1.25"/><circle cx="176.3" cy="442.5" r="1.25"/><circle cx="174.9" cy="436.2" r="1.25"/><circle cx="184.4" cy="444.5" r="1.25"/><circle cx="175.2" cy="439.9" r="1.25"/><circle cx="175.5" cy="448.0" r="1.25"/><circle cx="183.6" cy="440.2" r="1.25"/><circle cx="183.0" cy="446.6" r="1.25"/><circle cx="177.5" cy="447.7" r="1.25"/><circle cx="172.1" cy="440.2" r="1.25"/><circle cx="181.5" cy="442.7" r="1.25"/><circle cx="185.5" cy="443.5" r="1.25"/><circle cx="179.0" cy="450.9" r="1.25"/><circle cx="178.9" cy="451.0" r="1.25"/><circle cx="174.5" cy="447.6" r="1.25"/><circle cx="173.3" cy="447.9" r="1.25"/><circle cx="179.6" cy="449.7" r="1.25"/><circle cx="179.9" cy="450.1" r="1.25"/><circle cx="174.4" cy="444.5" r="1.25"/><circle cx="183.7" cy="432.5" r="1.25"/><circle cx="185.0" cy="445.0" r="1.25"/><circle cx="172.7" cy="426.6" r="1.25"/><circle cx="178.4" cy="449.9" r="1.25"/><circle cx="176.4" cy="445.8" r="1.25"/><circle cx="179.1" cy="450.7" r="1.25"/><circle cx="180.3" cy="450.7" r="1.25"/><circle cx="181.8" cy="442.1" r="1.25"/><circle cx="174.4" cy="440.3" r="1.25"/><circle cx="182.3" cy="443.9" r="1.25"/><circle cx="174.6" cy="445.5" r="1.25"/><circle cx="179.1" cy="451.0" r="1.25"/><circle cx="184.5" cy="431.6" r="1.25"/><circle cx="181.8" cy="441.8" r="1.25"/><circle cx="180.7" cy="447.6" r="1.25"/><circle cx="180.3" cy="448.2" r="1.25"/><circle cx="185.7" cy="426.2" r="1.25"/><circle cx="175.5" cy="439.3" r="1.25"/><circle cx="182.4" cy="440.2" r="1.25"/><circle cx="183.4" cy="441.2" r="1.25"/><circle cx="184.5" cy="430.3" r="1.25"/><circle cx="181.7" cy="442.9" r="1.25"/><circle cx="182.7" cy="443.0" r="1.25"/><circle cx="182.1" cy="448.7" r="1.25"/><circle cx="176.7" cy="446.3" r="1.25"/><circle cx="172.0" cy="435.5" r="1.25"/><circle cx="180.9" cy="446.2" r="1.25"/><circle cx="175.1" cy="437.5" r="1.25"/><circle cx="181.3" cy="446.9" r="1.25"/><circle cx="181.2" cy="445.6" r="1.25"/><circle cx="179.4" cy="450.4" r="1.25"/><circle cx="186.0" cy="428.4" r="1.25"/><circle cx="181.8" cy="442.6" r="1.25"/><circle cx="185.7" cy="448.1" r="1.25"/><circle cx="180.5" cy="446.8" r="1.25"/><circle cx="175.4" cy="443.8" r="1.25"/><circle cx="172.5" cy="441.2" r="1.25"/><circle cx="177.1" cy="449.6" r="1.25"/><circle cx="175.4" cy="439.0" r="1.25"/><circle cx="179.6" cy="449.8" r="1.25"/><circle cx="185.5" cy="431.6" r="1.25"/><circle cx="185.9" cy="428.7" r="1.25"/><circle cx="183.3" cy="447.5" r="1.25"/><circle cx="180.3" cy="447.5" r="1.25"/><circle cx="172.4" cy="425.8" r="1.25"/><circle cx="174.1" cy="439.2" r="1.25"/><circle cx="174.2" cy="439.2" r="1.25"/><circle cx="180.5" cy="450.1" r="1.25"/><circle cx="185.2" cy="435.7" r="1.25"/><circle cx="179.3" cy="450.4" r="1.25"/><circle cx="177.0" cy="448.1" r="1.25"/><circle cx="181.1" cy="445.9" r="1.25"/><circle cx="175.8" cy="442.2" r="1.25"/><circle cx="176.0" cy="450.2" r="1.25"/><circle cx="175.3" cy="449.0" r="1.25"/><circle cx="174.0" cy="435.1" r="1.25"/><circle cx="177.3" cy="446.5" r="1.25"/><circle cx="182.4" cy="448.9" r="1.25"/><circle cx="185.8" cy="423.3" r="1.25"/><circle cx="172.9" cy="428.0" r="1.25"/><circle cx="177.9" cy="449.2" r="1.25"/><circle cx="185.6" cy="439.2" r="1.25"/><circle cx="179.2" cy="450.3" r="1.25"/><circle cx="182.1" cy="443.9" r="1.25"/><circle cx="185.7" cy="426.2" r="1.25"/><circle cx="180.4" cy="449.8" r="1.25"/><circle cx="180.7" cy="447.5" r="1.25"/><circle cx="174.7" cy="448.3" r="1.25"/><circle cx="179.3" cy="450.7" r="1.25"/><circle cx="178.1" cy="449.3" r="1.25"/><circle cx="178.3" cy="450.3" r="1.25"/><circle cx="180.1" cy="449.0" r="1.25"/><circle cx="182.8" cy="441.0" r="1.25"/><circle cx="186.0" cy="422.5" r="1.25"/><circle cx="182.2" cy="446.0" r="1.25"/><circle cx="173.4" cy="430.8" r="1.25"/><circle cx="182.9" cy="439.7" r="1.25"/><circle cx="176.9" cy="448.1" r="1.25"/><circle cx="181.5" cy="444.6" r="1.25"/><circle cx="180.2" cy="448.1" r="1.25"/><circle cx="182.5" cy="446.2" r="1.25"/><circle cx="175.3" cy="438.3" r="1.25"/><circle cx="184.8" cy="429.1" r="1.25"/><circle cx="172.4" cy="446.0" r="1.25"/><circle cx="175.7" cy="444.1" r="1.25"/><circle cx="180.6" cy="449.6" r="1.25"/><circle cx="179.5" cy="450.7" r="1.25"/><circle cx="173.0" cy="432.4" r="1.25"/><circle cx="179.6" cy="449.6" r="1.25"/><circle cx="177.1" cy="447.3" r="1.25"/><circle cx="174.8" cy="442.9" r="1.25"/><circle cx="182.4" cy="439.7" r="1.25"/><circle cx="172.9" cy="444.2" r="1.25"/><circle cx="183.3" cy="438.5" r="1.25"/><circle cx="182.7" cy="445.5" r="1.25"/><circle cx="177.8" cy="449.6" r="1.25"/><circle cx="183.3" cy="441.9" r="1.25"/><circle cx="181.1" cy="443.9" r="1.25"/><circle cx="176.4" cy="445.2" r="1.25"/><circle cx="182.4" cy="439.0" r="1.25"/><circle cx="177.9" cy="449.4" r="1.25"/><circle cx="173.2" cy="430.0" r="1.25"/><circle cx="172.9" cy="445.6" r="1.25"/><circle cx="179.8" cy="449.4" r="1.25"/><circle cx="181.5" cy="446.7" r="1.25"/><circle cx="182.8" cy="447.9" r="1.25"/><circle cx="174.8" cy="439.2" r="1.25"/><circle cx="173.0" cy="439.3" r="1.25"/><circle cx="182.1" cy="441.9" r="1.25"/><circle cx="175.8" cy="447.6" r="1.25"/><circle cx="176.9" cy="445.6" r="1.25"/><circle cx="177.0" cy="449.3" r="1.25"/><circle cx="181.9" cy="443.6" r="1.25"/><circle cx="184.8" cy="428.0" r="1.25"/><circle cx="184.8" cy="436.7" r="1.25"/><circle cx="183.2" cy="443.1" r="1.25"/><circle cx="176.3" cy="445.9" r="1.25"/><circle cx="185.1" cy="427.7" r="1.25"/><circle cx="175.3" cy="444.0" r="1.25"/><circle cx="177.0" cy="447.7" r="1.25"/><circle cx="177.4" cy="448.5" r="1.25"/><circle cx="174.6" cy="439.4" r="1.25"/><circle cx="183.1" cy="440.1" r="1.25"/><circle cx="183.7" cy="438.0" r="1.25"/><circle cx="174.3" cy="436.2" r="1.25"/><circle cx="184.3" cy="441.1" r="1.25"/><circle cx="172.1" cy="432.2" r="1.25"/><circle cx="179.5" cy="449.9" r="1.25"/><circle cx="185.5" cy="430.0" r="1.25"/><circle cx="183.2" cy="447.9" r="1.25"/><circle cx="179.6" cy="449.5" r="1.25"/><circle cx="173.0" cy="445.7" r="1.25"/><circle cx="182.3" cy="439.7" r="1.25"/><circle cx="173.0" cy="433.0" r="1.25"/><circle cx="173.9" cy="434.5" r="1.25"/><circle cx="181.0" cy="448.0" r="1.25"/><circle cx="174.9" cy="438.5" r="1.25"/><circle cx="179.2" cy="450.4" r="1.25"/><circle cx="177.4" cy="448.6" r="1.25"/><circle cx="185.5" cy="429.5" r="1.25"/><circle cx="178.8" cy="450.9" r="1.25"/><circle cx="182.0" cy="442.0" r="1.25"/><circle cx="184.8" cy="437.2" r="1.25"/><circle cx="183.5" cy="437.1" r="1.25"/><circle cx="183.9" cy="433.9" r="1.25"/><circle cx="183.6" cy="434.1" r="1.25"/><circle cx="185.4" cy="430.7" r="1.25"/><circle cx="179.2" cy="450.4" r="1.25"/><circle cx="183.2" cy="441.4" r="1.25"/><circle cx="177.8" cy="450.0" r="1.25"/><circle cx="182.3" cy="438.8" r="1.25"/><circle cx="177.1" cy="449.1" r="1.25"/><circle cx="174.7" cy="441.6" r="1.25"/><circle cx="176.0" cy="440.9" r="1.25"/><circle cx="172.6" cy="438.5" r="1.25"/><circle cx="173.4" cy="434.4" r="1.25"/><circle cx="182.8" cy="445.8" r="1.25"/><circle cx="172.7" cy="435.2" r="1.25"/><circle cx="180.1" cy="447.7" r="1.25"/><circle cx="172.3" cy="443.9" r="1.25"/><circle cx="174.4" cy="444.2" r="1.25"/><circle cx="175.1" cy="439.7" r="1.25"/><circle cx="180.2" cy="449.4" r="1.25"/><circle cx="174.4" cy="443.1" r="1.25"/><circle cx="174.3" cy="436.0" r="1.25"/><circle cx="176.2" cy="444.6" r="1.25"/><circle cx="183.4" cy="440.0" r="1.25"/><circle cx="175.5" cy="439.6" r="1.25"/><circle cx="184.8" cy="438.6" r="1.25"/><circle cx="179.6" cy="449.3" r="1.25"/><circle cx="178.7" cy="450.8" r="1.25"/><circle cx="172.5" cy="425.8" r="1.25"/><circle cx="183.2" cy="441.9" r="1.25"/><circle cx="179.3" cy="450.4" r="1.25"/><circle cx="175.7" cy="439.7" r="1.25"/><circle cx="181.1" cy="447.9" r="1.25"/><circle cx="172.0" cy="432.7" r="1.25"/><circle cx="177.1" cy="446.0" r="1.25"/><circle cx="181.9" cy="443.1" r="1.25"/><circle cx="174.0" cy="444.8" r="1.25"/><circle cx="176.4" cy="447.2" r="1.25"/><circle cx="184.1" cy="437.2" r="1.25"/><circle cx="180.8" cy="444.8" r="1.25"/><circle cx="175.6" cy="442.9" r="1.25"/><circle cx="173.9" cy="434.6" r="1.25"/><circle cx="171.8" cy="424.9" r="1.25"/><circle cx="183.8" cy="434.1" r="1.25"/><circle cx="173.0" cy="440.2" r="1.25"/><circle cx="182.0" cy="448.3" r="1.25"/><circle cx="178.6" cy="450.6" r="1.25"/><circle cx="185.4" cy="431.8" r="1.25"/><circle cx="184.0" cy="441.4" r="1.25"/><circle cx="183.0" cy="441.9" r="1.25"/><circle cx="184.8" cy="445.4" r="1.25"/><circle cx="183.5" cy="444.1" r="1.25"/><circle cx="179.5" cy="449.9" r="1.25"/><circle cx="174.0" cy="434.2" r="1.25"/><circle cx="176.2" cy="446.5" r="1.25"/><circle cx="172.9" cy="439.1" r="1.25"/><circle cx="178.4" cy="450.1" r="1.25"/><circle cx="176.9" cy="445.9" r="1.25"/><circle cx="173.3" cy="438.3" r="1.25"/><circle cx="178.4" cy="449.7" r="1.25"/><circle cx="183.6" cy="437.1" r="1.25"/><circle cx="172.0" cy="435.1" r="1.25"/><circle cx="181.9" cy="446.6" r="1.25"/><circle cx="179.8" cy="449.4" r="1.25"/><circle cx="172.0" cy="422.4" r="1.25"/><circle cx="183.1" cy="444.8" r="1.25"/><circle cx="180.5" cy="448.6" r="1.25"/><circle cx="177.1" cy="447.2" r="1.25"/><circle cx="176.0" cy="445.8" r="1.25"/><circle cx="177.4" cy="447.3" r="1.25"/><circle cx="175.4" cy="446.3" r="1.25"/><circle cx="182.2" cy="445.0" r="1.25"/><circle cx="185.2" cy="432.8" r="1.25"/><circle cx="182.1" cy="445.2" r="1.25"/><circle cx="183.2" cy="451.0" r="1.25"/><circle cx="170.6" cy="450.9" r="1.25"/><circle cx="164.2" cy="451.1" r="1.25"/><circle cx="148.9" cy="451.4" r="1.25"/><circle cx="193.7" cy="450.9" r="1.25"/><circle cx="154.5" cy="451.1" r="1.25"/><circle cx="184.9" cy="451.4" r="1.25"/><circle cx="188.0" cy="450.9" r="1.25"/><circle cx="198.6" cy="451.6" r="1.25"/><circle cx="168.2" cy="451.8" r="1.25"/><circle cx="183.1" cy="451.4" r="1.25"/><circle cx="139.7" cy="451.3" r="1.25"/><circle cx="175.7" cy="451.4" r="1.25"/><circle cx="180.9" cy="451.8" r="1.25"/><circle cx="216.2" cy="451.8" r="1.25"/><circle cx="174.6" cy="451.7" r="1.25"/><circle cx="197.8" cy="451.3" r="1.25"/><circle cx="181.1" cy="451.8" r="1.25"/><circle cx="195.2" cy="451.6" r="1.25"/><circle cx="191.7" cy="452.0" r="1.25"/><circle cx="192.2" cy="451.0" r="1.25"/><circle cx="152.9" cy="451.9" r="1.25"/><circle cx="200.9" cy="451.3" r="1.25"/><circle cx="163.6" cy="451.6" r="1.25"/><circle cx="200.0" cy="452.3" r="1.25"/><circle cx="205.0" cy="451.6" r="1.25"/><circle cx="170.2" cy="451.1" r="1.25"/><circle cx="139.4" cy="452.2" r="1.25"/><circle cx="169.0" cy="450.9" r="1.25"/><circle cx="168.8" cy="451.2" r="1.25"/><circle cx="149.7" cy="451.3" r="1.25"/><circle cx="163.7" cy="452.2" r="1.25"/><circle cx="163.6" cy="451.0" r="1.25"/><circle cx="197.1" cy="452.3" r="1.25"/><circle cx="209.2" cy="451.6" r="1.25"/><circle cx="213.6" cy="451.6" r="1.25"/><circle cx="163.4" cy="452.2" r="1.25"/><circle cx="172.7" cy="452.3" r="1.25"/><circle cx="190.8" cy="451.0" r="1.25"/><circle cx="152.6" cy="452.0" r="1.25"/><circle cx="168.0" cy="451.2" r="1.25"/><circle cx="222.9" cy="451.7" r="1.25"/><circle cx="185.5" cy="451.6" r="1.25"/><circle cx="167.0" cy="450.9" r="1.25"/><circle cx="192.0" cy="452.3" r="1.25"/><circle cx="181.6" cy="452.2" r="1.25"/><circle cx="169.0" cy="451.8" r="1.25"/><circle cx="163.6" cy="451.9" r="1.25"/><circle cx="157.9" cy="452.0" r="1.25"/><circle cx="198.2" cy="450.8" r="1.25"/><circle cx="186.4" cy="451.0" r="1.25"/><circle cx="201.6" cy="451.4" r="1.25"/><circle cx="167.0" cy="451.6" r="1.25"/><circle cx="173.3" cy="451.2" r="1.25"/><circle cx="161.5" cy="451.8" r="1.25"/><circle cx="171.0" cy="450.9" r="1.25"/><circle cx="173.2" cy="452.2" r="1.25"/><circle cx="168.4" cy="451.7" r="1.25"/><circle cx="157.4" cy="451.7" r="1.25"/><circle cx="183.0" cy="451.8" r="1.25"/><circle cx="180.7" cy="451.5" r="1.25"/><circle cx="143.4" cy="452.3" r="1.25"/><circle cx="200.9" cy="451.4" r="1.25"/><circle cx="143.4" cy="451.5" r="1.25"/><circle cx="136.6" cy="451.6" r="1.25"/><circle cx="160.3" cy="451.6" r="1.25"/><circle cx="136.9" cy="451.3" r="1.25"/><circle cx="197.9" cy="450.9" r="1.25"/><circle cx="171.9" cy="451.9" r="1.25"/><circle cx="133.8" cy="451.7" r="1.25"/><circle cx="179.1" cy="451.7" r="1.25"/><circle cx="160.8" cy="450.9" r="1.25"/><circle cx="195.3" cy="451.6" r="1.25"/><circle cx="195.2" cy="451.4" r="1.25"/><circle cx="209.9" cy="451.6" r="1.25"/><circle cx="189.4" cy="451.2" r="1.25"/><circle cx="171.5" cy="451.2" r="1.25"/><circle cx="198.9" cy="450.9" r="1.25"/><circle cx="225.9" cy="451.8" r="1.25"/><circle cx="149.6" cy="452.1" r="1.25"/><circle cx="145.0" cy="451.1" r="1.25"/><circle cx="197.1" cy="451.9" r="1.25"/><circle cx="136.9" cy="450.9" r="1.25"/><circle cx="160.2" cy="452.0" r="1.25"/><circle cx="197.7" cy="452.2" r="1.25"/><circle cx="197.4" cy="450.8" r="1.25"/><circle cx="179.6" cy="451.3" r="1.25"/><circle cx="196.8" cy="450.9" r="1.25"/><circle cx="209.8" cy="451.4" r="1.25"/><circle cx="155.0" cy="451.3" r="1.25"/><circle cx="173.3" cy="450.8" r="1.25"/><circle cx="175.6" cy="452.1" r="1.25"/><circle cx="170.0" cy="452.2" r="1.25"/><circle cx="202.3" cy="452.3" r="1.25"/><circle cx="164.6" cy="451.2" r="1.25"/><circle cx="181.4" cy="452.2" r="1.25"/><circle cx="190.1" cy="452.1" r="1.25"/><circle cx="170.4" cy="451.3" r="1.25"/><circle cx="166.0" cy="452.1" r="1.25"/><circle cx="181.1" cy="452.3" r="1.25"/><circle cx="187.8" cy="451.1" r="1.25"/><circle cx="207.6" cy="452.1" r="1.25"/><circle cx="188.5" cy="451.9" r="1.25"/><circle cx="182.0" cy="451.3" r="1.25"/><circle cx="213.7" cy="451.9" r="1.25"/><circle cx="153.7" cy="451.0" r="1.25"/><circle cx="162.2" cy="451.5" r="1.25"/><circle cx="131.6" cy="450.9" r="1.25"/><circle cx="181.9" cy="451.9" r="1.25"/><circle cx="196.9" cy="451.1" r="1.25"/><circle cx="185.4" cy="451.8" r="1.25"/><circle cx="193.0" cy="452.0" r="1.25"/><circle cx="157.1" cy="452.1" r="1.25"/><circle cx="201.4" cy="451.7" r="1.25"/><circle cx="181.3" cy="452.2" r="1.25"/><circle cx="196.7" cy="451.8" r="1.25"/><circle cx="173.8" cy="450.9" r="1.25"/><circle cx="208.9" cy="452.3" r="1.25"/><circle cx="154.6" cy="451.6" r="1.25"/><circle cx="188.4" cy="450.9" r="1.25"/><circle cx="164.8" cy="451.2" r="1.25"/><circle cx="168.7" cy="452.0" r="1.25"/><circle cx="193.8" cy="451.9" r="1.25"/><circle cx="188.0" cy="451.2" r="1.25"/><circle cx="174.0" cy="451.1" r="1.25"/><circle cx="205.3" cy="452.1" r="1.25"/><circle cx="184.4" cy="451.5" r="1.25"/><circle cx="178.5" cy="451.9" r="1.25"/><circle cx="142.2" cy="451.5" r="1.25"/><circle cx="211.3" cy="451.1" r="1.25"/><circle cx="150.2" cy="451.3" r="1.25"/><circle cx="168.3" cy="451.8" r="1.25"/><circle cx="184.2" cy="451.6" r="1.25"/><circle cx="153.8" cy="452.1" r="1.25"/><circle cx="168.5" cy="452.2" r="1.25"/><circle cx="155.3" cy="451.1" r="1.25"/><circle cx="181.3" cy="451.7" r="1.25"/><circle cx="166.3" cy="451.2" r="1.25"/><circle cx="144.8" cy="452.0" r="1.25"/><circle cx="192.3" cy="452.0" r="1.25"/><circle cx="181.1" cy="451.1" r="1.25"/><circle cx="203.5" cy="451.7" r="1.25"/><circle cx="173.2" cy="451.7" r="1.25"/><circle cx="178.9" cy="451.9" r="1.25"/><circle cx="140.1" cy="451.1" r="1.25"/><circle cx="159.9" cy="451.0" r="1.25"/><circle cx="203.6" cy="451.5" r="1.25"/><circle cx="181.7" cy="451.5" r="1.25"/><circle cx="175.8" cy="450.9" r="1.25"/><circle cx="216.8" cy="452.2" r="1.25"/><circle cx="154.7" cy="452.0" r="1.25"/><circle cx="167.7" cy="451.2" r="1.25"/><circle cx="190.0" cy="450.9" r="1.25"/><circle cx="193.5" cy="451.3" r="1.25"/><circle cx="160.1" cy="451.2" r="1.25"/><circle cx="161.0" cy="451.7" r="1.25"/><circle cx="212.4" cy="451.1" r="1.25"/><circle cx="199.7" cy="451.2" r="1.25"/><circle cx="196.4" cy="452.0" r="1.25"/><circle cx="206.4" cy="452.0" r="1.25"/><circle cx="199.2" cy="451.3" r="1.25"/><circle cx="187.1" cy="451.1" r="1.25"/><circle cx="185.0" cy="451.5" r="1.25"/><circle cx="177.8" cy="451.9" r="1.25"/><circle cx="190.7" cy="451.5" r="1.25"/><circle cx="177.9" cy="451.9" r="1.25"/><circle cx="194.2" cy="452.1" r="1.25"/><circle cx="182.8" cy="451.0" r="1.25"/><circle cx="164.9" cy="451.4" r="1.25"/><circle cx="190.1" cy="450.9" r="1.25"/><circle cx="248.1" cy="451.9" r="1.25"/><circle cx="194.0" cy="451.9" r="1.25"/><circle cx="180.9" cy="451.6" r="1.25"/><circle cx="195.0" cy="451.2" r="1.25"/><circle cx="131.0" cy="451.3" r="1.25"/><circle cx="190.7" cy="451.3" r="1.25"/><circle cx="207.9" cy="450.9" r="1.25"/><circle cx="175.5" cy="451.4" r="1.25"/><circle cx="174.6" cy="451.3" r="1.25"/><circle cx="172.9" cy="451.8" r="1.25"/><circle cx="197.6" cy="452.1" r="1.25"/><circle cx="157.5" cy="451.5" r="1.25"/><circle cx="146.9" cy="451.4" r="1.25"/><circle cx="204.4" cy="452.0" r="1.25"/><circle cx="183.1" cy="451.1" r="1.25"/><circle cx="198.1" cy="451.6" r="1.25"/><circle cx="186.3" cy="451.1" r="1.25"/><circle cx="191.2" cy="451.5" r="1.25"/><circle cx="170.6" cy="452.3" r="1.25"/><circle cx="200.5" cy="451.8" r="1.25"/><circle cx="188.3" cy="451.4" r="1.25"/><circle cx="168.0" cy="450.9" r="1.25"/><circle cx="171.6" cy="451.2" r="1.25"/><circle cx="160.1" cy="450.8" r="1.25"/><circle cx="185.8" cy="451.4" r="1.25"/><circle cx="194.0" cy="452.2" r="1.25"/><circle cx="175.2" cy="451.3" r="1.25"/><circle cx="162.5" cy="451.0" r="1.25"/><circle cx="197.4" cy="451.9" r="1.25"/><circle cx="171.1" cy="451.9" r="1.25"/><circle cx="182.5" cy="451.3" r="1.25"/><circle cx="176.5" cy="451.4" r="1.25"/><circle cx="217.0" cy="451.3" r="1.25"/><circle cx="200.9" cy="452.0" r="1.25"/><circle cx="171.8" cy="451.4" r="1.25"/><circle cx="178.0" cy="451.2" r="1.25"/><circle cx="190.7" cy="451.7" r="1.25"/><circle cx="182.0" cy="450.8" r="1.25"/><circle cx="170.4" cy="451.6" r="1.25"/><circle cx="199.6" cy="451.0" r="1.25"/><circle cx="174.5" cy="451.9" r="1.25"/><circle cx="163.0" cy="451.8" r="1.25"/><circle cx="187.6" cy="451.2" r="1.25"/><circle cx="190.4" cy="451.9" r="1.25"/><circle cx="161.5" cy="452.1" r="1.25"/><circle cx="190.7" cy="451.1" r="1.25"/><circle cx="173.8" cy="451.1" r="1.25"/><circle cx="197.8" cy="450.9" r="1.25"/><circle cx="208.6" cy="451.6" r="1.25"/><circle cx="183.5" cy="452.0" r="1.25"/><circle cx="196.6" cy="451.8" r="1.25"/><circle cx="176.2" cy="452.2" r="1.25"/><circle cx="185.8" cy="451.8" r="1.25"/><circle cx="210.7" cy="452.2" r="1.25"/><circle cx="189.4" cy="451.7" r="1.25"/><circle cx="167.5" cy="450.9" r="1.25"/><circle cx="159.8" cy="450.9" r="1.25"/><circle cx="188.2" cy="451.4" r="1.25"/><circle cx="167.1" cy="451.2" r="1.25"/><circle cx="200.9" cy="451.0" r="1.25"/><circle cx="159.1" cy="451.1" r="1.25"/><circle cx="192.8" cy="451.8" r="1.25"/><circle cx="179.5" cy="451.3" r="1.25"/><circle cx="188.3" cy="451.4" r="1.25"/><circle cx="195.3" cy="451.9" r="1.25"/><circle cx="201.7" cy="451.6" r="1.25"/><circle cx="177.5" cy="451.4" r="1.25"/><circle cx="174.5" cy="451.3" r="1.25"/><circle cx="198.9" cy="450.9" r="1.25"/><circle cx="187.2" cy="451.5" r="1.25"/><circle cx="158.4" cy="451.3" r="1.25"/><circle cx="166.6" cy="451.2" r="1.25"/><circle cx="198.3" cy="452.1" r="1.25"/><circle cx="181.8" cy="451.6" r="1.25"/><circle cx="176.5" cy="451.1" r="1.25"/><circle cx="210.4" cy="451.5" r="1.25"/><circle cx="139.3" cy="451.3" r="1.25"/><circle cx="143.8" cy="451.7" r="1.25"/><circle cx="213.1" cy="451.7" r="1.25"/><circle cx="166.0" cy="451.7" r="1.25"/><circle cx="160.2" cy="451.2" r="1.25"/><circle cx="190.6" cy="452.0" r="1.25"/><circle cx="194.1" cy="452.2" r="1.25"/><circle cx="164.6" cy="450.9" r="1.25"/><circle cx="195.5" cy="451.3" r="1.25"/><circle cx="198.0" cy="451.3" r="1.25"/><circle cx="190.9" cy="451.1" r="1.25"/><circle cx="177.2" cy="451.1" r="1.25"/><circle cx="172.3" cy="450.8" r="1.25"/><circle cx="164.8" cy="451.6" r="1.25"/></g>
<g fill="#2f86d0" fill-opacity="0.7"><circle cx="170.3" cy="444.1" r="1.85"/><circle cx="165.9" cy="441.6" r="1.85"/><circle cx="166.3" cy="440.0" r="1.85"/><circle cx="161.7" cy="439.6" r="1.85"/><circle cx="169.5" cy="403.0" r="1.85"/><circle cx="159.5" cy="445.1" r="1.85"/><circle cx="164.7" cy="445.8" r="1.85"/><circle cx="165.2" cy="434.6" r="1.85"/><circle cx="161.9" cy="405.1" r="1.85"/><circle cx="166.3" cy="448.6" r="1.85"/><circle cx="167.1" cy="441.7" r="1.85"/><circle cx="169.9" cy="444.6" r="1.85"/><circle cx="167.5" cy="431.9" r="1.85"/><circle cx="170.2" cy="447.3" r="1.85"/><circle cx="170.7" cy="445.6" r="1.85"/><circle cx="171.0" cy="441.0" r="1.85"/><circle cx="171.4" cy="450.1" r="1.85"/><circle cx="164.9" cy="449.5" r="1.85"/><circle cx="168.4" cy="449.3" r="1.85"/><circle cx="168.1" cy="430.5" r="1.85"/><circle cx="160.4" cy="448.5" r="1.85"/><circle cx="171.5" cy="422.8" r="1.85"/><circle cx="167.8" cy="446.9" r="1.85"/><circle cx="169.0" cy="429.0" r="1.85"/><circle cx="170.2" cy="433.6" r="1.85"/><circle cx="169.6" cy="433.6" r="1.85"/><circle cx="163.7" cy="445.4" r="1.85"/><circle cx="161.8" cy="425.4" r="1.85"/><circle cx="168.7" cy="439.4" r="1.85"/><circle cx="166.3" cy="434.0" r="1.85"/><circle cx="162.6" cy="426.4" r="1.85"/><circle cx="169.1" cy="449.1" r="1.85"/><circle cx="170.3" cy="435.7" r="1.85"/><circle cx="171.7" cy="448.2" r="1.85"/><circle cx="155.8" cy="438.8" r="1.85"/><circle cx="171.0" cy="402.3" r="1.85"/><circle cx="168.7" cy="434.9" r="1.85"/><circle cx="168.9" cy="437.2" r="1.85"/><circle cx="146.3" cy="413.5" r="1.85"/><circle cx="164.7" cy="450.3" r="1.85"/><circle cx="171.6" cy="449.3" r="1.85"/><circle cx="164.4" cy="446.3" r="1.85"/><circle cx="169.5" cy="449.2" r="1.85"/><circle cx="168.1" cy="449.8" r="1.85"/><circle cx="169.7" cy="444.5" r="1.85"/><circle cx="161.5" cy="428.7" r="1.85"/><circle cx="169.0" cy="446.4" r="1.85"/><circle cx="163.6" cy="437.7" r="1.85"/><circle cx="169.0" cy="396.2" r="1.85"/><circle cx="167.3" cy="434.6" r="1.85"/><circle cx="170.9" cy="428.7" r="1.85"/><circle cx="171.2" cy="448.3" r="1.85"/><circle cx="170.2" cy="413.5" r="1.85"/><circle cx="171.1" cy="441.7" r="1.85"/><circle cx="171.7" cy="445.6" r="1.85"/><circle cx="170.9" cy="439.5" r="1.85"/><circle cx="170.0" cy="437.4" r="1.85"/><circle cx="168.1" cy="447.4" r="1.85"/><circle cx="170.1" cy="444.7" r="1.85"/><circle cx="171.4" cy="450.3" r="1.85"/><circle cx="169.7" cy="420.1" r="1.85"/><circle cx="170.7" cy="449.9" r="1.85"/><circle cx="138.6" cy="441.9" r="1.85"/><circle cx="160.4" cy="447.9" r="1.85"/><circle cx="168.8" cy="441.8" r="1.85"/><circle cx="169.0" cy="428.2" r="1.85"/><circle cx="167.3" cy="450.2" r="1.85"/><circle cx="166.3" cy="436.2" r="1.85"/><circle cx="156.0" cy="446.5" r="1.85"/><circle cx="142.5" cy="423.3" r="1.85"/><circle cx="161.6" cy="442.9" r="1.85"/><circle cx="170.7" cy="433.1" r="1.85"/><circle cx="171.1" cy="450.2" r="1.85"/><circle cx="169.3" cy="449.9" r="1.85"/><circle cx="169.7" cy="431.6" r="1.85"/><circle cx="171.8" cy="441.0" r="1.85"/><circle cx="153.7" cy="447.7" r="1.85"/><circle cx="162.4" cy="449.8" r="1.85"/><circle cx="164.3" cy="429.3" r="1.85"/><circle cx="162.6" cy="444.0" r="1.85"/><circle cx="163.5" cy="426.7" r="1.85"/><circle cx="171.2" cy="392.0" r="1.85"/><circle cx="168.9" cy="409.5" r="1.85"/><circle cx="170.2" cy="434.1" r="1.85"/><circle cx="171.7" cy="417.8" r="1.85"/><circle cx="170.3" cy="439.1" r="1.85"/><circle cx="169.2" cy="444.2" r="1.85"/><circle cx="162.4" cy="436.2" r="1.85"/><circle cx="166.0" cy="444.7" r="1.85"/><circle cx="170.0" cy="445.0" r="1.85"/><circle cx="169.6" cy="418.4" r="1.85"/><circle cx="169.5" cy="449.6" r="1.85"/><circle cx="170.5" cy="432.3" r="1.85"/><circle cx="167.3" cy="432.2" r="1.85"/><circle cx="170.7" cy="435.2" r="1.85"/><circle cx="170.9" cy="449.5" r="1.85"/><circle cx="168.6" cy="445.0" r="1.85"/><circle cx="168.9" cy="449.8" r="1.85"/><circle cx="167.4" cy="445.6" r="1.85"/><circle cx="170.5" cy="408.9" r="1.85"/><circle cx="169.6" cy="421.6" r="1.85"/><circle cx="171.2" cy="431.6" r="1.85"/><circle cx="168.6" cy="390.4" r="1.85"/><circle cx="170.4" cy="405.5" r="1.85"/><circle cx="164.9" cy="443.7" r="1.85"/><circle cx="170.0" cy="448.3" r="1.85"/><circle cx="155.1" cy="435.4" r="1.85"/><circle cx="170.7" cy="445.6" r="1.85"/><circle cx="146.0" cy="444.9" r="1.85"/><circle cx="166.1" cy="448.8" r="1.85"/><circle cx="166.0" cy="444.4" r="1.85"/><circle cx="166.4" cy="447.7" r="1.85"/><circle cx="160.8" cy="420.8" r="1.85"/><circle cx="167.8" cy="437.3" r="1.85"/><circle cx="171.1" cy="439.4" r="1.85"/><circle cx="165.2" cy="425.9" r="1.85"/><circle cx="165.6" cy="442.7" r="1.85"/><circle cx="169.1" cy="443.5" r="1.85"/><circle cx="166.6" cy="447.4" r="1.85"/><circle cx="167.7" cy="439.2" r="1.85"/><circle cx="168.5" cy="449.7" r="1.85"/><circle cx="166.7" cy="438.6" r="1.85"/><circle cx="170.9" cy="413.9" r="1.85"/><circle cx="143.8" cy="442.3" r="1.85"/><circle cx="169.7" cy="432.5" r="1.85"/><circle cx="146.0" cy="432.5" r="1.85"/><circle cx="160.3" cy="443.9" r="1.85"/><circle cx="145.6" cy="449.1" r="1.85"/><circle cx="170.3" cy="441.7" r="1.85"/><circle cx="165.9" cy="425.6" r="1.85"/><circle cx="161.8" cy="412.6" r="1.85"/><circle cx="167.7" cy="428.9" r="1.85"/><circle cx="160.2" cy="450.1" r="1.85"/><circle cx="170.2" cy="433.8" r="1.85"/><circle cx="168.4" cy="428.2" r="1.85"/><circle cx="160.4" cy="440.4" r="1.85"/><circle cx="169.9" cy="448.0" r="1.85"/><circle cx="171.4" cy="436.7" r="1.85"/><circle cx="163.0" cy="439.8" r="1.85"/><circle cx="170.2" cy="441.7" r="1.85"/><circle cx="160.9" cy="428.7" r="1.85"/><circle cx="167.3" cy="430.6" r="1.85"/><circle cx="162.8" cy="418.3" r="1.85"/><circle cx="169.2" cy="448.7" r="1.85"/><circle cx="171.6" cy="449.5" r="1.85"/><circle cx="160.5" cy="445.1" r="1.85"/><circle cx="171.1" cy="426.2" r="1.85"/><circle cx="169.0" cy="448.2" r="1.85"/><circle cx="166.4" cy="424.8" r="1.85"/><circle cx="171.4" cy="418.9" r="1.85"/><circle cx="170.5" cy="390.0" r="1.85"/><circle cx="159.9" cy="437.3" r="1.85"/><circle cx="170.6" cy="433.0" r="1.85"/><circle cx="168.6" cy="435.7" r="1.85"/><circle cx="169.7" cy="450.0" r="1.85"/><circle cx="170.0" cy="437.3" r="1.85"/><circle cx="165.1" cy="438.2" r="1.85"/><circle cx="171.0" cy="448.2" r="1.85"/><circle cx="168.2" cy="434.6" r="1.85"/><circle cx="171.1" cy="449.1" r="1.85"/><circle cx="166.5" cy="411.9" r="1.85"/><circle cx="170.6" cy="444.9" r="1.85"/><circle cx="164.3" cy="434.7" r="1.85"/><circle cx="169.7" cy="444.8" r="1.85"/><circle cx="170.9" cy="443.7" r="1.85"/><circle cx="168.7" cy="437.2" r="1.85"/><circle cx="168.8" cy="427.3" r="1.85"/><circle cx="167.8" cy="442.6" r="1.85"/><circle cx="169.4" cy="411.7" r="1.85"/><circle cx="170.3" cy="434.2" r="1.85"/><circle cx="169.9" cy="439.0" r="1.85"/><circle cx="169.9" cy="422.5" r="1.85"/><circle cx="165.4" cy="424.3" r="1.85"/><circle cx="156.4" cy="442.6" r="1.85"/><circle cx="164.1" cy="444.2" r="1.85"/><circle cx="168.4" cy="438.3" r="1.85"/><circle cx="168.7" cy="450.1" r="1.85"/><circle cx="168.5" cy="446.4" r="1.85"/><circle cx="169.8" cy="408.3" r="1.85"/><circle cx="165.5" cy="434.6" r="1.85"/><circle cx="168.8" cy="447.1" r="1.85"/><circle cx="159.0" cy="449.0" r="1.85"/><circle cx="168.7" cy="447.0" r="1.85"/><circle cx="162.1" cy="445.2" r="1.85"/><circle cx="166.7" cy="424.7" r="1.85"/><circle cx="171.2" cy="440.1" r="1.85"/><circle cx="171.3" cy="419.6" r="1.85"/><circle cx="169.1" cy="444.8" r="1.85"/><circle cx="165.5" cy="433.2" r="1.85"/><circle cx="158.9" cy="445.2" r="1.85"/><circle cx="171.7" cy="409.7" r="1.85"/><circle cx="168.2" cy="437.1" r="1.85"/><circle cx="168.3" cy="444.8" r="1.85"/><circle cx="165.5" cy="445.7" r="1.85"/><circle cx="151.8" cy="438.1" r="1.85"/><circle cx="144.0" cy="399.2" r="1.85"/><circle cx="161.8" cy="444.0" r="1.85"/><circle cx="165.0" cy="436.5" r="1.85"/><circle cx="168.3" cy="450.0" r="1.85"/><circle cx="165.8" cy="443.9" r="1.85"/><circle cx="162.3" cy="448.0" r="1.85"/><circle cx="161.0" cy="449.0" r="1.85"/><circle cx="170.7" cy="433.5" r="1.85"/><circle cx="149.6" cy="448.6" r="1.85"/><circle cx="151.6" cy="438.4" r="1.85"/><circle cx="138.4" cy="447.2" r="1.85"/><circle cx="151.8" cy="434.1" r="1.85"/><circle cx="158.0" cy="449.4" r="1.85"/><circle cx="171.5" cy="421.8" r="1.85"/><circle cx="157.5" cy="445.4" r="1.85"/><circle cx="169.9" cy="441.2" r="1.85"/><circle cx="167.3" cy="430.9" r="1.85"/><circle cx="169.6" cy="441.9" r="1.85"/><circle cx="169.6" cy="440.2" r="1.85"/><circle cx="155.9" cy="449.8" r="1.85"/><circle cx="142.6" cy="446.5" r="1.85"/><circle cx="161.1" cy="447.3" r="1.85"/><circle cx="166.2" cy="450.3" r="1.85"/><circle cx="157.7" cy="443.2" r="1.85"/><circle cx="139.1" cy="443.1" r="1.85"/><circle cx="130.0" cy="449.6" r="1.85"/><circle cx="163.3" cy="441.4" r="1.85"/><circle cx="141.8" cy="438.8" r="1.85"/><circle cx="166.6" cy="408.2" r="1.85"/><circle cx="133.2" cy="450.2" r="1.85"/><circle cx="155.2" cy="433.9" r="1.85"/><circle cx="155.7" cy="448.8" r="1.85"/><circle cx="163.7" cy="450.3" r="1.85"/><circle cx="161.7" cy="407.3" r="1.85"/><circle cx="171.3" cy="426.7" r="1.85"/><circle cx="170.4" cy="444.1" r="1.85"/><circle cx="169.5" cy="447.1" r="1.85"/><circle cx="167.6" cy="418.6" r="1.85"/><circle cx="154.0" cy="442.3" r="1.85"/><circle cx="139.4" cy="422.9" r="1.85"/><circle cx="160.9" cy="440.2" r="1.85"/><circle cx="166.4" cy="420.8" r="1.85"/><circle cx="145.7" cy="446.4" r="1.85"/><circle cx="162.7" cy="447.1" r="1.85"/><circle cx="160.4" cy="443.8" r="1.85"/><circle cx="161.3" cy="445.3" r="1.85"/><circle cx="170.9" cy="443.3" r="1.85"/><circle cx="171.1" cy="427.7" r="1.85"/><circle cx="158.9" cy="441.3" r="1.85"/><circle cx="167.3" cy="444.4" r="1.85"/><circle cx="161.5" cy="449.7" r="1.85"/><circle cx="159.1" cy="446.1" r="1.85"/><circle cx="143.7" cy="447.6" r="1.85"/><circle cx="171.7" cy="442.4" r="1.85"/><circle cx="155.0" cy="445.1" r="1.85"/><circle cx="165.2" cy="445.1" r="1.85"/><circle cx="158.4" cy="438.9" r="1.85"/><circle cx="158.6" cy="446.1" r="1.85"/><circle cx="148.8" cy="441.6" r="1.85"/><circle cx="169.6" cy="450.3" r="1.85"/><circle cx="165.5" cy="447.3" r="1.85"/><circle cx="164.9" cy="430.5" r="1.85"/><circle cx="165.9" cy="425.6" r="1.85"/><circle cx="149.5" cy="446.7" r="1.85"/><circle cx="167.1" cy="428.0" r="1.85"/><circle cx="139.0" cy="446.1" r="1.85"/><circle cx="158.9" cy="431.0" r="1.85"/><circle cx="139.2" cy="450.2" r="1.85"/><circle cx="149.5" cy="450.4" r="1.85"/><circle cx="130.1" cy="440.6" r="1.85"/><circle cx="171.5" cy="437.9" r="1.85"/><circle cx="157.4" cy="415.9" r="1.85"/><circle cx="171.7" cy="439.8" r="1.85"/><circle cx="164.6" cy="433.8" r="1.85"/><circle cx="171.0" cy="418.9" r="1.85"/><circle cx="164.5" cy="431.4" r="1.85"/><circle cx="165.6" cy="433.0" r="1.85"/><circle cx="161.8" cy="443.3" r="1.85"/><circle cx="163.4" cy="449.4" r="1.85"/><circle cx="170.8" cy="433.9" r="1.85"/><circle cx="132.6" cy="449.4" r="1.85"/><circle cx="160.4" cy="436.8" r="1.85"/><circle cx="169.1" cy="449.4" r="1.85"/><circle cx="131.4" cy="440.4" r="1.85"/><circle cx="160.8" cy="447.9" r="1.85"/><circle cx="142.3" cy="441.1" r="1.85"/><circle cx="126.8" cy="449.3" r="1.85"/><circle cx="171.3" cy="442.7" r="1.85"/><circle cx="163.5" cy="443.7" r="1.85"/><circle cx="134.4" cy="436.5" r="1.85"/><circle cx="152.2" cy="442.2" r="1.85"/><circle cx="144.4" cy="444.7" r="1.85"/><circle cx="142.0" cy="449.6" r="1.85"/><circle cx="153.1" cy="448.6" r="1.85"/><circle cx="163.0" cy="448.1" r="1.85"/><circle cx="162.7" cy="448.7" r="1.85"/><circle cx="160.5" cy="439.4" r="1.85"/><circle cx="156.3" cy="444.7" r="1.85"/><circle cx="166.6" cy="427.2" r="1.85"/><circle cx="161.7" cy="439.7" r="1.85"/><circle cx="168.0" cy="400.1" r="1.85"/><circle cx="168.1" cy="435.6" r="1.85"/><circle cx="145.7" cy="447.1" r="1.85"/><circle cx="167.2" cy="440.0" r="1.85"/><circle cx="132.5" cy="450.1" r="1.85"/><circle cx="148.7" cy="444.9" r="1.85"/><circle cx="154.9" cy="443.7" r="1.85"/><circle cx="165.3" cy="420.0" r="1.85"/><circle cx="167.4" cy="442.4" r="1.85"/><circle cx="170.4" cy="432.9" r="1.85"/><circle cx="135.5" cy="446.3" r="1.85"/><circle cx="153.3" cy="449.6" r="1.85"/><circle cx="165.4" cy="440.6" r="1.85"/><circle cx="150.7" cy="432.3" r="1.85"/><circle cx="137.9" cy="449.7" r="1.85"/><circle cx="157.6" cy="450.2" r="1.85"/><circle cx="169.5" cy="449.5" r="1.85"/><circle cx="156.4" cy="448.7" r="1.85"/><circle cx="128.5" cy="447.3" r="1.85"/><circle cx="163.7" cy="449.1" r="1.85"/><circle cx="151.3" cy="446.1" r="1.85"/><circle cx="148.3" cy="449.4" r="1.85"/><circle cx="171.4" cy="450.1" r="1.85"/><circle cx="166.5" cy="449.8" r="1.85"/><circle cx="169.2" cy="450.1" r="1.85"/><circle cx="165.9" cy="449.9" r="1.85"/><circle cx="158.6" cy="450.1" r="1.85"/><circle cx="168.8" cy="447.7" r="1.85"/><circle cx="138.7" cy="447.8" r="1.85"/><circle cx="157.6" cy="449.5" r="1.85"/><circle cx="158.2" cy="448.9" r="1.85"/><circle cx="126.5" cy="449.3" r="1.85"/><circle cx="166.5" cy="448.6" r="1.85"/><circle cx="163.7" cy="449.3" r="1.85"/><circle cx="167.1" cy="448.5" r="1.85"/><circle cx="163.2" cy="450.0" r="1.85"/><circle cx="156.5" cy="449.9" r="1.85"/><circle cx="166.9" cy="450.3" r="1.85"/><circle cx="169.9" cy="446.2" r="1.85"/><circle cx="154.3" cy="446.4" r="1.85"/><circle cx="169.9" cy="449.4" r="1.85"/><circle cx="169.5" cy="449.7" r="1.85"/><circle cx="170.7" cy="449.4" r="1.85"/><circle cx="170.5" cy="449.2" r="1.85"/><circle cx="137.1" cy="449.1" r="1.85"/><circle cx="158.9" cy="448.5" r="1.85"/><circle cx="168.1" cy="449.8" r="1.85"/><circle cx="163.8" cy="449.8" r="1.85"/><circle cx="167.8" cy="449.9" r="1.85"/><circle cx="162.2" cy="449.0" r="1.85"/><circle cx="170.3" cy="449.9" r="1.85"/><circle cx="156.8" cy="449.9" r="1.85"/><circle cx="169.2" cy="449.7" r="1.85"/><circle cx="149.4" cy="450.0" r="1.85"/><circle cx="129.8" cy="446.2" r="1.85"/><circle cx="155.4" cy="449.8" r="1.85"/><circle cx="154.8" cy="449.1" r="1.85"/><circle cx="133.9" cy="450.3" r="1.85"/><circle cx="171.4" cy="445.9" r="1.85"/><circle cx="150.7" cy="449.4" r="1.85"/><circle cx="155.9" cy="449.8" r="1.85"/><circle cx="142.7" cy="448.7" r="1.85"/><circle cx="142.3" cy="450.3" r="1.85"/><circle cx="162.7" cy="448.1" r="1.85"/><circle cx="163.8" cy="450.3" r="1.85"/><circle cx="166.3" cy="449.5" r="1.85"/><circle cx="158.2" cy="449.6" r="1.85"/><circle cx="150.8" cy="450.3" r="1.85"/><circle cx="166.9" cy="450.0" r="1.85"/><circle cx="168.5" cy="447.6" r="1.85"/><circle cx="159.7" cy="450.1" r="1.85"/><circle cx="164.7" cy="448.5" r="1.85"/><circle cx="166.3" cy="449.6" r="1.85"/><circle cx="166.4" cy="449.8" r="1.85"/><circle cx="168.3" cy="447.6" r="1.85"/><circle cx="164.4" cy="450.1" r="1.85"/><circle cx="151.9" cy="448.9" r="1.85"/><circle cx="158.2" cy="448.5" r="1.85"/><circle cx="166.7" cy="449.5" r="1.85"/><circle cx="163.6" cy="450.3" r="1.85"/><circle cx="169.1" cy="450.2" r="1.85"/><circle cx="145.1" cy="448.5" r="1.85"/><circle cx="142.6" cy="450.3" r="1.85"/><circle cx="165.5" cy="450.2" r="1.85"/><circle cx="147.2" cy="449.5" r="1.85"/><circle cx="140.3" cy="450.0" r="1.85"/><circle cx="163.0" cy="449.8" r="1.85"/><circle cx="169.0" cy="449.3" r="1.85"/><circle cx="164.9" cy="446.7" r="1.85"/><circle cx="169.3" cy="446.7" r="1.85"/><circle cx="150.7" cy="450.2" r="1.85"/><circle cx="149.8" cy="447.5" r="1.85"/><circle cx="162.0" cy="446.2" r="1.85"/><circle cx="169.4" cy="450.2" r="1.85"/><circle cx="170.5" cy="449.3" r="1.85"/><circle cx="170.9" cy="450.0" r="1.85"/><circle cx="169.4" cy="450.2" r="1.85"/><circle cx="157.6" cy="449.8" r="1.85"/><circle cx="145.6" cy="449.6" r="1.85"/><circle cx="170.3" cy="450.1" r="1.85"/><circle cx="168.6" cy="449.9" r="1.85"/><circle cx="156.1" cy="450.4" r="1.85"/><circle cx="154.7" cy="450.0" r="1.85"/><circle cx="161.0" cy="448.0" r="1.85"/><circle cx="162.5" cy="449.5" r="1.85"/><circle cx="168.3" cy="450.2" r="1.85"/><circle cx="167.6" cy="448.8" r="1.85"/><circle cx="142.0" cy="450.1" r="1.85"/><circle cx="152.3" cy="449.9" r="1.85"/><circle cx="168.1" cy="450.0" r="1.85"/><circle cx="171.0" cy="450.0" r="1.85"/><circle cx="163.4" cy="449.7" r="1.85"/><circle cx="153.8" cy="450.0" r="1.85"/><circle cx="163.6" cy="450.4" r="1.85"/><circle cx="157.1" cy="447.5" r="1.85"/><circle cx="157.4" cy="450.1" r="1.85"/><circle cx="164.3" cy="450.0" r="1.85"/><circle cx="167.4" cy="447.0" r="1.85"/><circle cx="140.3" cy="446.6" r="1.85"/><circle cx="168.8" cy="447.6" r="1.85"/><circle cx="147.9" cy="450.2" r="1.85"/><circle cx="168.7" cy="449.7" r="1.85"/><circle cx="166.4" cy="446.2" r="1.85"/><circle cx="164.0" cy="449.6" r="1.85"/><circle cx="159.2" cy="449.7" r="1.85"/><circle cx="92.7" cy="318.3" r="1.85"/><circle cx="135.3" cy="318.3" r="1.85"/><circle cx="145.2" cy="318.3" r="1.85"/><circle cx="147.5" cy="318.3" r="1.85"/><circle cx="150.0" cy="318.3" r="1.85"/><circle cx="157.0" cy="318.3" r="1.85"/><circle cx="158.9" cy="318.3" r="1.85"/><circle cx="136.3" cy="332.2" r="1.85"/><circle cx="151.5" cy="332.2" r="1.85"/><circle cx="154.1" cy="327.8" r="1.85"/><circle cx="155.0" cy="327.8" r="1.85"/><circle cx="148.8" cy="350.0" r="1.85"/><circle cx="157.1" cy="347.5" r="1.85"/><circle cx="159.0" cy="351.0" r="1.85"/><circle cx="121.6" cy="360.1" r="1.85"/><circle cx="137.7" cy="374.9" r="1.85"/><circle cx="151.7" cy="377.1" r="1.85"/><circle cx="160.0" cy="376.0" r="1.85"/><circle cx="151.1" cy="387.2" r="1.85"/><circle cx="157.6" cy="347.6" r="1.85"/><circle cx="160.0" cy="347.0" r="1.85"/><circle cx="161.5" cy="347.6" r="1.85"/><circle cx="159.0" cy="350.5" r="1.85"/><circle cx="164.5" cy="355.9" r="1.85"/><circle cx="163.5" cy="362.8" r="1.85"/><circle cx="164.3" cy="362.5" r="1.85"/><circle cx="162.9" cy="366.4" r="1.85"/><circle cx="167.9" cy="372.7" r="1.85"/><circle cx="161.3" cy="375.9" r="1.85"/><circle cx="165.9" cy="383.8" r="1.85"/><circle cx="162.3" cy="387.0" r="1.85"/><circle cx="91.3" cy="416.8" r="1.85"/><circle cx="87.2" cy="435.2" r="1.85"/><circle cx="94.5" cy="441.2" r="1.85"/><circle cx="123.0" cy="391.5" r="1.85"/><circle cx="117.5" cy="401.2" r="1.85"/><circle cx="130.5" cy="404.9" r="1.85"/><circle cx="137.2" cy="409.5" r="1.85"/><circle cx="121.0" cy="418.8" r="1.85"/><circle cx="124.0" cy="420.6" r="1.85"/><circle cx="123.6" cy="439.4" r="1.85"/><circle cx="121.0" cy="446.3" r="1.85"/><circle cx="131.3" cy="441.9" r="1.85"/><circle cx="135.3" cy="438.8" r="1.85"/><circle cx="140.0" cy="428.7" r="1.85"/><circle cx="140.8" cy="423.1" r="1.85"/><circle cx="144.2" cy="423.1" r="1.85"/><circle cx="142.8" cy="432.0" r="1.85"/><circle cx="145.2" cy="410.7" r="1.85"/><circle cx="144.2" cy="403.4" r="1.85"/><circle cx="146.2" cy="401.8" r="1.85"/><circle cx="151.1" cy="388.3" r="1.85"/><circle cx="156.0" cy="388.9" r="1.85"/><circle cx="158.0" cy="389.0" r="1.85"/><circle cx="122.0" cy="444.5" r="1.85"/></g>
<g fill="#f1c038" fill-opacity="0.62"><circle cx="188.8" cy="426.2" r="1.85"/><circle cx="186.0" cy="446.4" r="1.85"/><circle cx="187.2" cy="444.4" r="1.85"/><circle cx="189.9" cy="442.7" r="1.85"/><circle cx="186.4" cy="445.0" r="1.85"/><circle cx="188.6" cy="444.3" r="1.85"/><circle cx="199.7" cy="441.1" r="1.85"/><circle cx="188.3" cy="447.8" r="1.85"/><circle cx="192.3" cy="450.1" r="1.85"/><circle cx="192.9" cy="448.4" r="1.85"/><circle cx="187.1" cy="435.5" r="1.85"/><circle cx="188.7" cy="428.4" r="1.85"/><circle cx="189.1" cy="445.6" r="1.85"/><circle cx="188.6" cy="422.8" r="1.85"/><circle cx="187.3" cy="444.6" r="1.85"/><circle cx="188.7" cy="433.2" r="1.85"/><circle cx="186.8" cy="446.9" r="1.85"/><circle cx="193.0" cy="448.7" r="1.85"/><circle cx="201.0" cy="435.2" r="1.85"/><circle cx="190.5" cy="426.9" r="1.85"/><circle cx="190.8" cy="435.5" r="1.85"/><circle cx="192.3" cy="434.9" r="1.85"/><circle cx="192.6" cy="449.1" r="1.85"/><circle cx="187.1" cy="447.5" r="1.85"/><circle cx="186.1" cy="426.6" r="1.85"/><circle cx="187.6" cy="444.1" r="1.85"/><circle cx="189.7" cy="435.8" r="1.85"/><circle cx="196.5" cy="427.6" r="1.85"/><circle cx="186.2" cy="441.0" r="1.85"/><circle cx="186.4" cy="440.3" r="1.85"/><circle cx="187.4" cy="431.1" r="1.85"/><circle cx="190.6" cy="449.0" r="1.85"/><circle cx="202.4" cy="437.3" r="1.85"/><circle cx="186.5" cy="441.6" r="1.85"/><circle cx="186.2" cy="438.4" r="1.85"/><circle cx="191.7" cy="431.4" r="1.85"/><circle cx="194.1" cy="436.1" r="1.85"/><circle cx="197.2" cy="442.8" r="1.85"/><circle cx="188.6" cy="441.1" r="1.85"/><circle cx="187.7" cy="446.3" r="1.85"/><circle cx="192.2" cy="450.2" r="1.85"/><circle cx="190.1" cy="448.5" r="1.85"/><circle cx="190.6" cy="436.5" r="1.85"/><circle cx="187.5" cy="444.0" r="1.85"/><circle cx="186.8" cy="447.9" r="1.85"/><circle cx="190.5" cy="440.9" r="1.85"/><circle cx="187.6" cy="423.4" r="1.85"/><circle cx="195.4" cy="425.6" r="1.85"/><circle cx="197.8" cy="447.7" r="1.85"/><circle cx="198.8" cy="441.6" r="1.85"/><circle cx="187.6" cy="436.6" r="1.85"/><circle cx="188.9" cy="447.8" r="1.85"/><circle cx="186.1" cy="444.5" r="1.85"/><circle cx="189.0" cy="431.8" r="1.85"/><circle cx="191.3" cy="444.8" r="1.85"/><circle cx="186.9" cy="448.2" r="1.85"/><circle cx="187.1" cy="442.6" r="1.85"/><circle cx="186.3" cy="447.2" r="1.85"/><circle cx="188.9" cy="450.0" r="1.85"/><circle cx="190.0" cy="422.2" r="1.85"/><circle cx="188.0" cy="445.8" r="1.85"/><circle cx="188.5" cy="448.4" r="1.85"/><circle cx="186.5" cy="420.1" r="1.85"/><circle cx="190.5" cy="445.5" r="1.85"/><circle cx="189.1" cy="437.1" r="1.85"/><circle cx="196.9" cy="441.1" r="1.85"/><circle cx="187.1" cy="428.5" r="1.85"/><circle cx="209.1" cy="443.5" r="1.85"/><circle cx="186.8" cy="443.7" r="1.85"/><circle cx="186.2" cy="436.9" r="1.85"/><circle cx="189.1" cy="449.4" r="1.85"/><circle cx="190.9" cy="447.9" r="1.85"/><circle cx="187.5" cy="438.4" r="1.85"/><circle cx="190.1" cy="436.9" r="1.85"/><circle cx="188.4" cy="439.1" r="1.85"/><circle cx="186.4" cy="445.5" r="1.85"/><circle cx="198.1" cy="444.8" r="1.85"/><circle cx="186.2" cy="429.8" r="1.85"/><circle cx="187.2" cy="450.3" r="1.85"/><circle cx="188.2" cy="439.5" r="1.85"/><circle cx="188.2" cy="449.7" r="1.85"/><circle cx="191.3" cy="442.8" r="1.85"/><circle cx="190.1" cy="446.0" r="1.85"/><circle cx="189.7" cy="439.9" r="1.85"/><circle cx="186.5" cy="449.6" r="1.85"/><circle cx="186.1" cy="449.9" r="1.85"/><circle cx="187.9" cy="450.3" r="1.85"/><circle cx="186.4" cy="444.9" r="1.85"/><circle cx="193.4" cy="421.2" r="1.85"/><circle cx="189.4" cy="444.5" r="1.85"/><circle cx="202.0" cy="447.3" r="1.85"/><circle cx="187.4" cy="449.8" r="1.85"/><circle cx="193.8" cy="448.6" r="1.85"/><circle cx="188.1" cy="444.1" r="1.85"/><circle cx="194.5" cy="446.1" r="1.85"/><circle cx="192.1" cy="448.1" r="1.85"/><circle cx="188.3" cy="439.1" r="1.85"/><circle cx="188.2" cy="446.6" r="1.85"/><circle cx="187.5" cy="445.2" r="1.85"/><circle cx="188.1" cy="441.5" r="1.85"/><circle cx="191.8" cy="447.5" r="1.85"/><circle cx="188.5" cy="445.1" r="1.85"/><circle cx="188.4" cy="430.5" r="1.85"/><circle cx="194.9" cy="446.4" r="1.85"/><circle cx="188.0" cy="436.1" r="1.85"/><circle cx="191.3" cy="440.2" r="1.85"/><circle cx="191.0" cy="447.6" r="1.85"/><circle cx="190.1" cy="422.0" r="1.85"/><circle cx="188.2" cy="440.3" r="1.85"/><circle cx="187.0" cy="440.7" r="1.85"/><circle cx="189.0" cy="436.8" r="1.85"/><circle cx="190.8" cy="447.0" r="1.85"/><circle cx="191.7" cy="449.9" r="1.85"/><circle cx="189.7" cy="448.1" r="1.85"/><circle cx="188.0" cy="448.6" r="1.85"/><circle cx="209.1" cy="449.7" r="1.85"/><circle cx="190.3" cy="434.3" r="1.85"/><circle cx="199.1" cy="442.8" r="1.85"/><circle cx="198.8" cy="437.8" r="1.85"/><circle cx="189.1" cy="443.0" r="1.85"/><circle cx="194.0" cy="439.7" r="1.85"/><circle cx="206.3" cy="449.6" r="1.85"/><circle cx="201.9" cy="447.4" r="1.85"/><circle cx="188.5" cy="423.3" r="1.85"/><circle cx="194.0" cy="443.3" r="1.85"/><circle cx="188.0" cy="444.7" r="1.85"/><circle cx="209.1" cy="441.9" r="1.85"/><circle cx="189.4" cy="441.0" r="1.85"/><circle cx="190.9" cy="435.9" r="1.85"/><circle cx="198.4" cy="449.6" r="1.85"/><circle cx="194.6" cy="445.3" r="1.85"/><circle cx="203.2" cy="447.0" r="1.85"/><circle cx="190.9" cy="450.3" r="1.85"/><circle cx="197.5" cy="440.1" r="1.85"/><circle cx="190.2" cy="434.7" r="1.85"/><circle cx="191.6" cy="448.1" r="1.85"/><circle cx="186.3" cy="443.9" r="1.85"/><circle cx="198.8" cy="446.7" r="1.85"/><circle cx="191.0" cy="449.5" r="1.85"/><circle cx="208.9" cy="432.0" r="1.85"/><circle cx="188.5" cy="448.4" r="1.85"/><circle cx="187.2" cy="449.8" r="1.85"/><circle cx="198.2" cy="436.4" r="1.85"/><circle cx="194.5" cy="448.2" r="1.85"/><circle cx="186.3" cy="440.0" r="1.85"/><circle cx="203.5" cy="435.2" r="1.85"/><circle cx="201.7" cy="448.8" r="1.85"/><circle cx="190.0" cy="439.9" r="1.85"/><circle cx="188.1" cy="431.6" r="1.85"/><circle cx="190.3" cy="445.1" r="1.85"/><circle cx="205.3" cy="445.6" r="1.85"/><circle cx="196.0" cy="443.2" r="1.85"/><circle cx="189.2" cy="448.7" r="1.85"/><circle cx="187.7" cy="442.1" r="1.85"/><circle cx="189.2" cy="420.3" r="1.85"/><circle cx="192.5" cy="445.7" r="1.85"/><circle cx="207.8" cy="434.8" r="1.85"/><circle cx="187.9" cy="440.6" r="1.85"/><circle cx="200.8" cy="447.0" r="1.85"/><circle cx="213.7" cy="448.8" r="1.85"/><circle cx="188.2" cy="432.0" r="1.85"/><circle cx="189.1" cy="446.8" r="1.85"/><circle cx="186.5" cy="439.3" r="1.85"/><circle cx="186.6" cy="440.0" r="1.85"/><circle cx="192.8" cy="434.0" r="1.85"/><circle cx="187.1" cy="442.9" r="1.85"/><circle cx="206.8" cy="442.5" r="1.85"/><circle cx="186.3" cy="450.3" r="1.85"/><circle cx="187.9" cy="440.0" r="1.85"/><circle cx="199.8" cy="448.1" r="1.85"/><circle cx="191.2" cy="449.1" r="1.85"/><circle cx="190.7" cy="450.0" r="1.85"/><circle cx="192.0" cy="449.7" r="1.85"/><circle cx="190.0" cy="450.3" r="1.85"/><circle cx="186.2" cy="450.1" r="1.85"/><circle cx="198.5" cy="450.4" r="1.85"/><circle cx="211.9" cy="450.3" r="1.85"/><circle cx="195.8" cy="450.0" r="1.85"/><circle cx="198.8" cy="448.7" r="1.85"/><circle cx="201.8" cy="449.3" r="1.85"/><circle cx="193.3" cy="449.9" r="1.85"/><circle cx="195.7" cy="450.2" r="1.85"/><circle cx="196.3" cy="450.0" r="1.85"/><circle cx="207.2" cy="449.8" r="1.85"/><circle cx="189.2" cy="447.4" r="1.85"/><circle cx="186.4" cy="450.1" r="1.85"/><circle cx="198.6" cy="448.4" r="1.85"/><circle cx="214.0" cy="450.2" r="1.85"/><circle cx="200.9" cy="448.1" r="1.85"/><circle cx="204.2" cy="449.1" r="1.85"/><circle cx="192.9" cy="450.0" r="1.85"/><circle cx="208.5" cy="447.0" r="1.85"/><circle cx="195.8" cy="449.7" r="1.85"/><circle cx="195.8" cy="449.4" r="1.85"/><circle cx="186.2" cy="449.3" r="1.85"/><circle cx="200.0" cy="450.0" r="1.85"/><circle cx="205.8" cy="450.1" r="1.85"/><circle cx="197.8" cy="449.6" r="1.85"/><circle cx="189.3" cy="449.2" r="1.85"/><circle cx="196.8" cy="450.0" r="1.85"/><circle cx="198.0" cy="450.3" r="1.85"/><circle cx="186.2" cy="449.4" r="1.85"/><circle cx="189.3" cy="449.6" r="1.85"/><circle cx="191.5" cy="449.5" r="1.85"/><circle cx="195.9" cy="445.9" r="1.85"/><circle cx="190.1" cy="449.7" r="1.85"/><circle cx="202.7" cy="448.3" r="1.85"/><circle cx="186.8" cy="448.7" r="1.85"/><circle cx="188.0" cy="449.5" r="1.85"/><circle cx="188.5" cy="450.4" r="1.85"/><circle cx="190.2" cy="450.4" r="1.85"/><circle cx="188.6" cy="448.2" r="1.85"/><circle cx="198.8" cy="449.4" r="1.85"/><circle cx="186.5" cy="446.6" r="1.85"/><circle cx="192.5" cy="449.7" r="1.85"/><circle cx="189.8" cy="448.2" r="1.85"/><circle cx="188.7" cy="449.0" r="1.85"/><circle cx="186.9" cy="449.2" r="1.85"/><circle cx="190.7" cy="450.1" r="1.85"/><circle cx="201.5" cy="448.0" r="1.85"/><circle cx="212.6" cy="318.3" r="1.85"/><circle cx="208.8" cy="325.2" r="1.85"/><circle cx="195.0" cy="361.4" r="1.85"/><circle cx="204.7" cy="360.2" r="1.85"/><circle cx="210.0" cy="358.9" r="1.85"/><circle cx="193.6" cy="368.0" r="1.85"/><circle cx="194.3" cy="367.4" r="1.85"/><circle cx="197.3" cy="372.3" r="1.85"/><circle cx="195.8" cy="382.6" r="1.85"/><circle cx="200.9" cy="383.8" r="1.85"/><circle cx="195.0" cy="399.4" r="1.85"/><circle cx="207.4" cy="404.7" r="1.85"/><circle cx="207.4" cy="405.7" r="1.85"/><circle cx="202.9" cy="412.3" r="1.85"/><circle cx="229.2" cy="409.3" r="1.85"/><circle cx="237.3" cy="413.6" r="1.85"/><circle cx="188.6" cy="410.3" r="1.85"/><circle cx="205.5" cy="425.5" r="1.85"/><circle cx="209.0" cy="432.4" r="1.85"/><circle cx="211.4" cy="432.4" r="1.85"/><circle cx="220.3" cy="433.0" r="1.85"/><circle cx="222.3" cy="432.6" r="1.85"/><circle cx="209.6" cy="437.6" r="1.85"/><circle cx="235.7" cy="437.6" r="1.85"/><circle cx="234.1" cy="447.3" r="1.85"/><circle cx="235.0" cy="446.9" r="1.85"/><circle cx="220.3" cy="449.0" r="1.85"/><circle cx="201.5" cy="442.3" r="1.85"/><circle cx="206.4" cy="447.3" r="1.85"/><circle cx="209.4" cy="449.3" r="1.85"/><circle cx="213.4" cy="449.9" r="1.85"/></g>
<line x1="171.8" y1="311.8" x2="171.8" y2="457.2" stroke="#2a2a2a" stroke-width="0.55" stroke-dasharray="1.5 1.5"/><line x1="186.0" y1="311.8" x2="186.0" y2="457.2" stroke="#2a2a2a" stroke-width="0.55" stroke-dasharray="1.5 1.5"/><line x1="70.2" y1="450.7" x2="245.6" y2="450.7" stroke="#2a2a2a" stroke-width="0.65" stroke-dasharray="1.5 1.45"/>
<g fill="#000"><circle cx="77.9" cy="318.3" r="1.95"/><circle cx="128.0" cy="318.3" r="1.95"/><circle cx="130.0" cy="318.3" r="1.95"/><circle cx="152.1" cy="318.3" r="1.95"/><circle cx="155.1" cy="318.3" r="1.95"/><circle cx="79.9" cy="438.6" r="1.95"/><circle cx="149.3" cy="406.7" r="1.95"/></g>
<line x1="120.3" y1="318.3" x2="126.5" y2="318.3" stroke="#3a3a3a" stroke-width="0.5"/><line x1="128.2" y1="320.0" x2="127.3" y2="327.0" stroke="#3a3a3a" stroke-width="0.5"/><line x1="157.0" y1="319.0" x2="163.3" y2="320.6" stroke="#3a3a3a" stroke-width="0.5"/><line x1="80.2" y1="433.0" x2="80.2" y2="436.6" stroke="#3a3a3a" stroke-width="0.5"/><line x1="149.8" y1="405.5" x2="152.4" y2="402.0" stroke="#3a3a3a" stroke-width="0.5"/></g>
<rect x="70.2" y="311.8" width="175.4" height="145.4" fill="none" stroke="#8e8e8e" stroke-width="0.75"/>
<line x1="67.2" y1="451.0" x2="70.2" y2="451.0" stroke="#666" stroke-width="0.6"/><text x="64.6" y="453.2" font-size="6.3" text-anchor="end" fill="#333">0</text><line x1="67.2" y1="404.9" x2="70.2" y2="404.9" stroke="#666" stroke-width="0.6"/><text x="64.6" y="407.1" font-size="6.3" text-anchor="end" fill="#333">100</text><line x1="67.2" y1="358.8" x2="70.2" y2="358.8" stroke="#666" stroke-width="0.6"/><text x="64.6" y="361.0" font-size="6.3" text-anchor="end" fill="#333">200</text><line x1="67.2" y1="312.7" x2="70.2" y2="312.7" stroke="#666" stroke-width="0.6"/><text x="64.6" y="314.9" font-size="6.3" text-anchor="end" fill="#333">300</text><line x1="72.6" y1="457.2" x2="72.6" y2="460.2" stroke="#666" stroke-width="0.6"/><text x="71.8" y="468.6" font-size="6.3" text-anchor="middle" fill="#333">-15</text><line x1="108.0" y1="457.2" x2="108.0" y2="460.2" stroke="#666" stroke-width="0.6"/><text x="107.2" y="468.6" font-size="6.3" text-anchor="middle" fill="#333">-10</text><line x1="143.4" y1="457.2" x2="143.4" y2="460.2" stroke="#666" stroke-width="0.6"/><text x="142.6" y="468.6" font-size="6.3" text-anchor="middle" fill="#333">-5</text><line x1="178.9" y1="457.2" x2="178.9" y2="460.2" stroke="#666" stroke-width="0.6"/><text x="178.9" y="468.6" font-size="6.3" text-anchor="middle" fill="#333">0</text><line x1="214.4" y1="457.2" x2="214.4" y2="460.2" stroke="#666" stroke-width="0.6"/><text x="214.4" y="468.6" font-size="6.3" text-anchor="middle" fill="#333">5</text>
<text x="128.7" y="479.3" font-size="7.20" textLength="58.4" lengthAdjust="spacingAndGlyphs">log<tspan font-size="4.6" dy="1.6">2</tspan><tspan dy="-1.6">&#8203;</tspan>(fold change)</text>
<g transform="translate(45.2 384.5) rotate(-90)"><text x="-17.6" y="0.0" font-size="7.20" textLength="35.2" lengthAdjust="spacingAndGlyphs">-log<tspan font-size="4.6" dy="1.6">10</tspan><tspan dy="-1.6">&#8203;</tspan>(<tspan font-style="italic">P</tspan><tspan font-size="4.6" dy="1.6">adj</tspan><tspan dy="-1.6">&#8203;</tspan>)</text>
</g>
<text x="81.8" y="320.4" font-size="5.80" textLength="15.5" lengthAdjust="spacingAndGlyphs" fill="#707070">HWP1</text>
<text x="106.2" y="320.4" font-size="5.80" textLength="13.7" lengthAdjust="spacingAndGlyphs" fill="#707070">HYR1</text>
<text x="133.3" y="317.5" font-size="5.80" textLength="13.9" lengthAdjust="spacingAndGlyphs" fill="#707070">ALS3</text>
<text x="122.0" y="333.5" font-size="5.80" textLength="12.3" lengthAdjust="spacingAndGlyphs" fill="#707070">IHD1</text>
<text x="144.2" y="325.9" font-size="5.80" textLength="14.4" lengthAdjust="spacingAndGlyphs" fill="#707070">HGC1</text>
<text x="163.9" y="322.6" font-size="5.80" textLength="16.8" lengthAdjust="spacingAndGlyphs" fill="#707070">WOR3</text>
<text x="81.8" y="434.0" font-size="5.80" textLength="13.5" lengthAdjust="spacingAndGlyphs" fill="#707070">ECE1</text>
<text x="150.3" y="401.6" font-size="5.80" textLength="14.0" lengthAdjust="spacingAndGlyphs" fill="#707070">BRG1</text>
</g>
<g id="vTR">
<clipPath id="clipTR"><rect x="296.4" y="311.8" width="176.1" height="145.4"/></clipPath>
<g clip-path="url(#clipTR)">
<g fill="#c6c6c6" fill-opacity="0.75"><circle cx="360.7" cy="442.5" r="1.25"/><circle cx="345.8" cy="422.6" r="1.25"/><circle cx="348.4" cy="446.0" r="1.25"/><circle cx="355.8" cy="447.0" r="1.25"/><circle cx="359.6" cy="441.6" r="1.25"/><circle cx="360.7" cy="437.2" r="1.25"/><circle cx="355.0" cy="446.6" r="1.25"/><circle cx="356.3" cy="442.1" r="1.25"/><circle cx="356.7" cy="449.1" r="1.25"/><circle cx="359.5" cy="435.1" r="1.25"/><circle cx="350.4" cy="447.4" r="1.25"/><circle cx="359.0" cy="436.7" r="1.25"/><circle cx="360.4" cy="428.9" r="1.25"/><circle cx="360.7" cy="431.5" r="1.25"/><circle cx="356.6" cy="443.4" r="1.25"/><circle cx="349.6" cy="438.6" r="1.25"/><circle cx="350.4" cy="442.8" r="1.25"/><circle cx="360.6" cy="430.2" r="1.25"/><circle cx="347.7" cy="433.0" r="1.25"/><circle cx="356.1" cy="447.9" r="1.25"/><circle cx="346.2" cy="432.7" r="1.25"/><circle cx="346.0" cy="424.4" r="1.25"/><circle cx="353.5" cy="450.7" r="1.25"/><circle cx="352.0" cy="447.8" r="1.25"/><circle cx="360.0" cy="439.0" r="1.25"/><circle cx="351.4" cy="446.7" r="1.25"/><circle cx="350.2" cy="443.4" r="1.25"/><circle cx="354.1" cy="449.8" r="1.25"/><circle cx="356.2" cy="445.1" r="1.25"/><circle cx="346.9" cy="427.1" r="1.25"/><circle cx="351.1" cy="446.7" r="1.25"/><circle cx="351.9" cy="446.8" r="1.25"/><circle cx="360.6" cy="433.1" r="1.25"/><circle cx="351.8" cy="449.7" r="1.25"/><circle cx="359.7" cy="443.0" r="1.25"/><circle cx="354.1" cy="449.9" r="1.25"/><circle cx="350.7" cy="446.3" r="1.25"/><circle cx="348.5" cy="448.5" r="1.25"/><circle cx="354.0" cy="449.7" r="1.25"/><circle cx="355.7" cy="448.2" r="1.25"/><circle cx="356.5" cy="449.2" r="1.25"/><circle cx="352.0" cy="447.4" r="1.25"/><circle cx="360.1" cy="435.5" r="1.25"/><circle cx="358.9" cy="438.1" r="1.25"/><circle cx="353.8" cy="450.2" r="1.25"/><circle cx="361.2" cy="426.3" r="1.25"/><circle cx="353.0" cy="450.1" r="1.25"/><circle cx="355.7" cy="447.2" r="1.25"/><circle cx="357.9" cy="437.3" r="1.25"/><circle cx="355.1" cy="446.2" r="1.25"/><circle cx="345.7" cy="431.9" r="1.25"/><circle cx="355.5" cy="447.6" r="1.25"/><circle cx="348.2" cy="436.3" r="1.25"/><circle cx="352.4" cy="449.6" r="1.25"/><circle cx="346.1" cy="424.4" r="1.25"/><circle cx="351.1" cy="448.9" r="1.25"/><circle cx="348.9" cy="444.1" r="1.25"/><circle cx="359.2" cy="443.4" r="1.25"/><circle cx="349.8" cy="448.0" r="1.25"/><circle cx="352.9" cy="450.4" r="1.25"/><circle cx="350.9" cy="444.7" r="1.25"/><circle cx="360.2" cy="428.7" r="1.25"/><circle cx="346.1" cy="435.6" r="1.25"/><circle cx="358.9" cy="448.3" r="1.25"/><circle cx="348.7" cy="440.4" r="1.25"/><circle cx="351.5" cy="446.4" r="1.25"/><circle cx="356.9" cy="443.8" r="1.25"/><circle cx="349.4" cy="445.4" r="1.25"/><circle cx="349.7" cy="448.5" r="1.25"/><circle cx="356.0" cy="448.2" r="1.25"/><circle cx="359.6" cy="433.7" r="1.25"/><circle cx="346.4" cy="433.7" r="1.25"/><circle cx="355.0" cy="450.1" r="1.25"/><circle cx="353.2" cy="450.8" r="1.25"/><circle cx="357.6" cy="450.3" r="1.25"/><circle cx="355.5" cy="444.8" r="1.25"/><circle cx="358.9" cy="442.8" r="1.25"/><circle cx="353.9" cy="450.4" r="1.25"/><circle cx="350.9" cy="443.9" r="1.25"/><circle cx="358.5" cy="449.8" r="1.25"/><circle cx="351.5" cy="446.7" r="1.25"/><circle cx="348.2" cy="435.2" r="1.25"/><circle cx="359.6" cy="435.1" r="1.25"/><circle cx="351.2" cy="445.0" r="1.25"/><circle cx="353.6" cy="450.7" r="1.25"/><circle cx="349.9" cy="447.0" r="1.25"/><circle cx="358.8" cy="438.3" r="1.25"/><circle cx="356.5" cy="442.1" r="1.25"/><circle cx="360.9" cy="440.4" r="1.25"/><circle cx="351.9" cy="447.1" r="1.25"/><circle cx="357.6" cy="443.0" r="1.25"/><circle cx="355.9" cy="448.0" r="1.25"/><circle cx="348.0" cy="447.7" r="1.25"/><circle cx="351.5" cy="448.5" r="1.25"/><circle cx="353.7" cy="450.3" r="1.25"/><circle cx="347.9" cy="437.2" r="1.25"/><circle cx="359.2" cy="435.7" r="1.25"/><circle cx="353.8" cy="450.0" r="1.25"/><circle cx="345.8" cy="423.3" r="1.25"/><circle cx="356.4" cy="442.7" r="1.25"/><circle cx="358.6" cy="446.4" r="1.25"/><circle cx="346.5" cy="441.8" r="1.25"/><circle cx="353.5" cy="450.7" r="1.25"/><circle cx="359.9" cy="437.0" r="1.25"/><circle cx="355.3" cy="446.2" r="1.25"/><circle cx="350.7" cy="442.9" r="1.25"/><circle cx="360.4" cy="429.5" r="1.25"/><circle cx="359.8" cy="430.7" r="1.25"/><circle cx="355.8" cy="447.2" r="1.25"/><circle cx="349.9" cy="446.1" r="1.25"/><circle cx="346.4" cy="426.1" r="1.25"/><circle cx="350.2" cy="449.7" r="1.25"/><circle cx="350.5" cy="448.5" r="1.25"/><circle cx="352.5" cy="449.7" r="1.25"/><circle cx="348.2" cy="439.4" r="1.25"/><circle cx="352.0" cy="448.9" r="1.25"/><circle cx="358.4" cy="442.4" r="1.25"/><circle cx="354.1" cy="449.4" r="1.25"/><circle cx="360.7" cy="435.8" r="1.25"/><circle cx="346.1" cy="424.6" r="1.25"/><circle cx="353.6" cy="450.6" r="1.25"/><circle cx="347.5" cy="441.9" r="1.25"/><circle cx="350.4" cy="447.9" r="1.25"/><circle cx="346.2" cy="424.5" r="1.25"/><circle cx="358.5" cy="446.1" r="1.25"/><circle cx="353.1" cy="450.3" r="1.25"/><circle cx="353.5" cy="450.8" r="1.25"/><circle cx="350.9" cy="446.5" r="1.25"/><circle cx="360.0" cy="433.5" r="1.25"/><circle cx="352.7" cy="449.7" r="1.25"/><circle cx="346.2" cy="429.7" r="1.25"/><circle cx="358.3" cy="437.6" r="1.25"/><circle cx="351.2" cy="447.8" r="1.25"/><circle cx="345.6" cy="444.3" r="1.25"/><circle cx="347.9" cy="438.9" r="1.25"/><circle cx="357.8" cy="444.9" r="1.25"/><circle cx="353.0" cy="450.1" r="1.25"/><circle cx="355.5" cy="450.2" r="1.25"/><circle cx="360.1" cy="433.2" r="1.25"/><circle cx="350.3" cy="446.7" r="1.25"/><circle cx="356.4" cy="441.9" r="1.25"/><circle cx="350.8" cy="446.3" r="1.25"/><circle cx="354.3" cy="450.0" r="1.25"/><circle cx="351.9" cy="447.0" r="1.25"/><circle cx="354.3" cy="448.9" r="1.25"/><circle cx="349.6" cy="439.5" r="1.25"/><circle cx="357.9" cy="444.6" r="1.25"/><circle cx="353.9" cy="450.0" r="1.25"/><circle cx="354.6" cy="448.6" r="1.25"/><circle cx="349.3" cy="441.2" r="1.25"/><circle cx="351.1" cy="444.9" r="1.25"/><circle cx="351.4" cy="445.1" r="1.25"/><circle cx="354.7" cy="449.4" r="1.25"/><circle cx="352.1" cy="449.8" r="1.25"/><circle cx="357.2" cy="448.9" r="1.25"/><circle cx="355.1" cy="448.5" r="1.25"/><circle cx="357.8" cy="446.5" r="1.25"/><circle cx="356.3" cy="443.6" r="1.25"/><circle cx="349.2" cy="446.7" r="1.25"/><circle cx="351.4" cy="446.3" r="1.25"/><circle cx="349.6" cy="450.1" r="1.25"/><circle cx="352.5" cy="448.8" r="1.25"/><circle cx="348.0" cy="432.5" r="1.25"/><circle cx="353.5" cy="450.7" r="1.25"/><circle cx="347.0" cy="438.2" r="1.25"/><circle cx="353.0" cy="450.5" r="1.25"/><circle cx="346.8" cy="435.0" r="1.25"/><circle cx="349.5" cy="442.9" r="1.25"/><circle cx="352.6" cy="449.3" r="1.25"/><circle cx="354.6" cy="449.5" r="1.25"/><circle cx="348.3" cy="434.8" r="1.25"/><circle cx="346.3" cy="443.3" r="1.25"/><circle cx="346.6" cy="428.5" r="1.25"/><circle cx="354.1" cy="449.4" r="1.25"/><circle cx="355.4" cy="447.8" r="1.25"/><circle cx="352.3" cy="448.5" r="1.25"/><circle cx="349.1" cy="438.3" r="1.25"/><circle cx="351.9" cy="450.2" r="1.25"/><circle cx="350.9" cy="445.6" r="1.25"/><circle cx="347.8" cy="432.2" r="1.25"/><circle cx="360.2" cy="434.3" r="1.25"/><circle cx="359.8" cy="432.2" r="1.25"/><circle cx="354.0" cy="450.4" r="1.25"/><circle cx="360.6" cy="425.5" r="1.25"/><circle cx="352.6" cy="449.8" r="1.25"/><circle cx="346.6" cy="432.3" r="1.25"/><circle cx="359.0" cy="439.5" r="1.25"/><circle cx="350.0" cy="442.9" r="1.25"/><circle cx="358.1" cy="445.4" r="1.25"/><circle cx="349.9" cy="442.3" r="1.25"/><circle cx="346.1" cy="426.9" r="1.25"/><circle cx="350.5" cy="442.7" r="1.25"/><circle cx="352.7" cy="450.2" r="1.25"/><circle cx="345.8" cy="443.1" r="1.25"/><circle cx="349.6" cy="440.3" r="1.25"/><circle cx="358.1" cy="438.8" r="1.25"/><circle cx="350.3" cy="443.3" r="1.25"/><circle cx="357.1" cy="444.3" r="1.25"/><circle cx="346.7" cy="435.5" r="1.25"/><circle cx="349.0" cy="445.4" r="1.25"/><circle cx="351.7" cy="449.8" r="1.25"/><circle cx="359.7" cy="440.2" r="1.25"/><circle cx="359.7" cy="431.8" r="1.25"/><circle cx="345.6" cy="423.5" r="1.25"/><circle cx="358.3" cy="439.4" r="1.25"/><circle cx="359.5" cy="436.8" r="1.25"/><circle cx="345.8" cy="441.8" r="1.25"/><circle cx="350.4" cy="442.3" r="1.25"/><circle cx="358.6" cy="445.8" r="1.25"/><circle cx="351.0" cy="448.9" r="1.25"/><circle cx="349.1" cy="443.1" r="1.25"/><circle cx="352.0" cy="449.6" r="1.25"/><circle cx="355.9" cy="447.6" r="1.25"/><circle cx="359.6" cy="436.5" r="1.25"/><circle cx="352.3" cy="448.4" r="1.25"/><circle cx="350.9" cy="447.6" r="1.25"/><circle cx="347.4" cy="440.5" r="1.25"/><circle cx="349.2" cy="439.2" r="1.25"/><circle cx="351.1" cy="445.3" r="1.25"/><circle cx="349.8" cy="448.5" r="1.25"/><circle cx="350.3" cy="445.3" r="1.25"/><circle cx="359.9" cy="441.8" r="1.25"/><circle cx="348.8" cy="445.7" r="1.25"/><circle cx="349.5" cy="438.3" r="1.25"/><circle cx="360.3" cy="440.5" r="1.25"/><circle cx="346.2" cy="433.7" r="1.25"/><circle cx="354.7" cy="449.8" r="1.25"/><circle cx="352.1" cy="447.9" r="1.25"/><circle cx="345.5" cy="426.3" r="1.25"/><circle cx="356.3" cy="442.9" r="1.25"/><circle cx="353.2" cy="450.6" r="1.25"/><circle cx="353.7" cy="450.6" r="1.25"/><circle cx="353.6" cy="450.6" r="1.25"/><circle cx="350.6" cy="449.4" r="1.25"/><circle cx="348.0" cy="447.5" r="1.25"/><circle cx="354.1" cy="450.2" r="1.25"/><circle cx="354.3" cy="449.4" r="1.25"/><circle cx="349.2" cy="446.7" r="1.25"/><circle cx="354.9" cy="447.5" r="1.25"/><circle cx="356.4" cy="444.5" r="1.25"/><circle cx="354.7" cy="450.4" r="1.25"/><circle cx="350.3" cy="442.4" r="1.25"/><circle cx="351.4" cy="449.4" r="1.25"/><circle cx="352.1" cy="447.9" r="1.25"/><circle cx="347.0" cy="444.6" r="1.25"/><circle cx="353.4" cy="450.8" r="1.25"/><circle cx="351.7" cy="448.7" r="1.25"/><circle cx="357.7" cy="447.4" r="1.25"/><circle cx="350.1" cy="443.3" r="1.25"/><circle cx="359.0" cy="433.0" r="1.25"/><circle cx="350.6" cy="447.0" r="1.25"/><circle cx="351.2" cy="449.0" r="1.25"/><circle cx="349.8" cy="440.9" r="1.25"/><circle cx="361.0" cy="437.8" r="1.25"/><circle cx="346.6" cy="430.1" r="1.25"/><circle cx="360.8" cy="426.8" r="1.25"/><circle cx="352.0" cy="447.7" r="1.25"/><circle cx="357.5" cy="439.3" r="1.25"/><circle cx="353.3" cy="450.6" r="1.25"/><circle cx="357.9" cy="444.5" r="1.25"/><circle cx="352.3" cy="450.1" r="1.25"/><circle cx="351.4" cy="445.8" r="1.25"/><circle cx="353.2" cy="450.5" r="1.25"/><circle cx="357.8" cy="447.4" r="1.25"/><circle cx="351.1" cy="446.4" r="1.25"/><circle cx="353.3" cy="450.7" r="1.25"/><circle cx="360.3" cy="428.5" r="1.25"/><circle cx="354.1" cy="449.5" r="1.25"/><circle cx="354.0" cy="449.4" r="1.25"/><circle cx="354.9" cy="447.8" r="1.25"/><circle cx="351.7" cy="448.1" r="1.25"/><circle cx="357.6" cy="443.1" r="1.25"/><circle cx="359.8" cy="431.7" r="1.25"/><circle cx="360.6" cy="429.1" r="1.25"/><circle cx="354.5" cy="449.3" r="1.25"/><circle cx="345.7" cy="428.5" r="1.25"/><circle cx="357.4" cy="440.0" r="1.25"/><circle cx="357.5" cy="449.0" r="1.25"/><circle cx="356.3" cy="446.6" r="1.25"/><circle cx="351.6" cy="446.3" r="1.25"/><circle cx="351.9" cy="448.2" r="1.25"/><circle cx="346.3" cy="441.3" r="1.25"/><circle cx="348.8" cy="444.6" r="1.25"/><circle cx="353.8" cy="450.7" r="1.25"/><circle cx="346.9" cy="445.4" r="1.25"/><circle cx="357.1" cy="439.0" r="1.25"/><circle cx="357.4" cy="442.1" r="1.25"/><circle cx="347.5" cy="432.8" r="1.25"/><circle cx="347.5" cy="446.3" r="1.25"/><circle cx="353.6" cy="450.5" r="1.25"/><circle cx="350.4" cy="442.3" r="1.25"/><circle cx="350.7" cy="442.9" r="1.25"/><circle cx="357.2" cy="439.5" r="1.25"/><circle cx="361.1" cy="425.3" r="1.25"/><circle cx="348.6" cy="439.7" r="1.25"/><circle cx="354.1" cy="449.4" r="1.25"/><circle cx="349.1" cy="440.5" r="1.25"/><circle cx="350.0" cy="446.8" r="1.25"/><circle cx="352.6" cy="449.1" r="1.25"/><circle cx="354.3" cy="449.7" r="1.25"/><circle cx="349.0" cy="442.9" r="1.25"/><circle cx="351.8" cy="448.8" r="1.25"/><circle cx="350.4" cy="447.0" r="1.25"/><circle cx="350.1" cy="442.7" r="1.25"/><circle cx="355.4" cy="446.5" r="1.25"/><circle cx="360.1" cy="431.6" r="1.25"/><circle cx="347.5" cy="438.7" r="1.25"/><circle cx="353.8" cy="450.1" r="1.25"/><circle cx="353.9" cy="450.6" r="1.25"/><circle cx="353.0" cy="450.2" r="1.25"/><circle cx="357.9" cy="441.4" r="1.25"/><circle cx="348.8" cy="448.8" r="1.25"/><circle cx="353.4" cy="450.7" r="1.25"/><circle cx="347.2" cy="435.8" r="1.25"/><circle cx="354.9" cy="447.9" r="1.25"/><circle cx="349.1" cy="447.4" r="1.25"/><circle cx="345.8" cy="436.9" r="1.25"/><circle cx="359.7" cy="437.3" r="1.25"/><circle cx="361.1" cy="425.0" r="1.25"/><circle cx="354.7" cy="448.7" r="1.25"/><circle cx="354.4" cy="448.6" r="1.25"/><circle cx="350.8" cy="448.2" r="1.25"/><circle cx="359.7" cy="433.5" r="1.25"/><circle cx="351.5" cy="447.6" r="1.25"/><circle cx="347.1" cy="434.6" r="1.25"/><circle cx="357.9" cy="440.7" r="1.25"/><circle cx="356.5" cy="442.6" r="1.25"/><circle cx="350.7" cy="444.6" r="1.25"/><circle cx="360.9" cy="428.0" r="1.25"/><circle cx="348.4" cy="437.3" r="1.25"/><circle cx="355.7" cy="445.0" r="1.25"/><circle cx="356.6" cy="441.3" r="1.25"/><circle cx="361.0" cy="439.8" r="1.25"/><circle cx="353.1" cy="450.7" r="1.25"/><circle cx="361.1" cy="443.3" r="1.25"/><circle cx="352.2" cy="448.6" r="1.25"/><circle cx="352.3" cy="449.8" r="1.25"/><circle cx="353.4" cy="450.8" r="1.25"/><circle cx="353.2" cy="450.6" r="1.25"/><circle cx="350.2" cy="444.6" r="1.25"/><circle cx="355.5" cy="446.7" r="1.25"/><circle cx="358.2" cy="435.6" r="1.25"/><circle cx="360.8" cy="441.4" r="1.25"/><circle cx="353.1" cy="450.7" r="1.25"/><circle cx="356.6" cy="445.1" r="1.25"/><circle cx="359.0" cy="438.2" r="1.25"/><circle cx="358.1" cy="448.8" r="1.25"/><circle cx="355.2" cy="447.8" r="1.25"/><circle cx="358.7" cy="446.1" r="1.25"/><circle cx="346.9" cy="431.9" r="1.25"/><circle cx="350.6" cy="445.7" r="1.25"/><circle cx="351.9" cy="446.7" r="1.25"/><circle cx="355.4" cy="445.8" r="1.25"/><circle cx="358.8" cy="433.7" r="1.25"/><circle cx="352.6" cy="449.8" r="1.25"/><circle cx="353.6" cy="450.4" r="1.25"/><circle cx="359.5" cy="436.8" r="1.25"/><circle cx="359.9" cy="431.0" r="1.25"/><circle cx="346.1" cy="430.2" r="1.25"/><circle cx="358.1" cy="448.4" r="1.25"/><circle cx="351.5" cy="446.5" r="1.25"/><circle cx="353.5" cy="450.7" r="1.25"/><circle cx="346.9" cy="440.3" r="1.25"/><circle cx="359.3" cy="439.8" r="1.25"/><circle cx="353.1" cy="450.3" r="1.25"/><circle cx="349.9" cy="444.3" r="1.25"/><circle cx="353.5" cy="450.7" r="1.25"/><circle cx="358.8" cy="444.1" r="1.25"/><circle cx="353.5" cy="450.7" r="1.25"/><circle cx="359.7" cy="435.3" r="1.25"/><circle cx="355.5" cy="446.2" r="1.25"/><circle cx="356.1" cy="443.3" r="1.25"/><circle cx="361.1" cy="422.1" r="1.25"/><circle cx="347.4" cy="433.4" r="1.25"/><circle cx="351.6" cy="448.5" r="1.25"/><circle cx="347.0" cy="429.1" r="1.25"/><circle cx="359.7" cy="435.5" r="1.25"/><circle cx="353.4" cy="450.8" r="1.25"/><circle cx="360.2" cy="429.8" r="1.25"/><circle cx="348.1" cy="437.6" r="1.25"/><circle cx="361.3" cy="437.5" r="1.25"/><circle cx="351.4" cy="447.7" r="1.25"/><circle cx="351.4" cy="449.2" r="1.25"/><circle cx="355.4" cy="448.3" r="1.25"/><circle cx="356.3" cy="445.2" r="1.25"/><circle cx="358.9" cy="434.8" r="1.25"/><circle cx="359.1" cy="444.2" r="1.25"/><circle cx="358.1" cy="437.2" r="1.25"/><circle cx="350.1" cy="450.6" r="1.25"/><circle cx="347.0" cy="431.2" r="1.25"/><circle cx="360.8" cy="445.3" r="1.25"/><circle cx="349.3" cy="443.0" r="1.25"/><circle cx="346.5" cy="431.6" r="1.25"/><circle cx="359.1" cy="432.7" r="1.25"/><circle cx="348.3" cy="434.2" r="1.25"/><circle cx="357.9" cy="445.8" r="1.25"/><circle cx="359.0" cy="431.9" r="1.25"/><circle cx="359.4" cy="432.7" r="1.25"/><circle cx="358.4" cy="438.9" r="1.25"/><circle cx="345.6" cy="427.6" r="1.25"/><circle cx="353.4" cy="450.8" r="1.25"/><circle cx="347.6" cy="431.6" r="1.25"/><circle cx="359.8" cy="446.9" r="1.25"/><circle cx="345.7" cy="427.8" r="1.25"/><circle cx="350.1" cy="441.2" r="1.25"/><circle cx="352.8" cy="449.7" r="1.25"/><circle cx="346.2" cy="427.9" r="1.25"/><circle cx="348.6" cy="441.0" r="1.25"/><circle cx="353.2" cy="450.6" r="1.25"/><circle cx="349.3" cy="442.5" r="1.25"/><circle cx="346.3" cy="442.1" r="1.25"/><circle cx="347.5" cy="431.9" r="1.25"/><circle cx="350.4" cy="441.6" r="1.25"/><circle cx="359.8" cy="443.0" r="1.25"/><circle cx="359.1" cy="431.1" r="1.25"/><circle cx="352.5" cy="449.4" r="1.25"/><circle cx="356.2" cy="445.3" r="1.25"/><circle cx="349.6" cy="440.7" r="1.25"/><circle cx="348.9" cy="442.4" r="1.25"/><circle cx="345.8" cy="436.4" r="1.25"/><circle cx="358.3" cy="445.7" r="1.25"/><circle cx="348.5" cy="441.1" r="1.25"/><circle cx="350.2" cy="450.3" r="1.25"/><circle cx="346.3" cy="440.8" r="1.25"/><circle cx="358.1" cy="437.3" r="1.25"/><circle cx="358.3" cy="437.4" r="1.25"/><circle cx="361.3" cy="437.6" r="1.25"/><circle cx="356.7" cy="444.3" r="1.25"/><circle cx="360.7" cy="434.2" r="1.25"/><circle cx="357.0" cy="441.0" r="1.25"/><circle cx="360.8" cy="427.5" r="1.25"/><circle cx="350.7" cy="444.4" r="1.25"/><circle cx="358.1" cy="435.4" r="1.25"/><circle cx="349.4" cy="439.9" r="1.25"/><circle cx="356.9" cy="447.1" r="1.25"/><circle cx="347.3" cy="435.5" r="1.25"/><circle cx="355.0" cy="448.6" r="1.25"/><circle cx="355.3" cy="449.1" r="1.25"/><circle cx="354.6" cy="448.8" r="1.25"/><circle cx="358.7" cy="435.8" r="1.25"/><circle cx="381.9" cy="450.8" r="1.25"/><circle cx="368.9" cy="451.4" r="1.25"/><circle cx="336.1" cy="450.6" r="1.25"/><circle cx="317.6" cy="451.4" r="1.25"/><circle cx="367.2" cy="451.3" r="1.25"/><circle cx="380.3" cy="451.3" r="1.25"/><circle cx="355.2" cy="451.3" r="1.25"/><circle cx="332.1" cy="451.0" r="1.25"/><circle cx="365.0" cy="450.8" r="1.25"/><circle cx="387.5" cy="451.8" r="1.25"/><circle cx="344.6" cy="451.8" r="1.25"/><circle cx="362.2" cy="450.6" r="1.25"/><circle cx="343.0" cy="450.6" r="1.25"/><circle cx="389.0" cy="451.7" r="1.25"/><circle cx="289.2" cy="451.1" r="1.25"/><circle cx="326.9" cy="451.8" r="1.25"/><circle cx="383.1" cy="450.7" r="1.25"/><circle cx="349.7" cy="451.1" r="1.25"/><circle cx="353.6" cy="451.5" r="1.25"/><circle cx="353.0" cy="451.4" r="1.25"/><circle cx="351.9" cy="452.0" r="1.25"/><circle cx="329.0" cy="450.8" r="1.25"/><circle cx="334.6" cy="451.4" r="1.25"/><circle cx="364.3" cy="450.9" r="1.25"/><circle cx="332.3" cy="452.0" r="1.25"/><circle cx="371.5" cy="450.6" r="1.25"/><circle cx="350.4" cy="451.7" r="1.25"/><circle cx="367.5" cy="451.8" r="1.25"/><circle cx="397.6" cy="451.9" r="1.25"/><circle cx="357.9" cy="451.3" r="1.25"/><circle cx="316.2" cy="452.0" r="1.25"/><circle cx="327.9" cy="450.9" r="1.25"/><circle cx="350.7" cy="451.1" r="1.25"/><circle cx="343.4" cy="452.0" r="1.25"/><circle cx="331.6" cy="451.3" r="1.25"/><circle cx="330.8" cy="451.3" r="1.25"/><circle cx="385.4" cy="452.0" r="1.25"/><circle cx="359.7" cy="450.8" r="1.25"/><circle cx="388.2" cy="451.8" r="1.25"/><circle cx="361.1" cy="451.2" r="1.25"/><circle cx="385.0" cy="451.6" r="1.25"/><circle cx="371.8" cy="450.9" r="1.25"/><circle cx="365.8" cy="451.8" r="1.25"/><circle cx="324.1" cy="451.0" r="1.25"/><circle cx="329.1" cy="451.6" r="1.25"/><circle cx="382.0" cy="451.9" r="1.25"/><circle cx="391.5" cy="450.6" r="1.25"/><circle cx="339.2" cy="451.3" r="1.25"/><circle cx="331.2" cy="451.1" r="1.25"/><circle cx="315.2" cy="450.7" r="1.25"/><circle cx="338.8" cy="451.4" r="1.25"/><circle cx="345.3" cy="450.9" r="1.25"/><circle cx="358.0" cy="451.4" r="1.25"/><circle cx="349.0" cy="451.9" r="1.25"/><circle cx="344.5" cy="451.4" r="1.25"/><circle cx="342.3" cy="451.8" r="1.25"/><circle cx="315.8" cy="451.8" r="1.25"/><circle cx="312.7" cy="451.2" r="1.25"/><circle cx="381.2" cy="451.3" r="1.25"/><circle cx="380.7" cy="451.8" r="1.25"/><circle cx="315.3" cy="450.8" r="1.25"/><circle cx="367.2" cy="451.7" r="1.25"/><circle cx="384.1" cy="451.8" r="1.25"/><circle cx="318.7" cy="451.6" r="1.25"/><circle cx="364.3" cy="451.0" r="1.25"/><circle cx="373.4" cy="451.0" r="1.25"/><circle cx="332.6" cy="451.6" r="1.25"/><circle cx="341.2" cy="451.9" r="1.25"/><circle cx="355.6" cy="451.5" r="1.25"/><circle cx="353.3" cy="451.5" r="1.25"/><circle cx="315.6" cy="451.9" r="1.25"/><circle cx="370.5" cy="451.0" r="1.25"/><circle cx="343.6" cy="451.3" r="1.25"/><circle cx="342.2" cy="451.1" r="1.25"/><circle cx="377.2" cy="451.9" r="1.25"/><circle cx="302.8" cy="451.4" r="1.25"/><circle cx="344.3" cy="451.4" r="1.25"/><circle cx="317.7" cy="450.8" r="1.25"/><circle cx="345.8" cy="451.5" r="1.25"/><circle cx="416.6" cy="450.8" r="1.25"/><circle cx="345.0" cy="450.8" r="1.25"/><circle cx="364.1" cy="451.2" r="1.25"/><circle cx="352.1" cy="451.3" r="1.25"/><circle cx="358.2" cy="452.0" r="1.25"/><circle cx="328.4" cy="451.2" r="1.25"/><circle cx="359.4" cy="451.0" r="1.25"/><circle cx="345.6" cy="451.2" r="1.25"/><circle cx="368.2" cy="452.0" r="1.25"/><circle cx="318.6" cy="451.3" r="1.25"/><circle cx="392.5" cy="451.6" r="1.25"/><circle cx="328.2" cy="451.9" r="1.25"/><circle cx="356.3" cy="451.5" r="1.25"/><circle cx="361.4" cy="451.2" r="1.25"/><circle cx="373.7" cy="451.4" r="1.25"/><circle cx="339.1" cy="451.1" r="1.25"/><circle cx="367.3" cy="452.1" r="1.25"/><circle cx="350.0" cy="451.9" r="1.25"/><circle cx="302.7" cy="450.8" r="1.25"/><circle cx="313.6" cy="451.3" r="1.25"/><circle cx="344.2" cy="451.4" r="1.25"/><circle cx="329.2" cy="450.9" r="1.25"/><circle cx="326.8" cy="450.7" r="1.25"/><circle cx="352.4" cy="451.1" r="1.25"/><circle cx="360.1" cy="450.7" r="1.25"/><circle cx="382.8" cy="450.9" r="1.25"/><circle cx="376.2" cy="451.7" r="1.25"/><circle cx="311.1" cy="451.4" r="1.25"/><circle cx="376.9" cy="451.9" r="1.25"/><circle cx="329.8" cy="452.0" r="1.25"/><circle cx="365.4" cy="451.6" r="1.25"/><circle cx="307.0" cy="451.7" r="1.25"/><circle cx="375.9" cy="451.6" r="1.25"/><circle cx="405.9" cy="450.8" r="1.25"/><circle cx="362.6" cy="450.6" r="1.25"/><circle cx="344.5" cy="451.0" r="1.25"/><circle cx="367.6" cy="451.3" r="1.25"/><circle cx="315.0" cy="451.9" r="1.25"/><circle cx="352.6" cy="451.6" r="1.25"/><circle cx="371.4" cy="450.8" r="1.25"/><circle cx="333.3" cy="451.7" r="1.25"/><circle cx="368.9" cy="451.5" r="1.25"/><circle cx="352.9" cy="451.2" r="1.25"/><circle cx="359.9" cy="451.3" r="1.25"/><circle cx="352.7" cy="451.1" r="1.25"/><circle cx="324.8" cy="450.6" r="1.25"/><circle cx="384.1" cy="451.0" r="1.25"/><circle cx="381.0" cy="450.6" r="1.25"/><circle cx="347.6" cy="451.5" r="1.25"/><circle cx="321.1" cy="451.9" r="1.25"/><circle cx="304.7" cy="452.0" r="1.25"/><circle cx="351.3" cy="451.6" r="1.25"/><circle cx="375.6" cy="451.1" r="1.25"/><circle cx="348.3" cy="450.9" r="1.25"/><circle cx="358.5" cy="450.8" r="1.25"/><circle cx="325.9" cy="450.9" r="1.25"/><circle cx="381.8" cy="451.0" r="1.25"/><circle cx="376.0" cy="451.5" r="1.25"/><circle cx="366.3" cy="451.5" r="1.25"/><circle cx="334.3" cy="451.6" r="1.25"/><circle cx="328.3" cy="451.8" r="1.25"/><circle cx="353.9" cy="452.0" r="1.25"/><circle cx="352.6" cy="451.3" r="1.25"/><circle cx="396.5" cy="451.3" r="1.25"/><circle cx="351.5" cy="450.7" r="1.25"/><circle cx="389.5" cy="450.6" r="1.25"/><circle cx="378.6" cy="450.7" r="1.25"/><circle cx="342.4" cy="451.6" r="1.25"/><circle cx="320.4" cy="450.7" r="1.25"/><circle cx="394.3" cy="450.6" r="1.25"/><circle cx="342.5" cy="451.5" r="1.25"/><circle cx="344.9" cy="451.5" r="1.25"/><circle cx="369.8" cy="452.1" r="1.25"/><circle cx="398.5" cy="452.0" r="1.25"/><circle cx="362.4" cy="450.7" r="1.25"/><circle cx="356.9" cy="451.1" r="1.25"/><circle cx="350.8" cy="450.6" r="1.25"/><circle cx="360.3" cy="451.4" r="1.25"/><circle cx="367.4" cy="451.3" r="1.25"/><circle cx="395.2" cy="450.7" r="1.25"/><circle cx="344.8" cy="450.7" r="1.25"/><circle cx="345.0" cy="451.8" r="1.25"/><circle cx="399.4" cy="451.9" r="1.25"/><circle cx="380.9" cy="451.4" r="1.25"/><circle cx="322.6" cy="451.9" r="1.25"/><circle cx="374.3" cy="451.9" r="1.25"/><circle cx="311.4" cy="451.4" r="1.25"/><circle cx="383.8" cy="451.7" r="1.25"/><circle cx="371.9" cy="452.0" r="1.25"/><circle cx="352.4" cy="452.0" r="1.25"/><circle cx="299.3" cy="451.1" r="1.25"/><circle cx="382.9" cy="451.3" r="1.25"/><circle cx="338.6" cy="451.3" r="1.25"/><circle cx="327.1" cy="451.7" r="1.25"/><circle cx="354.0" cy="451.0" r="1.25"/><circle cx="319.5" cy="452.1" r="1.25"/><circle cx="367.8" cy="451.7" r="1.25"/><circle cx="330.2" cy="451.6" r="1.25"/><circle cx="345.0" cy="452.0" r="1.25"/><circle cx="378.4" cy="451.0" r="1.25"/><circle cx="356.2" cy="451.8" r="1.25"/><circle cx="352.4" cy="451.9" r="1.25"/><circle cx="351.7" cy="451.2" r="1.25"/><circle cx="360.9" cy="450.7" r="1.25"/><circle cx="362.3" cy="451.0" r="1.25"/><circle cx="388.0" cy="450.8" r="1.25"/><circle cx="373.0" cy="451.2" r="1.25"/><circle cx="338.3" cy="451.0" r="1.25"/><circle cx="330.4" cy="451.3" r="1.25"/><circle cx="321.0" cy="451.5" r="1.25"/><circle cx="361.7" cy="451.1" r="1.25"/><circle cx="332.4" cy="452.1" r="1.25"/><circle cx="308.1" cy="451.5" r="1.25"/><circle cx="353.2" cy="451.2" r="1.25"/><circle cx="354.2" cy="452.1" r="1.25"/><circle cx="393.3" cy="450.9" r="1.25"/><circle cx="350.8" cy="450.9" r="1.25"/><circle cx="368.7" cy="452.0" r="1.25"/><circle cx="375.8" cy="450.9" r="1.25"/><circle cx="366.4" cy="451.0" r="1.25"/><circle cx="324.1" cy="451.3" r="1.25"/><circle cx="387.5" cy="452.0" r="1.25"/><circle cx="365.4" cy="451.1" r="1.25"/><circle cx="374.0" cy="451.1" r="1.25"/><circle cx="349.4" cy="451.6" r="1.25"/><circle cx="355.0" cy="451.3" r="1.25"/><circle cx="360.2" cy="451.3" r="1.25"/><circle cx="361.6" cy="450.8" r="1.25"/><circle cx="366.8" cy="450.9" r="1.25"/><circle cx="375.1" cy="451.9" r="1.25"/><circle cx="383.3" cy="451.5" r="1.25"/><circle cx="357.7" cy="452.0" r="1.25"/><circle cx="385.3" cy="451.1" r="1.25"/><circle cx="353.1" cy="451.7" r="1.25"/><circle cx="350.8" cy="451.9" r="1.25"/><circle cx="301.3" cy="451.5" r="1.25"/><circle cx="338.9" cy="451.8" r="1.25"/><circle cx="328.5" cy="451.0" r="1.25"/><circle cx="355.0" cy="451.4" r="1.25"/><circle cx="354.3" cy="451.6" r="1.25"/><circle cx="346.7" cy="450.7" r="1.25"/><circle cx="328.4" cy="452.0" r="1.25"/><circle cx="321.7" cy="451.6" r="1.25"/><circle cx="331.0" cy="451.6" r="1.25"/><circle cx="322.0" cy="451.6" r="1.25"/><circle cx="332.7" cy="451.1" r="1.25"/><circle cx="308.6" cy="452.0" r="1.25"/><circle cx="356.1" cy="450.7" r="1.25"/><circle cx="360.6" cy="451.4" r="1.25"/><circle cx="361.5" cy="451.9" r="1.25"/><circle cx="343.2" cy="451.3" r="1.25"/><circle cx="345.5" cy="452.1" r="1.25"/><circle cx="340.3" cy="451.3" r="1.25"/><circle cx="355.6" cy="450.7" r="1.25"/><circle cx="388.9" cy="451.6" r="1.25"/><circle cx="360.3" cy="451.0" r="1.25"/><circle cx="342.3" cy="451.0" r="1.25"/><circle cx="365.4" cy="451.8" r="1.25"/><circle cx="386.7" cy="451.3" r="1.25"/><circle cx="334.7" cy="451.8" r="1.25"/><circle cx="301.2" cy="451.2" r="1.25"/><circle cx="366.3" cy="451.8" r="1.25"/><circle cx="343.3" cy="450.7" r="1.25"/><circle cx="348.4" cy="451.4" r="1.25"/><circle cx="364.2" cy="450.8" r="1.25"/><circle cx="341.4" cy="451.6" r="1.25"/><circle cx="343.8" cy="451.3" r="1.25"/><circle cx="348.1" cy="451.7" r="1.25"/><circle cx="366.3" cy="450.9" r="1.25"/><circle cx="325.3" cy="451.9" r="1.25"/><circle cx="403.0" cy="451.7" r="1.25"/><circle cx="321.6" cy="451.9" r="1.25"/><circle cx="316.2" cy="451.8" r="1.25"/><circle cx="353.8" cy="451.7" r="1.25"/><circle cx="327.0" cy="451.2" r="1.25"/><circle cx="348.1" cy="450.8" r="1.25"/><circle cx="351.2" cy="451.6" r="1.25"/><circle cx="363.4" cy="451.9" r="1.25"/><circle cx="359.3" cy="451.9" r="1.25"/><circle cx="397.6" cy="451.1" r="1.25"/><circle cx="345.9" cy="451.5" r="1.25"/></g>
<g fill="#2f86d0" fill-opacity="0.7"><circle cx="345.2" cy="442.6" r="1.85"/><circle cx="342.8" cy="448.8" r="1.85"/><circle cx="343.1" cy="444.6" r="1.85"/><circle cx="345.2" cy="421.8" r="1.85"/><circle cx="334.9" cy="448.9" r="1.85"/><circle cx="344.2" cy="449.4" r="1.85"/><circle cx="344.6" cy="441.7" r="1.85"/><circle cx="344.9" cy="445.3" r="1.85"/><circle cx="344.7" cy="432.0" r="1.85"/><circle cx="343.7" cy="436.3" r="1.85"/><circle cx="345.2" cy="442.8" r="1.85"/><circle cx="345.4" cy="426.2" r="1.85"/><circle cx="345.4" cy="428.0" r="1.85"/><circle cx="343.8" cy="445.3" r="1.85"/><circle cx="344.6" cy="440.1" r="1.85"/><circle cx="344.8" cy="446.0" r="1.85"/><circle cx="342.5" cy="435.7" r="1.85"/><circle cx="336.9" cy="440.2" r="1.85"/><circle cx="344.4" cy="426.5" r="1.85"/><circle cx="339.3" cy="425.1" r="1.85"/><circle cx="343.5" cy="450.1" r="1.85"/><circle cx="344.0" cy="427.9" r="1.85"/><circle cx="343.6" cy="446.2" r="1.85"/><circle cx="345.4" cy="429.7" r="1.85"/><circle cx="342.0" cy="438.7" r="1.85"/><circle cx="342.6" cy="415.4" r="1.85"/><circle cx="342.5" cy="447.3" r="1.85"/><circle cx="345.1" cy="435.9" r="1.85"/><circle cx="342.9" cy="433.6" r="1.85"/><circle cx="342.5" cy="440.7" r="1.85"/><circle cx="345.0" cy="439.9" r="1.85"/><circle cx="345.4" cy="449.0" r="1.85"/><circle cx="344.8" cy="446.5" r="1.85"/><circle cx="345.2" cy="440.6" r="1.85"/><circle cx="343.4" cy="449.2" r="1.85"/><circle cx="343.6" cy="433.3" r="1.85"/><circle cx="338.1" cy="450.1" r="1.85"/><circle cx="338.6" cy="441.5" r="1.85"/><circle cx="338.9" cy="435.0" r="1.85"/><circle cx="341.6" cy="431.4" r="1.85"/><circle cx="342.3" cy="428.0" r="1.85"/><circle cx="338.5" cy="409.8" r="1.85"/><circle cx="343.6" cy="448.7" r="1.85"/><circle cx="342.3" cy="417.9" r="1.85"/><circle cx="343.9" cy="439.9" r="1.85"/><circle cx="343.9" cy="449.8" r="1.85"/><circle cx="343.7" cy="450.0" r="1.85"/><circle cx="342.7" cy="444.1" r="1.85"/><circle cx="341.4" cy="440.7" r="1.85"/><circle cx="341.1" cy="441.3" r="1.85"/><circle cx="337.6" cy="449.7" r="1.85"/><circle cx="340.5" cy="435.3" r="1.85"/><circle cx="345.0" cy="411.1" r="1.85"/><circle cx="339.4" cy="443.1" r="1.85"/><circle cx="343.4" cy="446.4" r="1.85"/><circle cx="345.2" cy="448.4" r="1.85"/><circle cx="341.7" cy="423.6" r="1.85"/><circle cx="339.2" cy="433.7" r="1.85"/><circle cx="340.3" cy="441.6" r="1.85"/><circle cx="343.8" cy="433.7" r="1.85"/><circle cx="342.6" cy="445.7" r="1.85"/><circle cx="322.0" cy="446.1" r="1.85"/><circle cx="342.0" cy="449.1" r="1.85"/><circle cx="341.2" cy="445.1" r="1.85"/><circle cx="342.4" cy="449.5" r="1.85"/><circle cx="322.2" cy="446.5" r="1.85"/><circle cx="340.2" cy="445.9" r="1.85"/><circle cx="345.2" cy="449.6" r="1.85"/><circle cx="339.9" cy="437.3" r="1.85"/><circle cx="325.6" cy="447.8" r="1.85"/><circle cx="342.4" cy="444.7" r="1.85"/><circle cx="342.3" cy="424.2" r="1.85"/><circle cx="337.4" cy="446.4" r="1.85"/><circle cx="337.0" cy="436.2" r="1.85"/><circle cx="344.7" cy="448.5" r="1.85"/><circle cx="323.8" cy="450.0" r="1.85"/><circle cx="335.4" cy="447.0" r="1.85"/><circle cx="344.9" cy="448.0" r="1.85"/><circle cx="339.6" cy="416.2" r="1.85"/><circle cx="335.6" cy="441.3" r="1.85"/><circle cx="314.4" cy="449.3" r="1.85"/><circle cx="316.9" cy="448.7" r="1.85"/><circle cx="344.3" cy="423.7" r="1.85"/><circle cx="345.1" cy="431.0" r="1.85"/><circle cx="311.1" cy="439.5" r="1.85"/><circle cx="336.3" cy="449.6" r="1.85"/><circle cx="344.6" cy="449.6" r="1.85"/><circle cx="342.9" cy="445.3" r="1.85"/><circle cx="328.9" cy="449.1" r="1.85"/><circle cx="343.0" cy="448.6" r="1.85"/><circle cx="338.8" cy="448.0" r="1.85"/><circle cx="336.7" cy="441.6" r="1.85"/><circle cx="332.2" cy="443.7" r="1.85"/><circle cx="329.2" cy="448.2" r="1.85"/><circle cx="332.1" cy="450.1" r="1.85"/><circle cx="342.1" cy="442.2" r="1.85"/><circle cx="344.8" cy="417.4" r="1.85"/><circle cx="338.9" cy="437.2" r="1.85"/><circle cx="339.3" cy="443.4" r="1.85"/><circle cx="327.6" cy="449.7" r="1.85"/><circle cx="329.6" cy="439.7" r="1.85"/><circle cx="335.4" cy="447.9" r="1.85"/><circle cx="336.6" cy="449.8" r="1.85"/><circle cx="325.2" cy="446.4" r="1.85"/><circle cx="344.6" cy="450.0" r="1.85"/><circle cx="328.7" cy="442.8" r="1.85"/><circle cx="326.9" cy="450.2" r="1.85"/><circle cx="315.8" cy="449.5" r="1.85"/><circle cx="343.1" cy="442.5" r="1.85"/><circle cx="321.5" cy="446.9" r="1.85"/><circle cx="345.2" cy="426.4" r="1.85"/><circle cx="343.9" cy="446.2" r="1.85"/><circle cx="328.0" cy="423.6" r="1.85"/><circle cx="321.2" cy="446.4" r="1.85"/><circle cx="318.7" cy="448.4" r="1.85"/><circle cx="339.9" cy="449.2" r="1.85"/><circle cx="329.5" cy="444.7" r="1.85"/><circle cx="344.1" cy="445.6" r="1.85"/><circle cx="340.2" cy="450.0" r="1.85"/><circle cx="343.3" cy="442.2" r="1.85"/><circle cx="338.3" cy="431.1" r="1.85"/><circle cx="333.6" cy="447.8" r="1.85"/><circle cx="343.1" cy="435.6" r="1.85"/><circle cx="335.0" cy="441.9" r="1.85"/><circle cx="336.6" cy="436.5" r="1.85"/><circle cx="341.8" cy="449.2" r="1.85"/><circle cx="344.1" cy="443.1" r="1.85"/><circle cx="330.3" cy="438.1" r="1.85"/><circle cx="335.3" cy="437.4" r="1.85"/><circle cx="340.3" cy="430.9" r="1.85"/><circle cx="339.6" cy="447.7" r="1.85"/><circle cx="335.6" cy="449.9" r="1.85"/><circle cx="318.4" cy="448.4" r="1.85"/><circle cx="322.9" cy="450.0" r="1.85"/><circle cx="341.0" cy="449.8" r="1.85"/><circle cx="343.8" cy="450.2" r="1.85"/><circle cx="314.7" cy="450.0" r="1.85"/><circle cx="340.0" cy="450.1" r="1.85"/><circle cx="328.2" cy="447.4" r="1.85"/><circle cx="340.6" cy="446.1" r="1.85"/><circle cx="314.6" cy="448.7" r="1.85"/><circle cx="343.3" cy="450.0" r="1.85"/><circle cx="314.6" cy="449.8" r="1.85"/><circle cx="323.4" cy="450.0" r="1.85"/><circle cx="345.4" cy="448.2" r="1.85"/><circle cx="324.7" cy="448.3" r="1.85"/><circle cx="333.1" cy="450.2" r="1.85"/><circle cx="345.4" cy="449.7" r="1.85"/><circle cx="332.0" cy="448.6" r="1.85"/><circle cx="328.5" cy="450.0" r="1.85"/><circle cx="328.8" cy="449.3" r="1.85"/><circle cx="343.2" cy="448.5" r="1.85"/><circle cx="321.5" cy="449.1" r="1.85"/><circle cx="342.8" cy="449.5" r="1.85"/><circle cx="335.9" cy="450.0" r="1.85"/><circle cx="323.5" cy="450.0" r="1.85"/><circle cx="343.5" cy="448.4" r="1.85"/><circle cx="329.4" cy="448.7" r="1.85"/><circle cx="315.0" cy="449.6" r="1.85"/><circle cx="337.9" cy="445.8" r="1.85"/><circle cx="341.3" cy="448.1" r="1.85"/><circle cx="337.7" cy="448.4" r="1.85"/><circle cx="330.1" cy="447.3" r="1.85"/><circle cx="316.9" cy="447.3" r="1.85"/><circle cx="337.1" cy="449.9" r="1.85"/><circle cx="342.9" cy="449.2" r="1.85"/><circle cx="342.6" cy="449.9" r="1.85"/><circle cx="338.0" cy="449.4" r="1.85"/><circle cx="336.8" cy="447.7" r="1.85"/><circle cx="314.4" cy="447.6" r="1.85"/><circle cx="323.9" cy="449.6" r="1.85"/><circle cx="342.7" cy="450.0" r="1.85"/><circle cx="326.5" cy="447.9" r="1.85"/><circle cx="332.2" cy="449.7" r="1.85"/><circle cx="341.6" cy="445.6" r="1.85"/><circle cx="339.2" cy="448.0" r="1.85"/><circle cx="335.3" cy="449.4" r="1.85"/><circle cx="323.1" cy="449.4" r="1.85"/><circle cx="335.5" cy="449.8" r="1.85"/><circle cx="318.0" cy="448.1" r="1.85"/><circle cx="325.6" cy="318.3" r="1.85"/><circle cx="329.0" cy="364.6" r="1.85"/><circle cx="333.0" cy="369.0" r="1.85"/><circle cx="339.5" cy="373.9" r="1.85"/><circle cx="331.2" cy="387.8" r="1.85"/><circle cx="335.9" cy="391.7" r="1.85"/><circle cx="331.6" cy="406.5" r="1.85"/><circle cx="340.9" cy="407.7" r="1.85"/><circle cx="339.5" cy="412.7" r="1.85"/><circle cx="338.5" cy="415.6" r="1.85"/><circle cx="341.5" cy="411.5" r="1.85"/><circle cx="339.5" cy="422.0" r="1.85"/><circle cx="342.5" cy="421.6" r="1.85"/><circle cx="344.4" cy="426.5" r="1.85"/><circle cx="334.5" cy="428.1" r="1.85"/><circle cx="312.8" cy="428.3" r="1.85"/><circle cx="318.9" cy="428.1" r="1.85"/><circle cx="329.6" cy="435.0" r="1.85"/><circle cx="331.6" cy="435.0" r="1.85"/><circle cx="316.7" cy="440.8" r="1.85"/><circle cx="327.6" cy="441.3" r="1.85"/><circle cx="304.9" cy="445.9" r="1.85"/><circle cx="310.8" cy="444.3" r="1.85"/><circle cx="308.8" cy="449.3" r="1.85"/><circle cx="315.7" cy="446.3" r="1.85"/><circle cx="316.7" cy="449.3" r="1.85"/><circle cx="320.7" cy="450.3" r="1.85"/></g>
<g fill="#f1c038" fill-opacity="0.62"><circle cx="362.8" cy="439.8" r="1.85"/><circle cx="365.2" cy="422.1" r="1.85"/><circle cx="366.1" cy="449.9" r="1.85"/><circle cx="362.3" cy="413.1" r="1.85"/><circle cx="363.2" cy="429.6" r="1.85"/><circle cx="361.5" cy="445.1" r="1.85"/><circle cx="365.1" cy="436.0" r="1.85"/><circle cx="364.3" cy="440.7" r="1.85"/><circle cx="366.4" cy="447.0" r="1.85"/><circle cx="363.3" cy="425.3" r="1.85"/><circle cx="361.4" cy="448.7" r="1.85"/><circle cx="362.2" cy="440.9" r="1.85"/><circle cx="362.4" cy="450.0" r="1.85"/><circle cx="363.4" cy="400.0" r="1.85"/><circle cx="363.0" cy="428.9" r="1.85"/><circle cx="361.9" cy="443.9" r="1.85"/><circle cx="364.7" cy="435.0" r="1.85"/><circle cx="363.1" cy="436.8" r="1.85"/><circle cx="362.0" cy="433.8" r="1.85"/><circle cx="367.1" cy="398.8" r="1.85"/><circle cx="367.0" cy="447.4" r="1.85"/><circle cx="361.4" cy="427.5" r="1.85"/><circle cx="366.2" cy="422.6" r="1.85"/><circle cx="362.0" cy="444.0" r="1.85"/><circle cx="361.5" cy="438.2" r="1.85"/><circle cx="364.8" cy="447.7" r="1.85"/><circle cx="362.8" cy="441.7" r="1.85"/><circle cx="365.9" cy="404.8" r="1.85"/><circle cx="361.5" cy="444.1" r="1.85"/><circle cx="364.5" cy="450.0" r="1.85"/><circle cx="374.1" cy="435.5" r="1.85"/><circle cx="364.1" cy="436.1" r="1.85"/><circle cx="363.4" cy="420.4" r="1.85"/><circle cx="362.6" cy="437.7" r="1.85"/><circle cx="364.8" cy="437.8" r="1.85"/><circle cx="365.3" cy="438.1" r="1.85"/><circle cx="364.1" cy="441.8" r="1.85"/><circle cx="363.7" cy="440.5" r="1.85"/><circle cx="361.7" cy="422.8" r="1.85"/><circle cx="362.1" cy="450.2" r="1.85"/><circle cx="361.8" cy="445.8" r="1.85"/><circle cx="363.1" cy="435.0" r="1.85"/><circle cx="365.5" cy="439.4" r="1.85"/><circle cx="368.7" cy="448.4" r="1.85"/><circle cx="362.2" cy="421.7" r="1.85"/><circle cx="366.9" cy="424.1" r="1.85"/><circle cx="364.9" cy="449.8" r="1.85"/><circle cx="361.9" cy="443.1" r="1.85"/><circle cx="362.3" cy="444.4" r="1.85"/><circle cx="363.4" cy="426.5" r="1.85"/><circle cx="372.8" cy="442.7" r="1.85"/><circle cx="363.6" cy="442.8" r="1.85"/><circle cx="373.1" cy="406.4" r="1.85"/><circle cx="362.7" cy="440.3" r="1.85"/><circle cx="363.5" cy="432.6" r="1.85"/><circle cx="363.6" cy="435.9" r="1.85"/><circle cx="361.9" cy="446.7" r="1.85"/><circle cx="362.1" cy="435.2" r="1.85"/><circle cx="361.5" cy="439.0" r="1.85"/><circle cx="361.9" cy="442.4" r="1.85"/><circle cx="368.0" cy="438.0" r="1.85"/><circle cx="362.0" cy="447.2" r="1.85"/><circle cx="362.3" cy="443.0" r="1.85"/><circle cx="361.6" cy="449.0" r="1.85"/><circle cx="366.8" cy="429.2" r="1.85"/><circle cx="365.9" cy="449.3" r="1.85"/><circle cx="365.4" cy="424.9" r="1.85"/><circle cx="362.4" cy="448.9" r="1.85"/><circle cx="363.4" cy="414.6" r="1.85"/><circle cx="362.2" cy="422.1" r="1.85"/><circle cx="367.8" cy="414.8" r="1.85"/><circle cx="365.1" cy="447.3" r="1.85"/><circle cx="362.1" cy="449.8" r="1.85"/><circle cx="364.8" cy="405.7" r="1.85"/><circle cx="361.9" cy="442.4" r="1.85"/><circle cx="361.5" cy="406.8" r="1.85"/><circle cx="362.5" cy="450.1" r="1.85"/><circle cx="363.9" cy="437.7" r="1.85"/><circle cx="362.9" cy="418.3" r="1.85"/><circle cx="362.5" cy="398.6" r="1.85"/><circle cx="374.9" cy="442.4" r="1.85"/><circle cx="363.3" cy="443.4" r="1.85"/><circle cx="366.0" cy="449.5" r="1.85"/><circle cx="367.0" cy="436.8" r="1.85"/><circle cx="362.9" cy="429.5" r="1.85"/><circle cx="362.6" cy="449.8" r="1.85"/><circle cx="362.7" cy="438.1" r="1.85"/><circle cx="362.1" cy="439.4" r="1.85"/><circle cx="368.6" cy="446.0" r="1.85"/><circle cx="362.7" cy="420.7" r="1.85"/><circle cx="361.6" cy="417.6" r="1.85"/><circle cx="362.3" cy="431.2" r="1.85"/><circle cx="363.3" cy="444.3" r="1.85"/><circle cx="362.4" cy="434.5" r="1.85"/><circle cx="362.8" cy="445.3" r="1.85"/><circle cx="368.6" cy="417.7" r="1.85"/><circle cx="365.1" cy="409.1" r="1.85"/><circle cx="361.5" cy="386.4" r="1.85"/><circle cx="362.7" cy="410.6" r="1.85"/><circle cx="362.0" cy="450.1" r="1.85"/><circle cx="364.5" cy="413.3" r="1.85"/><circle cx="362.4" cy="449.1" r="1.85"/><circle cx="376.6" cy="401.6" r="1.85"/><circle cx="367.7" cy="388.6" r="1.85"/><circle cx="367.5" cy="400.6" r="1.85"/><circle cx="362.2" cy="438.8" r="1.85"/><circle cx="361.5" cy="435.7" r="1.85"/><circle cx="362.3" cy="435.6" r="1.85"/><circle cx="363.0" cy="446.3" r="1.85"/><circle cx="363.2" cy="429.8" r="1.85"/><circle cx="372.4" cy="448.5" r="1.85"/><circle cx="363.8" cy="446.1" r="1.85"/><circle cx="364.6" cy="416.4" r="1.85"/><circle cx="367.6" cy="439.7" r="1.85"/><circle cx="363.5" cy="448.9" r="1.85"/><circle cx="363.4" cy="448.3" r="1.85"/><circle cx="366.5" cy="444.1" r="1.85"/><circle cx="361.9" cy="439.3" r="1.85"/><circle cx="361.7" cy="447.1" r="1.85"/><circle cx="367.0" cy="437.7" r="1.85"/><circle cx="365.4" cy="403.8" r="1.85"/><circle cx="364.2" cy="449.2" r="1.85"/><circle cx="361.7" cy="445.3" r="1.85"/><circle cx="365.6" cy="448.6" r="1.85"/><circle cx="367.1" cy="449.5" r="1.85"/><circle cx="362.7" cy="443.3" r="1.85"/><circle cx="361.9" cy="406.1" r="1.85"/><circle cx="366.9" cy="440.2" r="1.85"/><circle cx="362.1" cy="431.6" r="1.85"/><circle cx="366.2" cy="448.8" r="1.85"/><circle cx="369.8" cy="432.4" r="1.85"/><circle cx="362.3" cy="447.0" r="1.85"/><circle cx="362.4" cy="427.9" r="1.85"/><circle cx="362.4" cy="377.4" r="1.85"/><circle cx="363.3" cy="448.4" r="1.85"/><circle cx="362.7" cy="449.1" r="1.85"/><circle cx="364.4" cy="398.6" r="1.85"/><circle cx="364.5" cy="440.1" r="1.85"/><circle cx="361.5" cy="417.5" r="1.85"/><circle cx="368.0" cy="390.6" r="1.85"/><circle cx="362.0" cy="440.7" r="1.85"/><circle cx="363.6" cy="427.1" r="1.85"/><circle cx="364.0" cy="448.5" r="1.85"/><circle cx="363.9" cy="437.3" r="1.85"/><circle cx="363.1" cy="449.6" r="1.85"/><circle cx="365.0" cy="413.0" r="1.85"/><circle cx="363.8" cy="426.8" r="1.85"/><circle cx="366.4" cy="445.8" r="1.85"/><circle cx="370.4" cy="445.1" r="1.85"/><circle cx="362.9" cy="436.4" r="1.85"/><circle cx="363.2" cy="441.2" r="1.85"/><circle cx="361.8" cy="437.4" r="1.85"/><circle cx="361.5" cy="440.7" r="1.85"/><circle cx="361.7" cy="435.1" r="1.85"/><circle cx="361.4" cy="446.0" r="1.85"/><circle cx="361.4" cy="437.3" r="1.85"/><circle cx="364.4" cy="438.3" r="1.85"/><circle cx="362.5" cy="448.3" r="1.85"/><circle cx="363.0" cy="444.0" r="1.85"/><circle cx="362.7" cy="443.7" r="1.85"/><circle cx="361.4" cy="413.1" r="1.85"/><circle cx="368.1" cy="402.3" r="1.85"/><circle cx="365.4" cy="431.5" r="1.85"/><circle cx="362.9" cy="425.8" r="1.85"/><circle cx="361.7" cy="447.3" r="1.85"/><circle cx="364.6" cy="433.2" r="1.85"/><circle cx="373.3" cy="427.1" r="1.85"/><circle cx="364.0" cy="444.2" r="1.85"/><circle cx="367.2" cy="444.7" r="1.85"/><circle cx="364.0" cy="449.5" r="1.85"/><circle cx="363.5" cy="406.4" r="1.85"/><circle cx="365.3" cy="370.8" r="1.85"/><circle cx="390.4" cy="442.9" r="1.85"/><circle cx="381.8" cy="441.1" r="1.85"/><circle cx="367.8" cy="397.7" r="1.85"/><circle cx="373.5" cy="421.0" r="1.85"/><circle cx="374.1" cy="399.1" r="1.85"/><circle cx="373.5" cy="429.1" r="1.85"/><circle cx="364.3" cy="431.7" r="1.85"/><circle cx="363.2" cy="449.2" r="1.85"/><circle cx="363.7" cy="438.9" r="1.85"/><circle cx="363.8" cy="445.1" r="1.85"/><circle cx="362.7" cy="433.8" r="1.85"/><circle cx="368.7" cy="407.8" r="1.85"/><circle cx="364.5" cy="447.8" r="1.85"/><circle cx="390.2" cy="421.4" r="1.85"/><circle cx="361.6" cy="439.4" r="1.85"/><circle cx="372.1" cy="444.5" r="1.85"/><circle cx="376.7" cy="440.8" r="1.85"/><circle cx="376.2" cy="448.9" r="1.85"/><circle cx="383.0" cy="435.5" r="1.85"/><circle cx="366.4" cy="438.6" r="1.85"/><circle cx="391.2" cy="441.4" r="1.85"/><circle cx="365.3" cy="425.7" r="1.85"/><circle cx="366.6" cy="439.0" r="1.85"/><circle cx="386.0" cy="408.4" r="1.85"/><circle cx="361.9" cy="435.0" r="1.85"/><circle cx="364.9" cy="448.7" r="1.85"/><circle cx="365.3" cy="436.7" r="1.85"/><circle cx="377.7" cy="378.7" r="1.85"/><circle cx="365.6" cy="438.0" r="1.85"/><circle cx="368.1" cy="440.9" r="1.85"/><circle cx="362.5" cy="438.5" r="1.85"/><circle cx="371.4" cy="411.3" r="1.85"/><circle cx="368.4" cy="443.2" r="1.85"/><circle cx="365.9" cy="417.4" r="1.85"/><circle cx="371.8" cy="402.8" r="1.85"/><circle cx="377.1" cy="443.4" r="1.85"/><circle cx="391.6" cy="438.1" r="1.85"/><circle cx="365.0" cy="445.4" r="1.85"/><circle cx="362.3" cy="442.5" r="1.85"/><circle cx="388.0" cy="448.0" r="1.85"/><circle cx="377.6" cy="433.8" r="1.85"/><circle cx="370.0" cy="419.5" r="1.85"/><circle cx="385.2" cy="439.9" r="1.85"/><circle cx="388.7" cy="442.6" r="1.85"/><circle cx="375.0" cy="449.2" r="1.85"/><circle cx="366.9" cy="376.2" r="1.85"/><circle cx="369.0" cy="441.0" r="1.85"/><circle cx="363.3" cy="438.5" r="1.85"/><circle cx="363.9" cy="438.7" r="1.85"/><circle cx="369.7" cy="436.2" r="1.85"/><circle cx="373.5" cy="432.6" r="1.85"/><circle cx="368.2" cy="450.1" r="1.85"/><circle cx="381.9" cy="449.1" r="1.85"/><circle cx="363.4" cy="423.5" r="1.85"/><circle cx="364.7" cy="433.7" r="1.85"/><circle cx="373.8" cy="441.6" r="1.85"/><circle cx="362.3" cy="436.2" r="1.85"/><circle cx="374.1" cy="449.5" r="1.85"/><circle cx="369.1" cy="409.9" r="1.85"/><circle cx="369.2" cy="434.2" r="1.85"/><circle cx="376.2" cy="435.6" r="1.85"/><circle cx="366.9" cy="433.6" r="1.85"/><circle cx="367.5" cy="444.2" r="1.85"/><circle cx="369.6" cy="436.7" r="1.85"/><circle cx="368.7" cy="449.6" r="1.85"/><circle cx="365.5" cy="392.6" r="1.85"/><circle cx="370.1" cy="419.5" r="1.85"/><circle cx="367.3" cy="375.8" r="1.85"/><circle cx="373.2" cy="448.5" r="1.85"/><circle cx="387.0" cy="383.2" r="1.85"/><circle cx="365.7" cy="427.8" r="1.85"/><circle cx="362.2" cy="428.1" r="1.85"/><circle cx="374.3" cy="416.6" r="1.85"/><circle cx="379.7" cy="442.5" r="1.85"/><circle cx="377.7" cy="399.1" r="1.85"/><circle cx="370.9" cy="410.4" r="1.85"/><circle cx="369.6" cy="435.8" r="1.85"/><circle cx="365.3" cy="437.6" r="1.85"/><circle cx="362.3" cy="437.0" r="1.85"/><circle cx="374.2" cy="437.5" r="1.85"/><circle cx="387.5" cy="443.4" r="1.85"/><circle cx="382.6" cy="402.2" r="1.85"/><circle cx="381.5" cy="432.1" r="1.85"/><circle cx="363.8" cy="448.3" r="1.85"/><circle cx="367.8" cy="448.2" r="1.85"/><circle cx="393.3" cy="449.8" r="1.85"/><circle cx="362.4" cy="435.0" r="1.85"/><circle cx="371.1" cy="433.8" r="1.85"/><circle cx="362.9" cy="425.7" r="1.85"/><circle cx="367.6" cy="444.1" r="1.85"/><circle cx="379.5" cy="434.6" r="1.85"/><circle cx="373.6" cy="436.4" r="1.85"/><circle cx="366.4" cy="433.9" r="1.85"/><circle cx="393.9" cy="449.1" r="1.85"/><circle cx="373.7" cy="446.8" r="1.85"/><circle cx="364.6" cy="445.5" r="1.85"/><circle cx="367.8" cy="449.6" r="1.85"/><circle cx="362.1" cy="446.3" r="1.85"/><circle cx="384.7" cy="449.8" r="1.85"/><circle cx="365.5" cy="447.3" r="1.85"/><circle cx="394.1" cy="448.2" r="1.85"/><circle cx="366.7" cy="449.1" r="1.85"/><circle cx="371.4" cy="450.0" r="1.85"/><circle cx="363.5" cy="448.8" r="1.85"/><circle cx="380.2" cy="449.9" r="1.85"/><circle cx="362.5" cy="449.8" r="1.85"/><circle cx="372.3" cy="448.9" r="1.85"/><circle cx="375.3" cy="444.7" r="1.85"/><circle cx="392.1" cy="447.4" r="1.85"/><circle cx="373.7" cy="447.8" r="1.85"/><circle cx="369.3" cy="447.8" r="1.85"/><circle cx="369.6" cy="446.2" r="1.85"/><circle cx="372.1" cy="441.4" r="1.85"/><circle cx="363.2" cy="442.9" r="1.85"/><circle cx="364.7" cy="446.7" r="1.85"/><circle cx="368.3" cy="448.5" r="1.85"/><circle cx="374.7" cy="449.3" r="1.85"/><circle cx="375.1" cy="449.6" r="1.85"/><circle cx="362.9" cy="444.3" r="1.85"/><circle cx="389.0" cy="449.7" r="1.85"/><circle cx="366.3" cy="444.4" r="1.85"/><circle cx="364.1" cy="449.8" r="1.85"/><circle cx="371.7" cy="450.0" r="1.85"/><circle cx="361.4" cy="447.2" r="1.85"/><circle cx="386.2" cy="450.0" r="1.85"/><circle cx="365.8" cy="446.1" r="1.85"/><circle cx="364.0" cy="439.7" r="1.85"/><circle cx="369.0" cy="450.1" r="1.85"/><circle cx="392.3" cy="450.0" r="1.85"/><circle cx="395.7" cy="447.9" r="1.85"/><circle cx="396.2" cy="444.7" r="1.85"/><circle cx="376.1" cy="447.6" r="1.85"/><circle cx="368.0" cy="448.7" r="1.85"/><circle cx="363.4" cy="447.3" r="1.85"/><circle cx="370.4" cy="449.0" r="1.85"/><circle cx="367.2" cy="447.8" r="1.85"/><circle cx="381.2" cy="449.9" r="1.85"/><circle cx="394.4" cy="449.3" r="1.85"/><circle cx="367.7" cy="448.4" r="1.85"/><circle cx="377.1" cy="449.3" r="1.85"/><circle cx="364.1" cy="449.2" r="1.85"/><circle cx="361.6" cy="447.1" r="1.85"/><circle cx="364.4" cy="448.0" r="1.85"/><circle cx="369.4" cy="446.8" r="1.85"/><circle cx="364.3" cy="440.5" r="1.85"/><circle cx="378.5" cy="441.6" r="1.85"/><circle cx="385.0" cy="449.0" r="1.85"/><circle cx="368.2" cy="449.0" r="1.85"/><circle cx="384.6" cy="446.5" r="1.85"/><circle cx="379.9" cy="449.1" r="1.85"/><circle cx="367.1" cy="439.8" r="1.85"/><circle cx="377.8" cy="446.7" r="1.85"/><circle cx="377.9" cy="450.1" r="1.85"/><circle cx="374.4" cy="438.6" r="1.85"/><circle cx="365.6" cy="449.3" r="1.85"/><circle cx="368.4" cy="446.3" r="1.85"/><circle cx="370.5" cy="441.8" r="1.85"/><circle cx="363.5" cy="446.2" r="1.85"/><circle cx="365.6" cy="444.3" r="1.85"/><circle cx="365.2" cy="446.2" r="1.85"/><circle cx="371.4" cy="450.0" r="1.85"/><circle cx="362.1" cy="449.9" r="1.85"/><circle cx="371.8" cy="450.0" r="1.85"/><circle cx="366.2" cy="449.5" r="1.85"/><circle cx="371.3" cy="449.2" r="1.85"/><circle cx="370.2" cy="447.9" r="1.85"/><circle cx="372.1" cy="449.5" r="1.85"/><circle cx="361.4" cy="449.5" r="1.85"/><circle cx="366.5" cy="447.8" r="1.85"/><circle cx="362.7" cy="447.4" r="1.85"/><circle cx="369.2" cy="447.7" r="1.85"/><circle cx="363.1" cy="449.6" r="1.85"/><circle cx="366.1" cy="444.6" r="1.85"/><circle cx="369.5" cy="450.1" r="1.85"/><circle cx="372.2" cy="447.6" r="1.85"/><circle cx="375.9" cy="446.9" r="1.85"/><circle cx="371.1" cy="435.4" r="1.85"/><circle cx="366.4" cy="448.8" r="1.85"/><circle cx="375.3" cy="449.4" r="1.85"/><circle cx="363.8" cy="449.1" r="1.85"/><circle cx="374.1" cy="448.0" r="1.85"/><circle cx="368.5" cy="449.0" r="1.85"/><circle cx="372.2" cy="447.6" r="1.85"/><circle cx="367.8" cy="449.5" r="1.85"/><circle cx="369.5" cy="448.6" r="1.85"/><circle cx="393.8" cy="449.5" r="1.85"/><circle cx="385.1" cy="450.1" r="1.85"/><circle cx="367.0" cy="447.8" r="1.85"/><circle cx="378.7" cy="318.3" r="1.85"/><circle cx="381.0" cy="318.3" r="1.85"/><circle cx="389.0" cy="318.3" r="1.85"/><circle cx="410.0" cy="318.3" r="1.85"/><circle cx="429.0" cy="318.3" r="1.85"/><circle cx="371.8" cy="343.8" r="1.85"/><circle cx="375.1" cy="351.9" r="1.85"/><circle cx="376.1" cy="354.9" r="1.85"/><circle cx="374.5" cy="357.1" r="1.85"/><circle cx="371.6" cy="359.9" r="1.85"/><circle cx="372.7" cy="361.8" r="1.85"/><circle cx="381.1" cy="359.1" r="1.85"/><circle cx="365.2" cy="367.0" r="1.85"/><circle cx="372.2" cy="367.4" r="1.85"/><circle cx="375.1" cy="367.0" r="1.85"/><circle cx="369.2" cy="370.7" r="1.85"/><circle cx="367.2" cy="371.7" r="1.85"/><circle cx="376.7" cy="371.1" r="1.85"/><circle cx="380.7" cy="376.5" r="1.85"/><circle cx="368.8" cy="380.2" r="1.85"/><circle cx="369.8" cy="383.2" r="1.85"/><circle cx="373.1" cy="382.2" r="1.85"/><circle cx="366.2" cy="386.2" r="1.85"/><circle cx="392.0" cy="346.0" r="1.85"/><circle cx="381.0" cy="359.0" r="1.85"/><circle cx="398.6" cy="363.8" r="1.85"/><circle cx="394.0" cy="369.8" r="1.85"/><circle cx="392.6" cy="371.6" r="1.85"/><circle cx="380.6" cy="376.6" r="1.85"/><circle cx="395.6" cy="400.2" r="1.85"/><circle cx="393.0" cy="403.0" r="1.85"/><circle cx="398.0" cy="409.4" r="1.85"/><circle cx="384.0" cy="418.6" r="1.85"/><circle cx="394.0" cy="427.4" r="1.85"/><circle cx="381.0" cy="431.0" r="1.85"/><circle cx="385.0" cy="433.0" r="1.85"/><circle cx="387.4" cy="435.0" r="1.85"/><circle cx="389.0" cy="437.0" r="1.85"/><circle cx="395.6" cy="439.0" r="1.85"/><circle cx="395.6" cy="446.4" r="1.85"/><circle cx="407.0" cy="446.6" r="1.85"/><circle cx="401.6" cy="449.0" r="1.85"/><circle cx="432.0" cy="442.2" r="1.85"/><circle cx="381.0" cy="450.0" r="1.85"/><circle cx="384.0" cy="449.6" r="1.85"/><circle cx="387.0" cy="450.2" r="1.85"/><circle cx="390.0" cy="449.8" r="1.85"/><circle cx="393.0" cy="450.0" r="1.85"/><circle cx="396.0" cy="449.5" r="1.85"/></g>
<line x1="345.4" y1="311.8" x2="345.4" y2="457.2" stroke="#2a2a2a" stroke-width="0.55" stroke-dasharray="1.5 1.5"/><line x1="361.3" y1="311.8" x2="361.3" y2="457.2" stroke="#2a2a2a" stroke-width="0.55" stroke-dasharray="1.5 1.5"/><line x1="296.4" y1="450.5" x2="472.5" y2="450.5" stroke="#2a2a2a" stroke-width="0.65" stroke-dasharray="1.5 1.45"/>
<g fill="#000"><circle cx="383.4" cy="318.3" r="1.95"/><circle cx="384.6" cy="318.3" r="1.95"/><circle cx="386.4" cy="318.3" r="1.95"/><circle cx="392.0" cy="318.3" r="1.95"/><circle cx="462.6" cy="318.4" r="1.95"/><circle cx="369.0" cy="400.6" r="1.95"/><circle cx="367.8" cy="426.9" r="1.95"/><circle cx="379.7" cy="423.9" r="1.95"/><circle cx="418.6" cy="447.0" r="1.95"/></g>
<line x1="393.0" y1="319.4" x2="410.0" y2="330.0" stroke="#3a3a3a" stroke-width="0.5"/><line x1="418.6" y1="442.4" x2="418.6" y2="445.0" stroke="#3a3a3a" stroke-width="0.5"/><line x1="380.3" y1="422.6" x2="382.5" y2="419.8" stroke="#3a3a3a" stroke-width="0.5"/><line x1="368.0" y1="428.5" x2="369.0" y2="431.0" stroke="#3a3a3a" stroke-width="0.5"/></g>
<rect x="296.4" y="311.8" width="176.1" height="145.4" fill="none" stroke="#8e8e8e" stroke-width="0.75"/>
<line x1="293.4" y1="450.8" x2="296.4" y2="450.8" stroke="#666" stroke-width="0.6"/><text x="290.8" y="453.0" font-size="6.3" text-anchor="end" fill="#333">0</text><line x1="293.4" y1="405.5" x2="296.4" y2="405.5" stroke="#666" stroke-width="0.6"/><text x="290.8" y="407.7" font-size="6.3" text-anchor="end" fill="#333">100</text><line x1="293.4" y1="360.1" x2="296.4" y2="360.1" stroke="#666" stroke-width="0.6"/><text x="290.8" y="362.3" font-size="6.3" text-anchor="end" fill="#333">200</text><line x1="293.4" y1="314.8" x2="296.4" y2="314.8" stroke="#666" stroke-width="0.6"/><text x="290.8" y="317.0" font-size="6.3" text-anchor="end" fill="#333">300</text><line x1="313.6" y1="457.2" x2="313.6" y2="460.2" stroke="#666" stroke-width="0.6"/><text x="312.8" y="468.6" font-size="6.3" text-anchor="middle" fill="#333">-5</text><line x1="353.4" y1="457.2" x2="353.4" y2="460.2" stroke="#666" stroke-width="0.6"/><text x="353.4" y="468.6" font-size="6.3" text-anchor="middle" fill="#333">0</text><line x1="393.1" y1="457.2" x2="393.1" y2="460.2" stroke="#666" stroke-width="0.6"/><text x="393.1" y="468.6" font-size="6.3" text-anchor="middle" fill="#333">5</text><line x1="432.9" y1="457.2" x2="432.9" y2="460.2" stroke="#666" stroke-width="0.6"/><text x="432.9" y="468.6" font-size="6.3" text-anchor="middle" fill="#333">10</text>
<text x="355.2" y="479.3" font-size="7.20" textLength="58.4" lengthAdjust="spacingAndGlyphs">log<tspan font-size="4.6" dy="1.6">2</tspan><tspan dy="-1.6">&#8203;</tspan>(fold change)</text>
<g transform="translate(271.4 384.5) rotate(-90)"><text x="-17.6" y="0.0" font-size="7.20" textLength="35.2" lengthAdjust="spacingAndGlyphs">-log<tspan font-size="4.6" dy="1.6">10</tspan><tspan dy="-1.6">&#8203;</tspan>(<tspan font-style="italic">P</tspan><tspan font-size="4.6" dy="1.6">adj</tspan><tspan dy="-1.6">&#8203;</tspan>)</text>
</g>
<text x="363.2" y="320.4" font-size="5.80" textLength="13.9" lengthAdjust="spacingAndGlyphs" fill="#707070">HGC1</text>
<text x="395.6" y="320.4" font-size="5.80" textLength="14.0" lengthAdjust="spacingAndGlyphs" fill="#707070">ALS3</text>
<text x="411.0" y="333.5" font-size="5.80" textLength="12.0" lengthAdjust="spacingAndGlyphs" fill="#707070">IHD1</text>
<text x="442.6" y="320.4" font-size="5.80" textLength="15.0" lengthAdjust="spacingAndGlyphs" fill="#707070">HWP1</text>
<text x="369.4" y="396.3" font-size="5.80" textLength="16.8" lengthAdjust="spacingAndGlyphs" fill="#707070">WOR3</text>
<text x="369.4" y="435.9" font-size="5.80" textLength="13.4" lengthAdjust="spacingAndGlyphs" fill="#707070">HYR1</text>
<text x="381.2" y="419.7" font-size="5.80" textLength="13.4" lengthAdjust="spacingAndGlyphs" fill="#707070">BRG1</text>
<text x="420.0" y="442.5" font-size="5.80" textLength="13.0" lengthAdjust="spacingAndGlyphs" fill="#707070">ECE1</text>
</g>
<g id="vBL">
<clipPath id="clipBL"><rect x="70.3" y="515.2" width="175.3" height="145.0"/></clipPath>
<g clip-path="url(#clipBL)">
<g fill="#c6c6c6" fill-opacity="0.75"><circle cx="173.1" cy="651.5" r="1.25"/><circle cx="176.9" cy="646.5" r="1.25"/><circle cx="174.3" cy="647.7" r="1.25"/><circle cx="178.3" cy="646.0" r="1.25"/><circle cx="174.3" cy="648.8" r="1.25"/><circle cx="172.1" cy="653.3" r="1.25"/><circle cx="172.4" cy="652.9" r="1.25"/><circle cx="178.8" cy="636.4" r="1.25"/><circle cx="169.0" cy="649.2" r="1.25"/><circle cx="171.9" cy="653.4" r="1.25"/><circle cx="173.6" cy="650.0" r="1.25"/><circle cx="170.9" cy="651.1" r="1.25"/><circle cx="178.5" cy="638.4" r="1.25"/><circle cx="174.8" cy="651.3" r="1.25"/><circle cx="165.2" cy="631.4" r="1.25"/><circle cx="168.7" cy="649.7" r="1.25"/><circle cx="178.1" cy="637.0" r="1.25"/><circle cx="166.2" cy="644.1" r="1.25"/><circle cx="168.1" cy="648.1" r="1.25"/><circle cx="164.4" cy="636.2" r="1.25"/><circle cx="169.0" cy="648.6" r="1.25"/><circle cx="167.2" cy="649.5" r="1.25"/><circle cx="164.9" cy="631.6" r="1.25"/><circle cx="175.8" cy="645.6" r="1.25"/><circle cx="166.2" cy="647.6" r="1.25"/><circle cx="166.2" cy="644.1" r="1.25"/><circle cx="165.2" cy="643.2" r="1.25"/><circle cx="167.5" cy="648.3" r="1.25"/><circle cx="174.4" cy="649.5" r="1.25"/><circle cx="171.6" cy="653.0" r="1.25"/><circle cx="172.6" cy="652.4" r="1.25"/><circle cx="169.1" cy="651.7" r="1.25"/><circle cx="171.7" cy="653.1" r="1.25"/><circle cx="176.3" cy="650.0" r="1.25"/><circle cx="177.7" cy="652.0" r="1.25"/><circle cx="172.6" cy="652.6" r="1.25"/><circle cx="169.2" cy="646.2" r="1.25"/><circle cx="175.1" cy="650.5" r="1.25"/><circle cx="171.9" cy="653.3" r="1.25"/><circle cx="164.9" cy="647.9" r="1.25"/><circle cx="173.6" cy="650.3" r="1.25"/><circle cx="171.4" cy="652.7" r="1.25"/><circle cx="172.1" cy="653.3" r="1.25"/><circle cx="177.8" cy="635.5" r="1.25"/><circle cx="171.7" cy="653.4" r="1.25"/><circle cx="170.4" cy="650.0" r="1.25"/><circle cx="169.3" cy="651.5" r="1.25"/><circle cx="167.2" cy="641.4" r="1.25"/><circle cx="173.9" cy="651.2" r="1.25"/><circle cx="173.9" cy="649.3" r="1.25"/><circle cx="179.1" cy="632.3" r="1.25"/><circle cx="171.0" cy="651.4" r="1.25"/><circle cx="178.5" cy="633.9" r="1.25"/><circle cx="175.8" cy="645.3" r="1.25"/><circle cx="172.2" cy="653.1" r="1.25"/><circle cx="173.9" cy="649.4" r="1.25"/><circle cx="167.8" cy="650.4" r="1.25"/><circle cx="168.5" cy="646.1" r="1.25"/><circle cx="173.1" cy="652.4" r="1.25"/><circle cx="167.2" cy="639.3" r="1.25"/><circle cx="165.4" cy="633.0" r="1.25"/><circle cx="176.2" cy="644.5" r="1.25"/><circle cx="179.6" cy="633.2" r="1.25"/><circle cx="164.5" cy="629.1" r="1.25"/><circle cx="170.7" cy="650.4" r="1.25"/><circle cx="176.8" cy="648.9" r="1.25"/><circle cx="165.0" cy="651.1" r="1.25"/><circle cx="176.3" cy="642.2" r="1.25"/><circle cx="167.8" cy="650.1" r="1.25"/><circle cx="170.0" cy="648.8" r="1.25"/><circle cx="175.7" cy="643.6" r="1.25"/><circle cx="179.2" cy="633.4" r="1.25"/><circle cx="177.1" cy="652.0" r="1.25"/><circle cx="164.4" cy="630.3" r="1.25"/><circle cx="173.8" cy="651.1" r="1.25"/><circle cx="166.3" cy="644.1" r="1.25"/><circle cx="169.5" cy="649.1" r="1.25"/><circle cx="171.2" cy="652.8" r="1.25"/><circle cx="165.6" cy="645.4" r="1.25"/><circle cx="166.3" cy="648.9" r="1.25"/><circle cx="170.7" cy="652.5" r="1.25"/><circle cx="176.6" cy="643.7" r="1.25"/><circle cx="171.4" cy="652.5" r="1.25"/><circle cx="167.9" cy="652.1" r="1.25"/><circle cx="165.6" cy="642.5" r="1.25"/><circle cx="169.9" cy="651.0" r="1.25"/><circle cx="169.0" cy="646.0" r="1.25"/><circle cx="164.5" cy="637.8" r="1.25"/><circle cx="170.2" cy="651.3" r="1.25"/><circle cx="175.4" cy="649.4" r="1.25"/><circle cx="165.0" cy="645.7" r="1.25"/><circle cx="179.3" cy="640.5" r="1.25"/><circle cx="166.1" cy="635.1" r="1.25"/><circle cx="174.2" cy="647.7" r="1.25"/><circle cx="169.4" cy="647.3" r="1.25"/><circle cx="165.0" cy="643.6" r="1.25"/><circle cx="176.5" cy="644.2" r="1.25"/><circle cx="176.4" cy="645.9" r="1.25"/><circle cx="177.8" cy="649.5" r="1.25"/><circle cx="173.9" cy="651.6" r="1.25"/><circle cx="167.4" cy="640.5" r="1.25"/><circle cx="170.9" cy="651.3" r="1.25"/><circle cx="168.7" cy="645.6" r="1.25"/><circle cx="178.2" cy="638.2" r="1.25"/><circle cx="167.9" cy="644.0" r="1.25"/><circle cx="178.9" cy="633.5" r="1.25"/><circle cx="171.1" cy="652.3" r="1.25"/><circle cx="165.9" cy="636.5" r="1.25"/><circle cx="166.8" cy="646.9" r="1.25"/><circle cx="164.9" cy="645.4" r="1.25"/><circle cx="170.2" cy="650.5" r="1.25"/><circle cx="167.0" cy="644.2" r="1.25"/><circle cx="175.9" cy="650.5" r="1.25"/><circle cx="166.4" cy="641.5" r="1.25"/><circle cx="178.2" cy="634.5" r="1.25"/><circle cx="173.1" cy="652.8" r="1.25"/><circle cx="177.7" cy="635.4" r="1.25"/><circle cx="178.1" cy="640.0" r="1.25"/><circle cx="170.2" cy="650.1" r="1.25"/><circle cx="176.4" cy="640.1" r="1.25"/><circle cx="171.9" cy="653.3" r="1.25"/><circle cx="169.1" cy="647.9" r="1.25"/><circle cx="172.7" cy="652.8" r="1.25"/><circle cx="171.4" cy="652.2" r="1.25"/><circle cx="168.0" cy="648.2" r="1.25"/><circle cx="169.0" cy="645.8" r="1.25"/><circle cx="169.0" cy="645.9" r="1.25"/><circle cx="178.6" cy="633.7" r="1.25"/><circle cx="176.7" cy="648.1" r="1.25"/><circle cx="171.2" cy="652.0" r="1.25"/><circle cx="168.1" cy="645.0" r="1.25"/><circle cx="177.7" cy="636.2" r="1.25"/><circle cx="169.7" cy="651.7" r="1.25"/><circle cx="164.8" cy="641.5" r="1.25"/><circle cx="172.7" cy="652.7" r="1.25"/><circle cx="177.0" cy="641.6" r="1.25"/><circle cx="173.9" cy="649.2" r="1.25"/><circle cx="169.4" cy="647.9" r="1.25"/><circle cx="169.7" cy="650.5" r="1.25"/><circle cx="166.1" cy="637.1" r="1.25"/><circle cx="178.1" cy="650.9" r="1.25"/><circle cx="175.3" cy="651.6" r="1.25"/><circle cx="170.7" cy="651.9" r="1.25"/><circle cx="178.2" cy="641.4" r="1.25"/><circle cx="172.2" cy="653.3" r="1.25"/><circle cx="168.2" cy="648.7" r="1.25"/><circle cx="165.3" cy="651.7" r="1.25"/><circle cx="172.8" cy="652.0" r="1.25"/><circle cx="174.6" cy="650.3" r="1.25"/><circle cx="179.5" cy="648.0" r="1.25"/><circle cx="171.0" cy="652.2" r="1.25"/><circle cx="167.1" cy="638.7" r="1.25"/><circle cx="175.3" cy="650.6" r="1.25"/><circle cx="167.1" cy="640.0" r="1.25"/><circle cx="170.0" cy="651.0" r="1.25"/><circle cx="168.9" cy="649.0" r="1.25"/><circle cx="173.4" cy="651.8" r="1.25"/><circle cx="173.4" cy="652.8" r="1.25"/><circle cx="172.5" cy="652.6" r="1.25"/><circle cx="169.2" cy="646.5" r="1.25"/><circle cx="178.6" cy="636.8" r="1.25"/><circle cx="170.6" cy="652.3" r="1.25"/><circle cx="173.9" cy="651.1" r="1.25"/><circle cx="166.9" cy="642.5" r="1.25"/><circle cx="167.4" cy="642.8" r="1.25"/><circle cx="176.0" cy="652.6" r="1.25"/><circle cx="174.0" cy="651.5" r="1.25"/><circle cx="169.5" cy="647.9" r="1.25"/><circle cx="179.1" cy="641.6" r="1.25"/><circle cx="175.9" cy="647.3" r="1.25"/><circle cx="178.7" cy="645.7" r="1.25"/><circle cx="174.5" cy="651.9" r="1.25"/><circle cx="172.9" cy="651.7" r="1.25"/><circle cx="178.3" cy="636.0" r="1.25"/><circle cx="172.8" cy="652.5" r="1.25"/><circle cx="174.0" cy="649.5" r="1.25"/><circle cx="173.7" cy="649.9" r="1.25"/><circle cx="175.8" cy="642.9" r="1.25"/><circle cx="173.8" cy="649.1" r="1.25"/><circle cx="175.7" cy="647.4" r="1.25"/><circle cx="176.6" cy="645.7" r="1.25"/><circle cx="177.0" cy="639.0" r="1.25"/><circle cx="178.1" cy="635.0" r="1.25"/><circle cx="174.9" cy="648.0" r="1.25"/><circle cx="168.8" cy="646.4" r="1.25"/><circle cx="178.0" cy="643.0" r="1.25"/><circle cx="167.6" cy="642.1" r="1.25"/><circle cx="178.3" cy="645.6" r="1.25"/><circle cx="166.5" cy="648.7" r="1.25"/><circle cx="172.8" cy="651.9" r="1.25"/><circle cx="168.1" cy="643.6" r="1.25"/><circle cx="165.1" cy="644.5" r="1.25"/><circle cx="172.7" cy="652.1" r="1.25"/><circle cx="171.9" cy="653.3" r="1.25"/><circle cx="169.9" cy="650.3" r="1.25"/><circle cx="172.3" cy="653.4" r="1.25"/><circle cx="167.4" cy="646.0" r="1.25"/><circle cx="174.4" cy="651.0" r="1.25"/><circle cx="168.1" cy="641.9" r="1.25"/><circle cx="174.3" cy="649.8" r="1.25"/><circle cx="176.3" cy="642.8" r="1.25"/><circle cx="176.8" cy="642.9" r="1.25"/><circle cx="173.8" cy="652.3" r="1.25"/><circle cx="170.9" cy="652.0" r="1.25"/><circle cx="168.3" cy="647.5" r="1.25"/><circle cx="177.9" cy="645.8" r="1.25"/><circle cx="166.1" cy="643.6" r="1.25"/><circle cx="166.9" cy="651.8" r="1.25"/><circle cx="178.3" cy="639.2" r="1.25"/><circle cx="164.8" cy="636.9" r="1.25"/><circle cx="167.0" cy="643.5" r="1.25"/><circle cx="178.8" cy="631.4" r="1.25"/><circle cx="170.4" cy="650.1" r="1.25"/><circle cx="171.9" cy="653.4" r="1.25"/><circle cx="170.5" cy="650.1" r="1.25"/><circle cx="176.3" cy="643.0" r="1.25"/><circle cx="179.5" cy="639.4" r="1.25"/><circle cx="175.1" cy="645.7" r="1.25"/><circle cx="178.5" cy="634.0" r="1.25"/><circle cx="177.7" cy="643.9" r="1.25"/><circle cx="170.1" cy="649.9" r="1.25"/><circle cx="166.2" cy="644.3" r="1.25"/><circle cx="170.0" cy="651.4" r="1.25"/><circle cx="167.2" cy="642.0" r="1.25"/><circle cx="169.1" cy="652.0" r="1.25"/><circle cx="176.6" cy="640.0" r="1.25"/><circle cx="167.8" cy="643.4" r="1.25"/><circle cx="165.6" cy="645.1" r="1.25"/><circle cx="166.9" cy="641.2" r="1.25"/><circle cx="172.9" cy="651.6" r="1.25"/><circle cx="174.4" cy="647.9" r="1.25"/><circle cx="177.7" cy="640.2" r="1.25"/><circle cx="167.8" cy="649.2" r="1.25"/><circle cx="177.5" cy="638.2" r="1.25"/><circle cx="174.2" cy="647.7" r="1.25"/><circle cx="176.7" cy="645.0" r="1.25"/><circle cx="167.2" cy="644.6" r="1.25"/><circle cx="178.4" cy="634.1" r="1.25"/><circle cx="164.4" cy="652.1" r="1.25"/><circle cx="171.2" cy="651.7" r="1.25"/><circle cx="203.6" cy="653.3" r="1.25"/><circle cx="141.8" cy="653.5" r="1.25"/><circle cx="175.7" cy="653.7" r="1.25"/><circle cx="147.5" cy="654.6" r="1.25"/><circle cx="198.3" cy="654.5" r="1.25"/><circle cx="175.0" cy="654.3" r="1.25"/><circle cx="186.0" cy="654.0" r="1.25"/><circle cx="160.2" cy="654.7" r="1.25"/><circle cx="188.4" cy="654.7" r="1.25"/><circle cx="190.0" cy="653.4" r="1.25"/><circle cx="177.7" cy="653.6" r="1.25"/><circle cx="134.3" cy="654.7" r="1.25"/><circle cx="174.3" cy="654.7" r="1.25"/><circle cx="160.0" cy="654.5" r="1.25"/><circle cx="166.5" cy="654.4" r="1.25"/><circle cx="172.7" cy="654.1" r="1.25"/><circle cx="171.7" cy="653.9" r="1.25"/><circle cx="162.7" cy="654.4" r="1.25"/><circle cx="170.1" cy="653.7" r="1.25"/><circle cx="158.0" cy="653.9" r="1.25"/><circle cx="105.0" cy="654.6" r="1.25"/><circle cx="189.6" cy="653.2" r="1.25"/><circle cx="162.8" cy="654.5" r="1.25"/><circle cx="163.6" cy="654.0" r="1.25"/><circle cx="212.2" cy="654.6" r="1.25"/><circle cx="141.9" cy="653.5" r="1.25"/><circle cx="208.4" cy="653.9" r="1.25"/><circle cx="187.5" cy="654.4" r="1.25"/><circle cx="149.8" cy="654.3" r="1.25"/><circle cx="180.4" cy="653.8" r="1.25"/><circle cx="148.9" cy="654.2" r="1.25"/><circle cx="172.5" cy="653.3" r="1.25"/><circle cx="142.6" cy="654.2" r="1.25"/><circle cx="179.1" cy="654.6" r="1.25"/><circle cx="131.6" cy="654.3" r="1.25"/><circle cx="214.4" cy="653.8" r="1.25"/><circle cx="151.9" cy="654.2" r="1.25"/><circle cx="163.8" cy="653.2" r="1.25"/><circle cx="189.3" cy="653.2" r="1.25"/><circle cx="159.0" cy="653.3" r="1.25"/><circle cx="162.5" cy="654.5" r="1.25"/><circle cx="187.2" cy="653.8" r="1.25"/><circle cx="188.0" cy="653.7" r="1.25"/><circle cx="162.7" cy="654.6" r="1.25"/><circle cx="206.0" cy="653.4" r="1.25"/><circle cx="130.2" cy="653.3" r="1.25"/><circle cx="164.9" cy="653.4" r="1.25"/><circle cx="152.4" cy="653.3" r="1.25"/><circle cx="163.3" cy="654.2" r="1.25"/><circle cx="189.7" cy="654.7" r="1.25"/><circle cx="191.9" cy="654.1" r="1.25"/><circle cx="207.6" cy="654.5" r="1.25"/><circle cx="223.0" cy="653.4" r="1.25"/><circle cx="169.4" cy="654.3" r="1.25"/><circle cx="175.4" cy="653.2" r="1.25"/><circle cx="149.8" cy="654.3" r="1.25"/><circle cx="145.1" cy="654.3" r="1.25"/><circle cx="144.1" cy="654.3" r="1.25"/><circle cx="224.6" cy="654.6" r="1.25"/><circle cx="186.7" cy="653.7" r="1.25"/><circle cx="184.0" cy="653.8" r="1.25"/><circle cx="119.2" cy="653.7" r="1.25"/><circle cx="140.0" cy="653.8" r="1.25"/><circle cx="148.1" cy="654.2" r="1.25"/><circle cx="193.3" cy="654.6" r="1.25"/><circle cx="165.7" cy="653.4" r="1.25"/><circle cx="135.8" cy="653.8" r="1.25"/><circle cx="147.9" cy="653.6" r="1.25"/><circle cx="168.2" cy="653.8" r="1.25"/><circle cx="193.5" cy="653.8" r="1.25"/><circle cx="173.1" cy="653.5" r="1.25"/><circle cx="202.8" cy="653.6" r="1.25"/><circle cx="122.8" cy="653.6" r="1.25"/><circle cx="182.9" cy="653.5" r="1.25"/><circle cx="176.7" cy="653.4" r="1.25"/><circle cx="142.0" cy="654.7" r="1.25"/><circle cx="181.9" cy="653.6" r="1.25"/><circle cx="202.9" cy="654.4" r="1.25"/><circle cx="149.9" cy="654.4" r="1.25"/><circle cx="195.6" cy="654.3" r="1.25"/><circle cx="164.8" cy="654.1" r="1.25"/><circle cx="190.0" cy="654.0" r="1.25"/><circle cx="170.1" cy="653.3" r="1.25"/><circle cx="163.6" cy="653.2" r="1.25"/><circle cx="176.8" cy="654.3" r="1.25"/><circle cx="158.6" cy="653.9" r="1.25"/><circle cx="203.3" cy="654.5" r="1.25"/><circle cx="162.8" cy="653.4" r="1.25"/><circle cx="189.7" cy="653.3" r="1.25"/><circle cx="158.1" cy="654.5" r="1.25"/><circle cx="175.4" cy="653.2" r="1.25"/><circle cx="205.2" cy="653.9" r="1.25"/><circle cx="147.5" cy="654.4" r="1.25"/><circle cx="177.4" cy="653.6" r="1.25"/><circle cx="183.5" cy="654.7" r="1.25"/><circle cx="164.8" cy="653.6" r="1.25"/><circle cx="148.9" cy="654.2" r="1.25"/><circle cx="124.3" cy="654.5" r="1.25"/><circle cx="223.1" cy="653.3" r="1.25"/><circle cx="203.2" cy="654.2" r="1.25"/><circle cx="189.6" cy="654.3" r="1.25"/><circle cx="137.0" cy="654.1" r="1.25"/><circle cx="188.3" cy="654.6" r="1.25"/><circle cx="170.7" cy="654.4" r="1.25"/><circle cx="181.2" cy="653.9" r="1.25"/><circle cx="195.9" cy="653.4" r="1.25"/><circle cx="199.1" cy="654.3" r="1.25"/><circle cx="135.9" cy="653.3" r="1.25"/><circle cx="165.4" cy="654.3" r="1.25"/><circle cx="119.8" cy="654.6" r="1.25"/><circle cx="206.7" cy="654.3" r="1.25"/><circle cx="163.1" cy="653.7" r="1.25"/><circle cx="174.7" cy="653.6" r="1.25"/><circle cx="152.3" cy="653.7" r="1.25"/><circle cx="169.7" cy="653.4" r="1.25"/><circle cx="178.0" cy="653.6" r="1.25"/><circle cx="173.0" cy="654.3" r="1.25"/><circle cx="176.5" cy="654.4" r="1.25"/><circle cx="154.0" cy="654.5" r="1.25"/><circle cx="203.5" cy="653.2" r="1.25"/><circle cx="144.5" cy="653.5" r="1.25"/><circle cx="158.4" cy="654.6" r="1.25"/><circle cx="181.6" cy="654.0" r="1.25"/><circle cx="145.2" cy="654.4" r="1.25"/><circle cx="215.9" cy="654.0" r="1.25"/><circle cx="188.4" cy="653.7" r="1.25"/><circle cx="170.2" cy="653.4" r="1.25"/><circle cx="200.6" cy="654.4" r="1.25"/><circle cx="130.9" cy="654.6" r="1.25"/><circle cx="198.6" cy="654.4" r="1.25"/><circle cx="185.3" cy="654.1" r="1.25"/><circle cx="182.8" cy="654.6" r="1.25"/><circle cx="156.7" cy="654.4" r="1.25"/><circle cx="156.6" cy="653.9" r="1.25"/><circle cx="150.6" cy="654.6" r="1.25"/><circle cx="158.5" cy="654.1" r="1.25"/><circle cx="197.6" cy="653.8" r="1.25"/><circle cx="192.7" cy="653.5" r="1.25"/><circle cx="154.0" cy="654.6" r="1.25"/><circle cx="172.5" cy="653.5" r="1.25"/><circle cx="169.7" cy="653.7" r="1.25"/><circle cx="171.3" cy="654.2" r="1.25"/><circle cx="138.2" cy="654.1" r="1.25"/><circle cx="172.0" cy="654.1" r="1.25"/><circle cx="169.8" cy="654.2" r="1.25"/><circle cx="224.1" cy="653.2" r="1.25"/><circle cx="179.1" cy="653.8" r="1.25"/><circle cx="160.0" cy="654.2" r="1.25"/><circle cx="183.2" cy="653.6" r="1.25"/><circle cx="163.6" cy="654.0" r="1.25"/><circle cx="161.3" cy="654.3" r="1.25"/><circle cx="148.7" cy="654.7" r="1.25"/><circle cx="193.4" cy="654.4" r="1.25"/><circle cx="181.4" cy="654.4" r="1.25"/><circle cx="192.0" cy="653.6" r="1.25"/><circle cx="166.2" cy="654.2" r="1.25"/><circle cx="191.3" cy="654.0" r="1.25"/><circle cx="135.7" cy="653.4" r="1.25"/><circle cx="166.5" cy="653.2" r="1.25"/><circle cx="155.2" cy="653.2" r="1.25"/><circle cx="160.0" cy="654.0" r="1.25"/><circle cx="190.7" cy="653.9" r="1.25"/><circle cx="139.6" cy="653.5" r="1.25"/><circle cx="169.5" cy="654.4" r="1.25"/><circle cx="151.9" cy="654.0" r="1.25"/><circle cx="135.2" cy="654.0" r="1.25"/><circle cx="189.5" cy="653.6" r="1.25"/><circle cx="143.2" cy="654.5" r="1.25"/><circle cx="178.6" cy="654.4" r="1.25"/><circle cx="189.2" cy="653.9" r="1.25"/><circle cx="200.3" cy="654.1" r="1.25"/><circle cx="212.1" cy="653.2" r="1.25"/><circle cx="160.2" cy="653.6" r="1.25"/><circle cx="189.4" cy="654.3" r="1.25"/><circle cx="173.3" cy="654.5" r="1.25"/><circle cx="181.5" cy="654.1" r="1.25"/><circle cx="124.7" cy="654.2" r="1.25"/><circle cx="179.0" cy="654.5" r="1.25"/><circle cx="162.1" cy="653.7" r="1.25"/><circle cx="188.8" cy="653.9" r="1.25"/><circle cx="158.5" cy="654.0" r="1.25"/><circle cx="164.9" cy="654.6" r="1.25"/><circle cx="172.0" cy="653.9" r="1.25"/><circle cx="169.8" cy="654.1" r="1.25"/><circle cx="238.7" cy="654.4" r="1.25"/><circle cx="195.6" cy="654.0" r="1.25"/><circle cx="139.5" cy="653.8" r="1.25"/><circle cx="168.5" cy="654.1" r="1.25"/><circle cx="150.9" cy="653.9" r="1.25"/><circle cx="171.1" cy="653.3" r="1.25"/><circle cx="159.1" cy="653.6" r="1.25"/><circle cx="161.1" cy="653.4" r="1.25"/><circle cx="172.0" cy="654.1" r="1.25"/><circle cx="146.7" cy="654.0" r="1.25"/><circle cx="153.5" cy="653.6" r="1.25"/><circle cx="160.7" cy="654.4" r="1.25"/><circle cx="169.9" cy="653.4" r="1.25"/><circle cx="158.9" cy="653.7" r="1.25"/><circle cx="177.5" cy="653.5" r="1.25"/><circle cx="153.0" cy="653.8" r="1.25"/><circle cx="139.7" cy="653.7" r="1.25"/><circle cx="172.0" cy="653.8" r="1.25"/><circle cx="210.5" cy="653.5" r="1.25"/><circle cx="168.1" cy="654.0" r="1.25"/><circle cx="209.1" cy="653.6" r="1.25"/><circle cx="224.5" cy="654.6" r="1.25"/><circle cx="175.4" cy="653.7" r="1.25"/><circle cx="188.0" cy="653.7" r="1.25"/><circle cx="159.2" cy="653.8" r="1.25"/><circle cx="191.1" cy="653.4" r="1.25"/><circle cx="147.5" cy="653.5" r="1.25"/><circle cx="146.7" cy="653.4" r="1.25"/><circle cx="186.2" cy="654.0" r="1.25"/><circle cx="175.2" cy="654.1" r="1.25"/><circle cx="211.4" cy="653.4" r="1.25"/><circle cx="156.1" cy="653.6" r="1.25"/><circle cx="174.9" cy="653.2" r="1.25"/><circle cx="180.2" cy="654.0" r="1.25"/><circle cx="232.8" cy="653.2" r="1.25"/><circle cx="154.4" cy="653.6" r="1.25"/><circle cx="144.9" cy="653.4" r="1.25"/><circle cx="208.5" cy="653.9" r="1.25"/><circle cx="200.1" cy="653.5" r="1.25"/><circle cx="143.4" cy="654.0" r="1.25"/><circle cx="167.0" cy="654.5" r="1.25"/><circle cx="161.3" cy="654.2" r="1.25"/><circle cx="158.1" cy="653.3" r="1.25"/><circle cx="187.4" cy="654.6" r="1.25"/><circle cx="182.9" cy="654.2" r="1.25"/><circle cx="200.5" cy="654.1" r="1.25"/><circle cx="177.3" cy="654.2" r="1.25"/><circle cx="154.4" cy="653.5" r="1.25"/><circle cx="162.1" cy="653.9" r="1.25"/><circle cx="134.9" cy="654.3" r="1.25"/><circle cx="170.2" cy="653.5" r="1.25"/><circle cx="168.4" cy="653.5" r="1.25"/><circle cx="156.4" cy="653.5" r="1.25"/><circle cx="131.7" cy="654.6" r="1.25"/><circle cx="180.0" cy="654.5" r="1.25"/><circle cx="194.9" cy="653.6" r="1.25"/></g>
<g fill="#2f86d0" fill-opacity="0.7"><circle cx="164.2" cy="624.5" r="1.85"/><circle cx="159.4" cy="648.3" r="1.85"/><circle cx="164.0" cy="637.6" r="1.85"/><circle cx="162.3" cy="643.4" r="1.85"/><circle cx="164.3" cy="651.6" r="1.85"/><circle cx="161.2" cy="614.3" r="1.85"/><circle cx="163.1" cy="637.5" r="1.85"/><circle cx="162.5" cy="649.2" r="1.85"/><circle cx="164.1" cy="608.2" r="1.85"/><circle cx="161.9" cy="643.8" r="1.85"/><circle cx="161.1" cy="600.5" r="1.85"/><circle cx="161.1" cy="609.5" r="1.85"/><circle cx="157.0" cy="644.9" r="1.85"/><circle cx="164.3" cy="651.8" r="1.85"/><circle cx="164.2" cy="652.0" r="1.85"/><circle cx="160.1" cy="644.5" r="1.85"/><circle cx="161.7" cy="629.9" r="1.85"/><circle cx="163.4" cy="646.6" r="1.85"/><circle cx="163.3" cy="644.4" r="1.85"/><circle cx="161.6" cy="642.7" r="1.85"/><circle cx="157.3" cy="652.0" r="1.85"/><circle cx="158.8" cy="651.3" r="1.85"/><circle cx="155.7" cy="652.8" r="1.85"/><circle cx="163.0" cy="647.5" r="1.85"/><circle cx="164.1" cy="631.6" r="1.85"/><circle cx="158.9" cy="639.6" r="1.85"/><circle cx="164.3" cy="643.6" r="1.85"/><circle cx="158.8" cy="651.0" r="1.85"/><circle cx="161.1" cy="650.1" r="1.85"/><circle cx="160.4" cy="638.3" r="1.85"/><circle cx="162.3" cy="638.0" r="1.85"/><circle cx="160.9" cy="629.4" r="1.85"/><circle cx="164.1" cy="649.6" r="1.85"/><circle cx="162.1" cy="640.3" r="1.85"/><circle cx="163.4" cy="637.2" r="1.85"/><circle cx="161.9" cy="590.0" r="1.85"/><circle cx="163.9" cy="645.3" r="1.85"/><circle cx="163.5" cy="650.4" r="1.85"/><circle cx="162.9" cy="636.3" r="1.85"/><circle cx="163.3" cy="628.6" r="1.85"/><circle cx="154.9" cy="626.2" r="1.85"/><circle cx="160.1" cy="637.0" r="1.85"/><circle cx="162.7" cy="648.3" r="1.85"/><circle cx="163.0" cy="646.2" r="1.85"/><circle cx="163.3" cy="600.2" r="1.85"/><circle cx="160.8" cy="603.6" r="1.85"/><circle cx="162.8" cy="648.8" r="1.85"/><circle cx="162.7" cy="645.1" r="1.85"/><circle cx="161.6" cy="609.9" r="1.85"/><circle cx="162.0" cy="643.2" r="1.85"/><circle cx="164.0" cy="647.2" r="1.85"/><circle cx="159.9" cy="646.1" r="1.85"/><circle cx="164.3" cy="629.9" r="1.85"/><circle cx="160.5" cy="638.4" r="1.85"/><circle cx="156.0" cy="638.6" r="1.85"/><circle cx="163.9" cy="648.0" r="1.85"/><circle cx="164.3" cy="645.8" r="1.85"/><circle cx="162.8" cy="624.6" r="1.85"/><circle cx="162.5" cy="637.3" r="1.85"/><circle cx="163.1" cy="642.3" r="1.85"/><circle cx="158.9" cy="630.7" r="1.85"/><circle cx="162.7" cy="641.0" r="1.85"/><circle cx="155.8" cy="640.9" r="1.85"/><circle cx="164.3" cy="647.4" r="1.85"/><circle cx="159.1" cy="643.0" r="1.85"/><circle cx="163.2" cy="651.1" r="1.85"/><circle cx="161.7" cy="638.8" r="1.85"/><circle cx="160.6" cy="647.4" r="1.85"/><circle cx="161.1" cy="627.6" r="1.85"/><circle cx="164.0" cy="622.9" r="1.85"/><circle cx="162.9" cy="645.5" r="1.85"/><circle cx="162.9" cy="648.3" r="1.85"/><circle cx="160.7" cy="613.7" r="1.85"/><circle cx="161.2" cy="650.3" r="1.85"/><circle cx="163.6" cy="637.8" r="1.85"/><circle cx="164.0" cy="647.2" r="1.85"/><circle cx="160.8" cy="644.5" r="1.85"/><circle cx="163.4" cy="647.0" r="1.85"/><circle cx="154.5" cy="649.2" r="1.85"/><circle cx="162.8" cy="649.1" r="1.85"/><circle cx="162.5" cy="649.5" r="1.85"/><circle cx="158.9" cy="630.9" r="1.85"/><circle cx="157.2" cy="640.5" r="1.85"/><circle cx="161.2" cy="648.4" r="1.85"/><circle cx="163.5" cy="646.6" r="1.85"/><circle cx="163.7" cy="645.9" r="1.85"/><circle cx="163.9" cy="638.8" r="1.85"/><circle cx="160.8" cy="635.1" r="1.85"/><circle cx="161.5" cy="652.3" r="1.85"/><circle cx="161.8" cy="638.0" r="1.85"/><circle cx="164.0" cy="651.8" r="1.85"/><circle cx="162.8" cy="651.8" r="1.85"/><circle cx="163.9" cy="650.2" r="1.85"/><circle cx="161.5" cy="646.3" r="1.85"/><circle cx="162.7" cy="652.1" r="1.85"/><circle cx="162.9" cy="622.9" r="1.85"/><circle cx="162.0" cy="650.7" r="1.85"/><circle cx="164.1" cy="652.0" r="1.85"/><circle cx="162.1" cy="619.7" r="1.85"/><circle cx="163.7" cy="647.0" r="1.85"/><circle cx="162.9" cy="651.1" r="1.85"/><circle cx="156.6" cy="645.3" r="1.85"/><circle cx="163.0" cy="644.0" r="1.85"/><circle cx="163.4" cy="643.2" r="1.85"/><circle cx="163.0" cy="643.1" r="1.85"/><circle cx="163.1" cy="650.0" r="1.85"/><circle cx="164.1" cy="631.3" r="1.85"/><circle cx="157.3" cy="639.6" r="1.85"/><circle cx="162.7" cy="640.3" r="1.85"/><circle cx="160.9" cy="623.4" r="1.85"/><circle cx="164.3" cy="647.3" r="1.85"/><circle cx="162.8" cy="616.9" r="1.85"/><circle cx="164.3" cy="647.7" r="1.85"/><circle cx="160.8" cy="649.7" r="1.85"/><circle cx="163.9" cy="639.7" r="1.85"/><circle cx="160.2" cy="632.4" r="1.85"/><circle cx="161.8" cy="652.0" r="1.85"/><circle cx="163.1" cy="647.4" r="1.85"/><circle cx="162.3" cy="648.4" r="1.85"/><circle cx="155.7" cy="652.0" r="1.85"/><circle cx="152.7" cy="651.0" r="1.85"/><circle cx="163.5" cy="652.3" r="1.85"/><circle cx="142.4" cy="647.2" r="1.85"/><circle cx="164.0" cy="646.5" r="1.85"/><circle cx="164.2" cy="646.3" r="1.85"/><circle cx="161.4" cy="645.5" r="1.85"/><circle cx="161.1" cy="650.5" r="1.85"/><circle cx="148.7" cy="644.3" r="1.85"/><circle cx="158.3" cy="632.4" r="1.85"/><circle cx="164.2" cy="640.6" r="1.85"/><circle cx="135.8" cy="644.5" r="1.85"/><circle cx="162.0" cy="648.1" r="1.85"/><circle cx="150.2" cy="623.8" r="1.85"/><circle cx="162.0" cy="648.9" r="1.85"/><circle cx="152.4" cy="647.7" r="1.85"/><circle cx="125.4" cy="649.8" r="1.85"/><circle cx="139.0" cy="643.6" r="1.85"/><circle cx="120.1" cy="644.6" r="1.85"/><circle cx="154.6" cy="641.4" r="1.85"/><circle cx="132.3" cy="645.5" r="1.85"/><circle cx="152.8" cy="641.9" r="1.85"/><circle cx="160.3" cy="647.2" r="1.85"/><circle cx="154.8" cy="652.7" r="1.85"/><circle cx="159.7" cy="645.2" r="1.85"/><circle cx="161.7" cy="638.1" r="1.85"/><circle cx="162.8" cy="623.7" r="1.85"/><circle cx="161.6" cy="651.0" r="1.85"/><circle cx="140.0" cy="635.0" r="1.85"/><circle cx="160.7" cy="639.5" r="1.85"/><circle cx="151.7" cy="631.9" r="1.85"/><circle cx="160.6" cy="636.4" r="1.85"/><circle cx="164.2" cy="644.3" r="1.85"/><circle cx="162.5" cy="652.0" r="1.85"/><circle cx="157.8" cy="633.2" r="1.85"/><circle cx="128.1" cy="642.5" r="1.85"/><circle cx="161.4" cy="649.4" r="1.85"/><circle cx="163.5" cy="648.8" r="1.85"/><circle cx="153.2" cy="652.5" r="1.85"/><circle cx="161.9" cy="627.4" r="1.85"/><circle cx="159.1" cy="635.6" r="1.85"/><circle cx="156.8" cy="608.5" r="1.85"/><circle cx="156.2" cy="650.2" r="1.85"/><circle cx="156.3" cy="644.4" r="1.85"/><circle cx="132.8" cy="652.3" r="1.85"/><circle cx="144.7" cy="626.0" r="1.85"/><circle cx="156.2" cy="647.7" r="1.85"/><circle cx="156.1" cy="627.2" r="1.85"/><circle cx="163.3" cy="616.1" r="1.85"/><circle cx="149.1" cy="635.8" r="1.85"/><circle cx="145.6" cy="650.0" r="1.85"/><circle cx="158.1" cy="630.8" r="1.85"/><circle cx="138.5" cy="651.8" r="1.85"/><circle cx="160.4" cy="651.3" r="1.85"/><circle cx="163.0" cy="619.6" r="1.85"/><circle cx="134.7" cy="650.2" r="1.85"/><circle cx="162.0" cy="651.1" r="1.85"/><circle cx="144.7" cy="626.8" r="1.85"/><circle cx="159.4" cy="647.7" r="1.85"/><circle cx="163.8" cy="644.4" r="1.85"/><circle cx="160.7" cy="599.1" r="1.85"/><circle cx="144.6" cy="650.4" r="1.85"/><circle cx="156.5" cy="625.2" r="1.85"/><circle cx="147.1" cy="644.4" r="1.85"/><circle cx="159.9" cy="638.5" r="1.85"/><circle cx="152.0" cy="648.6" r="1.85"/><circle cx="163.9" cy="650.9" r="1.85"/><circle cx="163.0" cy="619.3" r="1.85"/><circle cx="161.5" cy="625.2" r="1.85"/><circle cx="159.8" cy="650.1" r="1.85"/><circle cx="150.9" cy="645.6" r="1.85"/><circle cx="149.8" cy="650.6" r="1.85"/><circle cx="161.7" cy="644.5" r="1.85"/><circle cx="162.5" cy="640.9" r="1.85"/><circle cx="160.7" cy="646.1" r="1.85"/><circle cx="145.5" cy="651.6" r="1.85"/><circle cx="156.1" cy="633.8" r="1.85"/><circle cx="159.9" cy="651.7" r="1.85"/><circle cx="156.0" cy="629.4" r="1.85"/><circle cx="154.6" cy="649.6" r="1.85"/><circle cx="145.2" cy="651.5" r="1.85"/><circle cx="159.4" cy="651.8" r="1.85"/><circle cx="154.5" cy="652.7" r="1.85"/><circle cx="150.2" cy="641.7" r="1.85"/><circle cx="146.2" cy="632.5" r="1.85"/><circle cx="138.7" cy="646.2" r="1.85"/><circle cx="132.4" cy="650.2" r="1.85"/><circle cx="164.2" cy="632.3" r="1.85"/><circle cx="159.2" cy="636.0" r="1.85"/><circle cx="160.8" cy="651.9" r="1.85"/><circle cx="130.7" cy="649.7" r="1.85"/><circle cx="154.2" cy="630.0" r="1.85"/><circle cx="158.3" cy="648.2" r="1.85"/><circle cx="162.7" cy="650.6" r="1.85"/><circle cx="146.6" cy="646.1" r="1.85"/><circle cx="148.7" cy="633.8" r="1.85"/><circle cx="156.0" cy="628.2" r="1.85"/><circle cx="152.4" cy="637.2" r="1.85"/><circle cx="143.9" cy="640.9" r="1.85"/><circle cx="163.6" cy="652.2" r="1.85"/><circle cx="153.6" cy="650.5" r="1.85"/><circle cx="163.1" cy="646.4" r="1.85"/><circle cx="150.9" cy="640.7" r="1.85"/><circle cx="122.3" cy="648.4" r="1.85"/><circle cx="156.2" cy="649.7" r="1.85"/><circle cx="162.0" cy="605.9" r="1.85"/><circle cx="163.1" cy="650.8" r="1.85"/><circle cx="148.0" cy="647.9" r="1.85"/><circle cx="149.0" cy="648.0" r="1.85"/><circle cx="153.1" cy="641.2" r="1.85"/><circle cx="163.4" cy="637.1" r="1.85"/><circle cx="152.7" cy="624.7" r="1.85"/><circle cx="141.4" cy="636.0" r="1.85"/><circle cx="161.5" cy="630.9" r="1.85"/><circle cx="145.2" cy="647.3" r="1.85"/><circle cx="141.1" cy="644.7" r="1.85"/><circle cx="143.6" cy="646.6" r="1.85"/><circle cx="156.8" cy="647.9" r="1.85"/><circle cx="156.0" cy="641.4" r="1.85"/><circle cx="153.7" cy="648.0" r="1.85"/><circle cx="157.1" cy="647.7" r="1.85"/><circle cx="149.2" cy="647.7" r="1.85"/><circle cx="154.0" cy="651.6" r="1.85"/><circle cx="158.1" cy="640.8" r="1.85"/><circle cx="160.5" cy="634.8" r="1.85"/><circle cx="154.1" cy="646.1" r="1.85"/><circle cx="151.1" cy="648.6" r="1.85"/><circle cx="139.5" cy="626.0" r="1.85"/><circle cx="127.7" cy="651.9" r="1.85"/><circle cx="154.5" cy="641.6" r="1.85"/><circle cx="157.7" cy="650.7" r="1.85"/><circle cx="161.4" cy="652.5" r="1.85"/><circle cx="123.0" cy="650.3" r="1.85"/><circle cx="158.4" cy="652.1" r="1.85"/><circle cx="146.9" cy="651.5" r="1.85"/><circle cx="123.1" cy="651.5" r="1.85"/><circle cx="142.7" cy="652.4" r="1.85"/><circle cx="150.9" cy="648.5" r="1.85"/><circle cx="150.9" cy="652.0" r="1.85"/><circle cx="149.5" cy="651.7" r="1.85"/><circle cx="152.7" cy="652.7" r="1.85"/><circle cx="130.3" cy="650.9" r="1.85"/><circle cx="158.0" cy="651.8" r="1.85"/><circle cx="151.5" cy="652.1" r="1.85"/><circle cx="163.0" cy="651.6" r="1.85"/><circle cx="149.9" cy="652.5" r="1.85"/><circle cx="159.6" cy="651.5" r="1.85"/><circle cx="151.4" cy="652.0" r="1.85"/><circle cx="155.0" cy="652.5" r="1.85"/><circle cx="144.3" cy="649.7" r="1.85"/><circle cx="122.7" cy="651.3" r="1.85"/><circle cx="157.1" cy="650.6" r="1.85"/><circle cx="142.2" cy="652.7" r="1.85"/><circle cx="129.3" cy="651.8" r="1.85"/><circle cx="156.9" cy="651.7" r="1.85"/><circle cx="126.8" cy="652.3" r="1.85"/><circle cx="158.4" cy="652.5" r="1.85"/><circle cx="121.0" cy="650.7" r="1.85"/><circle cx="161.9" cy="652.5" r="1.85"/><circle cx="157.6" cy="650.8" r="1.85"/><circle cx="145.1" cy="651.3" r="1.85"/><circle cx="150.0" cy="652.0" r="1.85"/><circle cx="152.7" cy="652.3" r="1.85"/><circle cx="142.7" cy="652.5" r="1.85"/><circle cx="148.4" cy="650.7" r="1.85"/><circle cx="158.9" cy="652.6" r="1.85"/><circle cx="163.3" cy="651.9" r="1.85"/><circle cx="149.6" cy="651.7" r="1.85"/><circle cx="160.6" cy="652.0" r="1.85"/><circle cx="161.7" cy="651.7" r="1.85"/><circle cx="146.6" cy="652.3" r="1.85"/><circle cx="156.1" cy="652.6" r="1.85"/><circle cx="147.4" cy="652.1" r="1.85"/><circle cx="140.4" cy="652.3" r="1.85"/><circle cx="158.1" cy="652.0" r="1.85"/><circle cx="153.1" cy="652.3" r="1.85"/><circle cx="133.3" cy="652.6" r="1.85"/><circle cx="157.5" cy="651.8" r="1.85"/><circle cx="159.4" cy="652.6" r="1.85"/><circle cx="155.6" cy="652.4" r="1.85"/><circle cx="162.3" cy="652.6" r="1.85"/><circle cx="153.0" cy="651.1" r="1.85"/><circle cx="162.1" cy="652.0" r="1.85"/><circle cx="152.8" cy="651.7" r="1.85"/><circle cx="155.5" cy="652.3" r="1.85"/><circle cx="157.8" cy="650.5" r="1.85"/><circle cx="140.6" cy="652.1" r="1.85"/><circle cx="139.1" cy="652.1" r="1.85"/><circle cx="156.4" cy="651.7" r="1.85"/><circle cx="157.6" cy="652.4" r="1.85"/><circle cx="146.3" cy="651.1" r="1.85"/><circle cx="156.0" cy="652.6" r="1.85"/><circle cx="157.0" cy="651.2" r="1.85"/><circle cx="122.9" cy="652.7" r="1.85"/><circle cx="133.9" cy="650.4" r="1.85"/><circle cx="158.4" cy="651.9" r="1.85"/><circle cx="156.4" cy="652.8" r="1.85"/><circle cx="155.9" cy="652.4" r="1.85"/><circle cx="163.3" cy="649.3" r="1.85"/><circle cx="135.5" cy="652.5" r="1.85"/><circle cx="163.7" cy="651.1" r="1.85"/><circle cx="157.1" cy="650.9" r="1.85"/><circle cx="146.8" cy="651.9" r="1.85"/><circle cx="161.1" cy="651.3" r="1.85"/><circle cx="162.4" cy="652.4" r="1.85"/><circle cx="123.3" cy="652.0" r="1.85"/><circle cx="129.6" cy="648.7" r="1.85"/><circle cx="155.9" cy="651.4" r="1.85"/><circle cx="126.8" cy="652.2" r="1.85"/><circle cx="133.7" cy="652.1" r="1.85"/><circle cx="163.8" cy="652.0" r="1.85"/><circle cx="142.0" cy="651.9" r="1.85"/><circle cx="122.3" cy="651.8" r="1.85"/><circle cx="159.4" cy="651.1" r="1.85"/><circle cx="154.0" cy="651.8" r="1.85"/><circle cx="138.0" cy="652.4" r="1.85"/><circle cx="152.6" cy="649.9" r="1.85"/><circle cx="156.9" cy="650.3" r="1.85"/><circle cx="155.5" cy="651.7" r="1.85"/><circle cx="130.8" cy="652.6" r="1.85"/><circle cx="159.6" cy="650.8" r="1.85"/><circle cx="130.2" cy="651.6" r="1.85"/><circle cx="164.0" cy="652.3" r="1.85"/><circle cx="158.8" cy="651.0" r="1.85"/><circle cx="160.3" cy="652.3" r="1.85"/><circle cx="146.5" cy="650.6" r="1.85"/><circle cx="78.3" cy="521.7" r="1.85"/><circle cx="108.9" cy="521.7" r="1.85"/><circle cx="126.4" cy="521.7" r="1.85"/><circle cx="138.2" cy="521.7" r="1.85"/><circle cx="144.2" cy="521.7" r="1.85"/><circle cx="153.7" cy="521.7" r="1.85"/><circle cx="155.0" cy="521.7" r="1.85"/><circle cx="139.6" cy="533.0" r="1.85"/><circle cx="148.5" cy="538.5" r="1.85"/><circle cx="155.5" cy="540.3" r="1.85"/><circle cx="146.7" cy="548.4" r="1.85"/><circle cx="151.5" cy="562.0" r="1.85"/><circle cx="158.4" cy="569.0" r="1.85"/><circle cx="151.1" cy="574.5" r="1.85"/><circle cx="152.7" cy="577.1" r="1.85"/><circle cx="141.8" cy="584.0" r="1.85"/><circle cx="128.7" cy="587.4" r="1.85"/><circle cx="154.0" cy="577.3" r="1.85"/><circle cx="143.2" cy="594.5" r="1.85"/><circle cx="141.2" cy="595.5" r="1.85"/><circle cx="106.2" cy="603.4" r="1.85"/><circle cx="140.0" cy="605.4" r="1.85"/><circle cx="147.7" cy="605.4" r="1.85"/><circle cx="153.1" cy="599.8" r="1.85"/><circle cx="157.0" cy="598.5" r="1.85"/><circle cx="135.7" cy="609.1" r="1.85"/><circle cx="79.9" cy="618.8" r="1.85"/><circle cx="105.0" cy="624.8" r="1.85"/><circle cx="131.9" cy="618.2" r="1.85"/><circle cx="146.2" cy="615.7" r="1.85"/><circle cx="151.0" cy="617.0" r="1.85"/><circle cx="127.4" cy="625.6" r="1.85"/><circle cx="136.3" cy="627.5" r="1.85"/><circle cx="149.5" cy="623.6" r="1.85"/><circle cx="117.5" cy="634.5" r="1.85"/><circle cx="117.5" cy="638.8" r="1.85"/><circle cx="116.5" cy="643.8" r="1.85"/><circle cx="119.8" cy="643.8" r="1.85"/><circle cx="114.9" cy="649.9" r="1.85"/><circle cx="109.9" cy="652.9" r="1.85"/><circle cx="125.0" cy="648.7" r="1.85"/><circle cx="133.3" cy="647.3" r="1.85"/></g>
<g fill="#f1c038" fill-opacity="0.62"><circle cx="180.3" cy="651.9" r="1.85"/><circle cx="180.3" cy="635.3" r="1.85"/><circle cx="182.0" cy="643.9" r="1.85"/><circle cx="179.9" cy="648.0" r="1.85"/><circle cx="179.8" cy="647.6" r="1.85"/><circle cx="180.5" cy="632.0" r="1.85"/><circle cx="181.0" cy="652.2" r="1.85"/><circle cx="181.0" cy="639.9" r="1.85"/><circle cx="179.7" cy="652.6" r="1.85"/><circle cx="180.8" cy="642.5" r="1.85"/><circle cx="182.5" cy="650.3" r="1.85"/><circle cx="181.8" cy="632.6" r="1.85"/><circle cx="180.5" cy="650.5" r="1.85"/><circle cx="180.8" cy="629.6" r="1.85"/><circle cx="179.7" cy="640.1" r="1.85"/><circle cx="184.4" cy="642.5" r="1.85"/><circle cx="183.9" cy="628.8" r="1.85"/><circle cx="180.6" cy="647.6" r="1.85"/><circle cx="180.9" cy="645.1" r="1.85"/><circle cx="180.8" cy="641.2" r="1.85"/><circle cx="188.0" cy="621.6" r="1.85"/><circle cx="182.3" cy="646.2" r="1.85"/><circle cx="187.2" cy="625.4" r="1.85"/><circle cx="180.5" cy="645.9" r="1.85"/><circle cx="181.2" cy="652.7" r="1.85"/><circle cx="181.1" cy="651.7" r="1.85"/><circle cx="180.5" cy="629.5" r="1.85"/><circle cx="186.4" cy="644.6" r="1.85"/><circle cx="183.4" cy="645.9" r="1.85"/><circle cx="180.5" cy="615.0" r="1.85"/><circle cx="182.9" cy="649.9" r="1.85"/><circle cx="180.3" cy="645.1" r="1.85"/><circle cx="182.1" cy="649.0" r="1.85"/><circle cx="182.2" cy="648.0" r="1.85"/><circle cx="180.4" cy="649.2" r="1.85"/><circle cx="183.5" cy="648.7" r="1.85"/><circle cx="180.1" cy="650.9" r="1.85"/><circle cx="182.3" cy="652.2" r="1.85"/><circle cx="180.4" cy="628.0" r="1.85"/><circle cx="181.1" cy="639.3" r="1.85"/><circle cx="183.9" cy="645.9" r="1.85"/><circle cx="182.6" cy="642.3" r="1.85"/><circle cx="181.5" cy="651.0" r="1.85"/><circle cx="180.5" cy="633.3" r="1.85"/><circle cx="180.4" cy="649.1" r="1.85"/><circle cx="180.6" cy="651.1" r="1.85"/><circle cx="179.7" cy="649.8" r="1.85"/><circle cx="180.8" cy="646.4" r="1.85"/><circle cx="183.0" cy="644.4" r="1.85"/><circle cx="181.0" cy="627.4" r="1.85"/><circle cx="180.7" cy="647.3" r="1.85"/><circle cx="184.8" cy="647.6" r="1.85"/><circle cx="182.5" cy="647.9" r="1.85"/><circle cx="193.0" cy="649.0" r="1.85"/><circle cx="183.7" cy="650.1" r="1.85"/><circle cx="186.8" cy="652.3" r="1.85"/><circle cx="194.6" cy="651.1" r="1.85"/><circle cx="182.6" cy="647.1" r="1.85"/><circle cx="186.6" cy="646.7" r="1.85"/><circle cx="188.5" cy="644.6" r="1.85"/><circle cx="180.4" cy="646.4" r="1.85"/><circle cx="189.2" cy="644.0" r="1.85"/><circle cx="192.0" cy="648.3" r="1.85"/><circle cx="185.3" cy="638.1" r="1.85"/><circle cx="180.3" cy="650.5" r="1.85"/><circle cx="191.6" cy="648.7" r="1.85"/><circle cx="191.6" cy="651.6" r="1.85"/><circle cx="188.6" cy="650.3" r="1.85"/><circle cx="187.2" cy="641.9" r="1.85"/><circle cx="202.9" cy="649.2" r="1.85"/><circle cx="190.3" cy="648.7" r="1.85"/><circle cx="185.3" cy="652.4" r="1.85"/><circle cx="202.7" cy="637.6" r="1.85"/><circle cx="181.5" cy="634.8" r="1.85"/><circle cx="193.7" cy="650.0" r="1.85"/><circle cx="181.9" cy="630.6" r="1.85"/><circle cx="184.5" cy="651.7" r="1.85"/><circle cx="182.5" cy="649.5" r="1.85"/><circle cx="183.7" cy="652.4" r="1.85"/><circle cx="192.3" cy="632.9" r="1.85"/><circle cx="187.3" cy="637.9" r="1.85"/><circle cx="185.7" cy="646.2" r="1.85"/><circle cx="182.3" cy="649.7" r="1.85"/><circle cx="186.5" cy="652.1" r="1.85"/><circle cx="200.7" cy="652.6" r="1.85"/><circle cx="190.8" cy="647.6" r="1.85"/><circle cx="195.7" cy="644.1" r="1.85"/><circle cx="194.0" cy="634.8" r="1.85"/><circle cx="188.5" cy="642.9" r="1.85"/><circle cx="195.2" cy="651.5" r="1.85"/><circle cx="195.5" cy="646.0" r="1.85"/><circle cx="180.7" cy="631.7" r="1.85"/><circle cx="198.4" cy="630.0" r="1.85"/><circle cx="189.9" cy="652.4" r="1.85"/><circle cx="195.2" cy="635.9" r="1.85"/><circle cx="202.9" cy="651.9" r="1.85"/><circle cx="180.3" cy="639.0" r="1.85"/><circle cx="182.9" cy="631.0" r="1.85"/><circle cx="197.2" cy="652.3" r="1.85"/><circle cx="182.5" cy="651.5" r="1.85"/><circle cx="186.2" cy="637.6" r="1.85"/><circle cx="185.9" cy="640.5" r="1.85"/><circle cx="180.0" cy="637.9" r="1.85"/><circle cx="182.3" cy="650.8" r="1.85"/><circle cx="179.8" cy="640.2" r="1.85"/><circle cx="210.2" cy="646.1" r="1.85"/><circle cx="192.8" cy="642.2" r="1.85"/><circle cx="188.2" cy="651.5" r="1.85"/><circle cx="180.2" cy="652.2" r="1.85"/><circle cx="188.5" cy="649.7" r="1.85"/><circle cx="184.2" cy="651.5" r="1.85"/><circle cx="190.4" cy="651.3" r="1.85"/><circle cx="198.1" cy="651.8" r="1.85"/><circle cx="201.0" cy="651.0" r="1.85"/><circle cx="182.6" cy="650.9" r="1.85"/><circle cx="189.6" cy="652.7" r="1.85"/><circle cx="207.4" cy="648.6" r="1.85"/><circle cx="187.8" cy="651.1" r="1.85"/><circle cx="196.3" cy="651.1" r="1.85"/><circle cx="183.5" cy="652.1" r="1.85"/><circle cx="180.5" cy="650.3" r="1.85"/><circle cx="195.4" cy="652.4" r="1.85"/><circle cx="187.0" cy="651.8" r="1.85"/><circle cx="201.1" cy="652.4" r="1.85"/><circle cx="190.6" cy="652.6" r="1.85"/><circle cx="181.0" cy="652.5" r="1.85"/><circle cx="185.7" cy="652.0" r="1.85"/><circle cx="188.8" cy="652.2" r="1.85"/><circle cx="181.6" cy="651.6" r="1.85"/><circle cx="204.1" cy="652.5" r="1.85"/><circle cx="195.0" cy="650.5" r="1.85"/><circle cx="195.2" cy="651.0" r="1.85"/><circle cx="183.8" cy="651.0" r="1.85"/><circle cx="181.2" cy="651.9" r="1.85"/><circle cx="183.5" cy="651.9" r="1.85"/><circle cx="195.5" cy="650.9" r="1.85"/><circle cx="201.0" cy="651.2" r="1.85"/><circle cx="189.2" cy="652.5" r="1.85"/><circle cx="197.2" cy="652.4" r="1.85"/><circle cx="185.7" cy="652.3" r="1.85"/><circle cx="183.2" cy="650.7" r="1.85"/><circle cx="201.2" cy="650.3" r="1.85"/><circle cx="189.0" cy="652.1" r="1.85"/><circle cx="195.4" cy="652.0" r="1.85"/><circle cx="180.2" cy="651.6" r="1.85"/><circle cx="183.6" cy="651.6" r="1.85"/><circle cx="180.7" cy="652.3" r="1.85"/><circle cx="180.1" cy="649.2" r="1.85"/><circle cx="180.7" cy="652.6" r="1.85"/><circle cx="188.9" cy="651.6" r="1.85"/><circle cx="202.9" cy="521.7" r="1.85"/><circle cx="221.9" cy="521.7" r="1.85"/><circle cx="230.8" cy="521.7" r="1.85"/><circle cx="196.4" cy="527.4" r="1.85"/><circle cx="203.9" cy="535.7" r="1.85"/><circle cx="195.8" cy="562.8" r="1.85"/><circle cx="189.2" cy="567.4" r="1.85"/><circle cx="188.8" cy="570.0" r="1.85"/><circle cx="187.2" cy="573.9" r="1.85"/><circle cx="206.2" cy="571.3" r="1.85"/><circle cx="185.7" cy="588.4" r="1.85"/><circle cx="192.0" cy="587.2" r="1.85"/><circle cx="193.2" cy="589.2" r="1.85"/><circle cx="184.7" cy="599.8" r="1.85"/><circle cx="182.7" cy="602.8" r="1.85"/><circle cx="202.9" cy="605.8" r="1.85"/><circle cx="237.3" cy="611.3" r="1.85"/><circle cx="183.3" cy="610.7" r="1.85"/><circle cx="190.6" cy="611.7" r="1.85"/><circle cx="183.7" cy="615.7" r="1.85"/><circle cx="190.2" cy="622.0" r="1.85"/><circle cx="197.1" cy="623.6" r="1.85"/><circle cx="192.6" cy="627.5" r="1.85"/><circle cx="188.6" cy="627.5" r="1.85"/><circle cx="213.4" cy="625.8" r="1.85"/><circle cx="200.5" cy="628.5" r="1.85"/><circle cx="219.3" cy="634.1" r="1.85"/><circle cx="200.1" cy="634.5" r="1.85"/><circle cx="197.5" cy="637.8" r="1.85"/><circle cx="230.2" cy="641.4" r="1.85"/><circle cx="203.5" cy="642.8" r="1.85"/><circle cx="211.4" cy="652.7" r="1.85"/><circle cx="206.0" cy="652.7" r="1.85"/></g>
<line x1="164.3" y1="515.2" x2="164.3" y2="660.2" stroke="#2a2a2a" stroke-width="0.55" stroke-dasharray="1.5 1.5"/><line x1="179.7" y1="515.2" x2="179.7" y2="660.2" stroke="#2a2a2a" stroke-width="0.55" stroke-dasharray="1.5 1.5"/><line x1="70.3" y1="653.1" x2="245.6" y2="653.1" stroke="#2a2a2a" stroke-width="0.65" stroke-dasharray="1.5 1.45"/>
<g fill="#000"><circle cx="130.5" cy="521.7" r="1.95"/><circle cx="150.1" cy="521.7" r="1.95"/><circle cx="156.5" cy="588.8" r="1.95"/><circle cx="128.0" cy="631.3" r="1.95"/><circle cx="161.3" cy="616.1" r="1.95"/><circle cx="168.2" cy="649.7" r="1.95"/><circle cx="165.3" cy="651.9" r="1.95"/><circle cx="171.8" cy="653.9" r="1.95"/></g>
<line x1="157.4" y1="584.0" x2="156.8" y2="587.0" stroke="#3a3a3a" stroke-width="0.5"/><line x1="128.0" y1="626.5" x2="128.0" y2="629.5" stroke="#3a3a3a" stroke-width="0.5"/><line x1="160.5" y1="652.6" x2="164.0" y2="652.2" stroke="#3a3a3a" stroke-width="0.5"/><line x1="168.8" y1="648.2" x2="170.0" y2="645.5" stroke="#3a3a3a" stroke-width="0.5"/></g>
<rect x="70.3" y="515.2" width="175.3" height="145.0" fill="none" stroke="#8e8e8e" stroke-width="0.75"/>
<line x1="67.3" y1="653.4" x2="70.3" y2="653.4" stroke="#666" stroke-width="0.6"/><text x="64.7" y="655.6" font-size="6.3" text-anchor="end" fill="#333">0</text><line x1="67.3" y1="604.0" x2="70.3" y2="604.0" stroke="#666" stroke-width="0.6"/><text x="64.7" y="606.2" font-size="6.3" text-anchor="end" fill="#333">100</text><line x1="67.3" y1="554.6" x2="70.3" y2="554.6" stroke="#666" stroke-width="0.6"/><text x="64.7" y="556.8" font-size="6.3" text-anchor="end" fill="#333">200</text><line x1="95.5" y1="660.2" x2="95.5" y2="663.2" stroke="#666" stroke-width="0.6"/><text x="94.7" y="671.6" font-size="6.3" text-anchor="middle" fill="#333">-10</text><line x1="133.8" y1="660.2" x2="133.8" y2="663.2" stroke="#666" stroke-width="0.6"/><text x="132.9" y="671.6" font-size="6.3" text-anchor="middle" fill="#333">-5</text><line x1="172.0" y1="660.2" x2="172.0" y2="663.2" stroke="#666" stroke-width="0.6"/><text x="172.0" y="671.6" font-size="6.3" text-anchor="middle" fill="#333">0</text><line x1="210.2" y1="660.2" x2="210.2" y2="663.2" stroke="#666" stroke-width="0.6"/><text x="210.2" y="671.6" font-size="6.3" text-anchor="middle" fill="#333">5</text>
<text x="128.8" y="683.0" font-size="7.20" textLength="58.4" lengthAdjust="spacingAndGlyphs">log<tspan font-size="4.6" dy="1.6">2</tspan><tspan dy="-1.6">&#8203;</tspan>(fold change)</text>
<g transform="translate(45.3 587.7) rotate(-90)"><text x="-17.6" y="0.0" font-size="7.20" textLength="35.2" lengthAdjust="spacingAndGlyphs">-log<tspan font-size="4.6" dy="1.6">10</tspan><tspan dy="-1.6">&#8203;</tspan>(<tspan font-style="italic">P</tspan><tspan font-size="4.6" dy="1.6">adj</tspan><tspan dy="-1.6">&#8203;</tspan>)</text>
</g>
<text x="133.3" y="523.7" font-size="5.80" textLength="13.8" lengthAdjust="spacingAndGlyphs" fill="#707070">HYR1</text>
<text x="155.6" y="525.4" font-size="5.80" textLength="14.2" lengthAdjust="spacingAndGlyphs" fill="#707070">ALS3</text>
<text x="159.0" y="584.3" font-size="5.80" textLength="11.8" lengthAdjust="spacingAndGlyphs" fill="#707070">IHD1</text>
<text x="129.3" y="626.7" font-size="5.80" textLength="12.9" lengthAdjust="spacingAndGlyphs" fill="#707070">ECE1</text>
<text x="161.5" y="611.8" font-size="5.80" textLength="17.2" lengthAdjust="spacingAndGlyphs" fill="#707070">WOR3</text>
<text x="161.5" y="643.9" font-size="5.80" textLength="14.3" lengthAdjust="spacingAndGlyphs" fill="#707070">HWP1</text>
<text x="145.2" y="656.8" font-size="5.80" textLength="13.8" lengthAdjust="spacingAndGlyphs" fill="#707070">BRG1</text>
<text x="174.8" y="656.8" font-size="5.80" textLength="15.8" lengthAdjust="spacingAndGlyphs" fill="#707070">HGC1</text>
</g>
<g id="vBR">
<clipPath id="clipBR"><rect x="296.4" y="515.2" width="176.1" height="145.0"/></clipPath>
<g clip-path="url(#clipBR)">
<g fill="#c6c6c6" fill-opacity="0.75"><circle cx="396.3" cy="650.6" r="1.25"/><circle cx="403.7" cy="646.0" r="1.25"/><circle cx="393.4" cy="651.6" r="1.25"/><circle cx="391.6" cy="652.1" r="1.25"/><circle cx="392.3" cy="640.2" r="1.25"/><circle cx="405.7" cy="629.2" r="1.25"/><circle cx="395.8" cy="650.1" r="1.25"/><circle cx="400.9" cy="648.4" r="1.25"/><circle cx="390.9" cy="630.4" r="1.25"/><circle cx="399.7" cy="651.9" r="1.25"/><circle cx="390.9" cy="647.1" r="1.25"/><circle cx="405.2" cy="646.1" r="1.25"/><circle cx="399.8" cy="647.6" r="1.25"/><circle cx="390.3" cy="637.4" r="1.25"/><circle cx="397.4" cy="652.7" r="1.25"/><circle cx="392.8" cy="645.6" r="1.25"/><circle cx="393.7" cy="651.2" r="1.25"/><circle cx="400.6" cy="645.7" r="1.25"/><circle cx="396.8" cy="653.0" r="1.25"/><circle cx="401.3" cy="644.1" r="1.25"/><circle cx="400.3" cy="649.6" r="1.25"/><circle cx="403.1" cy="639.2" r="1.25"/><circle cx="399.3" cy="650.7" r="1.25"/><circle cx="393.5" cy="644.3" r="1.25"/><circle cx="402.6" cy="640.4" r="1.25"/><circle cx="395.3" cy="646.7" r="1.25"/><circle cx="403.3" cy="650.4" r="1.25"/><circle cx="392.3" cy="645.4" r="1.25"/><circle cx="390.0" cy="628.3" r="1.25"/><circle cx="400.2" cy="648.5" r="1.25"/><circle cx="405.8" cy="637.0" r="1.25"/><circle cx="392.9" cy="648.9" r="1.25"/><circle cx="395.2" cy="646.3" r="1.25"/><circle cx="399.5" cy="652.5" r="1.25"/><circle cx="396.7" cy="653.0" r="1.25"/><circle cx="399.8" cy="651.8" r="1.25"/><circle cx="392.6" cy="639.5" r="1.25"/><circle cx="403.2" cy="639.0" r="1.25"/><circle cx="394.5" cy="645.2" r="1.25"/><circle cx="394.1" cy="652.8" r="1.25"/><circle cx="394.1" cy="643.9" r="1.25"/><circle cx="399.8" cy="651.2" r="1.25"/><circle cx="403.3" cy="636.0" r="1.25"/><circle cx="394.2" cy="642.1" r="1.25"/><circle cx="394.0" cy="651.0" r="1.25"/><circle cx="398.0" cy="653.1" r="1.25"/><circle cx="399.4" cy="650.3" r="1.25"/><circle cx="397.6" cy="653.2" r="1.25"/><circle cx="394.6" cy="647.4" r="1.25"/><circle cx="398.6" cy="651.6" r="1.25"/><circle cx="390.9" cy="642.2" r="1.25"/><circle cx="405.0" cy="632.6" r="1.25"/><circle cx="390.9" cy="637.8" r="1.25"/><circle cx="400.2" cy="646.5" r="1.25"/><circle cx="391.1" cy="630.1" r="1.25"/><circle cx="402.2" cy="646.5" r="1.25"/><circle cx="398.3" cy="652.3" r="1.25"/><circle cx="393.6" cy="642.2" r="1.25"/><circle cx="398.8" cy="652.9" r="1.25"/><circle cx="394.1" cy="646.3" r="1.25"/><circle cx="392.0" cy="633.3" r="1.25"/><circle cx="393.8" cy="647.8" r="1.25"/><circle cx="399.4" cy="650.5" r="1.25"/><circle cx="394.9" cy="648.8" r="1.25"/><circle cx="397.7" cy="653.3" r="1.25"/><circle cx="391.0" cy="629.6" r="1.25"/><circle cx="404.9" cy="632.4" r="1.25"/><circle cx="402.7" cy="643.9" r="1.25"/><circle cx="405.3" cy="629.9" r="1.25"/><circle cx="400.8" cy="647.5" r="1.25"/><circle cx="393.3" cy="641.1" r="1.25"/><circle cx="401.6" cy="652.9" r="1.25"/><circle cx="394.7" cy="646.8" r="1.25"/><circle cx="393.1" cy="648.7" r="1.25"/><circle cx="392.8" cy="652.0" r="1.25"/><circle cx="391.7" cy="640.8" r="1.25"/><circle cx="397.8" cy="653.4" r="1.25"/><circle cx="394.7" cy="650.5" r="1.25"/><circle cx="404.6" cy="634.4" r="1.25"/><circle cx="400.7" cy="646.2" r="1.25"/><circle cx="394.9" cy="646.9" r="1.25"/><circle cx="394.9" cy="646.3" r="1.25"/><circle cx="402.9" cy="651.9" r="1.25"/><circle cx="402.6" cy="648.9" r="1.25"/><circle cx="390.0" cy="647.1" r="1.25"/><circle cx="398.8" cy="651.1" r="1.25"/><circle cx="404.7" cy="645.0" r="1.25"/><circle cx="396.7" cy="650.5" r="1.25"/><circle cx="404.1" cy="633.1" r="1.25"/><circle cx="393.7" cy="647.2" r="1.25"/><circle cx="392.1" cy="644.3" r="1.25"/><circle cx="396.3" cy="649.7" r="1.25"/><circle cx="400.4" cy="650.7" r="1.25"/><circle cx="392.6" cy="642.1" r="1.25"/><circle cx="404.1" cy="638.8" r="1.25"/><circle cx="402.5" cy="640.6" r="1.25"/><circle cx="403.9" cy="638.9" r="1.25"/><circle cx="395.8" cy="649.8" r="1.25"/><circle cx="402.7" cy="645.6" r="1.25"/><circle cx="392.8" cy="638.0" r="1.25"/><circle cx="397.5" cy="652.9" r="1.25"/><circle cx="392.5" cy="650.7" r="1.25"/><circle cx="393.4" cy="644.3" r="1.25"/><circle cx="390.3" cy="640.3" r="1.25"/><circle cx="405.0" cy="637.1" r="1.25"/><circle cx="389.8" cy="626.6" r="1.25"/><circle cx="394.6" cy="649.9" r="1.25"/><circle cx="400.0" cy="648.2" r="1.25"/><circle cx="395.0" cy="646.2" r="1.25"/><circle cx="403.9" cy="641.9" r="1.25"/><circle cx="397.8" cy="653.4" r="1.25"/><circle cx="399.3" cy="651.5" r="1.25"/><circle cx="400.3" cy="647.1" r="1.25"/><circle cx="395.2" cy="647.3" r="1.25"/><circle cx="405.0" cy="644.2" r="1.25"/><circle cx="402.6" cy="642.8" r="1.25"/><circle cx="405.0" cy="647.8" r="1.25"/><circle cx="395.9" cy="651.6" r="1.25"/><circle cx="393.9" cy="641.4" r="1.25"/><circle cx="398.3" cy="652.8" r="1.25"/><circle cx="405.3" cy="648.6" r="1.25"/><circle cx="390.0" cy="628.2" r="1.25"/><circle cx="398.7" cy="651.3" r="1.25"/><circle cx="397.7" cy="653.3" r="1.25"/><circle cx="395.1" cy="650.0" r="1.25"/><circle cx="404.0" cy="638.0" r="1.25"/><circle cx="390.2" cy="651.6" r="1.25"/><circle cx="390.0" cy="628.8" r="1.25"/><circle cx="400.0" cy="651.6" r="1.25"/><circle cx="402.6" cy="639.2" r="1.25"/><circle cx="399.9" cy="648.9" r="1.25"/><circle cx="396.7" cy="651.2" r="1.25"/><circle cx="396.0" cy="648.5" r="1.25"/><circle cx="399.3" cy="650.3" r="1.25"/><circle cx="404.7" cy="628.2" r="1.25"/><circle cx="398.3" cy="653.1" r="1.25"/><circle cx="398.2" cy="652.6" r="1.25"/><circle cx="393.1" cy="646.3" r="1.25"/><circle cx="394.2" cy="648.5" r="1.25"/><circle cx="402.8" cy="641.3" r="1.25"/><circle cx="391.1" cy="636.9" r="1.25"/><circle cx="401.0" cy="652.3" r="1.25"/><circle cx="392.9" cy="652.1" r="1.25"/><circle cx="401.0" cy="647.6" r="1.25"/><circle cx="389.9" cy="640.5" r="1.25"/><circle cx="392.8" cy="641.1" r="1.25"/><circle cx="396.6" cy="651.6" r="1.25"/><circle cx="395.0" cy="652.2" r="1.25"/><circle cx="395.0" cy="646.8" r="1.25"/><circle cx="398.4" cy="652.4" r="1.25"/><circle cx="392.3" cy="650.5" r="1.25"/><circle cx="402.0" cy="641.8" r="1.25"/><circle cx="400.4" cy="645.8" r="1.25"/><circle cx="394.7" cy="645.2" r="1.25"/><circle cx="394.4" cy="645.3" r="1.25"/><circle cx="404.4" cy="638.4" r="1.25"/><circle cx="399.7" cy="648.2" r="1.25"/><circle cx="397.6" cy="653.3" r="1.25"/><circle cx="405.1" cy="631.7" r="1.25"/><circle cx="395.0" cy="649.4" r="1.25"/><circle cx="390.1" cy="646.7" r="1.25"/><circle cx="405.5" cy="632.7" r="1.25"/><circle cx="402.3" cy="646.9" r="1.25"/><circle cx="403.3" cy="637.6" r="1.25"/><circle cx="403.9" cy="639.2" r="1.25"/><circle cx="404.6" cy="635.7" r="1.25"/><circle cx="392.1" cy="634.0" r="1.25"/><circle cx="394.6" cy="643.7" r="1.25"/><circle cx="398.6" cy="652.3" r="1.25"/><circle cx="398.1" cy="653.0" r="1.25"/><circle cx="391.0" cy="649.4" r="1.25"/><circle cx="391.1" cy="630.1" r="1.25"/><circle cx="395.4" cy="652.6" r="1.25"/><circle cx="396.2" cy="650.0" r="1.25"/><circle cx="400.0" cy="647.4" r="1.25"/><circle cx="395.4" cy="646.4" r="1.25"/><circle cx="389.9" cy="643.5" r="1.25"/><circle cx="397.6" cy="653.2" r="1.25"/><circle cx="396.5" cy="650.3" r="1.25"/><circle cx="398.5" cy="653.4" r="1.25"/><circle cx="396.0" cy="649.6" r="1.25"/><circle cx="393.9" cy="648.7" r="1.25"/><circle cx="400.1" cy="649.1" r="1.25"/><circle cx="405.7" cy="624.3" r="1.25"/><circle cx="394.7" cy="652.1" r="1.25"/><circle cx="392.6" cy="642.4" r="1.25"/><circle cx="396.6" cy="651.4" r="1.25"/><circle cx="391.1" cy="641.5" r="1.25"/><circle cx="396.3" cy="650.1" r="1.25"/><circle cx="391.6" cy="636.3" r="1.25"/><circle cx="395.9" cy="648.6" r="1.25"/><circle cx="400.7" cy="650.0" r="1.25"/><circle cx="401.1" cy="647.5" r="1.25"/><circle cx="403.2" cy="651.6" r="1.25"/><circle cx="394.8" cy="647.0" r="1.25"/><circle cx="394.5" cy="647.3" r="1.25"/><circle cx="399.0" cy="652.0" r="1.25"/><circle cx="403.6" cy="643.6" r="1.25"/><circle cx="400.9" cy="643.9" r="1.25"/><circle cx="391.3" cy="631.5" r="1.25"/><circle cx="392.6" cy="642.0" r="1.25"/><circle cx="391.6" cy="632.0" r="1.25"/><circle cx="394.7" cy="646.9" r="1.25"/><circle cx="405.4" cy="644.3" r="1.25"/><circle cx="391.0" cy="633.2" r="1.25"/><circle cx="390.5" cy="645.4" r="1.25"/><circle cx="393.8" cy="652.5" r="1.25"/><circle cx="395.3" cy="652.0" r="1.25"/><circle cx="404.8" cy="636.1" r="1.25"/><circle cx="390.2" cy="629.4" r="1.25"/><circle cx="393.6" cy="640.2" r="1.25"/><circle cx="390.3" cy="645.4" r="1.25"/><circle cx="395.7" cy="648.0" r="1.25"/><circle cx="404.8" cy="628.0" r="1.25"/><circle cx="393.1" cy="644.4" r="1.25"/><circle cx="403.5" cy="635.4" r="1.25"/><circle cx="404.9" cy="647.5" r="1.25"/><circle cx="390.3" cy="637.2" r="1.25"/><circle cx="403.3" cy="637.7" r="1.25"/><circle cx="396.4" cy="650.5" r="1.25"/><circle cx="396.9" cy="651.4" r="1.25"/><circle cx="394.4" cy="644.1" r="1.25"/><circle cx="392.2" cy="638.9" r="1.25"/><circle cx="394.8" cy="648.5" r="1.25"/><circle cx="394.0" cy="651.8" r="1.25"/><circle cx="391.2" cy="634.5" r="1.25"/><circle cx="400.5" cy="647.0" r="1.25"/><circle cx="396.7" cy="651.4" r="1.25"/><circle cx="402.6" cy="637.2" r="1.25"/><circle cx="396.0" cy="649.2" r="1.25"/><circle cx="402.8" cy="637.6" r="1.25"/><circle cx="400.5" cy="649.9" r="1.25"/><circle cx="402.8" cy="641.0" r="1.25"/><circle cx="401.7" cy="642.6" r="1.25"/><circle cx="393.1" cy="650.1" r="1.25"/><circle cx="402.3" cy="641.3" r="1.25"/><circle cx="390.0" cy="648.7" r="1.25"/><circle cx="396.5" cy="650.9" r="1.25"/><circle cx="391.7" cy="635.7" r="1.25"/><circle cx="395.3" cy="647.5" r="1.25"/><circle cx="394.1" cy="648.4" r="1.25"/><circle cx="392.1" cy="637.2" r="1.25"/><circle cx="399.8" cy="652.2" r="1.25"/><circle cx="391.6" cy="633.0" r="1.25"/><circle cx="393.9" cy="641.2" r="1.25"/><circle cx="405.5" cy="627.7" r="1.25"/><circle cx="392.0" cy="648.0" r="1.25"/><circle cx="403.1" cy="642.4" r="1.25"/><circle cx="390.2" cy="646.1" r="1.25"/><circle cx="394.3" cy="648.5" r="1.25"/><circle cx="390.3" cy="630.3" r="1.25"/><circle cx="390.7" cy="640.8" r="1.25"/><circle cx="401.0" cy="644.8" r="1.25"/><circle cx="402.5" cy="646.6" r="1.25"/><circle cx="392.5" cy="639.3" r="1.25"/><circle cx="402.7" cy="639.1" r="1.25"/><circle cx="401.7" cy="645.8" r="1.25"/><circle cx="401.3" cy="642.7" r="1.25"/><circle cx="399.7" cy="651.7" r="1.25"/><circle cx="403.1" cy="650.9" r="1.25"/><circle cx="389.9" cy="638.9" r="1.25"/><circle cx="395.8" cy="647.6" r="1.25"/><circle cx="401.6" cy="645.8" r="1.25"/><circle cx="399.0" cy="651.6" r="1.25"/><circle cx="404.3" cy="635.7" r="1.25"/><circle cx="395.6" cy="647.1" r="1.25"/><circle cx="402.9" cy="643.0" r="1.25"/><circle cx="405.3" cy="648.4" r="1.25"/><circle cx="403.9" cy="639.8" r="1.25"/><circle cx="397.6" cy="653.1" r="1.25"/><circle cx="396.5" cy="651.4" r="1.25"/><circle cx="393.6" cy="642.1" r="1.25"/><circle cx="401.3" cy="644.5" r="1.25"/><circle cx="392.3" cy="635.4" r="1.25"/><circle cx="397.7" cy="653.3" r="1.25"/><circle cx="393.1" cy="648.7" r="1.25"/><circle cx="392.0" cy="639.6" r="1.25"/><circle cx="401.9" cy="642.5" r="1.25"/><circle cx="405.4" cy="624.9" r="1.25"/><circle cx="399.8" cy="648.2" r="1.25"/><circle cx="404.5" cy="637.0" r="1.25"/><circle cx="403.3" cy="639.6" r="1.25"/><circle cx="401.9" cy="641.3" r="1.25"/><circle cx="404.4" cy="637.3" r="1.25"/><circle cx="391.0" cy="648.7" r="1.25"/><circle cx="401.1" cy="645.4" r="1.25"/><circle cx="403.4" cy="646.4" r="1.25"/><circle cx="402.9" cy="635.6" r="1.25"/><circle cx="397.5" cy="653.3" r="1.25"/><circle cx="400.8" cy="651.3" r="1.25"/><circle cx="402.6" cy="639.0" r="1.25"/><circle cx="395.9" cy="648.1" r="1.25"/><circle cx="395.8" cy="648.3" r="1.25"/><circle cx="394.5" cy="644.6" r="1.25"/><circle cx="391.5" cy="641.4" r="1.25"/><circle cx="396.1" cy="649.0" r="1.25"/><circle cx="403.1" cy="648.7" r="1.25"/><circle cx="397.2" cy="652.1" r="1.25"/><circle cx="405.6" cy="634.9" r="1.25"/><circle cx="392.3" cy="636.7" r="1.25"/><circle cx="409.4" cy="653.7" r="1.25"/><circle cx="428.3" cy="653.3" r="1.25"/><circle cx="422.6" cy="653.3" r="1.25"/><circle cx="401.3" cy="654.2" r="1.25"/><circle cx="396.7" cy="654.0" r="1.25"/><circle cx="358.6" cy="654.1" r="1.25"/><circle cx="411.9" cy="654.1" r="1.25"/><circle cx="382.1" cy="653.5" r="1.25"/><circle cx="363.4" cy="653.7" r="1.25"/><circle cx="322.4" cy="654.2" r="1.25"/><circle cx="451.6" cy="653.3" r="1.25"/><circle cx="477.6" cy="653.6" r="1.25"/><circle cx="362.7" cy="654.0" r="1.25"/><circle cx="419.2" cy="653.3" r="1.25"/><circle cx="391.9" cy="653.7" r="1.25"/><circle cx="390.4" cy="654.6" r="1.25"/><circle cx="395.3" cy="653.6" r="1.25"/><circle cx="397.5" cy="653.6" r="1.25"/><circle cx="416.4" cy="653.6" r="1.25"/><circle cx="434.1" cy="654.2" r="1.25"/><circle cx="351.2" cy="653.7" r="1.25"/><circle cx="382.4" cy="653.2" r="1.25"/><circle cx="378.0" cy="653.3" r="1.25"/><circle cx="373.6" cy="653.9" r="1.25"/><circle cx="444.9" cy="654.0" r="1.25"/><circle cx="463.2" cy="654.4" r="1.25"/><circle cx="375.4" cy="654.5" r="1.25"/><circle cx="373.4" cy="653.2" r="1.25"/><circle cx="377.5" cy="653.7" r="1.25"/><circle cx="427.0" cy="654.6" r="1.25"/><circle cx="386.5" cy="654.0" r="1.25"/><circle cx="434.8" cy="654.0" r="1.25"/><circle cx="437.4" cy="654.7" r="1.25"/><circle cx="350.5" cy="653.7" r="1.25"/><circle cx="384.8" cy="654.4" r="1.25"/><circle cx="394.9" cy="654.1" r="1.25"/><circle cx="368.6" cy="653.7" r="1.25"/><circle cx="400.5" cy="653.5" r="1.25"/><circle cx="362.0" cy="653.3" r="1.25"/><circle cx="408.1" cy="653.6" r="1.25"/><circle cx="387.3" cy="653.9" r="1.25"/><circle cx="437.9" cy="654.5" r="1.25"/><circle cx="385.8" cy="653.6" r="1.25"/><circle cx="406.8" cy="653.2" r="1.25"/><circle cx="371.0" cy="653.8" r="1.25"/><circle cx="398.8" cy="654.2" r="1.25"/><circle cx="379.7" cy="654.2" r="1.25"/><circle cx="386.1" cy="653.4" r="1.25"/><circle cx="385.0" cy="654.4" r="1.25"/><circle cx="376.8" cy="654.5" r="1.25"/><circle cx="386.6" cy="654.2" r="1.25"/><circle cx="398.8" cy="653.2" r="1.25"/><circle cx="412.6" cy="654.4" r="1.25"/><circle cx="404.7" cy="653.8" r="1.25"/><circle cx="390.3" cy="654.1" r="1.25"/><circle cx="370.2" cy="653.2" r="1.25"/><circle cx="421.7" cy="653.3" r="1.25"/><circle cx="387.5" cy="654.0" r="1.25"/><circle cx="416.7" cy="654.2" r="1.25"/><circle cx="378.1" cy="653.3" r="1.25"/><circle cx="408.2" cy="653.3" r="1.25"/><circle cx="416.5" cy="654.1" r="1.25"/><circle cx="424.9" cy="654.2" r="1.25"/><circle cx="398.7" cy="653.4" r="1.25"/><circle cx="430.3" cy="654.3" r="1.25"/><circle cx="397.4" cy="654.3" r="1.25"/><circle cx="375.8" cy="654.1" r="1.25"/><circle cx="388.3" cy="654.3" r="1.25"/><circle cx="395.7" cy="654.6" r="1.25"/><circle cx="400.2" cy="653.6" r="1.25"/><circle cx="476.8" cy="653.3" r="1.25"/><circle cx="359.5" cy="654.6" r="1.25"/><circle cx="370.3" cy="654.4" r="1.25"/><circle cx="437.6" cy="653.6" r="1.25"/><circle cx="400.8" cy="654.6" r="1.25"/><circle cx="387.2" cy="654.1" r="1.25"/><circle cx="424.6" cy="654.3" r="1.25"/><circle cx="394.3" cy="653.6" r="1.25"/><circle cx="396.8" cy="654.3" r="1.25"/><circle cx="404.5" cy="654.6" r="1.25"/><circle cx="390.3" cy="653.3" r="1.25"/><circle cx="402.1" cy="653.5" r="1.25"/><circle cx="396.7" cy="653.9" r="1.25"/><circle cx="377.3" cy="654.5" r="1.25"/><circle cx="394.7" cy="654.6" r="1.25"/><circle cx="391.5" cy="654.2" r="1.25"/><circle cx="401.7" cy="654.5" r="1.25"/><circle cx="404.0" cy="653.6" r="1.25"/><circle cx="378.0" cy="654.3" r="1.25"/><circle cx="396.4" cy="653.8" r="1.25"/><circle cx="373.4" cy="653.4" r="1.25"/><circle cx="350.7" cy="653.8" r="1.25"/><circle cx="392.1" cy="654.5" r="1.25"/><circle cx="352.3" cy="653.8" r="1.25"/><circle cx="383.6" cy="654.5" r="1.25"/><circle cx="369.6" cy="653.5" r="1.25"/><circle cx="411.1" cy="653.7" r="1.25"/><circle cx="404.6" cy="654.3" r="1.25"/><circle cx="382.9" cy="653.3" r="1.25"/><circle cx="384.7" cy="653.8" r="1.25"/><circle cx="407.9" cy="654.6" r="1.25"/><circle cx="396.0" cy="653.8" r="1.25"/><circle cx="380.2" cy="654.6" r="1.25"/><circle cx="383.2" cy="654.4" r="1.25"/><circle cx="384.0" cy="654.1" r="1.25"/><circle cx="372.6" cy="653.6" r="1.25"/><circle cx="361.5" cy="653.3" r="1.25"/><circle cx="360.0" cy="653.9" r="1.25"/><circle cx="368.1" cy="654.7" r="1.25"/><circle cx="398.8" cy="654.1" r="1.25"/><circle cx="387.9" cy="653.6" r="1.25"/><circle cx="400.5" cy="654.5" r="1.25"/><circle cx="369.1" cy="654.6" r="1.25"/><circle cx="369.4" cy="654.5" r="1.25"/><circle cx="449.3" cy="654.6" r="1.25"/><circle cx="355.4" cy="654.2" r="1.25"/><circle cx="390.8" cy="654.6" r="1.25"/><circle cx="397.1" cy="653.9" r="1.25"/><circle cx="390.0" cy="654.3" r="1.25"/><circle cx="419.4" cy="654.4" r="1.25"/><circle cx="394.1" cy="653.8" r="1.25"/><circle cx="411.6" cy="653.4" r="1.25"/><circle cx="360.4" cy="653.8" r="1.25"/><circle cx="368.2" cy="653.4" r="1.25"/><circle cx="411.9" cy="653.5" r="1.25"/><circle cx="392.4" cy="654.0" r="1.25"/><circle cx="388.0" cy="653.4" r="1.25"/><circle cx="377.3" cy="653.7" r="1.25"/><circle cx="444.8" cy="653.6" r="1.25"/><circle cx="351.8" cy="654.2" r="1.25"/><circle cx="408.8" cy="653.2" r="1.25"/><circle cx="353.7" cy="653.2" r="1.25"/><circle cx="424.8" cy="653.5" r="1.25"/><circle cx="413.6" cy="654.6" r="1.25"/><circle cx="398.3" cy="653.4" r="1.25"/><circle cx="424.3" cy="654.6" r="1.25"/><circle cx="401.0" cy="653.7" r="1.25"/><circle cx="416.9" cy="653.5" r="1.25"/><circle cx="435.4" cy="653.3" r="1.25"/><circle cx="419.8" cy="653.7" r="1.25"/><circle cx="428.1" cy="654.0" r="1.25"/><circle cx="402.4" cy="654.6" r="1.25"/><circle cx="456.7" cy="653.4" r="1.25"/><circle cx="408.3" cy="653.7" r="1.25"/><circle cx="440.0" cy="654.6" r="1.25"/><circle cx="373.9" cy="653.5" r="1.25"/><circle cx="411.0" cy="653.7" r="1.25"/><circle cx="416.1" cy="654.1" r="1.25"/><circle cx="428.6" cy="653.2" r="1.25"/><circle cx="406.3" cy="653.7" r="1.25"/><circle cx="379.8" cy="654.3" r="1.25"/><circle cx="392.0" cy="654.3" r="1.25"/><circle cx="378.7" cy="653.8" r="1.25"/><circle cx="379.5" cy="654.0" r="1.25"/><circle cx="455.7" cy="653.5" r="1.25"/><circle cx="302.0" cy="654.5" r="1.25"/><circle cx="398.4" cy="653.9" r="1.25"/><circle cx="367.7" cy="654.4" r="1.25"/><circle cx="426.8" cy="653.2" r="1.25"/><circle cx="393.7" cy="654.1" r="1.25"/><circle cx="401.7" cy="654.1" r="1.25"/><circle cx="409.0" cy="653.6" r="1.25"/><circle cx="401.9" cy="654.5" r="1.25"/><circle cx="373.5" cy="653.3" r="1.25"/><circle cx="433.4" cy="653.3" r="1.25"/><circle cx="388.1" cy="653.6" r="1.25"/><circle cx="438.0" cy="653.3" r="1.25"/><circle cx="379.3" cy="654.4" r="1.25"/><circle cx="374.5" cy="654.4" r="1.25"/><circle cx="409.2" cy="653.4" r="1.25"/><circle cx="383.6" cy="654.5" r="1.25"/><circle cx="383.0" cy="654.6" r="1.25"/><circle cx="411.8" cy="653.3" r="1.25"/><circle cx="391.2" cy="653.9" r="1.25"/><circle cx="409.8" cy="654.0" r="1.25"/><circle cx="410.4" cy="654.3" r="1.25"/><circle cx="316.7" cy="654.3" r="1.25"/><circle cx="357.8" cy="654.7" r="1.25"/><circle cx="381.1" cy="654.6" r="1.25"/><circle cx="381.9" cy="654.1" r="1.25"/><circle cx="388.3" cy="653.3" r="1.25"/><circle cx="388.1" cy="653.2" r="1.25"/><circle cx="411.1" cy="653.8" r="1.25"/><circle cx="412.1" cy="654.3" r="1.25"/><circle cx="379.8" cy="653.9" r="1.25"/><circle cx="412.7" cy="654.1" r="1.25"/><circle cx="437.2" cy="653.5" r="1.25"/><circle cx="340.1" cy="653.8" r="1.25"/><circle cx="367.4" cy="653.7" r="1.25"/><circle cx="414.1" cy="653.5" r="1.25"/><circle cx="416.5" cy="654.3" r="1.25"/><circle cx="386.9" cy="654.2" r="1.25"/><circle cx="416.3" cy="654.0" r="1.25"/><circle cx="402.0" cy="654.3" r="1.25"/><circle cx="414.0" cy="653.3" r="1.25"/><circle cx="395.3" cy="654.4" r="1.25"/><circle cx="407.3" cy="653.8" r="1.25"/><circle cx="392.0" cy="653.6" r="1.25"/><circle cx="392.9" cy="653.8" r="1.25"/><circle cx="419.4" cy="653.8" r="1.25"/><circle cx="397.9" cy="654.1" r="1.25"/><circle cx="417.0" cy="653.9" r="1.25"/><circle cx="383.4" cy="653.9" r="1.25"/><circle cx="398.1" cy="654.4" r="1.25"/><circle cx="400.3" cy="653.9" r="1.25"/><circle cx="411.7" cy="653.5" r="1.25"/><circle cx="399.9" cy="654.6" r="1.25"/><circle cx="416.7" cy="654.2" r="1.25"/><circle cx="368.1" cy="653.9" r="1.25"/><circle cx="411.0" cy="654.1" r="1.25"/><circle cx="385.5" cy="653.7" r="1.25"/><circle cx="381.4" cy="654.7" r="1.25"/><circle cx="402.7" cy="654.2" r="1.25"/><circle cx="368.3" cy="653.7" r="1.25"/><circle cx="414.8" cy="653.7" r="1.25"/><circle cx="437.5" cy="654.0" r="1.25"/><circle cx="420.2" cy="654.0" r="1.25"/><circle cx="372.6" cy="654.0" r="1.25"/><circle cx="386.5" cy="653.6" r="1.25"/><circle cx="437.4" cy="654.3" r="1.25"/><circle cx="403.8" cy="654.2" r="1.25"/><circle cx="362.9" cy="653.4" r="1.25"/><circle cx="422.3" cy="654.6" r="1.25"/><circle cx="387.5" cy="653.9" r="1.25"/><circle cx="410.8" cy="653.8" r="1.25"/><circle cx="378.8" cy="653.6" r="1.25"/><circle cx="403.9" cy="653.6" r="1.25"/><circle cx="367.9" cy="653.2" r="1.25"/><circle cx="399.2" cy="653.7" r="1.25"/><circle cx="396.3" cy="653.6" r="1.25"/><circle cx="393.6" cy="654.4" r="1.25"/><circle cx="382.0" cy="654.5" r="1.25"/><circle cx="365.0" cy="654.0" r="1.25"/><circle cx="395.2" cy="654.0" r="1.25"/><circle cx="385.5" cy="653.3" r="1.25"/><circle cx="402.6" cy="654.1" r="1.25"/><circle cx="426.1" cy="654.2" r="1.25"/><circle cx="420.1" cy="654.5" r="1.25"/><circle cx="375.1" cy="653.7" r="1.25"/><circle cx="408.1" cy="653.9" r="1.25"/></g>
<g fill="#2f86d0" fill-opacity="0.7"><circle cx="383.5" cy="636.8" r="1.85"/><circle cx="384.2" cy="649.7" r="1.85"/><circle cx="387.6" cy="621.4" r="1.85"/><circle cx="381.5" cy="642.4" r="1.85"/><circle cx="389.2" cy="640.8" r="1.85"/><circle cx="388.2" cy="625.5" r="1.85"/><circle cx="385.5" cy="650.6" r="1.85"/><circle cx="381.6" cy="647.2" r="1.85"/><circle cx="388.7" cy="646.1" r="1.85"/><circle cx="385.2" cy="650.4" r="1.85"/><circle cx="389.2" cy="649.8" r="1.85"/><circle cx="385.8" cy="646.4" r="1.85"/><circle cx="384.1" cy="631.8" r="1.85"/><circle cx="387.7" cy="641.9" r="1.85"/><circle cx="380.3" cy="648.0" r="1.85"/><circle cx="389.7" cy="629.5" r="1.85"/><circle cx="381.7" cy="651.0" r="1.85"/><circle cx="355.6" cy="619.9" r="1.85"/><circle cx="387.7" cy="648.5" r="1.85"/><circle cx="388.9" cy="629.0" r="1.85"/><circle cx="389.3" cy="642.1" r="1.85"/><circle cx="388.2" cy="651.0" r="1.85"/><circle cx="389.7" cy="634.0" r="1.85"/><circle cx="389.5" cy="643.9" r="1.85"/><circle cx="382.9" cy="649.0" r="1.85"/><circle cx="388.9" cy="651.6" r="1.85"/><circle cx="388.9" cy="650.3" r="1.85"/><circle cx="389.5" cy="648.2" r="1.85"/><circle cx="388.2" cy="640.6" r="1.85"/><circle cx="383.9" cy="638.4" r="1.85"/><circle cx="382.9" cy="600.8" r="1.85"/><circle cx="383.4" cy="652.5" r="1.85"/><circle cx="386.9" cy="651.9" r="1.85"/><circle cx="388.3" cy="634.4" r="1.85"/><circle cx="387.0" cy="630.9" r="1.85"/><circle cx="388.7" cy="613.2" r="1.85"/><circle cx="387.6" cy="642.6" r="1.85"/><circle cx="385.9" cy="649.4" r="1.85"/><circle cx="385.7" cy="611.5" r="1.85"/><circle cx="388.2" cy="644.5" r="1.85"/><circle cx="377.7" cy="648.4" r="1.85"/><circle cx="389.2" cy="625.0" r="1.85"/><circle cx="382.2" cy="652.3" r="1.85"/><circle cx="385.7" cy="649.8" r="1.85"/><circle cx="388.5" cy="624.1" r="1.85"/><circle cx="386.6" cy="639.0" r="1.85"/><circle cx="386.1" cy="651.9" r="1.85"/><circle cx="389.7" cy="648.8" r="1.85"/><circle cx="379.9" cy="649.2" r="1.85"/><circle cx="389.0" cy="652.3" r="1.85"/><circle cx="389.1" cy="639.6" r="1.85"/><circle cx="385.5" cy="638.6" r="1.85"/><circle cx="386.2" cy="643.2" r="1.85"/><circle cx="386.3" cy="635.1" r="1.85"/><circle cx="388.9" cy="597.2" r="1.85"/><circle cx="388.7" cy="652.7" r="1.85"/><circle cx="388.0" cy="600.1" r="1.85"/><circle cx="386.9" cy="643.4" r="1.85"/><circle cx="389.7" cy="637.4" r="1.85"/><circle cx="389.6" cy="642.4" r="1.85"/><circle cx="389.7" cy="643.6" r="1.85"/><circle cx="387.1" cy="651.5" r="1.85"/><circle cx="388.9" cy="644.3" r="1.85"/><circle cx="389.0" cy="629.1" r="1.85"/><circle cx="389.0" cy="651.2" r="1.85"/><circle cx="387.7" cy="647.0" r="1.85"/><circle cx="388.7" cy="624.2" r="1.85"/><circle cx="386.0" cy="632.5" r="1.85"/><circle cx="389.0" cy="639.9" r="1.85"/><circle cx="382.4" cy="650.3" r="1.85"/><circle cx="385.0" cy="645.6" r="1.85"/><circle cx="381.2" cy="651.6" r="1.85"/><circle cx="388.7" cy="652.1" r="1.85"/><circle cx="384.2" cy="641.6" r="1.85"/><circle cx="389.3" cy="607.9" r="1.85"/><circle cx="388.5" cy="652.5" r="1.85"/><circle cx="386.8" cy="642.6" r="1.85"/><circle cx="383.7" cy="625.5" r="1.85"/><circle cx="380.8" cy="636.0" r="1.85"/><circle cx="389.6" cy="625.3" r="1.85"/><circle cx="389.6" cy="647.3" r="1.85"/><circle cx="387.5" cy="649.2" r="1.85"/><circle cx="385.1" cy="643.5" r="1.85"/><circle cx="386.9" cy="624.0" r="1.85"/><circle cx="389.5" cy="644.1" r="1.85"/><circle cx="381.8" cy="649.6" r="1.85"/><circle cx="384.1" cy="610.8" r="1.85"/><circle cx="385.1" cy="629.9" r="1.85"/><circle cx="387.8" cy="651.3" r="1.85"/><circle cx="384.9" cy="651.9" r="1.85"/><circle cx="386.6" cy="628.0" r="1.85"/><circle cx="388.1" cy="648.5" r="1.85"/><circle cx="386.0" cy="652.5" r="1.85"/><circle cx="389.1" cy="645.0" r="1.85"/><circle cx="388.0" cy="626.0" r="1.85"/><circle cx="389.1" cy="644.4" r="1.85"/><circle cx="377.3" cy="645.6" r="1.85"/><circle cx="389.2" cy="646.0" r="1.85"/><circle cx="385.8" cy="620.3" r="1.85"/><circle cx="389.7" cy="652.8" r="1.85"/><circle cx="388.1" cy="647.8" r="1.85"/><circle cx="389.6" cy="629.4" r="1.85"/><circle cx="387.9" cy="634.3" r="1.85"/><circle cx="389.3" cy="649.9" r="1.85"/><circle cx="389.2" cy="644.5" r="1.85"/><circle cx="366.5" cy="652.7" r="1.85"/><circle cx="386.0" cy="634.2" r="1.85"/><circle cx="389.4" cy="631.7" r="1.85"/><circle cx="388.9" cy="632.2" r="1.85"/><circle cx="387.7" cy="641.7" r="1.85"/><circle cx="382.3" cy="651.8" r="1.85"/><circle cx="386.4" cy="627.5" r="1.85"/><circle cx="389.3" cy="643.7" r="1.85"/><circle cx="389.6" cy="651.4" r="1.85"/><circle cx="380.8" cy="625.8" r="1.85"/><circle cx="388.9" cy="634.1" r="1.85"/><circle cx="374.9" cy="627.0" r="1.85"/><circle cx="386.9" cy="652.6" r="1.85"/><circle cx="387.8" cy="650.5" r="1.85"/><circle cx="386.5" cy="651.7" r="1.85"/><circle cx="386.3" cy="635.7" r="1.85"/><circle cx="387.4" cy="645.8" r="1.85"/><circle cx="380.6" cy="651.5" r="1.85"/><circle cx="387.5" cy="636.8" r="1.85"/><circle cx="381.7" cy="636.7" r="1.85"/><circle cx="388.4" cy="650.2" r="1.85"/><circle cx="388.6" cy="649.4" r="1.85"/><circle cx="387.4" cy="625.0" r="1.85"/><circle cx="387.8" cy="650.4" r="1.85"/><circle cx="381.6" cy="644.8" r="1.85"/><circle cx="385.4" cy="613.9" r="1.85"/><circle cx="383.4" cy="650.9" r="1.85"/><circle cx="387.8" cy="618.9" r="1.85"/><circle cx="387.9" cy="650.3" r="1.85"/><circle cx="385.1" cy="637.4" r="1.85"/><circle cx="382.9" cy="652.3" r="1.85"/><circle cx="388.1" cy="650.9" r="1.85"/><circle cx="376.5" cy="649.7" r="1.85"/><circle cx="389.1" cy="643.9" r="1.85"/><circle cx="389.7" cy="651.2" r="1.85"/><circle cx="385.2" cy="651.5" r="1.85"/><circle cx="384.7" cy="651.7" r="1.85"/><circle cx="387.6" cy="629.8" r="1.85"/><circle cx="389.1" cy="640.7" r="1.85"/><circle cx="385.8" cy="632.1" r="1.85"/><circle cx="376.8" cy="645.5" r="1.85"/><circle cx="385.9" cy="649.7" r="1.85"/><circle cx="370.8" cy="644.1" r="1.85"/><circle cx="380.4" cy="644.3" r="1.85"/><circle cx="389.2" cy="651.5" r="1.85"/><circle cx="381.8" cy="647.1" r="1.85"/><circle cx="357.7" cy="637.2" r="1.85"/><circle cx="342.0" cy="644.4" r="1.85"/><circle cx="382.5" cy="631.1" r="1.85"/><circle cx="385.9" cy="640.4" r="1.85"/><circle cx="343.7" cy="650.9" r="1.85"/><circle cx="380.2" cy="644.9" r="1.85"/><circle cx="388.1" cy="616.1" r="1.85"/><circle cx="374.0" cy="652.3" r="1.85"/><circle cx="378.8" cy="629.5" r="1.85"/><circle cx="356.9" cy="651.6" r="1.85"/><circle cx="386.1" cy="650.2" r="1.85"/><circle cx="385.2" cy="650.7" r="1.85"/><circle cx="380.8" cy="644.3" r="1.85"/><circle cx="378.2" cy="645.9" r="1.85"/><circle cx="382.3" cy="637.4" r="1.85"/><circle cx="384.9" cy="652.7" r="1.85"/><circle cx="341.6" cy="648.7" r="1.85"/><circle cx="379.3" cy="646.4" r="1.85"/><circle cx="388.5" cy="651.0" r="1.85"/><circle cx="379.9" cy="652.5" r="1.85"/><circle cx="365.0" cy="640.3" r="1.85"/><circle cx="352.7" cy="648.0" r="1.85"/><circle cx="353.8" cy="649.9" r="1.85"/><circle cx="385.4" cy="648.0" r="1.85"/><circle cx="351.4" cy="627.9" r="1.85"/><circle cx="365.6" cy="648.2" r="1.85"/><circle cx="383.6" cy="644.3" r="1.85"/><circle cx="387.8" cy="649.9" r="1.85"/><circle cx="371.7" cy="648.4" r="1.85"/><circle cx="366.9" cy="652.1" r="1.85"/><circle cx="371.9" cy="646.2" r="1.85"/><circle cx="389.7" cy="645.7" r="1.85"/><circle cx="350.8" cy="650.2" r="1.85"/><circle cx="386.5" cy="619.3" r="1.85"/><circle cx="387.2" cy="624.7" r="1.85"/><circle cx="387.0" cy="637.5" r="1.85"/><circle cx="363.7" cy="650.4" r="1.85"/><circle cx="371.5" cy="643.1" r="1.85"/><circle cx="381.9" cy="645.5" r="1.85"/><circle cx="378.4" cy="636.1" r="1.85"/><circle cx="382.3" cy="650.3" r="1.85"/><circle cx="386.4" cy="643.9" r="1.85"/><circle cx="384.5" cy="630.6" r="1.85"/><circle cx="380.4" cy="633.9" r="1.85"/><circle cx="384.3" cy="648.7" r="1.85"/><circle cx="387.8" cy="610.4" r="1.85"/><circle cx="375.9" cy="643.6" r="1.85"/><circle cx="384.9" cy="612.6" r="1.85"/><circle cx="375.0" cy="650.9" r="1.85"/><circle cx="383.7" cy="646.3" r="1.85"/><circle cx="389.2" cy="643.6" r="1.85"/><circle cx="384.5" cy="625.6" r="1.85"/><circle cx="382.9" cy="641.3" r="1.85"/><circle cx="349.7" cy="651.9" r="1.85"/><circle cx="376.4" cy="646.6" r="1.85"/><circle cx="383.4" cy="641.0" r="1.85"/><circle cx="387.4" cy="647.5" r="1.85"/><circle cx="374.2" cy="644.4" r="1.85"/><circle cx="372.2" cy="641.8" r="1.85"/><circle cx="383.3" cy="652.6" r="1.85"/><circle cx="386.2" cy="637.6" r="1.85"/><circle cx="355.3" cy="651.4" r="1.85"/><circle cx="387.9" cy="649.4" r="1.85"/><circle cx="384.3" cy="639.3" r="1.85"/><circle cx="389.1" cy="652.5" r="1.85"/><circle cx="356.7" cy="644.2" r="1.85"/><circle cx="376.2" cy="643.8" r="1.85"/><circle cx="381.0" cy="652.6" r="1.85"/><circle cx="372.0" cy="643.4" r="1.85"/><circle cx="379.0" cy="643.7" r="1.85"/><circle cx="359.3" cy="649.6" r="1.85"/><circle cx="385.6" cy="644.9" r="1.85"/><circle cx="388.7" cy="650.5" r="1.85"/><circle cx="385.2" cy="623.7" r="1.85"/><circle cx="366.7" cy="650.2" r="1.85"/><circle cx="379.5" cy="652.5" r="1.85"/><circle cx="382.6" cy="616.7" r="1.85"/><circle cx="389.7" cy="639.8" r="1.85"/><circle cx="385.6" cy="616.3" r="1.85"/><circle cx="356.6" cy="647.5" r="1.85"/><circle cx="377.0" cy="633.8" r="1.85"/><circle cx="379.9" cy="652.0" r="1.85"/><circle cx="375.8" cy="644.9" r="1.85"/><circle cx="387.6" cy="640.6" r="1.85"/><circle cx="349.2" cy="639.4" r="1.85"/><circle cx="380.4" cy="652.3" r="1.85"/><circle cx="377.8" cy="649.0" r="1.85"/><circle cx="389.1" cy="642.1" r="1.85"/><circle cx="387.0" cy="652.5" r="1.85"/><circle cx="381.8" cy="606.3" r="1.85"/><circle cx="387.8" cy="629.1" r="1.85"/><circle cx="389.4" cy="638.5" r="1.85"/><circle cx="384.1" cy="612.4" r="1.85"/><circle cx="383.9" cy="625.7" r="1.85"/><circle cx="371.6" cy="647.6" r="1.85"/><circle cx="386.6" cy="652.5" r="1.85"/><circle cx="386.5" cy="651.9" r="1.85"/><circle cx="363.5" cy="645.2" r="1.85"/><circle cx="373.0" cy="636.7" r="1.85"/><circle cx="382.7" cy="627.3" r="1.85"/><circle cx="378.4" cy="652.8" r="1.85"/><circle cx="348.3" cy="646.0" r="1.85"/><circle cx="363.5" cy="649.5" r="1.85"/><circle cx="379.3" cy="649.8" r="1.85"/><circle cx="369.6" cy="633.6" r="1.85"/><circle cx="386.3" cy="646.4" r="1.85"/><circle cx="372.8" cy="652.2" r="1.85"/><circle cx="385.6" cy="631.5" r="1.85"/><circle cx="387.1" cy="652.0" r="1.85"/><circle cx="388.0" cy="639.2" r="1.85"/><circle cx="386.2" cy="649.7" r="1.85"/><circle cx="361.9" cy="651.6" r="1.85"/><circle cx="351.1" cy="634.7" r="1.85"/><circle cx="374.0" cy="634.7" r="1.85"/><circle cx="388.8" cy="644.1" r="1.85"/><circle cx="377.6" cy="650.2" r="1.85"/><circle cx="381.9" cy="647.3" r="1.85"/><circle cx="377.6" cy="647.4" r="1.85"/><circle cx="377.3" cy="647.8" r="1.85"/><circle cx="366.0" cy="642.6" r="1.85"/><circle cx="354.2" cy="647.5" r="1.85"/><circle cx="377.2" cy="614.9" r="1.85"/><circle cx="388.9" cy="643.0" r="1.85"/><circle cx="376.9" cy="645.4" r="1.85"/><circle cx="380.9" cy="640.2" r="1.85"/><circle cx="359.1" cy="649.9" r="1.85"/><circle cx="374.5" cy="648.8" r="1.85"/><circle cx="377.0" cy="635.6" r="1.85"/><circle cx="345.7" cy="650.8" r="1.85"/><circle cx="364.5" cy="642.6" r="1.85"/><circle cx="350.1" cy="648.8" r="1.85"/><circle cx="376.3" cy="652.4" r="1.85"/><circle cx="380.5" cy="647.2" r="1.85"/><circle cx="374.9" cy="625.8" r="1.85"/><circle cx="385.2" cy="630.9" r="1.85"/><circle cx="385.2" cy="615.8" r="1.85"/><circle cx="366.4" cy="648.5" r="1.85"/><circle cx="385.3" cy="639.6" r="1.85"/><circle cx="371.1" cy="652.6" r="1.85"/><circle cx="367.5" cy="649.0" r="1.85"/><circle cx="374.3" cy="650.2" r="1.85"/><circle cx="384.8" cy="648.1" r="1.85"/><circle cx="387.3" cy="624.7" r="1.85"/><circle cx="381.1" cy="649.2" r="1.85"/><circle cx="380.0" cy="620.5" r="1.85"/><circle cx="386.2" cy="633.1" r="1.85"/><circle cx="357.7" cy="625.6" r="1.85"/><circle cx="373.2" cy="644.6" r="1.85"/><circle cx="378.4" cy="649.8" r="1.85"/><circle cx="387.3" cy="650.5" r="1.85"/><circle cx="387.0" cy="648.8" r="1.85"/><circle cx="389.7" cy="643.3" r="1.85"/><circle cx="386.8" cy="644.9" r="1.85"/><circle cx="359.6" cy="645.8" r="1.85"/><circle cx="360.6" cy="652.4" r="1.85"/><circle cx="369.7" cy="649.2" r="1.85"/><circle cx="379.0" cy="651.7" r="1.85"/><circle cx="387.7" cy="651.7" r="1.85"/><circle cx="372.6" cy="650.2" r="1.85"/><circle cx="356.8" cy="652.0" r="1.85"/><circle cx="354.8" cy="652.3" r="1.85"/><circle cx="377.5" cy="651.9" r="1.85"/><circle cx="349.1" cy="652.1" r="1.85"/><circle cx="369.1" cy="651.1" r="1.85"/><circle cx="379.1" cy="651.3" r="1.85"/><circle cx="389.0" cy="652.0" r="1.85"/><circle cx="347.0" cy="652.3" r="1.85"/><circle cx="354.5" cy="651.8" r="1.85"/><circle cx="365.7" cy="652.0" r="1.85"/><circle cx="381.1" cy="652.4" r="1.85"/><circle cx="362.5" cy="652.0" r="1.85"/><circle cx="377.5" cy="652.6" r="1.85"/><circle cx="356.6" cy="652.0" r="1.85"/><circle cx="370.7" cy="652.5" r="1.85"/><circle cx="373.0" cy="652.6" r="1.85"/><circle cx="365.7" cy="652.2" r="1.85"/><circle cx="346.5" cy="652.5" r="1.85"/><circle cx="361.6" cy="650.7" r="1.85"/><circle cx="371.9" cy="651.5" r="1.85"/><circle cx="345.6" cy="652.8" r="1.85"/><circle cx="384.3" cy="651.9" r="1.85"/><circle cx="366.4" cy="652.4" r="1.85"/><circle cx="386.2" cy="652.6" r="1.85"/><circle cx="387.9" cy="652.3" r="1.85"/><circle cx="368.6" cy="649.2" r="1.85"/><circle cx="365.1" cy="652.2" r="1.85"/><circle cx="382.3" cy="651.9" r="1.85"/><circle cx="375.1" cy="652.4" r="1.85"/><circle cx="387.8" cy="651.9" r="1.85"/><circle cx="377.2" cy="652.2" r="1.85"/><circle cx="382.2" cy="652.6" r="1.85"/><circle cx="389.2" cy="652.5" r="1.85"/><circle cx="385.7" cy="650.4" r="1.85"/><circle cx="371.8" cy="652.0" r="1.85"/><circle cx="385.1" cy="652.1" r="1.85"/><circle cx="372.5" cy="650.8" r="1.85"/><circle cx="386.5" cy="652.7" r="1.85"/><circle cx="361.9" cy="651.8" r="1.85"/><circle cx="374.2" cy="652.3" r="1.85"/><circle cx="366.7" cy="652.8" r="1.85"/><circle cx="357.5" cy="652.6" r="1.85"/><circle cx="389.4" cy="651.9" r="1.85"/><circle cx="378.8" cy="652.6" r="1.85"/><circle cx="385.4" cy="652.3" r="1.85"/><circle cx="356.8" cy="652.4" r="1.85"/><circle cx="382.1" cy="651.9" r="1.85"/><circle cx="352.2" cy="651.6" r="1.85"/><circle cx="380.7" cy="652.1" r="1.85"/><circle cx="381.7" cy="651.0" r="1.85"/><circle cx="387.6" cy="650.9" r="1.85"/><circle cx="367.0" cy="651.3" r="1.85"/><circle cx="385.6" cy="652.6" r="1.85"/><circle cx="358.6" cy="652.4" r="1.85"/><circle cx="345.8" cy="652.0" r="1.85"/><circle cx="373.0" cy="651.5" r="1.85"/><circle cx="384.6" cy="652.7" r="1.85"/><circle cx="381.3" cy="652.7" r="1.85"/><circle cx="378.7" cy="652.4" r="1.85"/><circle cx="371.8" cy="652.2" r="1.85"/><circle cx="382.2" cy="651.4" r="1.85"/><circle cx="376.3" cy="652.0" r="1.85"/><circle cx="361.5" cy="652.7" r="1.85"/><circle cx="389.5" cy="652.3" r="1.85"/><circle cx="379.0" cy="650.2" r="1.85"/><circle cx="370.6" cy="652.5" r="1.85"/><circle cx="361.6" cy="651.7" r="1.85"/><circle cx="353.2" cy="652.6" r="1.85"/><circle cx="360.5" cy="652.0" r="1.85"/><circle cx="354.5" cy="651.7" r="1.85"/><circle cx="385.7" cy="652.5" r="1.85"/><circle cx="377.5" cy="649.9" r="1.85"/><circle cx="378.6" cy="652.1" r="1.85"/><circle cx="367.4" cy="652.2" r="1.85"/><circle cx="386.6" cy="652.7" r="1.85"/><circle cx="382.3" cy="652.7" r="1.85"/><circle cx="357.7" cy="651.9" r="1.85"/><circle cx="387.4" cy="652.0" r="1.85"/><circle cx="383.9" cy="652.4" r="1.85"/><circle cx="389.3" cy="652.6" r="1.85"/><circle cx="377.4" cy="652.7" r="1.85"/><circle cx="367.5" cy="651.6" r="1.85"/><circle cx="374.7" cy="651.3" r="1.85"/><circle cx="371.5" cy="652.7" r="1.85"/><circle cx="378.6" cy="652.4" r="1.85"/><circle cx="362.4" cy="652.7" r="1.85"/><circle cx="379.6" cy="652.7" r="1.85"/><circle cx="368.1" cy="652.4" r="1.85"/><circle cx="388.7" cy="651.3" r="1.85"/><circle cx="388.8" cy="652.5" r="1.85"/><circle cx="376.8" cy="651.8" r="1.85"/><circle cx="387.4" cy="650.2" r="1.85"/><circle cx="364.1" cy="650.7" r="1.85"/><circle cx="382.8" cy="651.1" r="1.85"/><circle cx="353.2" cy="652.1" r="1.85"/><circle cx="382.8" cy="652.2" r="1.85"/><circle cx="386.2" cy="652.1" r="1.85"/><circle cx="386.5" cy="651.8" r="1.85"/><circle cx="388.9" cy="651.3" r="1.85"/><circle cx="374.7" cy="652.7" r="1.85"/><circle cx="378.4" cy="652.1" r="1.85"/><circle cx="364.4" cy="651.8" r="1.85"/><circle cx="382.1" cy="649.6" r="1.85"/><circle cx="369.3" cy="652.7" r="1.85"/><circle cx="385.2" cy="652.0" r="1.85"/><circle cx="389.0" cy="652.7" r="1.85"/><circle cx="373.5" cy="652.5" r="1.85"/><circle cx="388.3" cy="651.6" r="1.85"/><circle cx="372.1" cy="652.0" r="1.85"/><circle cx="358.9" cy="651.4" r="1.85"/><circle cx="304.5" cy="521.9" r="1.85"/><circle cx="335.5" cy="521.9" r="1.85"/><circle cx="357.3" cy="521.9" r="1.85"/><circle cx="359.8" cy="521.9" r="1.85"/><circle cx="362.3" cy="521.9" r="1.85"/><circle cx="379.1" cy="543.0" r="1.85"/><circle cx="375.3" cy="567.4" r="1.85"/><circle cx="376.7" cy="577.9" r="1.85"/><circle cx="375.5" cy="579.3" r="1.85"/><circle cx="382.6" cy="579.7" r="1.85"/><circle cx="376.1" cy="588.4" r="1.85"/><circle cx="383.4" cy="584.2" r="1.85"/><circle cx="352.0" cy="592.3" r="1.85"/><circle cx="330.2" cy="609.7" r="1.85"/><circle cx="362.1" cy="605.4" r="1.85"/><circle cx="360.1" cy="614.1" r="1.85"/><circle cx="370.8" cy="609.7" r="1.85"/><circle cx="377.1" cy="599.8" r="1.85"/><circle cx="380.0" cy="597.8" r="1.85"/><circle cx="311.8" cy="628.3" r="1.85"/><circle cx="333.0" cy="631.1" r="1.85"/><circle cx="360.3" cy="628.1" r="1.85"/><circle cx="370.2" cy="617.3" r="1.85"/><circle cx="372.7" cy="613.7" r="1.85"/><circle cx="370.8" cy="626.6" r="1.85"/><circle cx="377.1" cy="621.6" r="1.85"/><circle cx="379.0" cy="626.0" r="1.85"/><circle cx="340.1" cy="640.0" r="1.85"/><circle cx="346.4" cy="640.0" r="1.85"/><circle cx="335.5" cy="643.6" r="1.85"/><circle cx="340.5" cy="643.6" r="1.85"/><circle cx="331.2" cy="649.5" r="1.85"/><circle cx="328.6" cy="652.9" r="1.85"/><circle cx="360.3" cy="637.4" r="1.85"/><circle cx="364.2" cy="633.5" r="1.85"/></g>
<g fill="#f1c038" fill-opacity="0.62"><circle cx="408.4" cy="649.0" r="1.85"/><circle cx="407.2" cy="652.1" r="1.85"/><circle cx="407.7" cy="650.5" r="1.85"/><circle cx="409.7" cy="625.2" r="1.85"/><circle cx="406.1" cy="646.4" r="1.85"/><circle cx="406.4" cy="651.0" r="1.85"/><circle cx="406.5" cy="645.8" r="1.85"/><circle cx="408.2" cy="649.0" r="1.85"/><circle cx="406.8" cy="644.2" r="1.85"/><circle cx="406.6" cy="643.0" r="1.85"/><circle cx="408.9" cy="650.2" r="1.85"/><circle cx="407.4" cy="645.8" r="1.85"/><circle cx="407.4" cy="644.6" r="1.85"/><circle cx="406.3" cy="632.5" r="1.85"/><circle cx="411.2" cy="647.5" r="1.85"/><circle cx="407.1" cy="650.7" r="1.85"/><circle cx="406.8" cy="641.2" r="1.85"/><circle cx="407.7" cy="628.4" r="1.85"/><circle cx="408.8" cy="631.5" r="1.85"/><circle cx="409.5" cy="650.1" r="1.85"/><circle cx="410.8" cy="647.9" r="1.85"/><circle cx="408.6" cy="630.9" r="1.85"/><circle cx="407.0" cy="640.7" r="1.85"/><circle cx="409.2" cy="652.2" r="1.85"/><circle cx="412.0" cy="647.2" r="1.85"/><circle cx="409.1" cy="650.5" r="1.85"/><circle cx="406.1" cy="645.7" r="1.85"/><circle cx="406.4" cy="652.6" r="1.85"/><circle cx="407.3" cy="647.8" r="1.85"/><circle cx="407.8" cy="651.9" r="1.85"/><circle cx="412.2" cy="626.5" r="1.85"/><circle cx="407.1" cy="641.7" r="1.85"/><circle cx="406.0" cy="624.8" r="1.85"/><circle cx="408.6" cy="621.6" r="1.85"/><circle cx="408.1" cy="648.5" r="1.85"/><circle cx="408.7" cy="648.0" r="1.85"/><circle cx="406.7" cy="651.3" r="1.85"/><circle cx="408.4" cy="651.2" r="1.85"/><circle cx="407.9" cy="652.4" r="1.85"/><circle cx="412.6" cy="626.4" r="1.85"/><circle cx="406.3" cy="652.2" r="1.85"/><circle cx="414.3" cy="633.1" r="1.85"/><circle cx="415.2" cy="646.7" r="1.85"/><circle cx="405.9" cy="637.1" r="1.85"/><circle cx="407.7" cy="637.5" r="1.85"/><circle cx="410.9" cy="648.6" r="1.85"/><circle cx="406.2" cy="627.8" r="1.85"/><circle cx="410.5" cy="649.8" r="1.85"/><circle cx="411.7" cy="648.6" r="1.85"/><circle cx="418.8" cy="639.0" r="1.85"/><circle cx="414.6" cy="628.4" r="1.85"/><circle cx="421.4" cy="629.6" r="1.85"/><circle cx="412.4" cy="635.6" r="1.85"/><circle cx="408.1" cy="635.5" r="1.85"/><circle cx="410.3" cy="642.7" r="1.85"/><circle cx="433.6" cy="645.9" r="1.85"/><circle cx="406.1" cy="649.6" r="1.85"/><circle cx="409.8" cy="650.9" r="1.85"/><circle cx="419.1" cy="647.1" r="1.85"/><circle cx="419.9" cy="649.3" r="1.85"/><circle cx="415.1" cy="650.1" r="1.85"/><circle cx="408.4" cy="648.7" r="1.85"/><circle cx="424.0" cy="642.7" r="1.85"/><circle cx="417.3" cy="621.8" r="1.85"/><circle cx="408.3" cy="652.7" r="1.85"/><circle cx="419.9" cy="652.2" r="1.85"/><circle cx="429.7" cy="649.9" r="1.85"/><circle cx="430.2" cy="646.5" r="1.85"/><circle cx="436.1" cy="650.5" r="1.85"/><circle cx="432.2" cy="647.1" r="1.85"/><circle cx="425.5" cy="651.1" r="1.85"/><circle cx="414.5" cy="652.7" r="1.85"/><circle cx="407.4" cy="652.7" r="1.85"/><circle cx="419.2" cy="638.2" r="1.85"/><circle cx="413.0" cy="638.0" r="1.85"/><circle cx="409.1" cy="651.8" r="1.85"/><circle cx="417.1" cy="651.1" r="1.85"/><circle cx="432.7" cy="650.5" r="1.85"/><circle cx="424.3" cy="646.8" r="1.85"/><circle cx="415.4" cy="648.1" r="1.85"/><circle cx="435.0" cy="651.8" r="1.85"/><circle cx="413.0" cy="645.2" r="1.85"/><circle cx="408.0" cy="647.7" r="1.85"/><circle cx="407.4" cy="646.0" r="1.85"/><circle cx="413.7" cy="641.4" r="1.85"/><circle cx="422.0" cy="651.3" r="1.85"/><circle cx="419.8" cy="652.0" r="1.85"/><circle cx="411.9" cy="650.3" r="1.85"/><circle cx="427.9" cy="652.5" r="1.85"/><circle cx="408.7" cy="635.3" r="1.85"/><circle cx="406.6" cy="634.9" r="1.85"/><circle cx="406.9" cy="646.9" r="1.85"/><circle cx="417.6" cy="635.4" r="1.85"/><circle cx="422.4" cy="633.6" r="1.85"/><circle cx="417.6" cy="651.7" r="1.85"/><circle cx="421.7" cy="651.2" r="1.85"/><circle cx="426.6" cy="648.1" r="1.85"/><circle cx="407.4" cy="645.4" r="1.85"/><circle cx="406.2" cy="648.5" r="1.85"/><circle cx="416.3" cy="639.9" r="1.85"/><circle cx="410.8" cy="652.1" r="1.85"/><circle cx="427.7" cy="644.5" r="1.85"/><circle cx="421.8" cy="649.3" r="1.85"/><circle cx="407.0" cy="647.6" r="1.85"/><circle cx="415.4" cy="647.5" r="1.85"/><circle cx="412.0" cy="647.8" r="1.85"/><circle cx="409.5" cy="639.7" r="1.85"/><circle cx="411.1" cy="650.5" r="1.85"/><circle cx="433.8" cy="649.3" r="1.85"/><circle cx="411.4" cy="652.7" r="1.85"/><circle cx="415.4" cy="650.2" r="1.85"/><circle cx="428.0" cy="642.1" r="1.85"/><circle cx="413.0" cy="637.1" r="1.85"/><circle cx="409.6" cy="643.1" r="1.85"/><circle cx="424.9" cy="652.2" r="1.85"/><circle cx="412.1" cy="652.3" r="1.85"/><circle cx="417.7" cy="650.8" r="1.85"/><circle cx="418.0" cy="652.5" r="1.85"/><circle cx="406.1" cy="652.7" r="1.85"/><circle cx="408.0" cy="652.6" r="1.85"/><circle cx="408.1" cy="652.1" r="1.85"/><circle cx="410.4" cy="652.7" r="1.85"/><circle cx="431.2" cy="652.7" r="1.85"/><circle cx="409.3" cy="652.0" r="1.85"/><circle cx="416.5" cy="650.3" r="1.85"/><circle cx="418.5" cy="651.2" r="1.85"/><circle cx="431.4" cy="652.1" r="1.85"/><circle cx="416.7" cy="649.1" r="1.85"/><circle cx="419.7" cy="652.6" r="1.85"/><circle cx="408.9" cy="652.6" r="1.85"/><circle cx="409.3" cy="651.8" r="1.85"/><circle cx="435.4" cy="652.7" r="1.85"/><circle cx="410.1" cy="652.7" r="1.85"/><circle cx="406.8" cy="652.1" r="1.85"/><circle cx="412.9" cy="652.5" r="1.85"/><circle cx="415.3" cy="652.7" r="1.85"/><circle cx="406.5" cy="652.0" r="1.85"/><circle cx="406.5" cy="652.2" r="1.85"/><circle cx="421.8" cy="652.4" r="1.85"/><circle cx="412.5" cy="652.3" r="1.85"/><circle cx="417.9" cy="651.2" r="1.85"/><circle cx="423.4" cy="652.0" r="1.85"/><circle cx="432.8" cy="651.4" r="1.85"/><circle cx="409.1" cy="651.8" r="1.85"/><circle cx="407.2" cy="650.8" r="1.85"/><circle cx="408.6" cy="652.7" r="1.85"/><circle cx="412.5" cy="651.7" r="1.85"/><circle cx="406.0" cy="652.4" r="1.85"/><circle cx="406.4" cy="651.1" r="1.85"/><circle cx="423.9" cy="652.2" r="1.85"/><circle cx="406.3" cy="652.7" r="1.85"/><circle cx="407.9" cy="651.9" r="1.85"/><circle cx="408.6" cy="652.4" r="1.85"/><circle cx="420.1" cy="652.5" r="1.85"/><circle cx="427.4" cy="521.8" r="1.85"/><circle cx="445.2" cy="521.8" r="1.85"/><circle cx="452.0" cy="521.8" r="1.85"/><circle cx="421.4" cy="556.8" r="1.85"/><circle cx="413.0" cy="589.0" r="1.85"/><circle cx="420.0" cy="589.0" r="1.85"/><circle cx="422.0" cy="588.0" r="1.85"/><circle cx="413.6" cy="594.0" r="1.85"/><circle cx="429.0" cy="593.0" r="1.85"/><circle cx="418.0" cy="600.0" r="1.85"/><circle cx="410.0" cy="603.4" r="1.85"/><circle cx="415.6" cy="611.0" r="1.85"/><circle cx="406.0" cy="614.0" r="1.85"/><circle cx="464.0" cy="618.2" r="1.85"/><circle cx="444.4" cy="620.4" r="1.85"/><circle cx="410.0" cy="618.0" r="1.85"/><circle cx="419.0" cy="619.0" r="1.85"/><circle cx="415.0" cy="622.0" r="1.85"/><circle cx="421.0" cy="626.0" r="1.85"/><circle cx="435.4" cy="630.6" r="1.85"/><circle cx="428.6" cy="634.0" r="1.85"/><circle cx="428.0" cy="637.4" r="1.85"/><circle cx="444.0" cy="639.0" r="1.85"/><circle cx="447.0" cy="639.0" r="1.85"/><circle cx="454.6" cy="642.8" r="1.85"/><circle cx="438.0" cy="644.8" r="1.85"/><circle cx="431.0" cy="650.6" r="1.85"/><circle cx="442.0" cy="652.0" r="1.85"/><circle cx="437.0" cy="653.6" r="1.85"/></g>
<line x1="389.7" y1="515.2" x2="389.7" y2="660.2" stroke="#2a2a2a" stroke-width="0.55" stroke-dasharray="1.5 1.5"/><line x1="405.9" y1="515.2" x2="405.9" y2="660.2" stroke="#2a2a2a" stroke-width="0.55" stroke-dasharray="1.5 1.5"/><line x1="296.4" y1="653.1" x2="472.5" y2="653.1" stroke="#2a2a2a" stroke-width="0.65" stroke-dasharray="1.5 1.45"/>
<g fill="#000"><circle cx="347.6" cy="521.9" r="1.95"/><circle cx="371.0" cy="521.9" r="1.95"/><circle cx="380.5" cy="584.8" r="1.95"/><circle cx="347.2" cy="628.9" r="1.95"/><circle cx="385.6" cy="615.0" r="1.95"/><circle cx="392.0" cy="646.2" r="1.95"/><circle cx="388.0" cy="649.8" r="1.95"/><circle cx="397.2" cy="653.8" r="1.95"/></g>
<line x1="347.2" y1="624.2" x2="347.2" y2="627.0" stroke="#3a3a3a" stroke-width="0.5"/><line x1="381.2" y1="583.4" x2="382.6" y2="580.5" stroke="#3a3a3a" stroke-width="0.5"/><line x1="382.0" y1="652.8" x2="386.5" y2="651.0" stroke="#3a3a3a" stroke-width="0.5"/><line x1="392.6" y1="644.8" x2="393.8" y2="642.5" stroke="#3a3a3a" stroke-width="0.5"/></g>
<rect x="296.4" y="515.2" width="176.1" height="145.0" fill="none" stroke="#8e8e8e" stroke-width="0.75"/>
<line x1="293.4" y1="653.4" x2="296.4" y2="653.4" stroke="#666" stroke-width="0.6"/><text x="290.8" y="655.6" font-size="6.3" text-anchor="end" fill="#333">0</text><line x1="293.4" y1="608.0" x2="296.4" y2="608.0" stroke="#666" stroke-width="0.6"/><text x="290.8" y="610.2" font-size="6.3" text-anchor="end" fill="#333">100</text><line x1="293.4" y1="562.6" x2="296.4" y2="562.6" stroke="#666" stroke-width="0.6"/><text x="290.8" y="564.8" font-size="6.3" text-anchor="end" fill="#333">200</text><line x1="293.4" y1="517.2" x2="296.4" y2="517.2" stroke="#666" stroke-width="0.6"/><text x="290.8" y="519.4" font-size="6.3" text-anchor="end" fill="#333">300</text><line x1="317.0" y1="660.2" x2="317.0" y2="663.2" stroke="#666" stroke-width="0.6"/><text x="316.2" y="671.6" font-size="6.3" text-anchor="middle" fill="#333">-10</text><line x1="357.4" y1="660.2" x2="357.4" y2="663.2" stroke="#666" stroke-width="0.6"/><text x="356.6" y="671.6" font-size="6.3" text-anchor="middle" fill="#333">-5</text><line x1="397.8" y1="660.2" x2="397.8" y2="663.2" stroke="#666" stroke-width="0.6"/><text x="397.8" y="671.6" font-size="6.3" text-anchor="middle" fill="#333">0</text><line x1="438.2" y1="660.2" x2="438.2" y2="663.2" stroke="#666" stroke-width="0.6"/><text x="438.2" y="671.6" font-size="6.3" text-anchor="middle" fill="#333">5</text>
<text x="355.2" y="683.0" font-size="7.20" textLength="58.4" lengthAdjust="spacingAndGlyphs">log<tspan font-size="4.6" dy="1.6">2</tspan><tspan dy="-1.6">&#8203;</tspan>(fold change)</text>
<g transform="translate(271.4 587.7) rotate(-90)"><text x="-17.6" y="0.0" font-size="7.20" textLength="35.2" lengthAdjust="spacingAndGlyphs">-log<tspan font-size="4.6" dy="1.6">10</tspan><tspan dy="-1.6">&#8203;</tspan>(<tspan font-style="italic">P</tspan><tspan font-size="4.6" dy="1.6">adj</tspan><tspan dy="-1.6">&#8203;</tspan>)</text>
</g>
<text x="351.8" y="524.0" font-size="5.80" textLength="13.4" lengthAdjust="spacingAndGlyphs" fill="#707070">HYR1</text>
<text x="375.1" y="524.0" font-size="5.80" textLength="14.3" lengthAdjust="spacingAndGlyphs" fill="#707070">ALS3</text>
<text x="382.4" y="580.7" font-size="5.80" textLength="12.0" lengthAdjust="spacingAndGlyphs" fill="#707070">IHD1</text>
<text x="348.4" y="624.7" font-size="5.80" textLength="13.3" lengthAdjust="spacingAndGlyphs" fill="#707070">ECE1</text>
<text x="386.4" y="610.5" font-size="5.80" textLength="16.6" lengthAdjust="spacingAndGlyphs" fill="#707070">WOR3</text>
<text x="393.0" y="641.3" font-size="5.80" textLength="14.0" lengthAdjust="spacingAndGlyphs" fill="#707070">HWP1</text>
<text x="368.2" y="656.8" font-size="5.80" textLength="12.8" lengthAdjust="spacingAndGlyphs" fill="#707070">BRG1</text>
<text x="401.0" y="656.7" font-size="5.80" textLength="15.0" lengthAdjust="spacingAndGlyphs" fill="#707070">HGC1</text>
</g>
<text x="134.2" y="306.6" font-size="7.20" textLength="47.4" lengthAdjust="spacingAndGlyphs"><tspan font-style="italic">efg1</tspan>Δ/Δ vs WT</text>
<text x="319.9" y="306.8" font-size="7.20" textLength="133.4" lengthAdjust="spacingAndGlyphs"><tspan font-style="italic">efg1</tspan>Δ/Δ overexpressing <tspan font-style="italic">UME6</tspan> vs <tspan font-style="italic">efg1</tspan>Δ/Δ</text>
<text x="107.4" y="502.2" font-size="7.20" textLength="101.0" lengthAdjust="spacingAndGlyphs"><tspan font-style="italic">efg1</tspan>Δ/Δ overexpressing <tspan font-style="italic">UME6</tspan></text>
<text x="148.4" y="510.5" font-size="7.20" textLength="19.2" lengthAdjust="spacingAndGlyphs">vs WT</text>
<text x="335.0" y="502.0" font-size="7.20" textLength="100.0" lengthAdjust="spacingAndGlyphs"><tspan font-style="italic">efg1</tspan>Δ/Δ overexpressing <tspan font-style="italic">UME6</tspan></text>
<text x="337.8" y="510.4" font-size="7.20" textLength="93.9" lengthAdjust="spacingAndGlyphs">vs WT overexpressing <tspan font-style="italic">UME6</tspan></text>
<text transform="translate(-0.4 5.9) scale(1.13 1)" font-size="11.3" font-weight="bold" fill="#000">a</text>
<text transform="translate(-0.3 122.9) scale(1.13 1)" font-size="11.3" font-weight="bold" fill="#000">b</text>
<text transform="translate(-0.2 306.8) scale(1.13 1)" font-size="11.3" font-weight="bold" fill="#000">c</text>
<text x="157.2" y="14.9" font-size="7.20" textLength="10.1" lengthAdjust="spacingAndGlyphs">WT</text>
<text x="207.7" y="14.9" font-size="7.20" textLength="26.3" lengthAdjust="spacingAndGlyphs"><tspan font-style="italic">efg1</tspan>Δ/Δ</text>
<text x="263.1" y="14.6" font-size="7.20" textLength="37.4" lengthAdjust="spacingAndGlyphs"><tspan font-style="italic">P</tspan><tspan font-size="4.6" dy="1.6" font-style="italic">RBT5</tspan><tspan dy="-1.6">&#8203;</tspan>-<tspan font-style="italic">UME6</tspan></text>
<text x="327.0" y="7.0" font-size="7.20" textLength="27.1" lengthAdjust="spacingAndGlyphs"><tspan font-style="italic">efg1</tspan>Δ/Δ</text>
<text x="321.5" y="14.4" font-size="7.20" textLength="37.6" lengthAdjust="spacingAndGlyphs"><tspan font-style="italic">P</tspan><tspan font-size="4.6" dy="1.6" font-style="italic">RBT5</tspan><tspan dy="-1.6">&#8203;</tspan>-<tspan font-style="italic">UME6</tspan></text>
<text x="96.0" y="37.2" font-size="7.20" textLength="31.3" lengthAdjust="spacingAndGlyphs">Ume6-HA</text>
<text x="91.9" y="82.0" font-size="7.20" textLength="35.4" lengthAdjust="spacingAndGlyphs">Ponceau S</text>
<text x="96.6" y="89.3" font-size="7.20" textLength="26.3" lengthAdjust="spacingAndGlyphs">staining</text>
<text x="373.2" y="51.6" font-size="6.00" textLength="23.6" lengthAdjust="spacingAndGlyphs">100 kDa</text>
<text x="98.0" y="122.1" font-size="7.20" textLength="10.1" lengthAdjust="spacingAndGlyphs">WT</text>
<text x="191.0" y="121.9" font-size="7.20" textLength="37.6" lengthAdjust="spacingAndGlyphs"><tspan font-style="italic">P</tspan><tspan font-size="4.6" dy="1.6" font-style="italic">RBT5</tspan><tspan dy="-1.6">&#8203;</tspan>-<tspan font-style="italic">UME6</tspan></text>
<text x="303.4" y="121.9" font-size="7.20" textLength="25.9" lengthAdjust="spacingAndGlyphs"><tspan font-style="italic">efg1</tspan>Δ/Δ</text>
<text x="390.0" y="121.7" font-size="7.20" textLength="65.7" lengthAdjust="spacingAndGlyphs"><tspan font-style="italic">efg1</tspan>Δ/Δ <tspan font-style="italic">P</tspan><tspan font-size="4.6" dy="1.6" font-style="italic">RBT5</tspan><tspan dy="-1.6">&#8203;</tspan>-<tspan font-style="italic">UME6</tspan></text>
<text x="0.4" y="170.7" font-size="7.20" textLength="45.0" lengthAdjust="spacingAndGlyphs">Filamentation</text>
<text x="16.0" y="246.9" font-size="7.20" textLength="23.0" lengthAdjust="spacingAndGlyphs">Biofilm</text>
<text x="10.0" y="255.3" font-size="7.20" textLength="35.4" lengthAdjust="spacingAndGlyphs">(side view)</text>
<circle cx="245.5" cy="482.1" r="1.9" fill="#2f86d0" fill-opacity="0.72"/>
<circle cx="245.5" cy="493.3" r="1.9" fill="#eeb928" fill-opacity="0.68"/>
<text x="252.2" y="484.7" font-size="7.20" textLength="49.3" lengthAdjust="spacingAndGlyphs">Downregulated</text>
<text x="252.2" y="495.9" font-size="7.20" textLength="40.8" lengthAdjust="spacingAndGlyphs">Upregulated</text>
</svg>
</body></html>
